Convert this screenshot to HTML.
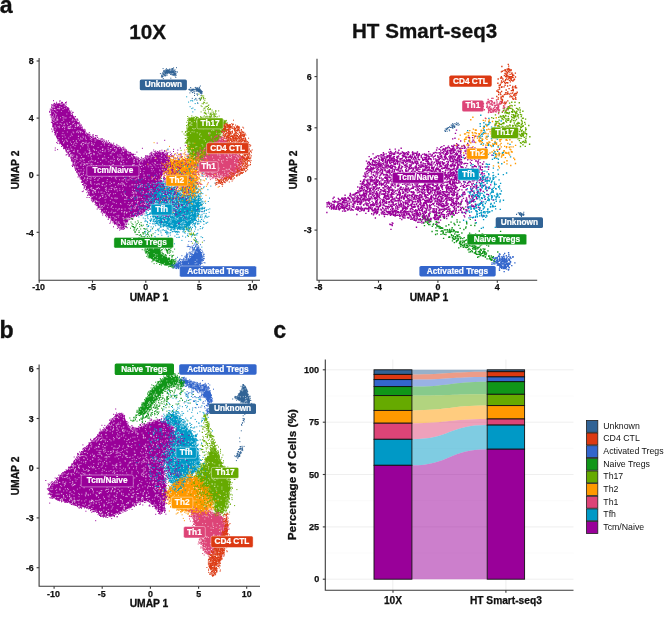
<!DOCTYPE html>
<html><head><meta charset="utf-8"><title>UMAP figure</title>
<style>html,body{margin:0;padding:0;background:#fff}svg{display:block;font-family:"Liberation Sans",sans-serif}</style>
</head><body>
<svg width="669" height="621" viewBox="0 0 669 621" shape-rendering="auto">
<rect width="669" height="621" fill="#fff"/>
<g id="panelA1"><polygon points="51.2,110.5 51.2,109.8 51.4,109.0 51.7,108.2 52.0,107.4 52.3,106.6 52.9,105.8 53.5,105.2 54.4,104.6 55.3,104.1 56.4,103.7 57.5,103.4 58.6,103.2 59.8,103.1 60.9,103.1 62.0,103.3 63.1,103.6 64.0,104.1 65.0,104.7 66.0,105.6 66.9,106.6 67.9,107.9 68.8,109.1 69.8,110.5 70.8,111.9 71.7,113.3 72.7,114.8 73.7,116.2 74.7,117.7 75.6,119.1 76.6,120.5 77.6,121.8 78.5,123.1 79.5,124.3 80.5,125.6 81.6,126.9 82.7,128.3 83.9,129.7 85.2,131.1 86.5,132.4 87.9,133.7 89.3,134.9 90.8,136.0 92.4,136.9 94.1,137.8 95.7,138.5 97.4,139.2 99.0,139.8 100.5,140.3 101.9,140.8 103.4,141.3 104.8,141.8 106.3,142.2 107.7,142.8 109.6,143.4 111.9,144.3 114.7,145.4 117.9,146.7 120.9,148.0 123.8,149.3 126.4,150.7 128.8,152.2 131.1,153.7 133.3,155.2 135.3,156.8 137.2,158.5 139.0,159.6 140.5,160.4 141.9,160.6 143.0,160.4 144.2,160.0 145.4,159.3 146.7,158.4 147.9,157.2 149.5,156.2 151.3,155.2 153.4,154.3 155.8,153.6 158.1,153.0 160.1,152.7 161.9,152.6 163.6,152.7 165.0,153.0 166.4,153.7 167.5,154.7 168.5,155.9 169.1,157.3 169.4,158.9 169.5,160.6 169.2,162.4 168.6,164.3 167.8,166.2 166.7,168.1 165.4,170.0 164.1,172.0 162.9,174.0 161.9,176.1 160.9,178.2 160.1,180.4 159.3,182.7 158.7,185.0 158.3,187.4 157.7,189.9 157.1,192.3 156.4,194.7 155.6,197.1 154.8,199.3 153.9,201.2 153.0,202.9 152.0,204.3 151.0,205.7 149.8,207.1 148.6,208.4 147.2,209.7 145.9,210.8 144.6,211.9 143.3,212.9 142.0,213.7 140.7,214.5 139.2,215.1 137.7,215.6 136.0,216.0 134.5,216.4 133.0,216.8 131.7,217.3 130.4,217.8 129.3,218.5 128.4,219.4 127.5,220.5 126.9,221.9 126.2,223.2 125.7,224.6 125.1,225.9 124.6,227.3 124.0,228.3 123.3,228.8 122.5,229.0 121.5,228.8 120.3,228.3 119.0,227.4 117.4,226.1 115.7,224.4 113.9,222.7 112.1,220.9 110.2,219.1 108.3,217.1 106.2,215.1 104.0,212.9 101.7,210.6 99.3,208.2 97.0,205.7 94.9,203.0 92.8,200.2 90.9,197.3 89.1,194.4 87.4,191.5 85.8,188.6 84.3,185.7 82.5,182.1 80.3,177.7 77.7,172.6 74.8,166.8 72.3,162.0 70.5,158.4 69.2,155.8 68.5,154.4 67.6,152.9 66.7,151.5 65.6,150.0 64.4,148.6 63.2,147.1 62.0,145.7 60.8,144.2 59.5,142.8 58.4,141.3 57.5,139.7 56.6,138.0 55.9,136.3 55.2,134.7 54.6,133.0 54.1,131.3 53.6,129.6 53.2,127.9 52.7,126.1 52.3,124.2 52.0,122.2 51.7,120.3 51.4,118.3 51.2,116.4 51.2,114.5 51.1,112.9 51.1,111.5" fill="#990099"/>
<polygon points="158.9,186.5 160.3,185.3 161.6,184.5 162.9,184.2 164.2,184.4 165.4,185.0 166.7,185.6 168.1,186.2 169.6,186.8 171.2,187.4 172.8,188.2 174.3,189.1 175.8,190.1 177.2,191.3 178.7,192.4 180.3,193.3 182.0,194.0 183.8,194.6 185.7,195.1 187.6,195.3 189.5,195.3 191.6,195.1 193.4,195.0 195.0,195.1 196.4,195.4 197.6,195.8 198.6,196.5 199.4,197.5 199.9,198.8 200.2,200.4 200.4,202.2 200.4,204.2 200.2,206.4 199.9,208.8 199.4,211.2 198.7,213.4 197.9,215.5 196.9,217.5 195.7,219.4 194.4,221.1 193.0,222.6 191.4,224.0 189.6,225.3 187.7,226.4 185.6,227.4 183.4,228.2 181.1,228.7 178.8,229.0 176.5,229.1 174.0,228.9 171.7,228.5 169.4,228.0 167.1,227.4 164.9,226.6 162.8,225.5 160.9,224.3 159.2,222.9 157.5,221.3 156.1,219.5 154.9,217.5 153.9,215.3 153.1,212.9 152.5,210.2 152.2,207.4 152.1,204.4 152.2,201.2 152.6,198.3 153.2,195.7 154.0,193.3 155.1,191.3 156.3,189.5 157.5,187.9" fill="#0099C6"/>
<polygon points="171.7,161.3 173.1,160.5 174.7,160.0 176.4,159.7 178.3,159.6 180.3,159.8 182.2,159.8 184.0,159.6 185.7,159.2 187.3,158.6 188.9,158.2 190.6,158.0 192.2,158.0 193.8,158.2 195.1,158.7 196.2,159.5 196.9,160.6 197.4,162.0 197.7,163.6 197.8,165.3 197.7,167.2 197.4,169.2 197.2,171.2 196.9,173.2 196.7,175.2 196.5,177.2 196.4,179.3 196.4,181.3 196.5,183.3 196.7,185.3 196.7,187.2 196.5,188.9 196.1,190.4 195.5,191.8 194.6,192.9 193.5,193.7 192.2,194.2 190.6,194.4 188.9,194.4 187.3,194.1 185.7,193.5 184.1,192.7 182.6,191.8 181.2,190.8 179.9,189.7 178.7,188.5 177.5,187.2 176.3,185.8 175.1,184.3 173.8,182.7 172.6,181.2 171.4,179.8 170.2,178.4 169.0,177.2 168.1,175.9 167.4,174.5 166.9,173.0 166.7,171.4 166.8,169.8 167.1,168.2 167.6,166.6 168.4,165.0 169.4,163.6 170.5,162.3" fill="#FF9900"/>
<polygon points="198.8,157.1 199.2,155.9 199.9,154.7 200.8,153.6 201.9,152.5 203.1,151.5 204.4,150.3 205.8,148.9 207.2,147.4 208.8,145.6 210.1,143.9 211.4,142.3 212.5,140.8 213.5,139.2 214.6,138.0 215.9,137.0 217.2,136.2 218.8,135.8 220.1,135.7 221.2,136.1 222.1,136.9 222.9,138.1 223.7,139.4 224.6,140.8 225.5,142.2 226.5,143.8 227.8,145.3 229.4,147.0 231.4,148.8 233.6,150.7 235.5,152.4 237.1,153.9 238.3,155.2 239.2,156.3 239.9,157.5 240.4,158.8 240.7,160.2 240.8,161.8 240.8,163.2 240.7,164.6 240.4,165.9 240.1,167.1 239.5,168.3 238.8,169.4 237.8,170.5 236.7,171.5 235.4,172.5 234.0,173.4 232.4,174.3 230.6,175.2 228.8,175.9 226.9,176.6 225.0,177.1 223.0,177.4 220.9,177.6 218.6,177.5 216.2,177.2 213.8,176.8 211.4,176.1 209.1,175.4 207.0,174.5 205.0,173.5 203.2,172.4 201.8,171.3 200.5,170.1 199.5,168.9 198.8,167.4 198.2,165.8 198.0,164.0 198.0,162.0 198.1,160.2 198.4,158.6" fill="#DD4477"/>
<polygon points="188.9,118.8 189.6,118.2 191.8,118.0 195.2,118.0 203.9,118.1 217.6,118.4 224.8,119.9 225.2,122.6 225.1,125.4 224.4,128.1 223.2,130.6 221.8,132.9 220.0,135.5 218.0,138.5 215.5,141.5 212.5,144.5 209.5,147.8 206.5,151.2 203.5,154.5 200.5,157.5 198.0,159.5 196.0,160.5 194.0,160.0 192.0,158.0 190.1,154.8 188.4,150.2 187.2,145.5 186.8,140.5 186.8,135.5 187.2,130.5 187.8,125.8 188.2,121.2" fill="#66AA00"/>
<polygon points="161.2,75.1 162.0,73.1 163.2,71.3 164.8,69.7 166.6,69.1 168.7,69.5 170.7,69.5 172.7,69.1 174.2,69.7 175.3,71.3 175.9,73.3 176.0,75.7 175.5,76.7 174.3,76.3 173.1,75.5 171.9,74.3 170.5,73.7 168.9,73.7 167.2,74.3 165.6,75.5 164.1,76.4 162.7,77.1 161.7,77.1 161.1,76.4" fill="#316395"/>
<polygon points="189.4,88.7 191.8,88.7 194.2,88.4 196.6,87.9 198.8,88.2 200.6,89.3 201.8,90.6 202.4,92.2 202.5,93.5 202.1,94.6 201.3,94.6 200.1,93.5 198.6,92.6 197.0,91.8 195.2,91.3 193.2,91.0 191.3,90.8 189.5,90.4 188.5,89.9 188.3,89.1" fill="#316395"/>
<polygon points="150.5,247.1 154.6,247.1 157.6,247.4 159.5,247.9 160.3,248.7 160.0,249.7 159.9,250.7 160.1,251.7 160.6,252.6 161.4,253.4 162.2,254.2 163.0,255.0 163.9,255.7 164.9,256.4 165.9,257.1 166.9,257.8 168.0,258.4 169.2,259.0 170.3,259.6 171.4,260.1 172.4,260.6 173.5,261.1 174.2,261.8 174.5,262.6 174.5,263.6 174.1,264.8 173.4,265.7 172.4,266.1 171.2,266.3 169.6,266.0 168.1,265.7 166.6,265.4 165.0,265.0 163.6,264.5 162.1,264.1 160.6,263.5 159.1,263.0 157.6,262.4 156.1,261.7 154.8,261.1 153.4,260.4 152.2,259.6 151.0,258.8 149.9,257.9 149.0,256.9 148.1,255.8 147.3,254.7 146.6,253.6 146.0,252.4 145.5,251.3 145.1,250.2 144.8,249.4 144.6,248.6 144.5,248.0 145.4,247.6 147.4,247.3" fill="#109618"/>
<polygon points="174.5,264.5 175.9,263.9 177.4,263.3 179.0,262.8 180.7,262.2 182.5,261.7 184.3,261.1 185.9,260.3 187.5,259.5 189.0,258.6 190.3,257.7 191.5,256.6 192.5,255.5 193.4,254.3 194.3,253.0 195.0,251.7 195.7,250.3 196.3,248.8 196.9,247.8 197.5,247.3 198.1,247.4 198.7,248.0 199.3,248.8 200.0,249.9 200.7,251.2 201.4,252.7 202.0,254.1 202.5,255.4 202.8,256.7 203.0,257.9 203.1,259.0 203.0,260.1 202.8,261.0 202.5,261.9 202.1,262.8 201.6,263.7 201.1,264.6 200.5,265.5 199.7,266.3 198.8,267.0 197.8,267.5 196.6,268.0 194.8,268.3 192.4,268.5 189.4,268.6 185.8,268.6 182.8,268.6 180.2,268.4 178.2,268.1 176.7,267.7 175.4,267.3 174.4,266.9 173.7,266.5 173.1,266.0 173.1,265.6 173.5,265.1" fill="#3366CC"/>
<path d="M160.8 155.6h1M110.4 148.5h1M109.4 176.4h1M77.4 150.4h1M62.5 109.4h1M150.3 155.7h1M60.0 117.7h1M127.1 156.9h1M69.2 126.4h1M121.4 211.7h1M148.7 166.1h1M94.3 200.2h1M56.0 119.1h1M141.9 186.3h1M70.1 142.1h1M68.2 138.1h1M88.6 150.4h1M112.8 164.6h1M142.6 203.8h1M120.0 224.9h1M117.2 158.9h1M71.4 149.3h1M144.2 187.3h1M108.3 151.2h1M125.3 179.0h1M89.7 176.2h1M102.3 148.8h1M63.0 147.3h1M99.6 207.8h1M88.8 193.1h1M133.7 184.9h1M60.7 103.7h1M104.0 142.6h1M55.2 115.8h1M128.7 152.9h1M104.1 171.3h1M142.7 192.0h1M93.6 195.4h1M59.3 106.5h1M55.3 110.0h1M101.5 175.1h1M156.8 160.3h1M85.6 163.8h1M102.4 196.1h1M137.1 186.6h1M114.9 178.1h1M83.6 170.0h1M155.9 188.9h1M148.7 157.1h1M149.2 191.1h1M94.3 139.1h1M90.6 197.5h1M62.1 137.4h1M100.7 145.6h1M85.3 143.5h1M86.5 179.0h1M100.0 197.3h1M68.2 148.9h1M69.4 128.1h1M120.3 184.0h1M87.3 149.1h1M102.1 185.6h1M121.0 163.4h1M124.4 150.2h1M54.1 131.8h1M62.0 140.3h1M109.6 150.2h1M79.2 131.1h1M140.1 172.2h1M91.7 163.9h1M131.1 203.0h1M74.5 146.6h1M92.3 160.7h1M134.7 179.8h1M127.5 204.6h1M132.7 177.1h1M89.9 188.3h1M92.1 192.6h1M92.2 196.6h1M63.6 134.9h1M132.0 202.4h1M133.3 174.2h1M91.2 196.3h1M70.1 128.2h1M63.2 142.4h1M86.9 190.6h1M139.3 187.0h1M81.0 175.4h1M94.3 180.5h1M53.4 120.4h1M77.2 125.3h1M93.5 154.6h1M155.1 163.2h1M154.4 183.6h1M125.2 172.3h1M89.6 168.9h1M76.5 156.6h1M77.3 125.0h1M152.7 154.7h1M113.9 212.8h1M123.4 171.3h1M151.8 163.1h1M164.2 164.0h1M83.6 161.6h1M105.6 160.0h1M158.5 183.0h1M102.7 158.2h1M82.1 142.4h1M146.7 158.3h1M121.9 159.0h1M123.2 219.7h1M107.2 170.3h1M153.1 155.5h1M151.5 179.4h1M110.3 162.9h1M140.0 172.5h1M57.0 120.0h1M115.4 208.7h1M148.3 198.5h1M143.5 170.5h1M145.0 203.5h1M95.9 196.8h1M77.4 130.9h1M133.2 192.4h1M133.8 164.7h1M113.8 152.5h1M124.8 195.6h1M160.7 161.1h1M91.1 189.1h1M83.6 163.5h1M134.9 168.6h1M118.3 215.4h1M66.2 148.9h1M96.6 176.1h1M161.7 169.3h1M57.6 139.6h1M73.8 151.7h1M87.8 135.8h1M104.5 151.7h1M120.5 156.0h1M120.8 158.9h1M93.4 189.9h1M132.9 208.0h1M71.0 143.6h1M69.0 153.4h1M74.9 126.4h1M97.8 152.2h1M58.8 127.6h1M125.6 223.3h1M109.1 145.1h1M117.0 146.9h1M112.4 167.3h1M114.5 218.3h1M106.8 193.8h1M120.6 204.2h1M132.8 165.0h1M122.0 186.1h1M102.5 182.7h1M152.9 183.5h1M100.1 161.5h1M128.1 218.1h1M72.1 156.1h1M129.3 186.1h1M104.4 185.8h1M149.8 184.3h1M88.5 153.2h1M147.7 193.7h1M162.3 166.8h1M110.3 218.8h1M71.5 158.2h1M79.2 173.1h1M77.5 162.7h1M134.6 208.1h1M51.5 121.5h1M145.3 210.7h1M123.0 179.8h1M59.3 108.0h1M58.6 141.2h1M66.9 132.0h1M141.9 184.6h1M61.6 121.5h1M87.7 147.0h1M73.7 122.3h1M65.6 139.7h1M70.7 149.0h1M124.4 202.2h1M131.3 196.9h1M83.6 158.6h1M53.3 107.2h1M131.9 189.1h1M123.6 218.8h1M51.5 108.1h1M116.3 176.7h1M60.9 111.4h1M70.9 134.1h1M78.0 172.8h1M91.0 138.5h1M124.5 222.9h1M109.8 154.8h1M138.9 163.1h1M111.1 206.3h1M87.2 177.8h1M59.7 123.4h1M62.5 132.4h1M152.4 156.4h1M131.0 198.5h1M119.0 179.7h1M111.3 152.9h1M74.4 128.4h1M108.3 161.8h1M91.5 144.9h1M93.3 176.9h1M108.0 170.0h1M105.9 184.7h1M117.9 217.0h1M119.6 154.7h1M87.1 163.9h1M134.4 206.3h1M84.9 137.1h1M52.1 106.9h1M123.8 215.0h1M69.7 157.8h1M104.5 198.4h1M128.5 179.9h1M159.1 170.1h1M95.9 150.4h1M86.0 185.3h1M133.4 193.9h1M140.2 165.5h1M144.5 208.8h1M100.4 153.9h1M82.1 132.4h1M80.0 148.0h1M70.5 113.0h1M162.1 172.8h1M121.6 226.6h1M70.7 114.0h1M151.4 188.8h1M55.8 135.0h1M80.9 143.4h1M116.8 191.0h1M89.5 152.1h1M94.0 150.4h1M102.4 149.2h1M130.6 207.5h1M131.6 184.4h1M144.9 165.7h1M167.1 164.0h1M140.3 185.9h1M134.0 159.6h1M107.7 149.4h1M164.1 163.1h1M158.5 182.8h1M131.8 204.1h1M88.3 169.7h1M141.9 162.1h1M93.6 201.6h1M147.7 163.6h1M56.8 132.3h1M91.5 143.9h1M122.5 217.7h1M125.2 181.0h1M161.5 155.0h1M62.6 118.9h1M148.6 174.8h1M139.9 186.0h1M114.8 170.7h1M135.7 193.6h1M94.7 191.1h1M69.0 128.6h1M108.1 212.3h1M118.2 175.0h1M125.9 218.1h1M152.2 178.2h1M90.4 182.3h1M162.0 173.4h1M141.8 199.5h1M141.5 164.9h1M97.3 175.3h1M114.3 189.1h1M103.7 192.8h1M131.6 185.1h1M155.1 158.4h1M61.7 134.7h1M162.3 174.1h1M156.1 177.4h1M126.1 213.1h1M88.5 176.5h1M139.8 209.9h1M115.0 167.6h1M137.9 177.0h1M131.5 177.4h1M75.7 163.9h1M102.0 142.7h1M156.2 154.5h1M124.6 209.0h1M129.7 178.4h1M62.2 116.6h1M130.1 214.7h1M74.4 165.2h1M114.2 198.2h1M83.5 153.9h1M84.2 177.7h1M77.1 124.4h1M158.5 180.4h1M57.7 126.6h1M101.2 208.2h1M80.5 139.0h1M91.0 165.8h1M121.5 157.0h1M96.3 201.4h1M160.8 153.1h1M77.3 152.0h1M121.6 170.5h1M82.5 136.2h1M129.0 176.7h1M133.9 212.5h1M101.9 149.5h1M62.9 126.3h1M165.2 154.3h1M91.3 144.7h1M92.2 137.9h1M73.2 132.8h1M80.0 131.4h1M113.5 183.0h1M79.5 176.9h1M90.9 187.9h1M85.2 138.3h1M97.6 179.3h1M101.8 151.5h1M120.9 152.1h1M113.1 145.9h1M58.5 137.5h1M129.1 205.5h1M109.5 184.6h1M116.5 215.7h1M145.4 204.2h1M67.7 128.5h1M76.5 131.7h1M142.5 193.6h1M90.6 154.8h1M113.7 202.6h1M110.7 189.4h1M117.9 222.2h1M73.9 162.4h1M111.7 198.2h1M120.0 163.0h1M131.7 193.3h1M121.9 150.0h1M139.4 197.0h1M88.8 148.9h1M71.6 154.3h1M113.6 182.6h1M84.4 143.2h1M84.9 187.7h1M150.5 165.4h1M143.6 200.1h1M123.2 221.9h1M110.3 160.3h1M96.5 188.3h1M159.5 179.7h1M136.9 203.0h1M104.4 158.3h1M110.8 189.3h1M54.1 107.1h1M119.0 159.7h1M86.1 154.4h1M147.6 166.0h1M167.4 156.8h1M117.6 223.3h1M116.3 188.9h1M105.8 197.8h1M57.2 108.5h1M68.2 111.1h1M155.5 167.1h1M80.1 138.0h1M135.9 178.9h1M114.9 177.2h1M93.0 145.4h1M76.3 132.2h1M148.1 202.3h1M90.6 154.6h1M66.3 114.0h1M135.5 205.9h1M97.4 180.5h1M145.7 193.3h1M94.6 141.1h1M134.9 201.6h1M127.4 180.1h1M160.4 166.9h1M111.3 211.2h1M111.1 177.2h1M153.2 186.0h1M135.7 192.5h1M63.5 124.4h1M111.7 187.4h1M140.4 161.1h1M109.0 196.0h1M104.7 150.2h1M84.7 164.9h1M70.3 125.5h1M138.5 197.2h1M137.6 205.2h1M61.2 107.6h1M150.1 190.2h1M91.0 175.5h1M116.2 221.2h1M113.6 220.0h1M66.4 140.6h1M117.5 158.3h1M73.3 155.2h1M156.6 164.5h1M132.0 165.6h1M97.9 158.3h1M96.6 201.6h1M111.0 183.5h1M99.5 208.5h1M102.9 182.7h1M72.1 119.2h1M138.1 178.3h1M150.7 159.7h1M128.3 153.9h1M70.6 156.5h1M80.5 144.5h1M145.9 205.1h1M149.1 200.5h1M89.2 150.3h1M142.6 172.8h1M122.8 217.8h1M112.6 221.8h1M154.3 172.0h1M116.1 150.1h1M136.6 160.2h1M72.6 145.5h1M115.9 203.4h1M118.7 226.5h1M120.4 227.2h1M93.1 153.3h1M123.6 184.6h1M67.8 126.7h1M104.8 201.1h1M150.8 167.3h1M139.0 211.1h1M131.2 155.5h1M86.8 180.6h1M123.9 169.7h1M64.7 105.9h1M115.2 151.0h1M79.2 140.2h1M122.5 150.1h1M114.6 148.8h1M95.4 139.9h1M105.9 210.8h1M67.0 150.5h1M107.1 207.6h1M91.1 160.0h1M137.4 166.3h1M118.9 148.3h1M115.4 197.9h1M110.7 187.4h1M85.1 133.3h1M130.0 171.2h1M135.7 214.4h1M102.3 159.2h1M102.0 208.0h1M112.3 147.0h1M130.4 208.9h1M108.9 194.7h1M73.0 123.5h1M165.1 158.5h1M70.2 126.0h1M165.2 161.4h1M55.2 113.8h1M152.2 192.7h1M136.9 160.8h1M90.3 152.4h1M122.3 183.1h1M114.4 217.3h1M71.0 155.1h1M74.2 158.4h1M157.3 186.9h1M154.4 162.5h1M154.2 176.7h1M67.1 145.8h1M122.8 154.2h1M95.5 200.7h1M101.5 177.3h1M57.4 119.9h1M164.0 153.1h1M104.9 213.2h1M76.6 142.6h1M118.5 156.2h1M136.2 166.2h1M127.4 219.7h1M64.1 127.6h1M103.3 206.5h1M156.2 182.8h1M137.0 201.4h1M139.7 212.4h1M79.8 159.1h1M154.3 156.5h1M118.1 160.6h1M63.2 120.3h1M154.3 165.9h1M51.9 119.0h1M134.3 208.8h1M143.0 166.6h1M88.1 191.2h1M82.2 146.0h1M128.1 158.5h1M84.2 178.4h1M126.2 161.8h1M93.9 166.8h1M140.0 170.2h1M160.8 160.8h1M137.4 178.1h1M125.9 212.6h1M89.7 160.8h1M132.3 165.2h1M111.9 168.0h1M81.0 156.4h1M144.1 204.5h1M134.9 207.7h1M119.9 226.4h1M53.2 122.5h1M163.9 157.2h1M125.2 199.3h1M84.2 184.3h1M104.1 155.8h1M133.3 213.5h1M69.2 152.6h1M108.7 189.3h1M133.4 195.7h1M122.7 189.0h1M56.9 117.2h1M151.8 197.4h1M88.0 189.4h1M87.4 145.7h1M133.1 193.0h1M149.6 204.4h1M99.1 188.7h1M98.4 201.9h1M149.6 199.7h1M84.6 186.2h1M167.7 158.7h1M148.9 192.2h1M78.2 136.0h1M85.0 188.1h1M124.0 185.5h1M157.6 167.4h1M118.0 183.5h1M54.7 121.4h1M126.0 196.9h1M85.3 132.5h1M166.0 164.7h1M114.1 148.4h1M77.3 167.6h1M128.5 208.3h1M126.6 212.3h1M75.5 158.6h1M158.2 179.1h1M115.8 218.5h1M121.7 184.2h1M87.3 167.9h1M134.0 189.4h1M127.4 153.5h1M122.5 151.2h1M98.9 153.8h1M154.2 158.5h1M103.7 210.8h1M52.8 117.1h1M98.2 183.8h1M148.9 186.4h1M136.8 198.9h1M101.4 192.0h1M168.1 158.0h1M118.5 209.3h1M123.1 151.1h1M80.3 172.2h1M132.3 157.8h1M76.5 159.4h1M153.3 156.4h1M91.2 140.1h1M167.1 162.0h1M166.0 161.6h1M91.1 142.7h1M82.9 137.2h1M142.9 178.1h1M75.0 166.8h1M106.1 191.3h1M96.8 155.0h1M102.4 194.7h1M124.6 223.9h1M116.5 224.8h1M127.3 218.6h1M97.3 162.6h1M121.5 209.2h1M90.4 164.2h1M96.8 184.0h1M74.6 124.7h1M113.2 175.5h1M95.1 192.4h1M56.6 132.4h1M133.2 214.1h1M63.9 141.2h1M108.1 145.4h1M141.7 207.9h1M83.0 144.6h1M88.2 143.8h1M163.5 153.1h1M93.8 201.7h1M167.6 156.0h1M126.3 182.4h1M93.1 169.5h1M153.5 164.7h1M108.5 167.2h1M151.3 190.8h1M95.7 188.9h1M54.7 129.8h1M79.4 126.8h1M61.1 124.1h1M113.9 172.0h1M131.3 179.3h1M123.8 225.9h1M111.5 165.3h1M56.6 111.6h1M72.6 132.0h1M136.9 184.8h1M125.6 219.2h1M150.9 198.3h1M72.6 159.8h1M81.9 158.6h1M114.0 146.2h1M142.4 212.0h1M140.4 214.3h1M129.4 157.4h1M113.4 161.8h1M120.8 194.1h1M126.3 199.1h1M155.8 180.2h1M82.6 182.6h1M98.0 192.1h1M52.4 106.7h1M99.6 208.9h1M94.9 160.8h1M104.0 145.0h1M152.0 167.3h1M142.2 161.7h1M81.2 144.8h1M69.8 136.3h1M132.5 164.9h1M129.8 204.6h1M78.6 174.0h1M69.8 155.2h1M107.9 157.5h1M53.7 118.5h1M85.9 134.1h1M87.5 172.7h1M129.7 216.3h1M121.1 160.2h1M72.9 151.5h1M55.8 120.9h1M74.2 142.8h1M65.6 117.9h1M150.9 169.3h1M98.9 178.4h1M113.9 160.7h1M73.2 144.0h1M77.1 151.0h1M113.9 175.2h1M112.5 171.4h1M140.3 191.9h1M123.8 212.9h1M92.8 189.5h1M136.9 202.2h1M129.5 167.2h1M94.2 183.9h1M80.7 159.9h1M93.9 178.4h1M151.5 171.1h1M100.6 206.4h1M89.0 152.1h1M122.2 228.3h1M80.3 165.0h1M103.2 141.8h1M90.9 157.8h1M147.1 203.3h1M103.7 143.6h1M162.8 166.9h1M74.9 126.1h1M94.6 161.5h1M110.9 197.8h1M109.8 193.6h1M64.5 118.0h1M99.5 197.2h1M92.5 189.6h1M130.8 167.9h1M105.8 187.7h1M54.6 125.8h1M131.2 173.7h1M63.1 143.0h1M89.9 137.6h1M64.7 136.9h1M115.3 221.7h1M142.9 191.7h1M122.1 195.9h1M80.6 169.7h1M121.1 211.9h1M134.7 192.0h1M114.2 189.8h1M54.6 126.9h1M136.4 196.1h1M102.1 164.3h1M112.8 151.8h1M124.3 211.5h1M81.8 139.0h1M75.5 167.3h1M100.4 168.8h1M78.7 153.4h1M104.7 142.0h1M120.5 164.1h1M123.4 163.9h1M123.1 151.4h1M82.9 172.1h1M71.7 120.7h1M106.0 189.0h1M150.3 198.8h1M64.0 124.0h1M161.0 156.2h1M105.2 195.9h1M104.2 165.7h1M153.4 177.5h1M96.0 165.5h1M114.9 186.4h1M123.6 166.1h1M146.9 174.9h1M163.8 157.6h1M150.9 156.6h1M131.9 156.6h1M90.4 179.2h1M149.6 164.6h1M161.3 158.6h1M155.1 157.9h1M165.7 166.5h1M117.5 184.8h1M86.4 163.7h1M109.7 182.1h1M159.1 173.8h1M148.2 161.2h1M55.7 105.1h1M108.1 191.3h1M70.2 146.9h1M138.0 215.1h1M55.6 114.5h1M80.1 132.7h1M148.1 167.2h1M129.5 209.0h1M86.3 153.4h1M141.1 167.5h1M103.9 205.1h1M143.5 174.8h1M146.5 200.8h1M150.4 188.8h1M123.4 158.8h1M119.2 188.8h1M118.7 208.5h1M73.8 165.0h1M137.9 208.1h1M69.8 152.7h1M52.5 111.6h1M164.1 171.1h1M121.3 182.7h1M138.7 165.0h1M72.5 119.9h1M89.8 139.3h1M111.7 160.3h1M145.1 160.0h1M167.8 157.6h1M123.2 183.8h1M148.5 179.9h1M76.8 166.7h1M84.7 186.6h1M118.4 222.0h1M76.2 156.0h1M66.4 123.1h1M143.6 175.7h1M134.3 177.0h1M126.6 196.7h1M154.3 163.0h1M144.6 177.4h1M100.4 192.1h1M101.4 185.1h1M121.7 179.9h1M86.8 166.6h1M146.1 193.2h1M139.5 161.8h1M99.2 205.0h1M124.0 199.3h1M87.2 178.5h1M71.7 128.3h1M98.9 184.1h1M79.8 154.2h1M101.1 140.7h1M110.7 154.8h1M85.6 142.2h1M66.9 145.9h1M118.5 226.7h1M133.3 160.1h1M144.4 202.0h1M149.8 204.3h1M67.0 150.9h1M97.9 187.6h1M101.6 205.5h1M79.9 176.4h1M117.2 155.1h1M125.6 185.9h1M84.7 152.1h1M78.1 125.1h1M78.3 169.6h1M163.8 156.4h1M63.7 106.1h1M99.0 204.1h1M114.8 193.5h1M123.6 193.1h1M69.8 156.3h1M75.4 144.6h1M133.3 162.3h1M127.4 218.9h1M89.3 135.9h1M54.8 117.1h1M54.0 112.9h1M82.2 175.8h1M105.6 204.0h1M64.2 108.6h1M123.8 212.4h1M141.7 210.7h1M107.6 147.8h1M104.9 188.5h1M108.2 195.2h1M162.4 169.3h1M127.4 218.1h1M130.8 170.7h1M53.0 115.1h1M138.3 175.5h1M81.4 128.4h1M78.7 174.2h1M90.7 177.8h1M85.7 139.5h1M82.8 159.8h1M138.9 164.7h1M69.1 122.4h1M119.4 190.5h1M140.9 184.8h1M117.1 159.4h1M137.7 201.5h1M147.5 157.6h1M113.0 156.9h1M80.4 126.2h1M122.8 176.6h1M94.0 171.4h1M55.9 133.9h1M112.5 201.9h1M74.3 120.3h1M132.0 172.2h1M83.0 165.3h1M78.0 125.7h1M70.4 155.2h1M140.4 204.7h1M90.1 155.9h1M120.0 203.6h1M77.8 138.8h1M117.4 225.9h1M139.3 183.7h1M116.0 149.1h1M76.4 157.6h1M137.3 162.0h1M68.3 150.6h1M124.4 171.2h1M132.2 197.4h1M139.9 165.2h1M61.4 104.4h1M129.8 153.4h1M88.2 161.6h1M92.4 191.7h1M95.2 172.7h1M109.8 216.6h1M79.4 161.4h1M113.7 158.4h1M52.8 127.9h1M104.4 168.7h1M88.5 163.2h1M77.9 136.5h1M150.9 157.9h1M88.6 191.4h1M74.6 161.9h1M151.3 191.1h1M68.7 153.3h1M124.0 222.1h1M133.0 196.1h1M135.6 212.5h1M82.8 167.7h1M71.5 161.3h1M116.9 198.3h1M164.2 169.4h1M132.6 173.2h1M68.3 128.6h1M96.2 204.8h1M140.9 197.5h1M106.7 173.6h1M110.0 171.7h1M87.8 156.0h1M118.9 223.4h1M106.9 179.5h1M91.8 171.7h1M52.3 109.7h1M112.5 164.4h1M155.7 183.9h1M59.0 108.8h1M133.9 161.9h1M70.0 155.0h1M95.3 166.0h1M66.5 151.4h1M115.7 170.4h1M90.8 163.3h1M68.5 150.2h1M80.5 164.9h1M124.2 178.5h1M155.7 182.9h1M163.4 172.3h1M136.7 158.6h1M110.1 218.0h1M114.9 166.5h1M97.6 147.5h1M72.1 123.9h1M97.1 188.5h1M113.5 188.2h1M94.7 190.7h1M108.6 176.2h1M93.7 149.6h1M58.2 108.7h1M70.3 117.0h1M99.3 205.9h1M153.0 193.0h1M53.4 119.6h1M133.4 161.2h1M92.9 149.1h1M125.3 224.1h1M80.6 131.7h1M132.1 191.5h1M56.7 123.4h1M63.3 117.0h1M83.9 164.5h1M156.2 182.7h1M87.3 189.2h1M162.6 163.8h1M121.1 209.2h1M105.1 190.2h1M124.1 194.8h1M72.3 156.7h1M110.7 207.3h1M156.0 173.8h1M59.1 126.2h1M134.6 184.6h1M148.7 186.5h1M85.5 181.9h1M148.4 198.1h1M98.7 198.3h1M115.2 212.3h1M83.1 142.6h1M69.5 117.3h1M91.3 187.8h1M93.8 190.7h1M52.0 116.9h1M76.9 126.3h1M137.0 197.3h1M115.6 198.8h1M116.3 223.0h1M149.1 189.0h1M135.3 157.7h1M151.6 183.0h1M111.9 205.6h1M128.2 202.5h1M99.8 150.8h1M76.7 126.0h1M71.0 114.5h1M145.7 184.8h1M92.7 193.0h1M109.9 200.4h1M93.8 153.7h1M85.3 175.1h1M110.2 148.5h1M160.0 164.8h1M146.1 208.2h1M122.8 161.6h1M117.2 210.1h1M81.4 163.1h1M83.2 158.6h1M73.8 150.1h1M73.3 163.6h1M83.0 174.4h1M73.7 163.4h1M150.1 158.2h1M158.7 164.3h1M67.7 127.3h1M102.2 183.0h1M86.8 143.9h1M131.3 156.4h1M95.0 177.7h1M59.6 103.7h1M128.8 211.7h1M67.1 124.3h1M75.8 140.6h1M106.6 143.2h1M68.0 151.1h1M102.0 196.6h1M119.4 184.1h1M134.4 171.9h1M126.9 152.7h1M71.6 135.6h1M153.6 154.3h1M107.8 204.9h1M88.7 142.7h1M112.6 216.6h1M84.6 184.6h1M145.2 202.8h1M141.1 204.1h1M112.6 208.5h1M66.1 108.0h1M125.0 219.3h1M110.6 212.5h1M113.0 212.9h1M91.1 184.0h1M93.1 165.9h1M78.2 125.1h1M90.2 181.6h1M62.0 127.5h1M51.4 117.0h1M119.1 227.4h1M101.4 194.6h1M89.4 178.8h1M115.8 179.1h1M102.3 151.4h1M55.6 127.9h1M82.7 172.7h1M60.3 104.3h1M101.9 158.5h1M64.1 129.3h1M54.4 109.5h1M78.0 132.7h1M113.0 193.9h1M166.4 159.2h1M119.3 173.2h1M156.9 174.9h1M158.4 154.2h1M112.0 151.8h1M66.8 141.4h1M57.0 119.0h1M54.0 109.4h1M74.6 160.3h1M93.9 143.8h1M124.8 173.4h1M90.0 183.2h1M145.4 202.0h1M154.5 185.9h1M135.8 205.7h1M166.1 165.0h1M72.8 140.5h1M96.2 184.6h1M106.3 215.3h1M115.7 188.6h1M101.5 205.6h1M94.7 190.7h1M159.7 170.9h1M159.5 157.8h1M144.9 179.3h1M83.3 179.7h1M106.5 181.3h1M122.1 190.5h1M144.3 204.5h1M88.7 153.5h1M151.7 178.1h1M95.9 201.1h1M64.4 126.3h1M113.7 173.8h1M147.7 182.6h1M131.0 175.5h1M51.1 118.1h1M109.0 165.7h1M163.1 172.7h1M130.1 197.8h1M124.8 195.4h1M75.8 141.7h1M152.8 169.7h1" stroke="#fff" stroke-width="1" stroke-opacity="0.62" fill="none"/>
<path d="M152.7 202.3h1M157.8 187.2h1M155.3 191.3h1M152.5 198.5h1M154.6 197.8h1M155.8 192.1h1M153.9 200.1h1M155.5 192.4h1M155.7 191.1h1M156.4 191.1h1M154.7 192.0h1" stroke="#0099C6" stroke-width="1" stroke-opacity="0.8" fill="none"/>
<path d="M175.9 208.4h1M174.2 196.9h1M157.7 198.8h1M176.5 224.5h1M166.9 195.8h1M155.0 201.7h1M196.0 198.7h1M182.3 203.3h1M171.0 215.7h1M163.7 223.9h1M178.4 217.6h1M171.4 203.8h1M190.4 204.9h1M164.1 208.1h1M176.0 207.7h1M178.2 225.6h1M161.0 200.5h1M190.1 198.6h1M168.1 196.9h1M163.3 204.7h1M193.5 198.4h1M171.9 225.9h1M162.0 219.9h1M173.9 212.2h1M175.4 190.6h1M159.6 193.4h1M168.8 203.3h1M176.9 219.1h1M157.8 207.9h1M154.1 204.1h1M178.6 222.7h1M175.2 227.9h1M158.4 212.7h1M161.0 204.4h1M192.5 218.0h1M179.6 216.6h1M155.9 199.8h1M157.1 198.4h1M194.0 195.5h1M183.9 198.6h1M156.8 219.7h1M168.9 194.6h1M171.2 194.2h1M192.4 200.4h1M156.9 191.7h1M156.8 209.1h1M166.5 212.5h1M163.2 191.8h1M168.5 214.9h1M185.3 215.9h1M188.2 215.1h1M168.7 200.6h1M166.7 200.4h1M153.4 209.0h1M173.4 195.6h1M153.8 213.4h1M199.1 204.3h1M174.5 190.1h1M194.2 203.2h1M154.5 204.4h1M177.8 208.9h1M176.3 196.9h1M195.9 212.6h1M197.7 212.4h1M169.9 218.7h1M191.9 203.0h1M166.2 215.5h1M160.0 195.0h1M181.5 223.9h1M175.0 201.9h1M188.4 220.2h1M188.6 204.8h1M199.1 199.5h1M156.2 208.0h1M183.0 227.1h1M197.6 197.5h1M157.0 220.5h1M172.9 200.7h1M198.9 201.4h1M186.3 220.1h1M170.9 225.1h1M176.8 208.8h1M165.4 201.4h1M192.1 203.6h1M191.3 196.8h1M171.5 201.7h1M165.6 209.8h1M197.7 196.3h1M164.5 185.4h1M177.1 226.2h1M156.9 207.0h1M153.8 202.7h1M160.8 205.2h1M157.4 201.1h1M154.4 215.2h1M175.1 191.3h1M185.1 204.0h1M158.1 198.7h1M193.6 204.0h1M199.3 207.4h1M158.5 219.5h1M156.3 215.2h1M159.4 185.7h1M165.4 219.1h1M179.7 200.0h1M180.0 207.3h1M172.8 211.9h1M168.5 201.7h1M174.6 190.0h1M157.6 201.3h1M174.6 217.3h1M193.4 212.0h1M197.6 210.8h1M165.2 226.6h1M188.2 206.9h1M159.6 208.3h1M191.8 222.7h1M162.3 216.7h1M154.2 214.8h1M161.7 192.4h1M168.6 213.7h1M153.6 213.1h1M160.8 191.4h1M189.9 219.5h1M177.3 199.0h1M192.8 197.7h1M168.3 216.3h1M196.5 199.2h1M163.6 213.6h1M172.5 210.5h1M173.5 207.5h1M180.8 207.8h1M157.3 215.5h1M156.8 198.4h1M161.5 207.6h1M162.6 194.4h1M158.2 188.9h1M157.0 220.7h1M175.0 205.9h1M168.9 201.8h1M159.7 216.0h1M189.8 197.7h1M165.2 189.2h1M193.0 213.2h1M163.4 210.1h1M154.7 203.5h1M158.9 212.4h1M196.2 212.4h1M158.3 187.9h1M162.5 212.7h1M184.3 215.5h1M167.1 227.0h1M175.1 194.9h1M178.8 192.9h1M192.0 195.6h1M155.3 200.8h1M155.2 215.2h1M172.3 219.1h1M188.4 196.8h1M161.8 223.4h1M184.7 212.9h1M168.4 222.2h1M182.0 221.9h1M184.4 210.4h1M175.0 197.0h1M171.5 209.7h1M163.4 206.9h1M165.6 216.0h1M175.3 217.9h1M197.7 214.5h1M174.7 215.7h1M188.4 199.1h1M174.5 219.2h1M173.8 209.8h1M191.4 207.6h1M177.8 218.9h1M166.4 192.2h1M163.6 214.0h1M171.2 196.3h1M173.5 211.9h1M196.8 198.2h1M191.2 209.3h1M199.2 201.6h1M184.0 197.5h1M162.2 200.9h1M163.0 194.5h1M181.5 195.1h1M188.7 202.0h1M186.8 215.6h1M178.4 195.5h1M186.2 205.8h1M169.6 189.2h1M187.3 216.8h1M163.4 203.7h1M160.6 185.6h1M161.5 217.4h1M172.8 192.1h1M180.1 210.2h1M190.2 199.9h1M188.0 205.1h1M190.1 217.3h1M163.8 212.4h1M184.6 225.7h1M178.7 208.1h1M163.1 221.0h1M196.1 216.0h1M183.6 205.6h1M175.8 193.4h1M199.3 207.4h1M156.8 204.1h1M176.7 210.7h1M173.7 189.7h1M168.3 208.5h1M163.4 213.3h1M180.2 205.8h1M196.7 201.1h1M164.0 216.3h1M161.7 206.2h1M155.8 196.5h1M168.5 227.3h1M180.9 222.6h1M157.7 217.0h1M182.9 217.2h1M183.7 205.6h1M170.5 218.9h1M186.5 197.7h1M167.8 187.5h1M169.0 217.5h1M156.4 203.3h1M184.1 218.9h1M152.9 211.8h1M185.4 223.5h1M181.1 228.4h1M163.9 212.7h1M172.5 228.5h1M155.8 212.8h1M170.4 225.3h1M167.9 227.4h1M176.6 205.8h1M164.2 185.8h1M172.5 223.9h1M174.5 201.1h1M189.6 211.8h1M165.3 187.3h1M177.0 224.2h1M187.4 204.6h1M159.6 203.0h1M187.1 200.2h1M180.2 197.0h1M166.4 217.5h1M151.9 207.8h1M180.7 206.1h1M162.5 198.9h1M180.7 203.1h1M155.4 203.8h1M165.5 225.1h1M165.3 220.2h1M166.5 204.2h1M192.4 198.8h1M156.4 216.2h1M162.2 203.6h1M155.2 218.8h1M179.4 203.8h1M166.1 220.3h1M185.5 197.0h1M175.4 191.1h1M165.2 201.3h1M170.7 195.8h1M165.7 191.3h1M173.5 203.7h1M165.3 188.2h1M163.4 203.8h1M170.0 212.1h1M187.2 199.6h1M158.1 219.5h1M183.0 225.2h1M179.3 196.6h1M174.2 199.0h1M163.9 218.8h1M153.3 214.7h1M190.6 205.6h1M182.7 214.0h1M170.3 222.7h1M165.7 193.5h1M158.3 221.4h1M164.2 197.5h1M165.4 220.2h1M171.7 225.6h1M162.3 220.6h1M174.3 199.9h1M174.0 212.3h1M191.4 221.3h1M173.5 207.3h1M186.9 221.1h1M163.8 210.6h1M170.7 202.9h1M175.3 208.7h1M196.7 214.3h1M194.7 204.5h1M179.9 223.3h1M176.1 191.9h1M175.9 193.3h1M162.9 220.2h1M177.2 205.9h1M167.2 198.6h1M197.0 197.3h1M166.2 189.0h1M183.9 221.8h1M169.2 221.2h1M186.0 197.3h1M162.2 223.8h1M173.2 216.1h1M166.9 224.5h1M163.7 216.0h1M161.3 224.2h1M190.2 199.7h1M171.7 192.8h1M184.3 223.2h1M198.2 212.4h1M191.0 213.7h1M172.4 205.7h1M177.7 200.6h1M182.1 218.9h1M175.5 228.0h1M179.0 202.5h1M185.3 220.0h1M181.2 216.5h1M165.8 205.1h1M171.6 194.2h1M195.7 201.7h1M192.7 197.3h1M166.9 196.4h1M163.7 194.5h1M181.5 214.8h1M196.3 198.7h1M158.6 216.9h1M175.7 220.3h1M195.6 217.8h1M195.9 214.0h1M180.5 226.2h1M155.0 197.7h1M164.7 185.7h1M165.5 185.7h1M172.3 215.5h1M182.5 225.5h1M190.6 223.9h1M168.7 191.1h1M195.0 196.9h1M195.9 208.5h1M159.8 213.8h1M170.3 220.2h1M170.6 221.1h1M174.2 195.6h1M152.1 209.5h1M164.7 223.6h1M176.7 218.5h1M179.8 194.6h1M172.9 214.5h1M183.5 223.6h1M191.2 216.6h1M193.1 220.7h1M168.3 202.3h1M196.0 207.9h1M181.6 196.4h1M180.2 225.4h1M186.1 218.5h1M181.7 227.0h1M175.9 191.7h1M170.1 209.2h1M174.5 207.2h1M176.4 228.0h1M186.9 206.2h1M157.4 213.9h1M190.2 214.2h1M182.6 221.9h1M176.5 203.7h1M164.2 211.8h1M173.6 199.4h1" stroke="#fff" stroke-width="1" stroke-opacity="0.62" fill="none"/>
<path d="M154.1 195.6h1M157.3 189.5h1M153.8 199.9h1M157.0 188.5h1M153.3 197.6h1M154.8 195.5h1M155.0 194.4h1M154.4 196.4h1" stroke="#990099" stroke-width="1" stroke-opacity="0.8" fill="none"/>
<path d="M185.3 177.4h1M188.4 175.7h1M187.7 175.2h1M179.2 186.1h1M192.4 175.9h1M176.9 186.8h1M192.2 168.2h1M188.5 188.9h1M196.6 171.9h1M176.0 185.3h1M186.8 193.8h1M184.8 192.7h1M181.6 186.6h1M176.4 186.2h1M196.4 167.3h1M189.0 193.1h1M190.2 191.9h1M196.2 168.5h1M166.5 172.0h1M170.0 177.6h1M190.8 179.5h1M194.7 183.9h1M168.9 165.4h1M188.5 177.0h1M169.3 168.2h1M176.6 185.5h1M190.3 194.1h1M193.3 176.0h1M179.7 187.1h1M172.0 161.3h1M176.6 186.6h1M175.6 168.9h1M173.9 182.7h1M193.4 186.9h1M181.9 178.1h1M188.9 191.2h1M192.8 170.2h1M184.4 190.1h1M188.6 162.2h1M179.3 184.2h1M189.7 194.1h1M187.6 194.0h1M181.8 179.8h1M175.0 170.6h1M176.3 177.5h1M170.7 175.9h1M194.1 192.7h1M166.4 169.4h1M195.9 180.0h1M194.6 179.2h1M185.1 161.4h1M194.0 161.4h1M196.2 160.9h1M196.3 164.2h1M193.9 160.1h1M195.7 177.2h1M195.8 184.8h1M190.9 174.4h1M179.4 179.0h1M172.9 171.8h1M188.9 191.8h1M168.5 176.3h1M179.6 180.9h1M194.6 177.2h1M183.2 175.3h1M187.4 161.8h1M193.6 182.1h1M179.3 175.4h1M179.6 171.0h1M186.7 159.5h1M184.0 166.8h1M178.5 187.3h1M174.4 183.3h1M191.8 189.1h1M176.1 178.3h1M176.0 169.6h1M183.7 161.3h1M179.8 160.0h1M166.6 171.8h1M195.3 168.6h1M175.5 184.2h1M174.5 167.0h1M174.4 183.2h1M166.4 172.0h1M184.7 193.2h1M195.4 190.7h1M171.3 171.0h1M182.7 159.7h1M178.7 187.2h1M193.1 167.5h1M167.1 172.9h1M172.3 170.7h1M186.4 163.5h1M172.8 180.9h1M170.3 169.3h1M178.3 173.0h1M184.4 186.1h1M195.4 177.4h1M166.8 168.7h1M186.8 163.6h1M194.9 189.0h1M189.5 193.9h1M195.7 188.5h1M181.5 188.3h1M194.1 173.0h1M189.3 193.6h1M191.1 170.3h1M189.9 184.9h1M180.8 185.0h1M183.4 172.6h1M169.8 163.6h1M194.9 168.5h1M188.8 181.6h1M188.3 187.5h1M185.1 181.2h1M187.1 190.1h1M194.8 166.4h1M190.6 159.3h1M188.5 158.2h1M193.7 170.2h1M171.4 179.9h1M194.5 176.9h1M191.2 166.0h1M177.7 183.3h1M168.8 169.3h1M195.8 173.2h1M194.8 184.0h1M174.4 163.0h1" stroke="#fff" stroke-width="1" stroke-opacity="0.62" fill="none"/>
<path d="M194.7 159.1h1M192.9 159.0h1M193.1 159.0h1M193.5 159.8h1" stroke="#66AA00" stroke-width="1" stroke-opacity="0.8" fill="none"/>
<path d="M237.0 164.9h1M216.8 170.2h1M222.8 160.0h1M229.1 150.9h1M225.0 146.4h1M219.5 157.7h1M221.2 160.5h1M233.6 151.9h1M234.2 152.3h1M233.9 152.7h1M226.1 157.6h1M221.7 177.0h1M237.8 163.4h1M213.5 172.0h1M216.8 139.5h1M235.0 158.8h1M214.2 162.4h1M220.4 144.6h1M222.4 150.1h1M230.2 165.8h1M234.1 172.7h1M221.7 174.3h1M231.0 156.5h1M235.5 171.0h1M227.5 173.2h1M217.2 148.8h1M235.5 169.9h1M224.2 172.4h1M217.1 175.5h1M219.9 176.3h1M198.9 167.7h1M240.2 163.3h1M227.9 155.3h1M218.5 160.4h1M230.7 171.4h1M199.6 165.6h1M217.5 177.1h1M213.9 152.2h1M230.2 167.0h1M226.9 145.4h1M232.2 150.7h1M205.0 167.5h1M207.7 172.6h1M236.5 163.3h1M226.3 157.5h1M221.9 139.9h1M238.2 158.0h1M215.5 147.9h1M211.3 176.2h1M212.4 170.8h1M207.5 149.8h1M206.2 152.9h1M214.8 175.4h1M234.0 160.6h1M238.7 158.5h1M221.0 162.0h1M211.8 175.5h1M235.7 156.0h1M219.7 152.3h1M217.3 155.0h1M216.9 144.8h1M218.0 148.7h1M197.9 163.6h1M210.4 175.9h1M203.8 172.8h1M200.0 160.5h1M217.8 159.6h1M202.6 161.6h1M220.3 137.7h1M214.2 144.0h1M218.6 168.2h1M229.8 157.5h1M225.7 169.3h1M207.7 168.0h1M228.4 156.9h1M224.0 176.9h1M211.9 175.7h1M221.9 138.3h1M219.7 139.6h1M198.0 163.0h1M224.4 155.0h1M200.2 170.2h1M208.3 152.9h1M227.6 175.7h1M213.3 159.6h1M224.3 143.4h1M215.7 147.8h1M218.8 142.2h1M223.3 167.5h1M219.5 155.6h1M226.5 160.5h1M202.7 164.5h1M210.7 167.8h1M224.8 150.5h1M218.2 170.1h1M214.2 174.6h1M231.1 158.0h1M238.7 158.9h1M233.6 155.4h1M219.3 154.0h1M212.3 173.3h1M227.6 154.6h1M232.1 171.8h1M233.7 153.2h1M236.4 156.3h1M222.1 138.8h1M234.6 166.6h1M213.1 163.1h1M220.9 177.0h1M213.3 152.3h1M205.8 157.8h1M199.1 164.5h1M203.3 162.2h1M217.5 144.0h1M202.8 157.0h1M227.5 151.8h1M227.9 147.8h1M237.2 157.8h1M222.2 163.2h1M204.9 165.4h1M210.1 163.7h1M214.9 162.2h1M226.7 158.6h1M221.9 176.2h1M238.0 166.7h1M222.4 170.5h1M216.9 173.5h1M226.6 169.9h1M219.4 139.1h1M212.2 146.1h1M230.6 154.9h1M198.5 163.4h1M224.6 153.2h1M227.5 148.4h1M219.3 147.9h1M238.9 166.9h1M237.6 163.4h1M230.7 151.5h1M201.5 161.9h1M221.2 144.6h1M218.2 176.0h1M205.1 157.3h1M230.6 173.4h1M219.0 146.6h1M220.8 175.9h1M198.0 159.3h1M210.4 170.2h1M212.0 156.9h1M227.7 173.0h1M229.0 169.2h1M198.9 159.5h1M234.3 162.9h1M239.1 161.1h1M224.7 174.7h1M211.6 145.1h1M205.0 166.4h1M216.8 174.4h1M232.6 172.9h1M228.3 169.3h1M227.9 148.7h1M224.2 170.9h1M201.5 161.4h1M228.8 174.6h1M205.9 166.0h1M218.8 138.3h1M219.1 149.3h1M229.1 173.2h1M230.3 170.5h1M219.8 175.8h1M234.3 162.5h1M217.0 153.6h1M219.0 174.0h1M211.3 172.8h1M230.4 153.7h1" stroke="#fff" stroke-width="1" stroke-opacity="0.62" fill="none"/>
<path d="M218.6 136.7h1M203.1 154.3h1M210.2 145.0h1M209.2 145.1h1M199.7 155.2h1M205.0 149.7h1M199.4 155.4h1M202.9 152.5h1M207.9 147.8h1M201.4 155.3h1M200.2 155.4h1M215.2 137.3h1M200.0 155.3h1M206.8 148.4h1M209.3 145.1h1M208.5 146.9h1M214.2 138.9h1M205.2 151.7h1M207.7 147.0h1" stroke="#66AA00" stroke-width="1" stroke-opacity="0.8" fill="none"/>
<path d="M217.2 120.7h1M218.4 118.8h1M221.3 122.2h1M222.0 119.5h1M191.0 148.7h1M192.9 148.5h1M191.3 125.5h1M222.6 121.2h1M187.0 138.3h1M203.1 119.1h1M222.9 127.5h1M203.7 150.2h1M188.8 121.6h1M193.2 157.6h1M203.8 118.5h1M196.2 121.1h1M208.4 132.7h1M187.5 144.1h1M199.7 153.2h1M189.9 151.7h1M187.6 126.8h1M195.2 147.0h1M191.1 148.6h1M197.4 121.2h1M199.1 134.8h1M197.3 118.3h1M193.6 131.9h1M211.3 130.6h1M190.3 151.1h1M210.2 118.3h1M194.0 156.8h1M206.5 119.7h1M194.3 118.3h1M189.4 143.2h1M189.3 152.4h1M188.2 148.2h1M193.9 121.6h1M209.4 144.1h1M197.1 119.4h1M206.3 120.1h1M199.1 119.6h1M196.3 155.4h1M189.5 125.4h1M203.7 139.7h1M210.8 137.0h1M192.3 128.5h1M210.9 119.7h1M195.9 158.3h1M191.6 131.7h1M190.7 122.9h1M192.5 143.1h1M206.2 119.6h1M194.3 119.1h1M199.4 123.4h1M193.7 152.2h1M196.1 122.0h1M199.2 138.7h1M202.3 145.9h1M187.0 132.2h1M223.4 120.7h1M190.7 152.3h1M196.7 132.8h1M199.8 152.2h1M188.3 131.5h1M189.9 121.4h1M209.3 133.9h1M190.4 124.2h1M216.9 122.0h1M194.7 128.5h1M198.9 155.4h1M189.5 150.5h1M188.6 145.5h1M205.0 141.2h1M196.3 146.6h1M221.9 126.6h1M209.5 133.1h1M211.8 121.8h1M212.5 129.1h1M213.9 119.7h1M218.9 120.0h1M204.1 121.4h1M214.3 126.3h1M221.7 126.0h1M216.1 133.2h1M218.4 122.0h1M193.4 129.2h1M190.1 133.3h1M206.8 118.2h1M209.1 122.5h1M207.2 118.6h1M201.6 144.4h1M219.2 119.9h1M188.4 142.1h1M203.9 148.4h1M207.4 128.6h1M222.8 126.6h1M200.7 136.2h1M206.0 145.7h1M198.3 126.0h1M194.1 156.4h1M191.5 123.0h1M187.4 136.5h1M196.8 151.0h1M220.8 130.2h1M218.6 133.8h1M213.2 119.1h1M202.5 119.1h1M202.9 128.7h1M223.4 124.8h1M199.6 133.4h1M200.5 123.6h1M198.6 155.7h1M189.4 124.7h1M197.5 125.2h1M220.1 133.1h1M210.3 124.4h1M214.8 128.1h1M187.9 143.2h1M219.9 129.7h1M207.0 120.3h1M190.6 155.0h1M208.0 133.7h1M213.3 130.4h1M220.4 119.2h1M214.6 125.4h1" stroke="#fff" stroke-width="1" stroke-opacity="0.62" fill="none"/>
<path d="M213.9 140.1h1M207.1 149.7h1M206.6 147.8h1M213.9 141.7h1M204.7 151.1h1M208.2 147.6h1M198.3 157.6h1M205.7 151.2h1M208.1 148.2h1M202.5 154.2h1M198.3 158.3h1M213.7 142.5h1M213.2 140.6h1M215.6 140.3h1M209.3 145.7h1M208.1 148.8h1M214.7 141.8h1M207.8 146.2h1M204.6 150.9h1M212.3 143.7h1M198.2 157.4h1M203.1 153.9h1" stroke="#DD4477" stroke-width="1" stroke-opacity="0.8" fill="none"/>
<path d="M163.3 72.3h1M161.8 73.1h1M169.2 69.8h1M163.4 76.0h1M172.4 73.7h1M171.7 74.0h1M165.0 75.0h1M174.1 76.3h1M170.6 73.7h1M174.4 76.1h1M164.5 70.8h1M166.2 69.1h1M163.7 73.8h1M161.3 74.5h1M166.0 74.2h1M175.4 75.7h1M170.3 70.6h1M161.9 74.9h1M162.8 75.8h1M167.8 73.6h1M174.4 71.9h1M172.6 70.1h1" stroke="#fff" stroke-width="1" stroke-opacity="0.62" fill="none"/>
<path d="M195.2 90.6h1M193.8 88.4h1M197.0 92.0h1M193.4 90.5h1M190.2 90.2h1M198.6 92.9h1M198.3 92.6h1M194.5 88.5h1M194.4 90.5h1M201.6 94.2h1M194.0 88.5h1M194.6 90.1h1M190.4 89.9h1" stroke="#fff" stroke-width="1" stroke-opacity="0.62" fill="none"/>
<path d="M156.9 257.4h1M147.0 250.5h1M158.9 261.2h1M155.0 254.9h1M172.8 263.7h1M161.8 257.0h1M153.6 253.6h1M170.0 259.9h1M163.9 263.4h1M153.1 247.9h1M172.6 261.8h1M152.8 249.0h1M168.8 265.9h1M169.6 265.4h1M145.5 248.3h1M173.5 263.6h1M154.8 259.4h1M145.1 250.0h1M147.4 254.1h1M172.7 261.3h1M156.5 254.8h1M147.8 255.1h1M146.0 248.9h1M173.0 262.0h1M145.6 250.4h1M147.0 252.9h1M154.6 256.4h1M158.0 247.7h1M148.1 249.0h1M147.6 254.4h1M148.5 251.6h1M167.8 265.6h1M153.0 257.7h1M168.3 260.7h1M160.7 253.9h1M156.6 259.3h1M154.5 260.7h1M169.2 262.5h1M151.5 247.6h1" stroke="#fff" stroke-width="1" stroke-opacity="0.62" fill="none"/>
<path d="M194.7 263.8h1M196.4 259.9h1M194.7 261.5h1M196.3 263.2h1M188.7 258.6h1M186.1 268.0h1M173.5 266.0h1M196.2 267.4h1M198.7 248.8h1M181.8 266.2h1M181.2 263.4h1M188.5 268.1h1M180.6 262.1h1M199.1 264.8h1M186.4 260.4h1M183.8 268.5h1M201.5 261.4h1M180.7 264.0h1M196.8 252.1h1M201.6 258.2h1M202.3 258.6h1M190.1 257.4h1M201.2 262.7h1M188.0 263.2h1M179.0 264.9h1M196.1 251.7h1M174.8 267.1h1M180.7 268.2h1M184.2 268.1h1" stroke="#fff" stroke-width="1" stroke-opacity="0.62" fill="none"/>
<path d="M194.4 109.7h1M192.4 108.0h1M191.3 108.6h1M194.1 99.8h1" stroke="#0099C6" stroke-width="1" fill="none"/>
<path d="M165.3 255.2h1M175.3 262.0h1M158.5 252.0h1M172.1 255.6h1M171.8 261.3h1M159.9 250.9h1M168.2 249.2h1M158.4 250.4h1M166.7 252.4h1M167.2 253.6h1M173.1 255.3h1M174.3 264.0h1M166.7 251.6h1M167.9 249.7h1M158.1 251.8h1M165.1 248.3h1M163.1 253.8h1M159.0 248.6h1M163.1 248.1h1M171.7 256.5h1M168.9 249.2h1M158.4 253.4h1M166.1 249.7h1M168.8 259.0h1M171.4 256.8h1M169.1 258.4h1M161.1 249.9h1" stroke="#109618" stroke-width="1" fill="none"/>
<path d="M199.9 86.0h1M196.5 87.6h1M199.2 88.7h1M200.5 95.6h1M198.8 87.2h1M191.9 92.6h1" stroke="#316395" stroke-width="1" fill="none"/>
<path d="M203.7 102.5h1M201.2 97.8h1M208.3 105.0h1M203.0 103.8h1M209.9 108.8h1M198.4 94.2h1M210.3 113.3h1M203.4 102.1h1M205.7 106.4h1M204.3 100.3h1M204.8 110.3h1M210.5 113.9h1M201.2 97.6h1M210.0 109.2h1M210.0 117.8h1M203.5 108.3h1M206.5 118.1h1M204.3 108.7h1M211.4 121.6h1M204.6 107.3h1M211.6 110.1h1M205.3 113.2h1M210.6 118.0h1M209.1 109.3h1M203.6 102.7h1M208.0 111.1h1M210.0 117.3h1M205.1 113.5h1M206.5 116.4h1M200.3 99.4h1M205.0 119.3h1M213.5 114.9h1M201.0 98.3h1" stroke="#66AA00" stroke-width="1" fill="none"/>
<path d="M185.2 226.8h1M196.2 241.9h1M184.8 231.4h1M190.6 234.8h1M189.1 229.8h1M190.5 234.1h1M194.7 235.1h1M185.6 227.8h1M193.8 235.0h1M186.0 229.3h1M192.8 234.7h1" stroke="#66AA00" stroke-width="1" fill="none"/>
<path d="M176.2 187.0h1M168.2 162.7h1M182.0 159.7h1M203.4 174.6h1M173.8 187.5h1M198.2 163.0h1M196.4 178.3h1M170.5 182.5h1M166.3 169.0h1M173.3 184.8h1M170.0 161.5h1M196.2 176.7h1M188.9 157.4h1M160.9 162.7h1M199.9 191.7h1M177.0 157.6h1M196.8 179.5h1M182.3 194.7h1M196.4 183.7h1M180.0 193.5h1M166.8 167.2h1M166.0 173.1h1M193.0 196.7h1M171.3 184.7h1M184.0 194.4h1M170.2 158.6h1M198.4 169.1h1M176.4 187.1h1M205.9 186.4h1M192.0 197.1h1M199.9 169.6h1M167.1 177.6h1M165.2 175.6h1M196.2 159.1h1M169.9 160.6h1M195.7 157.0h1M172.5 159.9h1M202.1 171.6h1M189.8 198.9h1M202.5 170.8h1M171.4 161.0h1M174.7 157.7h1M170.2 161.9h1M197.6 159.9h1M196.9 183.1h1M175.1 185.2h1M179.6 157.6h1M171.5 160.1h1M182.7 153.9h1M170.8 161.6h1M189.5 194.8h1M173.7 158.1h1M187.6 195.3h1M202.8 159.2h1M190.8 203.5h1M198.0 191.9h1M198.8 171.8h1M184.2 193.4h1M174.5 184.5h1M183.7 196.5h1M188.3 202.5h1M166.5 180.8h1M165.2 172.3h1M195.8 192.4h1M166.3 167.3h1M190.0 155.6h1M183.0 159.4h1M193.9 195.6h1M193.1 194.9h1M164.1 189.5h1M171.3 159.5h1M166.2 168.8h1M182.1 159.2h1M176.8 190.9h1M200.8 184.1h1M163.8 171.3h1M194.0 194.5h1" stroke="#FF9900" stroke-width="1" fill="none"/>
<path d="M213.7 144.2h1M209.8 147.0h1M221.9 132.3h1M196.0 117.5h1M186.0 140.7h1M224.4 127.7h1M191.1 158.1h1M226.1 124.0h1M205.0 155.1h1M209.5 147.8h1M213.3 146.1h1M197.4 164.4h1M186.3 133.3h1M190.5 157.9h1M188.4 117.9h1M188.9 118.3h1M192.4 159.0h1M190.6 157.8h1M202.6 117.1h1M191.7 117.9h1M224.7 129.5h1M190.8 117.9h1M186.0 143.0h1M181.7 131.8h1M199.0 159.7h1M193.2 163.1h1M186.0 142.1h1M186.4 131.6h1M200.1 116.6h1M186.0 125.6h1M186.3 143.1h1M193.9 117.4h1M187.6 151.9h1M220.0 118.5h1M183.5 134.0h1M224.7 129.1h1M225.4 120.8h1M189.4 154.5h1M186.1 142.5h1M200.9 117.9h1M191.4 158.2h1M202.3 156.2h1M226.7 125.7h1M184.6 143.1h1M211.3 117.0h1M196.3 160.5h1M187.2 116.5h1M218.5 138.5h1M184.9 132.4h1M187.4 148.8h1M197.4 117.5h1" stroke="#66AA00" stroke-width="1" fill="none"/>
<path d="M160.9 222.1h1M171.6 212.4h1M176.7 182.0h1M176.6 186.3h1M181.4 205.2h1M181.8 197.7h1M186.5 204.7h1M175.6 206.3h1M174.4 174.0h1M171.2 178.6h1M165.3 214.5h1M164.7 192.1h1M171.5 170.6h1M159.5 178.6h1M161.2 182.9h1M176.6 185.8h1M182.1 180.4h1M174.6 191.6h1M162.5 215.4h1M174.0 189.3h1M180.7 184.4h1M170.2 212.1h1M167.7 174.7h1M176.0 207.6h1M164.8 172.1h1M188.0 190.4h1M185.9 219.0h1M163.0 205.4h1M165.7 189.0h1M165.8 216.2h1M158.6 205.1h1M167.1 210.8h1M169.0 190.6h1M160.6 181.3h1M174.6 210.9h1M188.9 202.0h1M181.3 178.4h1M199.1 182.9h1M173.3 198.1h1M172.9 185.0h1M185.6 182.4h1M173.9 187.7h1M172.7 210.8h1M183.5 177.0h1M156.2 199.6h1M174.7 185.2h1M188.7 187.0h1M155.2 221.5h1M201.6 211.7h1M173.7 180.6h1M168.6 198.2h1M178.8 212.7h1M184.3 218.2h1M175.0 185.9h1M182.7 186.6h1M178.0 204.0h1M175.4 198.8h1M181.3 185.7h1M163.9 175.2h1M175.7 203.3h1M170.5 193.0h1M182.3 177.8h1M169.0 175.5h1M184.4 207.5h1M183.5 215.8h1M172.2 189.6h1M177.7 197.5h1M162.1 210.5h1M168.5 213.0h1M161.5 185.0h1M160.3 197.4h1M157.2 204.6h1M168.7 180.9h1M166.8 188.2h1M151.0 187.2h1M182.3 187.5h1M180.0 168.5h1M187.8 203.0h1M172.0 173.2h1M178.0 206.6h1M189.4 169.7h1M162.5 184.6h1M169.7 212.1h1M165.4 200.8h1M159.5 203.0h1M196.9 209.8h1M172.8 184.5h1M180.5 197.6h1M174.3 209.8h1M180.1 211.4h1M157.9 206.8h1M174.5 192.5h1M173.2 195.1h1M178.8 173.7h1M161.3 191.6h1M162.2 174.3h1M183.9 198.0h1M196.9 192.5h1M158.2 190.3h1M183.6 193.3h1M184.4 189.1h1M164.1 208.6h1M183.7 175.6h1" stroke="#990099" stroke-width="1" fill="none"/>
<path d="M202.6 258.3h1M175.4 263.2h1M178.0 268.2h1M200.5 266.4h1M173.9 267.2h1M192.6 254.7h1M202.1 251.9h1M203.3 254.6h1M177.6 268.4h1M199.1 267.1h1M190.7 256.8h1M201.5 263.5h1M194.6 250.3h1M203.2 259.1h1M198.6 267.8h1M180.3 271.1h1M196.6 247.0h1M176.1 263.1h1M193.4 268.6h1M196.0 268.1h1M204.5 262.9h1M202.5 266.1h1M182.9 268.7h1M188.8 257.3h1M190.7 256.8h1M177.5 261.1h1M186.2 269.2h1M198.0 246.0h1M183.0 269.0h1" stroke="#3366CC" stroke-width="1" fill="none"/>
<path d="M163.5 256.6h1M167.2 251.0h1M170.4 248.5h1M170.1 248.8h1M159.3 249.0h1M170.5 250.8h1M166.0 250.3h1M157.9 249.6h1M168.8 251.1h1M166.4 250.4h1M165.7 261.2h1M161.8 249.4h1M168.0 258.4h1M166.0 257.5h1M161.6 252.2h1M157.5 251.9h1M174.1 249.1h1M168.3 249.1h1M159.2 252.5h1M166.2 249.4h1M166.4 251.0h1M162.3 247.5h1M169.2 261.7h1M160.9 255.6h1M161.2 250.2h1M172.0 259.9h1M162.1 247.2h1" stroke="#109618" stroke-width="1" fill="none"/>
<path d="M77.5 177.0h1M131.5 218.0h1M166.3 168.4h1M160.6 181.1h1M145.7 158.7h1M82.9 191.0h1M57.2 143.3h1M152.5 153.9h1M119.6 147.5h1M70.9 160.7h1M165.5 173.1h1M110.7 144.0h1M118.2 227.6h1M169.6 162.4h1M151.4 152.2h1M155.5 199.0h1M50.5 109.8h1M126.0 224.3h1M81.8 191.6h1M73.3 165.4h1M83.8 187.5h1M158.1 152.5h1M132.6 154.7h1M160.1 185.5h1M141.5 159.4h1M141.5 158.4h1M71.4 161.1h1M78.0 122.8h1M67.2 107.6h1M88.7 197.5h1M146.2 156.0h1M107.7 219.5h1M83.6 188.7h1M127.4 220.1h1M66.0 102.1h1M90.8 198.3h1M101.8 138.7h1M132.8 154.1h1M67.4 153.9h1M161.5 195.1h1M155.2 196.9h1M167.0 154.2h1M79.8 179.0h1M72.0 166.5h1M148.8 207.8h1M159.9 180.8h1M108.9 142.7h1M112.7 144.3h1M105.8 141.0h1M74.5 116.6h1M102.2 140.0h1M116.5 145.5h1M82.0 127.1h1M147.8 210.4h1M118.3 145.9h1M90.9 200.2h1M52.1 126.0h1M72.4 164.2h1M160.9 184.5h1M61.1 146.5h1M158.7 185.6h1M74.3 167.3h1M128.9 152.4h1M166.5 153.5h1M75.3 169.7h1M90.9 199.0h1M101.1 210.8h1M124.0 228.6h1M79.2 176.7h1M51.4 104.5h1M117.4 226.7h1M56.2 142.6h1M169.1 158.5h1M50.6 117.1h1M82.8 185.1h1M68.0 108.1h1M55.9 103.7h1M95.5 138.2h1M125.0 226.6h1M119.4 146.9h1M94.7 204.6h1M93.1 136.7h1M76.4 119.3h1M66.3 154.6h1M151.2 153.0h1M107.8 217.9h1M114.1 224.1h1M127.6 151.3h1M140.1 159.4h1M141.9 214.8h1M105.5 215.8h1M125.7 227.4h1M72.6 112.4h1M86.4 192.6h1M97.1 137.5h1M70.6 111.0h1M154.8 153.2h1M79.6 177.8h1M130.5 153.5h1M56.1 102.3h1M113.9 223.3h1M78.4 175.2h1M126.9 221.6h1M63.6 148.4h1M162.4 152.2h1M52.2 126.8h1M168.3 163.9h1M123.2 147.1h1M49.8 115.0h1M110.1 222.0h1M136.4 157.1h1M123.6 149.5h1M50.4 114.5h1M72.6 164.0h1M169.7 159.9h1M77.5 173.6h1M120.9 229.0h1M95.8 205.6h1M98.4 138.8h1M126.7 227.7h1M149.8 208.8h1" stroke="#990099" stroke-width="1" fill="none"/>
<path d="M151.1 159.7h1M180.9 156.0h1M150.5 172.8h1M171.5 168.9h1M168.2 157.9h1M166.1 194.7h1M153.2 168.3h1M180.6 167.4h1M162.5 168.4h1M147.9 164.6h1M162.0 163.9h1M172.0 166.0h1M151.5 207.7h1M155.6 161.2h1M163.2 177.7h1M181.8 162.3h1M150.6 193.3h1M163.6 164.6h1M165.6 164.0h1M154.8 172.8h1M151.7 208.8h1M184.8 145.6h1M158.7 172.7h1M185.0 163.7h1M183.3 159.5h1M186.5 156.2h1M153.3 153.5h1M177.5 163.7h1M164.1 177.5h1M164.1 194.1h1M148.9 159.7h1M156.7 143.1h1M150.5 155.6h1M152.9 182.3h1M147.3 167.4h1M172.2 169.6h1M162.4 162.5h1M164.2 166.9h1M161.5 161.7h1M163.4 189.9h1M155.9 153.7h1M141.3 192.6h1M171.6 176.6h1M152.9 160.4h1M159.2 190.3h1M188.0 157.0h1M155.2 151.0h1M155.9 181.8h1M159.3 189.6h1M160.4 162.6h1M174.8 175.7h1M162.0 163.0h1M191.0 165.8h1M180.9 157.3h1M154.7 152.1h1M186.1 170.1h1M140.9 157.4h1M181.7 156.5h1M167.6 164.1h1M180.9 154.1h1M153.7 151.5h1M160.6 180.7h1M142.5 161.9h1M178.3 167.3h1M162.4 191.5h1M181.1 163.2h1M161.5 171.9h1M165.6 180.5h1M169.7 166.0h1M155.5 173.8h1M156.2 162.8h1M163.7 186.5h1M167.4 149.9h1M168.0 178.2h1M174.9 158.9h1M163.5 186.2h1M157.4 161.4h1M166.7 207.9h1M148.4 194.3h1M148.6 167.7h1M156.8 170.4h1M161.5 181.5h1M157.4 177.2h1M161.5 181.1h1M173.4 155.8h1M158.7 206.8h1M157.5 171.5h1M179.3 167.4h1M164.3 151.1h1M157.5 191.5h1M161.0 197.6h1M147.0 161.9h1M159.8 195.8h1M166.0 174.1h1M168.8 160.5h1M148.5 164.7h1M178.4 154.6h1M172.4 172.5h1M159.3 184.9h1M160.0 162.0h1M164.7 182.4h1M177.3 150.1h1M163.0 170.3h1M170.6 169.5h1" stroke="#990099" stroke-width="1" fill="none"/>
<path d="M196.0 158.2h1M194.4 168.2h1M197.0 184.6h1M198.3 165.9h1M190.9 179.7h1M194.8 174.4h1M207.1 177.0h1M201.6 176.3h1M188.6 155.9h1M189.7 164.1h1M193.1 151.8h1M193.8 165.4h1M191.8 161.5h1M194.6 158.4h1M193.9 169.1h1" stroke="#DD4477" stroke-width="1" fill="none"/>
<path d="M144.2 159.2h1M125.5 149.9h1M92.7 201.0h1M145.4 158.5h1M76.5 172.6h1M137.8 215.7h1M143.6 159.2h1M63.3 148.3h1M81.7 181.9h1M148.9 207.7h1M79.0 122.1h1M80.5 125.0h1M128.8 219.6h1M89.3 135.0h1M78.0 174.7h1M76.6 118.9h1M150.8 154.3h1M54.4 134.8h1M112.5 222.8h1M166.6 167.6h1M110.5 220.7h1M79.4 123.8h1M78.6 123.2h1M156.0 194.5h1M85.1 189.6h1M114.2 223.6h1M68.3 109.1h1M51.4 122.4h1M92.2 135.0h1M150.5 153.0h1M91.7 201.0h1M133.1 216.9h1M54.8 148.0h1M87.6 194.4h1M155.8 153.1h1M154.0 201.9h1M54.7 150.2h1M101.0 211.0h1M162.2 152.4h1M63.3 148.7h1M159.9 186.7h1M157.9 188.4h1M88.1 134.1h1M145.2 157.0h1M110.4 143.2h1M165.0 170.4h1M63.6 103.9h1M49.7 110.9h1M158.0 186.6h1M116.9 228.4h1M166.3 168.0h1M72.2 112.3h1M58.9 143.7h1M83.8 186.6h1M88.7 195.4h1M157.0 151.6h1M148.9 207.8h1M113.0 226.8h1M92.2 201.9h1M131.4 153.9h1M59.3 101.8h1M87.2 195.5h1M155.5 196.1h1M157.7 152.9h1M68.3 108.7h1M123.1 148.1h1M96.7 135.9h1M83.9 129.3h1M151.8 205.7h1M162.1 152.6h1M108.0 217.8h1M150.3 209.2h1M103.6 140.0h1M75.0 116.7h1M131.7 154.4h1M82.0 184.5h1M85.8 189.9h1M163.1 152.7h1M132.4 218.9h1M65.0 102.6h1M61.0 103.0h1M127.2 221.9h1M65.3 150.8h1M123.1 229.3h1M77.2 119.4h1M54.5 104.1h1M166.9 153.3h1M152.7 203.3h1M153.3 203.8h1M61.3 102.3h1M160.5 152.2h1M145.1 155.8h1M101.5 211.9h1M82.1 182.3h1M97.9 207.5h1M159.5 152.4h1M139.9 215.1h1M143.5 213.9h1M151.1 154.5h1M164.1 171.4h1M65.6 155.0h1M88.1 193.9h1M105.7 141.2h1M124.4 148.3h1M141.3 214.1h1M59.5 100.7h1M49.0 111.7h1M130.0 152.4h1M159.2 183.9h1M95.7 135.8h1M100.6 139.6h1M130.2 152.7h1M102.8 140.1h1M122.8 149.1h1M92.9 134.9h1M113.2 143.2h1M80.5 126.1h1M157.2 153.0h1M108.9 142.6h1M78.1 175.9h1" stroke="#990099" stroke-width="1" fill="none"/>
<path d="M209.7 162.2h1M190.3 161.6h1M201.1 148.4h1M189.6 161.1h1M192.8 150.6h1M187.7 163.0h1M198.6 149.7h1M195.4 164.4h1M189.6 157.2h1M203.7 156.1h1" stroke="#66AA00" stroke-width="1" fill="none"/>
<path d="M194.5 237.5h1M193.1 233.0h1M197.7 243.2h1M188.0 236.3h1M189.3 233.4h1M192.6 234.7h1M195.5 240.3h1M189.8 227.8h1M188.3 229.0h1M192.8 233.5h1M190.9 230.0h1M190.9 233.1h1" stroke="#66AA00" stroke-width="1" fill="none"/>
<path d="M163.6 219.5h1M166.3 205.9h1M161.4 184.2h1M167.2 180.1h1M163.6 203.7h1M166.1 200.2h1M186.8 211.0h1M170.8 189.8h1M171.1 178.7h1M161.6 213.7h1M146.8 202.6h1M168.7 187.2h1M169.4 202.0h1M178.5 184.3h1M169.1 215.4h1M186.4 198.9h1M167.5 177.2h1M175.5 189.7h1M157.1 216.4h1M174.3 194.0h1M173.3 199.0h1M158.4 213.7h1M185.6 195.4h1M174.0 178.1h1M165.3 211.6h1M186.3 200.6h1M165.1 210.6h1M158.9 186.3h1M167.8 162.9h1M177.1 187.8h1M155.3 184.4h1M165.3 179.3h1M169.1 174.5h1M157.4 188.8h1M172.6 177.0h1M172.5 204.5h1M160.6 206.5h1M188.4 191.4h1M165.4 169.5h1M190.3 184.1h1M180.0 172.9h1M181.6 205.0h1M166.8 208.1h1M166.5 196.7h1M149.7 181.0h1M158.2 183.8h1M174.7 193.3h1M193.3 186.4h1M171.6 187.4h1M175.7 191.8h1M168.5 198.9h1M166.0 180.4h1M169.0 192.7h1M175.0 215.3h1M189.3 176.1h1M182.7 182.1h1M176.1 190.2h1M170.9 194.0h1M163.8 178.7h1M169.8 211.0h1M182.6 182.5h1M184.0 212.6h1M170.4 189.5h1M176.1 179.1h1M186.5 205.9h1M186.4 193.5h1M171.5 176.1h1M196.9 182.6h1M181.7 190.9h1M182.4 192.7h1M178.7 222.8h1M175.1 167.0h1M167.1 175.9h1M164.6 206.8h1M200.0 184.1h1M169.5 198.3h1M162.6 204.7h1M174.4 206.0h1M177.5 201.8h1M164.6 215.6h1M185.9 201.0h1M166.6 191.8h1M176.2 194.0h1M173.5 202.3h1M183.2 185.7h1M181.1 205.0h1M182.7 197.4h1M172.3 202.2h1M166.4 202.3h1M161.9 199.6h1M184.2 180.1h1M176.3 192.7h1M177.3 208.5h1M170.8 177.3h1M171.0 173.4h1M158.9 203.9h1M187.9 189.5h1M172.3 179.0h1M170.4 176.7h1M179.5 195.1h1M172.0 201.9h1M164.6 193.5h1M174.7 197.9h1" stroke="#990099" stroke-width="1" fill="none"/>
<path d="M197.0 95.2h1M191.8 98.4h1M193.5 91.6h1M198.9 98.8h1" stroke="#316395" stroke-width="1" fill="none"/>
<path d="M130.6 218.6h1M139.3 237.9h1M146.3 234.7h1M142.6 236.5h1M132.1 226.5h1M138.2 238.0h1M143.3 232.6h1M134.8 227.1h1M148.9 236.3h1M144.3 236.5h1M132.7 226.7h1M151.1 236.1h1M146.4 228.9h1M152.1 228.3h1M125.1 219.4h1M139.9 234.7h1M134.6 232.6h1M139.0 224.3h1M141.5 226.1h1M137.2 234.5h1M132.1 219.4h1M136.8 223.6h1M135.8 230.2h1M130.5 222.0h1M144.6 233.2h1M146.7 224.7h1M143.5 228.6h1M131.5 223.6h1M135.7 234.6h1M151.2 235.5h1M143.1 233.9h1" stroke="#109618" stroke-width="1" fill="none"/>
<path d="M231.9 141.2h1M232.2 176.0h1M235.0 137.4h1M244.5 159.8h1M240.8 168.8h1M232.7 141.2h1M227.3 140.8h1M228.9 134.4h1M248.4 150.6h1M243.3 158.1h1M236.2 141.9h1M245.9 158.6h1M224.5 179.0h1M236.3 152.8h1M240.0 153.5h1M250.3 151.0h1M235.7 147.1h1M231.3 147.9h1M236.7 147.6h1M229.2 131.6h1M243.6 136.0h1M243.4 158.6h1M246.3 153.2h1M241.7 151.4h1M244.5 165.3h1M222.8 126.8h1M225.5 179.0h1M242.5 134.4h1M236.6 138.9h1M234.5 150.3h1M229.8 133.4h1M226.2 133.8h1M232.2 147.9h1M234.0 129.4h1M245.8 166.7h1M227.0 126.1h1M219.7 181.1h1M243.6 145.4h1M227.4 136.8h1M237.4 126.4h1M247.3 154.9h1M243.7 146.6h1M243.3 132.2h1M227.5 144.5h1M246.3 144.4h1M227.4 145.2h1M225.9 176.9h1M234.3 133.3h1M236.1 166.3h1M241.9 131.4h1M237.7 127.7h1M224.3 136.6h1M226.1 133.8h1M241.9 140.1h1M235.7 132.4h1M241.6 141.7h1M236.3 176.5h1M240.7 151.4h1M228.1 176.7h1M218.7 186.4h1M229.2 143.5h1M231.0 176.3h1M232.8 140.2h1M235.6 143.5h1M245.4 150.0h1M247.0 148.6h1M236.9 172.3h1M227.5 179.3h1M244.8 138.4h1M227.0 125.3h1M227.5 136.7h1M243.8 134.6h1M225.5 179.0h1M236.6 133.4h1M240.4 156.1h1M244.6 166.1h1M232.5 137.5h1M240.9 148.1h1M240.3 173.4h1M248.1 142.6h1M238.5 166.0h1M232.0 143.7h1M244.5 165.0h1M236.1 137.3h1M230.5 138.9h1M243.0 172.3h1M241.0 130.2h1M228.0 133.0h1M223.6 135.7h1M246.3 159.1h1M241.1 157.1h1M237.0 135.4h1M245.0 171.6h1M237.7 150.3h1M245.0 168.2h1M234.2 173.9h1M237.5 153.2h1M237.5 172.9h1M240.7 142.2h1M244.2 151.5h1M238.8 132.4h1M241.9 165.7h1M223.2 133.0h1M240.1 134.4h1M230.4 178.7h1M237.6 170.9h1M240.6 148.0h1M234.8 152.3h1M230.5 178.5h1M225.9 137.3h1M235.0 130.2h1M235.6 132.8h1M226.0 136.2h1M223.8 182.4h1M218.7 182.0h1M237.4 170.4h1M233.1 137.8h1M226.3 137.3h1M228.2 135.6h1M238.5 146.8h1M237.6 146.7h1M241.5 138.8h1M244.5 148.2h1M225.4 128.9h1M236.4 127.2h1M228.5 132.1h1M232.8 143.2h1M237.2 136.5h1M224.4 134.6h1M237.4 130.3h1M243.6 152.7h1M220.4 182.6h1M228.0 133.3h1M249.0 154.1h1M244.2 151.4h1M241.0 169.4h1M239.4 152.1h1M244.2 155.3h1M231.5 141.3h1M240.4 166.5h1M243.2 151.2h1M247.0 161.6h1M238.5 174.9h1M224.4 131.3h1M234.4 140.8h1M232.4 136.1h1M223.8 129.7h1M229.1 176.9h1M241.8 173.1h1M220.5 127.9h1M219.3 180.3h1M240.4 139.5h1M220.3 183.3h1M233.9 175.1h1M235.8 171.7h1M241.4 159.8h1M232.6 124.2h1M243.3 140.9h1M235.3 131.7h1M249.4 158.3h1M232.4 142.2h1M244.6 150.8h1M242.0 149.4h1M227.7 130.8h1M227.4 140.6h1M239.8 151.5h1M244.4 152.1h1M239.2 139.0h1M235.8 138.6h1M221.0 181.5h1M240.0 142.4h1M233.9 135.7h1M248.0 156.3h1M240.1 169.5h1M241.7 145.1h1M236.7 145.5h1M221.0 184.2h1M241.0 163.6h1M231.8 175.1h1M227.9 176.3h1M235.7 142.8h1M247.5 154.7h1M218.7 180.0h1M243.6 139.9h1M242.2 132.9h1M241.4 134.1h1M231.2 147.6h1M237.4 138.8h1M224.8 178.0h1M248.4 152.9h1M231.5 144.6h1M246.1 158.3h1M234.3 144.5h1M237.7 152.6h1M245.8 143.7h1M243.9 169.8h1M239.2 158.8h1M227.1 142.0h1M237.1 145.5h1M233.1 149.0h1M240.7 131.3h1M224.5 178.3h1M248.5 153.5h1M221.0 182.3h1M241.9 145.3h1M230.9 147.4h1M228.7 126.6h1M239.6 155.8h1M244.4 146.1h1M234.8 133.0h1M243.0 148.3h1M224.4 138.6h1M237.8 127.8h1M244.0 143.9h1M231.4 139.0h1M224.9 127.1h1M227.5 177.2h1M235.4 138.4h1M247.6 150.6h1M231.9 128.1h1M245.2 162.8h1M236.6 138.4h1M230.5 177.7h1M227.4 140.5h1M224.4 128.8h1M243.1 160.8h1M248.7 160.9h1M228.9 127.8h1M220.9 179.2h1M244.6 133.3h1M230.0 136.1h1M242.0 153.4h1M247.5 147.7h1M228.8 182.0h1M241.3 168.7h1M248.1 160.5h1M239.5 174.4h1M227.1 124.6h1M248.5 148.2h1M248.1 138.2h1M241.8 160.3h1M242.1 144.9h1M216.6 182.6h1M243.1 128.0h1M224.3 130.3h1M223.6 181.7h1M234.2 127.4h1M232.4 128.6h1M223.8 131.9h1M241.6 135.6h1M225.7 141.5h1M235.6 172.4h1M235.1 138.4h1M223.7 126.4h1M226.1 140.8h1M223.1 179.5h1M234.2 147.5h1M246.4 152.7h1M241.4 147.7h1M225.7 131.0h1M248.7 153.1h1M235.6 145.5h1M242.5 132.2h1M231.5 135.7h1M241.7 149.2h1M225.3 136.1h1M234.3 134.8h1M243.7 135.6h1M227.4 127.2h1M220.3 179.7h1M239.1 145.1h1M225.4 130.5h1M241.4 157.2h1M234.8 138.9h1M230.9 178.4h1M227.5 135.9h1M247.9 153.6h1M240.9 129.5h1M230.0 132.9h1M239.5 140.7h1M227.8 137.9h1M224.9 133.5h1M242.7 168.0h1M236.1 135.5h1M250.2 145.4h1M232.7 176.4h1M248.2 146.5h1M244.1 146.9h1M240.0 166.6h1M240.1 137.4h1M228.5 176.7h1M236.1 127.7h1M245.4 135.1h1M222.3 132.5h1M222.6 135.6h1M236.1 139.6h1M222.7 133.9h1M235.1 125.1h1M234.5 133.9h1M235.9 126.3h1M241.9 153.7h1M230.2 179.1h1M242.7 144.2h1M242.3 153.3h1M239.6 156.0h1M235.6 152.3h1M245.1 152.7h1M240.8 140.0h1M234.4 173.0h1M226.8 177.4h1M230.1 178.2h1M239.5 164.0h1M238.4 168.1h1M239.1 131.9h1M227.8 131.0h1M245.0 144.6h1M249.1 152.1h1M230.1 142.7h1M240.7 142.8h1M245.0 145.4h1M240.5 173.4h1M241.4 139.6h1M240.7 141.6h1M228.9 138.8h1M241.6 151.8h1M227.6 139.4h1M222.0 182.4h1M243.0 168.6h1M226.2 125.9h1M230.7 146.4h1M224.1 132.0h1M228.5 125.6h1M244.8 145.6h1M230.9 145.4h1M241.2 151.1h1M227.3 137.2h1M229.1 140.2h1M233.7 135.6h1M222.3 131.0h1M244.5 170.3h1M246.7 142.4h1M240.2 159.6h1M230.0 138.1h1M238.5 170.8h1M225.8 132.2h1M243.5 168.9h1M222.1 182.9h1M235.9 152.7h1M238.6 139.9h1M226.4 138.9h1M244.4 141.4h1M222.3 180.1h1M238.5 149.7h1M239.4 143.5h1M240.9 167.7h1M228.1 131.8h1M224.8 126.4h1M230.5 143.0h1M228.9 135.4h1M242.7 170.2h1M238.4 174.0h1M240.3 143.2h1M239.4 150.1h1M244.9 163.7h1M230.2 125.1h1M243.3 164.0h1M240.0 134.3h1M229.8 145.4h1M224.2 128.5h1M241.6 172.5h1M247.1 155.7h1M224.8 180.9h1M241.0 133.9h1M238.6 144.5h1M229.4 127.0h1M236.8 141.7h1M228.1 143.9h1M246.6 141.5h1M228.1 139.9h1M233.5 136.7h1M225.9 127.0h1M232.0 125.1h1M238.6 140.6h1M241.9 144.6h1M242.4 155.7h1M215.0 178.8h1M241.5 161.4h1M222.3 139.5h1M228.1 126.8h1M231.5 144.3h1M216.9 179.6h1M248.5 158.4h1M250.9 155.8h1M245.9 143.7h1M233.1 173.5h1M218.4 181.9h1M240.9 148.9h1M242.2 152.6h1M233.5 140.8h1M246.5 154.2h1M229.8 139.1h1M231.0 140.0h1" stroke="#DC3912" stroke-width="1" fill="none"/>
<path d="M186.2 96.8h1M191.5 100.4h1M192.2 101.0h1M197.0 102.9h1" stroke="#0099C6" stroke-width="1" fill="none"/>
<path d="M167.8 183.7h1M153.5 192.0h1M165.5 169.7h1M165.2 164.6h1M154.4 196.7h1M191.2 165.6h1M149.0 179.2h1M158.0 198.2h1M180.1 163.2h1M159.5 172.2h1M195.7 153.1h1M155.6 191.4h1M157.7 199.7h1M161.6 173.1h1M187.6 154.3h1M157.9 170.0h1M164.1 179.6h1M167.5 175.0h1M165.7 165.1h1M150.2 197.1h1M163.3 176.3h1M174.3 154.4h1M159.7 168.1h1M155.3 152.1h1M153.9 154.8h1M170.0 163.1h1M171.9 156.6h1M162.9 178.5h1M169.7 152.1h1M164.3 198.0h1M172.1 171.3h1M158.9 210.6h1M187.1 165.2h1M148.7 156.6h1M173.2 157.3h1M159.9 156.1h1M149.2 161.7h1M152.4 184.3h1M138.6 158.7h1M148.9 156.2h1M158.2 205.4h1M164.6 165.0h1M158.1 157.6h1M162.0 200.5h1M160.6 174.1h1M185.4 154.7h1M155.7 166.8h1M172.3 170.1h1M161.6 161.5h1M177.8 159.1h1M167.5 152.6h1M153.4 191.4h1M164.2 140.3h1M176.8 153.0h1M149.4 201.5h1M161.1 157.2h1M141.7 172.8h1M153.2 188.7h1M154.0 195.1h1M179.2 164.7h1M180.1 153.9h1M161.7 186.6h1M147.2 156.1h1M168.9 156.0h1M161.3 206.4h1M147.7 164.3h1M149.6 197.3h1M167.0 157.0h1M158.7 151.4h1M178.9 159.7h1M176.6 161.5h1M177.4 156.1h1M171.3 174.9h1M165.7 172.6h1M153.5 172.5h1M153.4 158.7h1M150.3 158.2h1M186.2 163.6h1M156.8 175.0h1M165.0 167.1h1M156.5 198.9h1M166.2 179.4h1M152.7 157.7h1M154.9 181.8h1M165.7 183.5h1M186.8 158.4h1M150.7 164.2h1M159.1 153.0h1M168.4 169.8h1M155.5 168.0h1M164.1 188.4h1M152.2 159.9h1M162.6 184.1h1M174.5 162.2h1M153.1 156.8h1M157.1 167.6h1M153.8 209.4h1M153.7 192.3h1M179.7 156.1h1M152.8 158.8h1M160.4 197.6h1M171.1 153.8h1M166.9 176.1h1M163.7 181.0h1" stroke="#990099" stroke-width="1" fill="none"/>
<path d="M198.3 181.8h1M194.6 196.9h1M181.3 187.9h1M203.4 152.1h1M180.2 193.6h1M186.8 155.9h1M175.5 182.1h1M173.7 158.9h1M165.6 165.6h1M175.7 188.3h1M181.4 171.9h1M193.0 153.7h1M199.6 197.5h1M190.8 172.8h1M185.4 193.7h1M184.5 154.4h1M177.9 199.0h1M196.4 193.8h1M186.5 183.5h1M169.0 170.6h1M206.3 162.2h1M174.1 197.8h1M186.4 149.6h1M185.5 185.4h1M206.4 160.2h1M163.9 173.3h1M174.4 178.4h1M187.5 146.2h1M173.7 185.3h1M202.7 180.2h1M190.9 189.8h1M167.0 182.8h1M166.4 177.6h1M186.0 192.3h1M166.4 172.2h1M187.3 161.3h1M196.6 163.3h1M201.8 188.8h1M194.5 159.7h1M184.3 188.1h1M155.5 158.2h1M197.6 177.3h1M171.0 198.0h1M174.5 167.2h1M189.9 158.5h1M197.5 181.1h1M165.5 180.8h1M191.6 161.5h1M207.2 165.9h1M182.0 159.7h1M180.8 184.1h1M190.0 186.9h1M164.8 183.4h1M185.9 170.4h1M181.8 162.4h1M180.0 154.7h1M178.3 171.3h1M207.1 154.5h1M180.6 188.7h1M169.9 188.6h1M187.0 167.6h1M162.5 167.3h1M184.3 180.3h1M166.9 177.2h1M211.1 165.9h1M190.8 148.3h1M179.6 167.8h1M191.8 155.7h1M163.7 197.9h1M151.3 177.1h1M171.8 173.6h1M176.3 162.1h1M192.7 184.4h1M186.2 200.5h1M195.8 163.0h1M182.7 192.1h1M186.9 145.9h1M172.5 156.7h1M202.4 154.8h1M181.9 196.4h1M166.9 198.1h1M195.5 183.4h1M169.0 183.9h1M188.3 175.2h1M179.7 164.0h1M179.3 190.5h1M176.3 177.4h1M165.7 163.5h1M200.3 179.6h1" stroke="#FF9900" stroke-width="1" fill="none"/>
<path d="M190.1 194.6h1M173.1 185.8h1M164.7 184.0h1M152.6 223.9h1M147.0 202.5h1M193.8 225.8h1M199.9 216.7h1M171.5 181.2h1M162.9 181.0h1M196.5 193.4h1M169.8 232.6h1M145.8 221.1h1M204.2 217.9h1M150.5 218.9h1M197.4 215.8h1M188.9 227.2h1M152.7 182.4h1M151.4 189.5h1M201.5 204.7h1M194.7 193.2h1M156.8 223.1h1M178.8 229.1h1M204.0 208.7h1M140.1 202.2h1M152.6 217.3h1M175.8 188.4h1M156.3 222.3h1M174.5 187.6h1M172.6 231.6h1M201.9 202.0h1M203.7 201.9h1M157.2 183.3h1M148.6 195.8h1M148.0 193.3h1M187.9 230.0h1M178.8 232.1h1M192.0 227.4h1M155.4 221.8h1M200.3 205.2h1M193.2 223.4h1M148.6 175.8h1M159.7 225.6h1M154.2 222.0h1M199.1 212.0h1M182.0 189.4h1M182.7 194.0h1M153.1 215.1h1M182.5 229.7h1M150.9 204.2h1M168.3 185.4h1M160.8 227.0h1M169.8 230.1h1M151.7 207.9h1M156.5 223.2h1M169.0 184.5h1M153.8 192.5h1M152.4 195.5h1M150.6 200.6h1M178.3 190.8h1M154.5 221.6h1M143.7 196.5h1M181.1 190.9h1M195.0 224.1h1M155.6 223.5h1M179.5 192.6h1M163.2 179.7h1M205.3 215.4h1M171.8 185.9h1M200.9 219.5h1M188.1 228.1h1M194.5 220.6h1M205.1 216.3h1M174.8 183.2h1M187.7 227.6h1M199.7 196.1h1M150.2 198.8h1M147.1 217.1h1M153.1 194.5h1M174.1 230.0h1M193.8 192.7h1M169.8 230.1h1M207.8 201.5h1M149.2 214.0h1M166.4 239.2h1M180.8 229.2h1M141.7 201.3h1M154.7 223.6h1M180.7 190.5h1M157.7 224.7h1M161.1 178.5h1M182.3 231.8h1M166.9 185.7h1M145.5 205.3h1M173.7 188.7h1M149.3 213.1h1M183.1 228.5h1M203.6 208.2h1M160.0 224.4h1M149.3 206.8h1M149.7 209.0h1M148.2 225.7h1M155.6 188.4h1M174.5 187.5h1M153.8 219.6h1M200.4 211.2h1M198.9 196.3h1M163.0 226.1h1M159.1 185.5h1M155.2 221.5h1M158.8 185.7h1M153.5 216.6h1M158.6 223.0h1M189.9 227.4h1M149.1 186.5h1M139.6 209.5h1M198.5 196.5h1M197.6 221.5h1M174.7 184.0h1M200.6 199.4h1M171.6 231.9h1M200.5 200.4h1M150.2 203.1h1M148.0 204.0h1M157.7 187.0h1M197.5 215.2h1M151.8 195.6h1M149.2 190.3h1M195.8 220.6h1M161.0 183.2h1M196.4 235.0h1M151.7 199.0h1M197.4 216.0h1M148.5 199.0h1M152.1 214.6h1M151.6 209.8h1M200.5 193.0h1M155.9 188.1h1M148.0 226.4h1M181.9 229.2h1M172.2 231.4h1M197.3 224.4h1" stroke="#0099C6" stroke-width="1" fill="none"/>
<path d="M168.1 160.9h1M153.8 166.3h1M171.9 165.6h1M168.8 157.5h1M159.4 150.7h1M156.2 174.9h1M152.7 201.0h1M163.6 156.8h1M145.8 157.8h1M158.0 205.6h1M180.9 157.3h1M166.7 183.1h1M175.7 176.5h1M177.5 167.3h1M163.7 157.6h1M173.0 151.5h1M156.2 172.8h1M165.0 157.2h1M164.8 181.8h1M184.9 164.7h1M167.9 165.8h1M143.0 158.8h1M181.2 165.5h1M165.0 178.6h1M165.1 161.5h1M144.7 161.8h1M160.5 180.4h1M148.1 163.3h1M167.1 166.6h1M155.2 182.9h1M185.1 161.0h1M145.5 156.2h1M162.8 184.6h1M151.9 162.8h1M172.2 169.5h1M159.9 200.2h1M177.4 158.1h1M185.1 164.5h1M155.3 164.7h1M167.2 176.0h1M168.7 161.1h1M156.2 198.3h1M174.7 170.9h1M155.1 187.2h1M164.0 200.3h1M169.2 175.7h1M153.2 150.0h1M163.9 173.1h1M156.3 179.5h1M165.1 184.8h1M150.9 168.2h1M153.5 164.0h1M171.2 155.9h1M166.2 165.9h1M149.0 158.4h1M141.9 148.3h1M164.2 200.8h1M149.0 166.6h1M165.9 158.2h1M161.4 150.2h1M171.5 155.5h1M155.1 177.0h1M151.0 202.3h1M159.1 153.7h1M187.1 160.3h1M159.1 178.4h1M184.1 159.8h1M159.0 164.0h1M173.1 159.2h1M146.6 164.6h1M147.0 160.1h1M167.8 177.5h1M154.7 188.6h1M167.4 172.2h1M169.4 164.8h1M152.5 182.8h1M154.8 171.8h1M160.3 205.8h1M146.5 164.9h1M155.1 197.9h1M170.0 154.6h1M179.9 148.0h1M144.6 157.5h1M187.9 157.1h1M187.9 164.5h1M150.7 160.1h1M165.0 191.8h1M178.9 168.5h1M156.1 169.6h1M170.8 156.1h1M157.0 155.3h1M162.5 192.8h1M153.7 190.9h1M170.4 156.7h1M154.5 172.6h1M176.8 166.6h1M165.0 194.5h1M167.5 192.8h1M173.1 149.3h1M160.5 181.1h1M161.3 173.0h1M166.0 169.6h1M158.4 158.9h1M154.8 199.4h1M174.1 161.3h1" stroke="#990099" stroke-width="1" fill="none"/>
<path d="M175.8 158.6h1M175.4 157.9h1M182.2 158.4h1M196.9 184.2h1M197.6 179.4h1M183.3 195.2h1M171.1 187.3h1M197.3 187.2h1M169.9 178.8h1M200.0 164.7h1M173.0 159.3h1M198.1 185.2h1M195.5 196.1h1M199.5 186.8h1M164.9 164.5h1M196.2 189.5h1M184.2 157.6h1M172.4 155.6h1M199.6 194.1h1M168.1 178.1h1M174.8 190.4h1M175.7 189.7h1M190.6 195.3h1M196.6 161.0h1M185.1 158.6h1M164.9 167.4h1M198.3 178.7h1M201.0 165.6h1M194.2 192.9h1M197.7 195.5h1M188.5 194.7h1M173.9 186.1h1M188.9 194.6h1M189.0 199.0h1M197.9 192.7h1M170.0 181.5h1M196.2 188.5h1M199.1 171.6h1M191.5 194.6h1M198.2 171.6h1M196.9 183.1h1M168.7 163.1h1M163.4 174.3h1M174.7 186.6h1M171.8 160.1h1M164.7 171.9h1M199.4 183.6h1M163.6 176.6h1M171.9 181.9h1M168.7 178.3h1M190.9 156.8h1M169.2 178.7h1M176.0 193.1h1M171.8 181.3h1M198.3 170.2h1M196.6 160.2h1M197.7 162.5h1M179.2 158.3h1M197.0 183.7h1M197.7 161.9h1M197.3 177.8h1M179.6 154.9h1M167.5 180.2h1M174.9 185.6h1M197.1 176.8h1M179.8 190.7h1M165.2 166.7h1M196.6 179.1h1M195.3 199.3h1M199.0 159.0h1M196.0 180.7h1M194.9 195.0h1M186.9 156.0h1M175.9 195.9h1M181.2 157.0h1M196.7 177.3h1M194.8 192.2h1M182.3 192.7h1" stroke="#FF9900" stroke-width="1" fill="none"/>
<path d="M125.9 150.4h1M52.5 130.0h1M88.8 132.6h1M53.0 100.7h1M77.4 120.5h1M95.0 138.1h1M80.9 182.0h1M65.1 102.9h1M119.3 228.3h1M158.6 185.2h1M81.3 182.3h1M95.1 135.6h1M134.5 154.4h1M91.8 136.2h1M120.3 229.2h1M95.1 138.3h1M147.1 157.2h1M86.5 197.4h1M61.6 102.4h1M100.7 212.0h1M73.6 165.6h1M71.7 165.5h1M114.2 145.4h1M126.4 223.9h1M156.2 152.9h1M106.1 216.8h1M125.4 226.5h1M141.5 160.2h1M137.5 158.8h1M108.0 140.9h1M72.0 114.0h1M99.5 209.4h1M146.9 156.1h1M158.4 152.2h1M49.8 109.1h1M97.6 208.1h1M135.5 157.0h1M77.7 174.3h1M73.8 166.0h1M136.2 216.4h1M158.2 186.3h1M53.4 104.1h1M103.1 212.7h1M150.9 154.4h1M94.6 138.0h1M100.4 140.1h1M89.3 134.3h1M136.0 216.4h1M57.3 141.0h1M54.1 103.3h1M122.1 147.6h1M100.6 138.6h1M159.5 181.7h1M76.6 172.5h1M94.5 138.2h1M137.5 158.1h1M80.6 125.1h1M63.1 147.8h1M127.1 220.7h1M148.4 156.2h1M151.0 205.2h1M51.0 106.1h1M97.7 207.2h1M169.2 156.1h1M155.9 194.5h1M125.3 149.6h1M51.0 107.7h1M152.9 203.7h1M51.8 105.6h1M50.9 122.3h1M170.0 162.9h1M102.2 215.0h1M74.9 168.9h1M131.9 154.5h1M52.8 104.8h1M106.6 142.2h1M96.7 209.1h1M49.4 112.4h1M137.7 157.8h1M74.6 168.7h1M61.9 102.5h1M154.3 199.7h1M68.7 156.2h1M130.6 219.2h1M53.8 103.5h1M101.9 213.3h1M164.2 151.7h1M65.8 151.3h1M142.8 160.2h1M84.9 130.1h1M68.1 156.0h1M72.9 164.4h1M75.1 170.4h1M149.3 153.9h1M104.0 141.3h1M105.1 215.4h1M169.9 165.0h1M133.1 154.5h1M149.6 155.3h1M165.8 152.0h1M116.3 144.4h1M57.1 149.6h1M136.4 152.1h1M66.2 152.2h1M83.0 184.8h1M120.3 147.9h1M76.2 171.5h1M51.8 131.7h1M122.1 229.2h1M65.7 104.1h1M155.5 196.1h1M54.0 132.6h1M154.5 153.3h1M51.1 129.0h1M150.4 153.2h1M164.2 150.5h1M92.7 201.1h1M156.6 192.3h1M119.2 230.1h1M156.1 153.3h1M109.4 223.3h1" stroke="#990099" stroke-width="1" fill="none"/>
<path d="M146.7 246.6h1M174.4 263.0h1M141.7 249.7h1M164.5 254.9h1M164.3 265.1h1M172.5 259.5h1M153.5 245.1h1M168.0 266.8h1M172.2 267.1h1M143.8 250.0h1M159.7 248.2h1M152.6 260.7h1M160.6 264.0h1M152.9 245.8h1M174.6 261.5h1M142.5 247.5h1M175.4 260.8h1M148.7 257.2h1M166.3 257.6h1M169.1 266.4h1M147.8 256.8h1M159.5 246.2h1M170.1 266.5h1M159.1 264.5h1" stroke="#109618" stroke-width="1" fill="none"/>
<path d="M138.4 179.8h1M135.7 182.1h1M144.1 185.2h1M152.9 199.7h1M140.7 207.2h1M146.9 194.0h1M156.8 220.3h1M135.9 204.4h1M138.4 217.0h1M159.9 191.8h1M146.3 215.6h1M160.8 197.8h1M155.9 211.7h1M150.1 221.5h1M154.5 214.8h1M144.7 215.7h1M141.3 184.3h1M137.7 187.4h1M144.6 194.5h1M154.6 195.0h1M155.9 197.0h1M147.3 215.8h1M136.3 190.9h1M143.3 196.9h1M141.9 208.3h1M145.4 212.0h1M137.7 211.8h1M154.1 201.4h1M134.0 199.4h1M125.3 178.0h1M145.0 207.8h1M149.5 194.3h1" stroke="#0099C6" stroke-width="1" fill="none"/>
<path d="M189.6 270.8h1M178.4 262.4h1M187.6 258.7h1M183.6 260.4h1M178.7 262.1h1M187.2 268.8h1M171.8 264.6h1M203.6 258.6h1M175.6 268.1h1M201.4 250.3h1M199.4 248.9h1M196.5 247.6h1M203.6 256.7h1M172.4 268.2h1M174.4 264.0h1M191.3 255.8h1M194.3 269.9h1M199.6 266.3h1M180.0 262.1h1M194.4 249.5h1M190.7 256.7h1M202.7 256.6h1M195.0 246.6h1M185.2 259.8h1M202.5 253.0h1M188.3 258.5h1M173.5 267.0h1M187.2 269.2h1M170.7 265.7h1" stroke="#3366CC" stroke-width="1" fill="none"/>
<path d="M197.5 166.8h1M197.3 171.6h1M167.1 180.3h1M186.6 195.9h1M170.9 156.7h1M189.5 155.0h1M183.8 194.0h1M191.9 157.6h1M162.5 170.3h1M169.9 160.3h1M189.3 152.9h1M167.6 163.6h1M197.7 173.3h1M198.1 173.8h1M197.3 172.3h1M188.4 158.0h1M197.7 191.4h1M196.5 188.2h1M189.2 158.0h1M196.5 159.1h1M196.2 192.6h1M196.1 182.2h1M171.3 180.3h1M197.4 157.9h1M196.9 158.5h1M174.1 186.1h1M187.5 150.8h1M200.2 172.8h1M196.1 180.0h1M189.0 195.3h1M198.2 160.6h1M177.8 189.4h1M196.2 188.8h1M163.7 172.8h1M189.6 198.1h1M198.5 166.3h1M169.1 156.4h1M196.9 177.1h1M184.2 193.3h1M198.1 163.1h1M191.2 195.2h1M182.1 156.9h1M169.3 200.9h1M179.4 158.6h1M201.5 161.7h1M199.1 189.4h1M198.5 174.5h1M187.6 194.3h1M198.3 168.3h1M197.8 169.5h1M197.1 169.6h1M166.9 164.4h1M191.9 157.2h1M160.2 201.7h1M172.8 160.0h1M196.2 183.1h1M185.7 158.4h1M190.6 200.7h1M198.5 175.4h1M169.7 183.5h1M170.0 178.7h1M181.1 159.1h1M188.2 155.9h1M198.1 167.7h1M170.0 159.9h1M199.5 176.2h1M196.8 183.9h1M167.1 161.9h1M166.0 175.1h1M192.0 158.0h1M165.8 171.6h1M182.0 195.8h1M196.6 177.9h1M181.8 192.4h1M169.5 162.8h1M198.8 165.0h1M185.1 158.3h1M200.4 189.1h1" stroke="#FF9900" stroke-width="1" fill="none"/>
<path d="M168.2 259.2h1M161.0 256.2h1M173.3 260.6h1M165.1 254.7h1M158.9 252.3h1M168.8 249.4h1M167.2 251.0h1M167.1 250.5h1M169.1 255.6h1M170.2 261.3h1M170.6 255.2h1M175.4 258.4h1M169.9 250.9h1M171.5 257.9h1M164.6 249.8h1M166.2 261.0h1M165.5 247.3h1M167.4 252.5h1M169.6 252.5h1M168.7 253.4h1M168.6 257.9h1M165.5 257.9h1M164.5 256.2h1M173.0 260.2h1M173.6 261.7h1M172.3 251.9h1M157.6 251.5h1" stroke="#109618" stroke-width="1" fill="none"/>
<path d="M199.8 99.9h1M214.9 112.1h1M207.8 113.0h1M207.0 106.3h1M209.9 119.8h1M205.4 117.2h1M208.9 116.2h1M199.5 98.0h1M203.1 97.5h1M199.8 100.4h1M214.0 115.0h1M213.8 113.7h1M207.2 108.8h1M205.8 114.2h1M210.5 114.7h1M205.8 106.7h1M215.3 110.5h1M206.7 103.0h1M209.5 117.7h1M204.6 98.6h1M201.4 95.6h1M203.2 96.0h1M215.0 116.7h1M203.1 99.0h1M208.6 109.5h1M212.8 113.4h1M212.3 114.6h1M203.8 115.8h1M200.6 111.9h1M215.2 114.1h1M205.6 103.2h1M210.9 116.1h1M214.4 116.3h1" stroke="#66AA00" stroke-width="1" fill="none"/>
<path d="M201.4 117.7h1M201.9 157.5h1M186.1 147.4h1M186.5 125.9h1M197.4 117.8h1M210.2 153.0h1M207.5 149.6h1M196.4 160.2h1M215.1 144.7h1M186.6 130.0h1M225.3 123.4h1M209.7 116.3h1M188.0 151.0h1M224.7 126.9h1M218.7 116.1h1M226.9 123.0h1M225.2 131.2h1M225.9 129.7h1M185.7 134.4h1M217.1 139.4h1M184.7 135.5h1M201.0 117.3h1M223.4 130.5h1M194.5 166.2h1M186.3 127.9h1M193.4 117.4h1M213.3 116.9h1M217.3 139.5h1M190.3 156.3h1M208.6 155.1h1M196.4 117.0h1M185.0 142.2h1M198.4 158.8h1M221.9 119.0h1M213.9 117.9h1M227.4 126.0h1M189.0 154.3h1M211.8 118.2h1M209.2 118.2h1M225.2 123.0h1M202.7 156.9h1M186.3 122.3h1M187.6 151.8h1M205.4 152.6h1M225.2 121.8h1M200.0 117.9h1M187.0 148.1h1M191.4 117.6h1M192.8 117.3h1M216.4 140.1h1M213.6 116.0h1M186.2 135.3h1" stroke="#66AA00" stroke-width="1" fill="none"/>
<path d="M197.7 165.7h1M181.4 185.1h1M202.3 175.8h1M201.4 159.6h1M194.6 182.1h1M176.1 168.3h1M181.8 162.9h1M189.8 173.1h1M192.7 193.7h1M183.2 196.8h1M193.5 174.2h1M206.0 179.0h1M179.3 171.9h1M183.5 178.1h1M186.0 185.5h1M181.7 173.2h1M195.8 169.4h1M188.7 169.0h1M195.9 182.3h1M191.5 178.9h1M200.3 180.0h1M202.1 173.6h1M188.5 182.5h1M197.2 164.1h1M197.6 184.4h1M193.0 190.0h1M184.5 202.4h1M195.2 188.0h1M181.2 187.1h1M189.3 195.7h1M195.8 188.8h1" stroke="#0099C6" stroke-width="1" fill="none"/>
<path d="M187.4 233.8h1M201.8 204.7h1M186.0 225.7h1M198.0 209.6h1M194.3 226.1h1M145.4 229.3h1M196.2 244.7h1M199.7 228.7h1M195.3 222.8h1M203.4 221.5h1M166.4 233.3h1M185.0 224.5h1M172.2 222.4h1M185.9 223.7h1M173.9 243.8h1M201.3 211.6h1M194.4 240.2h1M191.1 236.8h1M157.5 229.2h1M202.6 220.1h1M174.6 221.5h1M151.6 229.2h1M193.4 215.6h1M192.2 215.1h1M160.9 224.9h1M150.6 226.9h1M155.4 230.6h1M160.3 231.0h1M154.9 237.2h1M205.8 210.0h1M188.8 231.3h1M202.4 227.4h1M185.7 218.3h1M195.3 227.3h1M157.7 230.6h1M183.2 227.8h1M165.4 231.3h1M192.1 222.3h1M181.3 228.2h1M167.5 232.5h1M169.2 241.9h1M178.5 237.5h1M201.2 209.2h1M195.5 234.7h1M202.0 208.7h1M174.6 227.8h1M184.1 212.0h1M190.8 229.0h1M174.4 236.1h1" stroke="#0099C6" stroke-width="1" fill="none"/>
<path d="M194.9 156.6h1M199.7 186.8h1M198.3 173.0h1M201.1 167.7h1M199.3 160.1h1M197.1 172.4h1M194.0 171.8h1M201.4 184.5h1M196.8 169.2h1M197.4 174.4h1M192.8 180.1h1M195.8 172.7h1M195.9 182.6h1M195.8 177.2h1" stroke="#DD4477" stroke-width="1" fill="none"/>
<path d="M192.6 165.3h1M184.7 152.2h1M194.4 164.4h1M187.7 156.7h1M184.6 162.5h1M198.1 184.0h1M190.5 166.8h1M193.0 172.8h1M195.9 178.3h1M193.7 174.4h1M198.4 163.4h1M197.5 183.0h1M198.7 177.8h1M192.0 173.5h1" stroke="#DD4477" stroke-width="1" fill="none"/>
<path d="M184.8 256.0h1M193.2 257.0h1M188.5 252.8h1M179.6 258.9h1M189.4 254.2h1M189.3 256.4h1M187.5 254.1h1M183.2 261.8h1M186.0 254.8h1M188.7 246.6h1M196.6 248.7h1M181.4 255.7h1M187.0 254.2h1M197.0 244.6h1M179.8 267.4h1M186.4 256.6h1M193.8 248.4h1M192.0 254.2h1M182.6 261.0h1M193.2 255.3h1M185.8 259.6h1M184.9 263.5h1M180.7 259.6h1M191.5 246.2h1M184.8 257.6h1M181.1 266.6h1M186.3 255.9h1M193.8 244.0h1M189.5 252.0h1M196.5 251.5h1M191.1 253.3h1M195.6 244.7h1M197.5 252.0h1M179.1 259.6h1M178.6 260.4h1M190.8 241.5h1M190.3 247.7h1M196.1 239.8h1" stroke="#3366CC" stroke-width="1" fill="none"/>
<path d="M188.7 156.1h1M198.2 186.5h1M199.9 170.5h1M169.0 146.4h1M190.4 191.0h1M168.3 169.5h1M199.6 147.8h1M200.8 160.2h1M172.5 212.5h1M196.0 158.5h1M196.5 153.8h1M181.8 200.7h1M186.7 160.3h1M200.2 181.1h1M191.5 165.7h1M175.6 170.8h1M183.2 193.4h1M191.9 204.2h1M168.5 173.2h1M183.4 172.2h1M199.4 169.4h1M197.9 215.4h1M189.4 201.3h1M189.6 197.3h1M183.1 185.8h1M206.3 160.1h1M194.3 143.3h1M179.2 161.2h1M190.2 183.7h1M189.0 166.9h1M207.2 183.9h1M182.0 160.0h1M182.4 171.6h1M153.6 142.7h1M171.1 162.7h1M214.5 174.6h1M184.4 156.1h1M191.7 162.9h1M191.3 157.4h1M202.1 172.7h1M192.5 168.3h1M187.0 174.0h1M201.4 204.4h1M192.1 197.9h1M184.8 187.0h1M170.7 181.7h1M181.4 187.4h1M170.1 180.3h1M177.6 172.9h1M197.8 162.4h1M176.2 164.0h1M206.8 163.1h1M183.4 178.0h1M200.7 193.5h1M177.3 191.4h1M206.4 165.2h1M192.9 156.3h1M178.1 204.8h1M183.6 196.9h1M163.2 173.3h1M199.5 155.5h1M173.0 156.5h1M178.5 154.5h1M166.4 155.8h1M165.8 179.0h1M182.9 192.6h1M210.2 163.1h1M178.1 197.3h1M187.4 163.8h1M169.8 189.2h1M194.2 186.8h1M189.4 184.6h1M190.8 162.4h1M169.2 174.7h1M183.7 159.2h1M168.5 156.6h1M200.6 154.3h1M184.2 150.1h1M155.0 179.7h1M186.7 172.9h1M185.7 195.1h1M183.9 186.2h1M202.7 153.3h1M184.8 170.3h1M196.3 192.2h1M186.2 195.0h1M190.9 181.8h1M176.7 185.1h1" stroke="#FF9900" stroke-width="1" fill="none"/>
<path d="M237.3 169.1h1M245.5 149.9h1M229.9 124.7h1M216.0 182.6h1M240.8 149.4h1M235.9 132.8h1M235.3 136.9h1M238.0 129.7h1M242.0 156.2h1M246.6 154.2h1M245.9 154.0h1M237.1 174.9h1M227.2 139.8h1M225.3 180.0h1M245.5 142.4h1M233.8 177.9h1M241.4 136.7h1M237.8 143.1h1M240.0 132.7h1M224.8 178.1h1M242.3 127.2h1M233.2 148.3h1M239.4 137.2h1M245.0 139.0h1M233.2 173.9h1M231.3 136.6h1M238.4 137.6h1M233.8 139.9h1M244.0 144.4h1M227.4 132.8h1M224.3 137.2h1M232.7 124.3h1M233.4 134.9h1M230.6 139.1h1M243.4 163.3h1M230.6 143.5h1M223.6 178.9h1M223.1 181.4h1M247.0 143.7h1M246.2 168.1h1M233.0 143.1h1M225.4 123.5h1M220.3 179.9h1M242.4 161.0h1M239.0 135.6h1M242.3 164.6h1M246.6 159.6h1M234.9 149.6h1M235.6 135.0h1M243.2 149.6h1M250.3 157.1h1M224.0 125.6h1M229.6 138.0h1M238.2 148.2h1M233.0 120.2h1M224.1 182.2h1M227.4 126.0h1M244.2 142.2h1M218.6 180.6h1M236.8 127.2h1M242.4 147.6h1M241.4 141.3h1M241.4 161.3h1M228.0 137.9h1M217.5 182.2h1M241.5 151.7h1M227.8 138.8h1M244.9 147.6h1M238.7 144.9h1M228.7 178.5h1M231.3 123.6h1M227.6 135.5h1M222.9 129.6h1M228.9 145.6h1M216.3 184.5h1M225.3 180.3h1M229.5 129.7h1M240.3 143.4h1M237.3 144.3h1M244.1 147.4h1M221.9 186.2h1M230.0 140.1h1M238.3 148.6h1M215.8 184.0h1M233.8 140.7h1M223.0 144.8h1M229.1 144.3h1M235.5 153.3h1M239.7 159.2h1M228.0 137.7h1M226.2 138.6h1M230.1 138.6h1M243.3 136.1h1M221.8 177.6h1M229.2 124.9h1M247.6 157.2h1M249.6 154.9h1M248.6 148.9h1M243.0 157.6h1M224.6 125.2h1M231.3 175.1h1M233.3 139.3h1M238.7 171.7h1M245.7 151.8h1M247.5 157.3h1M231.1 141.2h1M236.4 147.6h1M235.4 131.2h1M231.8 143.5h1M238.8 147.8h1M219.0 181.7h1M240.6 146.3h1M250.4 151.0h1M234.7 133.2h1M224.1 131.7h1M230.9 178.7h1M242.3 163.3h1M241.7 173.5h1M237.0 130.8h1M233.0 143.7h1M234.3 143.1h1M220.0 183.5h1M241.4 147.3h1M227.6 137.3h1M228.1 143.2h1M240.1 136.6h1M247.5 150.1h1M226.3 124.0h1M234.2 129.5h1M230.0 132.8h1M246.5 145.3h1M238.9 154.0h1M236.7 153.2h1M228.8 147.5h1M226.6 125.1h1M241.2 146.8h1M244.0 161.2h1M225.8 141.9h1M227.1 129.4h1M237.6 130.6h1M229.1 135.2h1M235.0 149.2h1M220.6 137.2h1M245.7 158.2h1M235.2 128.4h1M238.6 154.2h1M220.5 182.4h1M232.8 140.3h1M244.0 151.5h1M233.1 139.0h1M230.8 127.0h1M228.5 133.1h1M226.6 133.0h1M245.5 150.7h1M239.5 145.5h1M231.1 136.0h1M231.6 176.5h1M243.5 168.1h1M242.4 147.3h1M245.8 159.9h1M230.5 179.1h1M245.8 170.8h1M235.2 149.0h1M231.9 137.8h1M239.2 170.2h1M227.5 145.3h1M237.7 137.3h1M224.6 126.5h1M241.4 162.8h1M223.1 128.5h1M227.4 144.4h1M221.5 125.7h1M241.4 172.6h1M236.4 172.4h1M221.3 131.2h1M240.3 133.4h1M231.2 131.7h1M231.2 133.1h1M244.1 153.1h1M241.6 135.9h1M241.2 162.8h1M238.7 155.1h1M223.4 137.3h1M249.4 161.4h1M241.9 140.5h1M247.1 159.9h1M238.8 154.3h1M245.3 162.9h1M246.0 168.5h1M241.1 132.3h1M235.7 147.4h1M246.8 143.0h1M243.8 146.4h1M232.4 149.7h1M229.7 132.0h1M239.4 136.3h1M247.3 152.9h1M250.2 158.1h1M229.6 129.4h1M231.6 181.1h1M239.0 154.3h1M230.5 178.3h1M242.1 144.3h1M227.3 136.3h1M245.1 140.9h1M229.3 127.2h1M229.6 142.8h1M228.8 177.4h1M224.7 127.6h1M239.8 133.1h1M244.2 158.7h1M229.5 131.4h1M227.6 125.9h1M241.6 135.3h1M242.3 157.8h1M241.5 163.7h1M222.2 182.5h1M247.1 169.7h1M237.2 128.9h1M237.9 137.8h1M236.0 175.4h1M231.9 174.0h1M236.2 144.9h1M238.0 129.4h1M237.7 138.7h1M240.4 161.0h1M225.4 178.2h1M250.6 160.6h1M240.3 146.5h1M240.4 135.0h1M225.6 127.3h1M228.9 137.4h1M224.4 128.6h1M245.4 145.1h1M229.4 133.2h1M233.3 137.5h1M227.9 134.8h1M230.8 177.7h1M250.2 151.4h1M218.2 180.4h1M244.5 134.4h1M239.7 167.9h1M243.5 137.2h1M242.3 170.7h1M245.4 146.5h1M245.8 152.4h1M243.4 140.5h1M232.4 179.7h1M247.6 152.4h1M238.7 141.4h1M227.2 135.2h1M223.4 131.1h1M236.4 146.1h1M231.9 131.2h1M233.0 176.1h1M229.1 142.6h1M218.4 182.3h1M239.3 138.9h1M233.9 128.3h1M227.9 179.1h1M233.4 174.6h1M228.5 178.1h1M215.1 185.0h1M225.1 129.4h1M248.7 149.7h1M240.1 135.5h1M233.3 173.0h1M250.9 152.7h1M245.7 141.1h1M246.0 148.7h1M229.8 144.9h1M223.5 138.4h1M229.4 136.6h1M235.3 150.6h1M228.8 126.3h1M239.0 141.8h1M233.5 178.3h1M225.5 143.4h1M221.7 180.1h1M226.4 141.9h1M237.4 140.0h1M237.9 162.6h1M245.1 146.0h1M234.6 145.3h1M245.7 142.5h1M247.2 167.0h1M226.4 180.0h1M247.2 154.3h1M230.6 178.9h1M245.9 149.4h1M245.2 148.0h1M224.5 126.7h1M236.4 146.4h1M248.4 158.1h1M233.4 175.4h1M234.1 149.1h1M231.4 175.3h1M220.6 181.7h1M222.0 184.1h1M236.2 140.4h1M239.1 128.0h1M225.8 177.2h1M225.4 124.4h1M229.0 143.6h1M229.2 177.9h1M239.2 155.2h1M222.3 184.4h1M235.2 135.2h1M236.7 175.1h1M232.2 138.1h1M236.9 171.6h1M237.3 149.4h1M223.0 129.8h1M227.8 138.6h1M235.6 175.5h1M231.5 145.7h1M233.9 174.0h1M227.9 138.9h1M236.5 144.6h1M238.1 134.4h1M227.2 127.4h1M243.8 143.2h1M224.6 127.3h1M247.7 152.8h1M243.6 157.5h1M239.2 173.7h1M246.2 152.6h1M224.0 178.6h1M249.8 164.7h1M243.6 138.8h1M217.4 180.1h1M236.6 130.5h1M243.2 138.6h1M217.7 183.5h1M235.9 148.4h1M234.4 136.8h1M229.6 128.1h1M238.5 148.1h1M221.0 181.0h1M247.4 158.5h1M222.9 140.3h1M240.2 143.5h1M244.5 162.5h1M244.6 148.9h1M235.1 139.1h1M227.4 125.5h1M246.1 164.3h1M247.1 166.0h1M224.6 134.9h1M215.5 180.4h1M243.2 163.6h1M225.8 178.8h1M250.0 162.7h1M226.4 177.2h1M244.8 155.1h1M248.5 165.3h1M227.0 125.0h1M245.2 152.1h1M241.0 157.7h1M229.3 147.0h1M224.1 128.6h1M233.4 139.9h1M235.3 153.2h1M228.5 124.5h1M233.8 135.1h1M237.4 147.2h1M243.5 159.9h1M244.3 159.4h1M233.1 145.4h1M228.2 135.3h1M242.8 156.4h1M244.1 158.9h1M242.5 139.7h1M234.1 138.5h1M237.3 133.4h1M240.7 139.9h1M239.3 171.6h1M228.3 126.0h1M245.8 157.1h1M243.7 161.4h1M247.1 147.5h1M240.0 144.6h1M234.1 130.7h1M224.9 128.0h1M229.2 133.4h1M227.5 137.7h1M243.7 146.0h1M234.7 144.9h1M243.8 135.9h1M244.0 157.2h1M249.0 144.9h1M242.0 165.7h1M234.4 137.2h1M247.1 148.9h1M224.7 135.8h1M236.7 138.4h1M227.1 180.3h1M238.5 160.4h1M246.6 164.2h1M246.0 146.1h1M244.0 153.8h1M240.6 157.8h1M226.4 130.3h1" stroke="#DC3912" stroke-width="1" fill="none"/>
<path d="M192.3 111.9h1M188.1 102.1h1M190.2 100.8h1M189.6 106.7h1M194.7 103.6h1" stroke="#0099C6" stroke-width="1" fill="none"/>
<path d="M165.9 215.7h1M165.8 197.0h1M182.5 186.7h1M173.6 173.9h1M156.9 178.1h1M166.5 170.7h1M161.3 189.8h1M187.5 195.5h1M171.7 209.9h1M167.7 185.9h1M182.6 174.6h1M178.1 170.4h1M146.8 207.2h1M168.2 212.9h1M157.2 205.5h1M175.1 183.3h1M158.8 209.2h1M178.5 199.7h1M173.2 163.2h1M168.0 216.7h1M186.5 185.1h1M169.1 185.7h1M186.9 186.3h1M184.7 192.4h1M162.8 184.7h1M187.5 197.4h1M159.2 201.8h1M162.3 210.5h1M184.2 192.4h1M159.7 212.4h1M171.3 188.6h1M165.8 164.5h1M161.0 174.9h1M173.6 187.6h1M165.7 208.3h1M159.3 184.1h1M185.0 176.4h1M158.0 200.2h1M176.0 188.4h1M192.1 195.7h1M154.4 195.2h1M161.1 175.2h1M176.1 170.9h1M173.0 172.2h1M189.0 178.2h1M178.4 191.1h1M188.3 192.7h1M152.6 193.8h1M162.8 198.5h1M178.3 223.4h1M157.9 198.7h1M160.3 181.2h1M179.3 217.7h1M185.1 187.1h1M159.9 182.3h1M181.0 174.4h1M172.7 171.8h1M174.2 194.5h1M170.2 166.4h1M190.5 178.0h1M177.1 172.0h1M167.0 193.2h1M189.5 178.9h1M178.4 205.5h1M176.6 172.3h1M146.2 188.7h1M183.6 171.6h1M185.7 199.4h1M179.5 198.7h1M165.2 213.3h1M174.1 189.5h1M161.3 187.5h1M177.9 204.8h1M169.9 166.5h1M164.8 199.6h1M171.4 170.7h1M162.8 163.4h1M157.2 189.5h1M154.0 201.4h1M177.1 186.9h1M166.4 206.7h1M175.9 196.9h1M167.9 170.9h1M180.9 184.5h1M150.0 208.9h1M158.8 190.4h1M184.8 172.4h1M152.3 188.6h1M175.3 213.7h1M182.6 215.3h1M155.0 171.9h1M174.9 173.0h1M160.0 183.8h1M166.2 201.0h1M172.2 199.0h1M172.6 167.6h1M178.2 179.2h1M145.6 203.4h1M157.7 178.7h1M150.2 168.8h1M176.3 214.5h1M175.5 211.4h1" stroke="#990099" stroke-width="1" fill="none"/>
<path d="M194.7 163.9h1M180.6 150.4h1M199.0 145.3h1M204.1 168.8h1M198.1 150.5h1M197.6 156.9h1M187.6 149.3h1M192.0 156.7h1M197.8 163.2h1M192.4 153.9h1M198.2 152.3h1" stroke="#66AA00" stroke-width="1" fill="none"/>
<path d="M197.2 88.0h1M190.0 90.9h1M193.6 92.1h1M201.7 91.6h1M198.9 87.7h1M194.7 87.7h1" stroke="#316395" stroke-width="1" fill="none"/>
<path d="M200.1 99.1h1M194.1 93.6h1M196.4 100.2h1M196.6 94.2h1M192.1 92.5h1" stroke="#316395" stroke-width="1" fill="none"/>
<path d="M191.3 91.1h1M189.4 92.9h1M196.6 93.8h1M195.2 87.4h1M190.9 90.9h1M190.2 87.5h1" stroke="#316395" stroke-width="1" fill="none"/>
<path d="M182.9 177.4h1M197.4 188.7h1M188.2 190.9h1M185.4 191.9h1M194.3 185.3h1M186.0 182.0h1M193.2 185.4h1M200.1 190.2h1M178.8 175.8h1M201.4 175.0h1M197.7 190.9h1M193.4 169.1h1M177.9 177.8h1M188.6 168.4h1M185.3 174.8h1M196.8 165.8h1M189.0 171.1h1M194.9 193.8h1M174.4 165.0h1M190.1 161.8h1M179.0 170.1h1M203.6 186.8h1M184.6 188.8h1M187.0 166.5h1M167.4 149.0h1M192.7 184.0h1M183.2 165.7h1M188.3 197.6h1M188.5 152.9h1M188.9 187.4h1M207.4 176.7h1M178.1 159.8h1" stroke="#0099C6" stroke-width="1" fill="none"/>
<path d="M202.3 173.7h1M213.0 177.0h1M226.1 143.6h1M211.9 177.4h1M225.6 179.7h1M233.5 149.8h1M229.2 146.4h1M196.4 155.1h1M209.5 177.9h1M207.2 176.4h1M205.0 176.1h1M206.3 175.9h1M240.0 151.7h1M240.5 161.7h1M237.7 172.1h1M216.3 136.3h1M203.9 174.0h1M241.5 157.2h1M205.2 148.0h1M207.8 182.7h1M242.6 162.5h1M195.8 161.8h1M197.7 154.2h1M206.1 145.7h1M197.6 158.6h1M209.9 176.1h1M227.6 176.9h1M199.2 152.9h1M238.0 170.2h1M233.8 174.3h1M231.3 142.4h1M210.7 141.9h1M197.1 166.5h1M200.4 150.6h1M207.2 176.0h1M233.2 174.3h1M222.6 179.1h1M209.3 133.1h1M224.3 182.3h1M224.7 140.7h1M197.4 171.4h1M236.3 153.5h1M228.3 143.4h1M198.5 155.0h1M195.2 165.6h1M227.8 138.8h1M226.7 142.5h1M216.1 131.6h1M238.0 152.2h1M212.8 139.1h1M196.1 168.0h1M228.3 145.8h1M201.4 172.9h1M196.4 168.6h1M196.4 157.2h1M198.3 174.5h1M200.7 171.1h1M223.9 140.4h1M205.9 145.1h1M233.2 150.5h1M241.4 157.8h1M200.4 153.3h1M207.9 144.0h1M214.3 137.1h1" stroke="#DD4477" stroke-width="1" fill="none"/>
<path d="M186.6 128.8h1M187.2 120.4h1M204.9 154.0h1M206.9 151.7h1M197.3 117.5h1M200.3 157.5h1M200.4 117.8h1M209.6 147.7h1M217.2 140.0h1M195.2 116.7h1M221.6 135.0h1M208.1 150.1h1M197.4 160.1h1M203.6 117.1h1M216.6 116.6h1M220.2 136.3h1M200.1 158.1h1M186.4 131.0h1M208.7 154.2h1M207.2 151.0h1M187.8 119.7h1M208.5 117.4h1M191.3 115.9h1M215.6 141.2h1M186.3 142.1h1M186.9 157.0h1M219.7 137.2h1M187.4 124.4h1M206.5 116.2h1M217.8 138.2h1M209.8 147.4h1M225.8 120.4h1M223.6 130.5h1M203.7 154.5h1M200.4 159.7h1M225.3 122.0h1M199.0 164.1h1M207.9 153.0h1M185.4 138.7h1M184.8 138.4h1M212.7 144.2h1M200.7 157.2h1M216.4 117.8h1M203.7 153.8h1M207.9 150.6h1M216.7 140.2h1M189.7 118.1h1M204.9 152.8h1M209.4 118.1h1M224.9 121.1h1M187.5 118.5h1M185.0 131.6h1" stroke="#66AA00" stroke-width="1" fill="none"/>
<path d="M163.3 70.6h1M171.6 68.6h1M165.3 75.5h1M161.8 77.2h1M175.6 75.4h1M168.9 69.4h1M172.2 68.9h1M174.5 69.9h1M160.9 77.0h1M175.3 77.4h1" stroke="#316395" stroke-width="1" fill="none"/>
<path d="M186.6 229.3h1M163.0 229.8h1M144.7 218.7h1M187.3 235.9h1M150.7 197.5h1M147.8 214.5h1M187.8 227.1h1M177.5 190.9h1M151.3 208.0h1M151.7 196.1h1M154.3 219.9h1M159.9 185.1h1M200.1 202.5h1M160.8 183.2h1M192.6 194.4h1M138.6 207.0h1M151.9 216.0h1M171.9 181.2h1M151.1 184.9h1M200.4 208.2h1M201.4 208.3h1M173.9 185.9h1M158.7 228.8h1M146.3 201.7h1M152.8 219.3h1M173.5 229.5h1M194.0 235.2h1M179.7 185.7h1M152.7 221.7h1M189.1 225.5h1M204.6 216.3h1M155.8 220.3h1M208.7 212.3h1M148.1 194.0h1M208.4 216.4h1M145.2 231.3h1M165.3 184.1h1M184.2 229.3h1M183.6 228.6h1M200.6 196.1h1M202.5 211.3h1M166.9 184.7h1M193.9 225.0h1M200.5 208.4h1M201.0 201.9h1M170.6 186.8h1M173.6 178.1h1M188.9 228.6h1M154.1 186.2h1M188.7 193.3h1M148.4 199.8h1M201.6 214.3h1M183.4 231.7h1M145.4 199.8h1M178.1 231.9h1M145.9 213.0h1M183.3 190.8h1M150.9 220.0h1M183.4 230.5h1M151.2 203.9h1M195.1 219.7h1M150.0 216.8h1M149.9 220.5h1M145.8 201.6h1M151.2 191.6h1M202.4 207.2h1M203.4 208.5h1M151.2 207.4h1M151.7 208.3h1M206.0 217.0h1M164.2 183.7h1M174.8 186.6h1M159.8 227.3h1M197.9 196.3h1M199.3 210.3h1M200.9 188.4h1M150.6 220.0h1M149.5 223.4h1M194.6 193.1h1M148.8 184.8h1M170.8 186.2h1M198.9 211.5h1M174.2 182.1h1M155.8 183.8h1M198.5 223.7h1M150.9 194.7h1M197.9 214.5h1M203.9 211.6h1M199.7 217.5h1M203.2 221.5h1M189.7 190.9h1M153.9 188.7h1M153.7 193.0h1M163.1 183.6h1M153.2 186.2h1M180.6 190.2h1M150.7 208.9h1M171.7 229.1h1M153.2 216.8h1M195.8 220.5h1M209.0 198.1h1M162.9 226.8h1M192.4 193.5h1M188.8 228.4h1M162.8 181.8h1M149.6 201.1h1M151.9 211.8h1M183.6 229.6h1M153.0 216.3h1M203.5 213.3h1M200.6 236.8h1M167.4 185.6h1M159.3 225.1h1M166.5 185.3h1M173.0 229.7h1M150.1 212.4h1M149.4 220.2h1M168.7 181.9h1M158.5 223.2h1M170.8 229.0h1M159.2 185.6h1M176.0 185.8h1M156.7 221.5h1M173.1 187.6h1M177.5 231.4h1M161.8 230.0h1M197.6 216.9h1M146.9 205.7h1M151.3 218.9h1M171.0 230.0h1M198.8 196.9h1M151.7 189.8h1M146.8 210.0h1M191.2 192.2h1M201.7 207.6h1M174.6 229.8h1M165.9 232.3h1M167.0 181.8h1M177.7 185.5h1M156.0 222.9h1M154.4 224.1h1" stroke="#0099C6" stroke-width="1" fill="none"/>
<path d="M192.1 254.3h1M188.9 255.8h1M186.0 253.1h1M193.4 256.8h1M192.1 247.2h1M195.3 245.4h1M192.4 247.7h1M187.2 259.0h1M189.7 253.5h1M177.0 257.3h1M192.4 249.1h1M179.1 260.3h1M183.2 259.3h1M192.5 251.0h1M186.9 256.0h1M193.9 249.9h1M192.4 252.1h1M181.7 259.6h1M189.7 256.5h1M196.3 243.8h1M189.3 249.1h1M192.9 259.8h1M199.3 263.3h1M186.1 257.5h1M192.5 250.5h1M188.3 241.4h1M185.8 258.9h1M186.0 255.9h1M178.4 262.5h1M183.0 260.0h1M195.0 246.9h1M191.9 248.9h1M186.3 255.0h1M198.4 247.1h1M190.3 254.2h1M188.1 246.5h1M195.1 253.5h1M189.6 246.7h1" stroke="#3366CC" stroke-width="1" fill="none"/>
<path d="M148.6 244.6h1M153.7 243.7h1M146.5 247.2h1M172.0 266.8h1M168.4 258.1h1M160.4 252.3h1M149.0 257.9h1M160.9 265.0h1M162.7 254.2h1M171.2 260.2h1M145.5 252.6h1M162.0 253.3h1M158.1 247.5h1M173.5 261.1h1M164.4 255.9h1M146.3 256.5h1M150.5 246.9h1M144.1 245.6h1M144.6 250.9h1M150.1 247.1h1M145.2 253.1h1M154.4 246.4h1M171.1 259.8h1" stroke="#109618" stroke-width="1" fill="none"/>
<path d="M196.6 192.0h1M202.5 172.6h1M214.6 183.1h1M180.6 179.6h1M187.4 165.4h1M168.6 167.6h1M176.2 178.2h1M184.3 180.2h1M200.8 192.3h1M177.3 171.7h1M210.3 186.1h1M192.1 187.5h1M195.8 186.0h1M187.2 177.0h1M189.8 177.6h1M203.1 187.8h1M198.3 167.2h1M174.0 182.6h1M191.6 167.1h1M196.3 188.0h1M188.0 157.2h1M190.5 168.7h1M188.8 188.1h1M182.1 166.1h1M195.3 186.9h1M179.9 172.4h1M182.7 175.4h1M190.9 180.6h1M204.1 164.3h1M186.5 171.4h1M192.7 178.5h1" stroke="#0099C6" stroke-width="1" fill="none"/>
<path d="M142.5 238.7h1M135.7 225.8h1M147.3 237.9h1M132.8 226.5h1M137.1 228.4h1M143.7 228.7h1M142.5 234.0h1M137.4 220.8h1M147.2 230.4h1M148.7 231.6h1M137.9 222.2h1M142.6 241.1h1M134.8 222.0h1M138.8 235.4h1M135.1 231.8h1M136.2 229.3h1M132.5 224.5h1M140.9 236.0h1M133.6 229.2h1M141.5 237.0h1M144.0 231.6h1M143.8 237.4h1M138.7 232.2h1M138.5 230.7h1M140.7 236.2h1M138.5 232.5h1M147.2 234.2h1M135.7 224.2h1M140.5 225.1h1M128.2 224.2h1M133.7 227.5h1" stroke="#109618" stroke-width="1" fill="none"/>
<path d="M205.5 223.1h1M144.6 232.1h1M167.8 240.7h1M195.5 220.2h1M199.9 226.5h1M169.5 233.1h1M183.1 216.7h1M198.1 211.1h1M166.5 231.7h1M178.6 221.2h1M175.4 232.5h1M150.2 231.1h1M202.1 209.0h1M197.2 223.4h1M192.5 222.4h1M146.8 226.7h1M168.3 239.1h1M204.3 207.4h1M174.8 231.5h1M157.7 234.6h1M177.3 229.2h1M193.5 199.6h1M188.4 218.1h1M195.4 240.3h1M188.6 204.4h1M198.2 209.4h1M146.0 224.7h1M154.6 232.7h1M167.8 236.2h1M201.1 205.7h1M190.9 228.8h1M178.7 218.4h1M207.2 217.2h1M186.9 235.4h1M192.1 234.4h1M194.0 213.7h1M200.5 221.9h1M169.8 235.1h1M205.9 223.1h1M200.4 215.1h1M193.0 219.1h1M202.1 237.6h1M194.0 247.6h1M209.3 208.9h1M196.5 233.5h1M182.6 229.1h1M201.0 204.5h1M179.0 226.8h1M177.5 234.6h1" stroke="#0099C6" stroke-width="1" fill="none"/>
<path d="M173.6 267.9h1M203.3 258.5h1M200.6 266.5h1M199.8 249.6h1M201.6 267.7h1M199.2 266.3h1M203.0 260.4h1M193.1 268.5h1M190.6 269.5h1M199.9 249.5h1M172.6 265.9h1M180.2 268.6h1M194.0 252.0h1M176.1 268.6h1M203.6 254.2h1M201.1 252.5h1M182.1 261.4h1M175.2 268.0h1M175.8 268.2h1M183.0 269.2h1M196.1 268.6h1M178.3 268.6h1M173.8 266.9h1M181.6 261.0h1M203.1 255.1h1M188.3 268.9h1M190.6 269.1h1M179.9 261.5h1M203.6 262.6h1" stroke="#3366CC" stroke-width="1" fill="none"/>
<path d="M187.6 245.0h1M196.5 246.2h1M180.4 261.8h1M173.5 266.0h1M185.9 258.4h1M176.2 265.4h1M200.0 244.7h1M193.2 245.4h1M191.4 251.7h1M186.2 255.2h1M186.9 257.1h1M192.7 249.8h1M183.8 259.1h1M190.8 254.3h1M175.2 259.7h1M189.4 256.8h1M193.7 248.3h1M184.4 256.7h1M181.7 271.0h1M191.8 247.6h1M198.1 247.5h1M187.6 262.0h1M195.6 250.3h1M185.6 257.1h1M181.8 261.8h1M183.2 258.3h1M186.8 246.6h1M191.4 255.2h1M177.6 261.5h1M203.7 240.7h1M193.1 249.4h1M191.3 258.4h1M190.9 263.6h1M195.0 242.8h1M189.8 259.2h1M177.3 262.8h1M195.8 250.5h1M189.6 252.5h1" stroke="#3366CC" stroke-width="1" fill="none"/>
<path d="M237.5 129.2h1M243.9 135.2h1M241.7 158.5h1M228.7 125.7h1M229.6 177.3h1M228.5 127.8h1M244.3 167.1h1M245.2 153.0h1M235.5 169.1h1M247.5 143.7h1M240.1 137.8h1M231.6 144.3h1M230.1 140.3h1M222.9 133.9h1M229.1 173.4h1M241.8 149.9h1M246.8 156.4h1M232.2 136.5h1M232.0 124.8h1M228.8 141.6h1M228.0 129.2h1M240.5 172.8h1M233.4 129.0h1M246.3 145.2h1M234.7 135.8h1M246.3 150.7h1M246.1 146.5h1M248.5 157.8h1M233.0 138.4h1M233.0 143.9h1M236.2 175.0h1M242.7 132.5h1M226.4 124.6h1M225.1 127.4h1M246.4 149.6h1M244.8 165.8h1M239.0 159.2h1M242.2 149.5h1M238.6 163.1h1M229.7 147.9h1M244.8 137.9h1M240.9 137.8h1M225.3 126.0h1M233.0 143.0h1M233.3 126.9h1M221.1 131.3h1M226.6 130.2h1M244.0 155.7h1M227.7 134.9h1M240.6 135.4h1M234.4 129.6h1M246.6 145.9h1M248.1 160.9h1M248.2 149.9h1M235.7 150.6h1M229.4 139.1h1M234.3 141.8h1M242.9 138.6h1M235.9 145.9h1M224.8 135.3h1M236.0 140.6h1M223.9 177.7h1M243.3 133.1h1M246.5 160.5h1M228.5 142.5h1M237.6 150.3h1M243.0 147.4h1M246.4 152.6h1M225.5 140.0h1M236.0 145.8h1M242.4 169.5h1M237.6 148.7h1M231.8 139.4h1M245.1 155.9h1M227.9 130.0h1M243.8 135.9h1M246.0 152.5h1M242.1 149.1h1M229.8 133.0h1M245.2 164.0h1M235.2 139.8h1M247.5 146.9h1M239.2 130.7h1M229.5 127.5h1M238.0 137.5h1M236.3 135.8h1M228.5 140.4h1M242.0 151.7h1M244.0 150.1h1M227.0 129.6h1M247.2 141.4h1M240.5 149.3h1M240.5 146.7h1M219.2 180.8h1M244.0 152.9h1M245.8 147.4h1M247.1 158.9h1M245.1 154.9h1M237.6 151.0h1M247.5 165.1h1M237.9 142.1h1M227.3 177.6h1M236.5 136.6h1M235.0 145.5h1M238.0 149.0h1M243.7 135.5h1M239.0 170.2h1M231.6 170.2h1M242.6 164.8h1M227.3 142.0h1M235.7 135.6h1M229.0 177.0h1M228.1 126.3h1M249.3 144.5h1M232.0 132.4h1M247.6 157.7h1M247.3 146.2h1M237.6 152.5h1M243.3 154.7h1M235.1 147.7h1M217.5 179.4h1M244.9 160.7h1M232.1 145.5h1M238.2 127.6h1M231.2 136.5h1M247.2 144.6h1M228.6 141.9h1M231.4 126.5h1M239.1 143.6h1M243.2 166.6h1M228.6 131.5h1M245.9 167.0h1M227.6 140.5h1M240.8 170.4h1M240.6 141.5h1M235.0 146.3h1M240.0 158.1h1M214.8 183.2h1M237.5 153.1h1M247.7 144.6h1M231.0 136.3h1M229.6 125.9h1M241.5 168.8h1M218.5 181.7h1M242.2 149.5h1M241.4 169.5h1M243.9 141.5h1M242.3 159.2h1M241.4 156.9h1M244.5 166.1h1M219.0 181.3h1M225.6 138.5h1M250.0 164.6h1M230.0 126.5h1M235.7 134.3h1M236.2 143.6h1M224.7 182.7h1M224.9 141.4h1M247.2 159.2h1M227.4 178.1h1M236.5 129.0h1M234.8 144.8h1M238.5 140.8h1M239.4 167.9h1M246.4 166.8h1M237.4 142.5h1M245.8 164.9h1M236.1 143.0h1M245.1 154.7h1M240.2 150.1h1M242.2 159.5h1M240.9 147.3h1M246.5 163.8h1M245.1 140.0h1M247.8 157.5h1M240.2 159.8h1M247.5 148.9h1M236.8 129.9h1M241.5 156.4h1M241.3 135.8h1M230.5 174.9h1M226.9 132.8h1M236.1 147.4h1M243.7 140.6h1M227.6 128.0h1M233.9 127.2h1M242.2 152.6h1M241.7 139.8h1M235.2 173.2h1M239.1 138.4h1M249.4 159.9h1M238.5 126.6h1M240.4 170.2h1M235.5 145.1h1M228.6 137.3h1M234.7 128.8h1M227.1 177.3h1M230.2 179.1h1M242.8 134.5h1M236.3 148.1h1M242.9 136.6h1M243.3 161.8h1M241.9 170.4h1M232.0 131.2h1M247.8 149.5h1M229.1 143.0h1M222.8 131.5h1M237.7 147.2h1M232.6 138.2h1M231.5 128.2h1M241.4 170.5h1M231.6 127.0h1M238.8 175.2h1M235.3 138.6h1M239.0 136.8h1M227.3 142.1h1M236.0 150.6h1M245.3 139.5h1M237.6 171.8h1M232.5 135.6h1M246.9 162.7h1M248.5 156.5h1M239.6 172.1h1M230.3 173.1h1M238.1 143.1h1M242.5 152.1h1M239.9 152.6h1M249.3 158.4h1M238.4 129.2h1M228.7 133.2h1M237.2 126.2h1M228.7 128.6h1M235.0 128.6h1M219.1 183.2h1M235.3 144.2h1M232.5 137.5h1M240.5 137.1h1M247.2 146.5h1M241.7 138.6h1M235.2 140.9h1M234.5 131.3h1M223.3 134.0h1M247.3 165.6h1M229.1 134.3h1M224.0 129.3h1M228.4 125.5h1M238.2 126.9h1M226.0 178.6h1M245.5 161.8h1M227.4 136.4h1M230.0 146.4h1M230.9 146.5h1M238.2 148.0h1M231.6 177.8h1M241.1 145.0h1M244.0 168.9h1M242.1 134.9h1M247.6 145.9h1M228.1 129.3h1M238.2 143.8h1M241.4 163.1h1M231.2 141.8h1M245.7 140.9h1M233.1 173.7h1M244.0 169.7h1M230.7 178.0h1M243.3 158.2h1M230.2 127.5h1M227.6 176.4h1M226.4 181.2h1M230.0 126.4h1M240.4 166.5h1M246.7 153.5h1M230.6 142.8h1M228.4 131.7h1M229.0 125.0h1M241.4 162.7h1M232.6 144.2h1M239.5 142.1h1M232.7 136.5h1M236.3 175.5h1M233.2 134.2h1M245.9 159.7h1M224.2 129.4h1M218.5 180.6h1M236.1 146.2h1M243.9 154.6h1M243.3 158.6h1M237.0 126.1h1M240.8 138.4h1M244.2 141.2h1M225.6 178.4h1M226.6 136.4h1M228.9 175.8h1M237.6 170.9h1M225.3 128.0h1M245.6 152.3h1M216.8 178.9h1M234.5 150.8h1M244.6 141.5h1M239.8 164.0h1M246.7 163.7h1M249.5 146.4h1M228.2 130.1h1M240.6 159.1h1M237.4 131.0h1M237.9 141.9h1M233.5 140.6h1M236.9 135.5h1M223.0 135.8h1M246.7 158.9h1M233.7 142.8h1M238.3 147.3h1M239.2 138.6h1M242.1 156.8h1M226.9 125.2h1M241.3 145.6h1M240.3 173.1h1M242.9 148.1h1M244.8 145.0h1M229.1 130.2h1M236.3 144.8h1M244.9 143.2h1M251.7 149.9h1M239.7 132.8h1M239.2 130.1h1M240.4 161.5h1M223.4 125.9h1M245.1 138.8h1M225.0 130.2h1M225.1 134.4h1M244.4 140.7h1M245.2 159.9h1M237.1 170.8h1M238.9 149.2h1M244.2 161.3h1M226.0 131.6h1M244.7 158.5h1M240.8 147.9h1M238.2 136.4h1M230.3 127.8h1M240.2 158.7h1M243.0 145.0h1M233.6 173.6h1M245.0 159.9h1M223.4 124.4h1M243.9 145.2h1M234.3 149.8h1M236.1 130.5h1M248.8 155.2h1M234.0 135.3h1M233.6 128.8h1M246.4 154.6h1M234.0 130.2h1M238.6 144.7h1M247.7 143.5h1M232.1 137.2h1M231.5 133.4h1M231.9 173.2h1M235.2 147.3h1M224.0 136.4h1M222.9 180.2h1M244.4 142.7h1M241.3 169.2h1M234.3 147.1h1M244.6 155.3h1M231.2 140.6h1M240.9 144.5h1M242.0 156.6h1M230.8 143.1h1M223.1 180.0h1M238.7 128.0h1M230.4 134.5h1M230.8 172.8h1M239.2 154.2h1M236.9 169.8h1M225.4 129.6h1M238.6 143.3h1M243.2 150.7h1M240.0 140.4h1M246.6 157.4h1M243.2 142.8h1M235.3 132.8h1M229.9 176.1h1M243.4 136.1h1M235.2 138.0h1M230.0 136.4h1M243.3 150.5h1M236.4 127.2h1M226.2 137.3h1M235.5 146.0h1M230.6 177.5h1M245.2 145.2h1M231.6 146.8h1M231.7 148.1h1M237.8 170.9h1M242.5 157.6h1M245.7 148.8h1M243.7 150.5h1M246.5 157.9h1M237.8 146.5h1M240.8 172.2h1" stroke="#DC3912" stroke-width="1" fill="none"/>
<path d="M188.4 231.7h1M195.4 241.4h1M190.7 234.4h1M193.9 240.4h1M189.5 234.6h1M193.4 239.4h1M186.2 228.9h1M196.6 241.8h1M201.9 242.2h1M186.5 228.4h1M195.1 241.2h1M191.9 243.2h1" stroke="#66AA00" stroke-width="1" fill="none"/>
<path d="M208.6 116.5h1M215.4 111.4h1M202.8 110.1h1M209.3 119.7h1M205.2 113.7h1M210.4 116.6h1M201.7 103.7h1M206.7 117.8h1M210.3 119.1h1M211.5 112.1h1M203.9 112.7h1M215.6 113.9h1M209.6 114.5h1M209.6 113.2h1M212.9 112.1h1M208.0 107.6h1M203.8 113.1h1M201.2 117.9h1M210.8 115.5h1M213.5 114.8h1M208.4 120.7h1M210.3 119.1h1M200.6 105.8h1M204.6 112.1h1M214.8 116.2h1M207.5 109.4h1M210.5 114.3h1M207.8 105.6h1M218.2 110.9h1M205.1 117.0h1M213.0 118.3h1M201.5 106.6h1M203.1 98.2h1M201.8 96.1h1" stroke="#66AA00" stroke-width="1" fill="none"/>
<path d="M239.0 168.5h1M216.2 136.0h1M200.4 171.1h1M226.8 177.1h1M241.5 162.2h1M197.1 163.7h1M235.0 172.5h1M222.3 137.6h1M197.4 151.9h1M222.7 138.7h1M239.6 158.0h1M201.4 172.2h1M205.2 173.9h1M197.9 155.5h1M236.2 171.7h1M212.7 178.0h1M240.8 160.8h1M196.0 160.8h1M229.9 176.6h1M199.6 149.3h1M197.4 167.5h1M222.7 178.3h1M241.0 165.2h1M234.7 150.9h1M203.9 150.2h1M228.3 176.6h1M197.4 153.5h1M198.3 154.1h1M210.5 141.9h1M199.6 170.2h1M206.9 176.1h1M206.4 174.7h1M234.5 150.6h1M215.6 136.1h1M222.7 178.2h1M228.1 146.2h1M209.9 175.8h1M203.2 150.3h1M197.5 152.7h1M229.7 144.1h1M215.9 178.2h1M240.3 158.2h1M225.9 141.0h1M238.7 169.5h1M220.9 178.4h1M197.9 155.0h1M228.3 176.0h1M234.4 173.7h1M229.6 178.7h1M199.4 151.0h1M236.0 152.1h1M209.4 176.3h1M198.3 167.9h1M204.7 147.9h1M242.6 166.8h1M197.9 158.1h1M215.2 177.9h1M203.3 176.6h1M226.2 143.6h1M225.5 142.5h1M222.2 132.0h1M196.6 156.3h1M234.3 172.9h1" stroke="#DD4477" stroke-width="1" fill="none"/>
<path d="M141.0 225.3h1M147.8 232.0h1M144.5 243.3h1M125.9 226.3h1M148.0 234.9h1M147.1 233.2h1M150.5 237.9h1M138.5 237.6h1M142.8 225.2h1M145.8 239.1h1M132.9 226.9h1M150.7 243.5h1M133.7 227.5h1M140.2 229.0h1M130.0 228.2h1M139.2 226.7h1M152.6 233.8h1M150.8 234.8h1M134.2 231.8h1M140.2 234.8h1M133.5 230.4h1M131.5 218.5h1M131.4 226.0h1M134.3 228.9h1M144.5 229.0h1M146.9 236.6h1M145.8 239.7h1M155.4 241.3h1M142.2 232.7h1M149.9 243.0h1M140.6 222.6h1" stroke="#109618" stroke-width="1" fill="none"/>
<path d="M197.4 103.3h1M198.7 98.6h1M195.3 99.1h1M195.3 98.4h1M194.0 95.5h1" stroke="#316395" stroke-width="1" fill="none"/>
<path d="M211.5 178.7h1M239.4 171.5h1M197.2 163.4h1M240.5 164.2h1M239.8 156.7h1M233.2 147.3h1M210.8 138.6h1M213.9 137.6h1M217.0 135.9h1M209.2 141.7h1M219.4 177.8h1M231.9 174.7h1M215.4 178.4h1M205.4 148.0h1M232.7 145.4h1M239.9 167.6h1M203.8 150.3h1M213.6 177.7h1M225.7 140.4h1M198.4 171.9h1M220.8 178.3h1M237.4 173.2h1M239.1 155.6h1M244.2 157.5h1M241.6 158.4h1M225.3 141.8h1M206.1 175.4h1M201.3 173.8h1M202.0 173.8h1M227.1 176.4h1M230.0 147.4h1M218.7 177.6h1M199.8 150.4h1M224.6 138.4h1M202.1 151.8h1M209.2 144.4h1M203.2 149.8h1M199.9 153.6h1M211.1 176.5h1M238.8 154.9h1M208.7 135.4h1M219.1 135.4h1M239.5 157.0h1M222.1 137.1h1M240.5 163.3h1M209.9 179.6h1M206.4 147.6h1M238.6 153.2h1M230.6 178.0h1M238.9 168.8h1M196.4 158.9h1M239.4 169.1h1M237.2 153.3h1M199.5 170.4h1M214.9 136.8h1M230.1 147.2h1M198.7 170.7h1M205.7 175.0h1M196.0 167.9h1M198.2 156.5h1M230.3 148.1h1M199.9 154.0h1M238.5 150.2h1M193.9 164.4h1" stroke="#DD4477" stroke-width="1" fill="none"/>
<path d="M203.4 224.3h1M183.8 232.7h1M181.5 227.6h1M198.1 213.3h1M145.1 235.1h1M201.8 228.6h1M192.9 220.8h1M184.8 218.9h1M181.4 240.4h1M178.3 222.0h1M197.4 241.8h1M147.3 232.9h1M177.1 229.4h1M188.0 230.8h1M191.7 235.5h1M197.5 229.9h1M178.8 216.8h1M167.7 237.0h1M205.7 213.6h1M198.1 221.1h1M185.1 237.1h1M167.2 232.1h1M185.5 226.6h1M197.2 233.3h1M182.2 236.2h1M201.3 247.1h1M167.9 229.1h1M150.0 230.0h1M158.4 231.0h1M199.7 221.0h1M197.5 223.1h1M184.7 233.1h1M197.5 207.9h1M171.4 240.5h1M184.8 220.9h1M195.2 241.7h1M160.5 232.8h1M178.7 237.0h1M195.0 238.4h1M165.6 230.3h1M165.1 232.5h1M202.7 203.4h1M194.1 231.3h1M154.4 236.6h1M177.0 232.7h1M198.6 214.4h1M186.5 230.0h1M197.2 215.2h1M165.9 245.1h1" stroke="#0099C6" stroke-width="1" fill="none"/>
<path d="M142.8 218.0h1M147.1 222.7h1M128.3 199.7h1M144.5 221.6h1M135.0 215.4h1M141.6 187.3h1M147.5 202.1h1M138.7 185.8h1M155.2 225.7h1M152.9 220.7h1M144.4 208.2h1M151.1 207.3h1M154.6 175.3h1M131.1 207.0h1M141.6 191.0h1M156.8 213.7h1M141.3 179.2h1M150.8 205.6h1M151.5 204.7h1M157.7 201.2h1M132.5 179.8h1M139.5 180.9h1M145.6 187.7h1M151.1 193.8h1M141.8 190.2h1M150.2 193.1h1M146.6 202.6h1M150.6 198.5h1M133.7 197.7h1M130.7 210.4h1M148.2 209.1h1M141.2 215.6h1" stroke="#0099C6" stroke-width="1" fill="none"/>
<path d="M145.0 246.3h1M153.6 263.7h1M172.9 267.8h1M165.5 256.8h1M174.1 263.1h1M173.5 261.5h1M156.2 263.3h1M171.0 266.9h1M152.4 260.8h1M144.8 251.9h1M165.5 265.3h1M173.8 259.7h1M151.4 261.8h1M165.9 255.8h1M170.2 266.2h1M147.7 257.8h1M159.7 251.0h1M159.6 251.1h1M174.1 263.5h1M171.0 259.5h1M173.5 266.2h1M146.8 255.0h1M144.5 246.9h1" stroke="#109618" stroke-width="1" fill="none"/>
<path d="M161.3 235.3h1M201.7 198.4h1M149.5 214.5h1M152.3 212.5h1M189.7 191.0h1M157.2 223.8h1M166.3 234.1h1M147.6 190.5h1M150.0 213.5h1M149.1 213.9h1M153.2 216.4h1M156.5 221.8h1M190.0 192.6h1M199.5 209.2h1M157.0 187.6h1M153.2 190.6h1M192.1 224.8h1M183.5 229.5h1M152.8 221.2h1M190.3 226.8h1M165.4 183.2h1M180.4 193.2h1M187.7 226.5h1M193.1 189.8h1M194.0 223.9h1M186.1 227.5h1M176.2 234.2h1M151.1 209.0h1M157.3 229.4h1M157.0 187.8h1M187.4 229.8h1M197.9 219.7h1M153.6 219.0h1M184.2 184.2h1M156.2 188.3h1M198.3 189.6h1M198.1 195.7h1M146.9 214.5h1M207.7 209.6h1M199.1 193.8h1M195.0 226.8h1M158.6 182.8h1M153.0 226.9h1M197.8 194.3h1M196.7 191.7h1M187.5 231.0h1M166.1 183.1h1M174.2 231.6h1M167.2 183.4h1M205.1 203.3h1M197.8 195.6h1M150.3 204.8h1M175.4 190.1h1M186.8 195.2h1M155.5 220.8h1M168.1 186.0h1M205.8 210.3h1M151.6 212.8h1M163.1 226.3h1M200.1 205.0h1M167.5 227.9h1M173.3 188.6h1M159.2 183.0h1M179.8 229.6h1M149.2 209.4h1M176.0 231.5h1M185.5 229.1h1M199.8 198.6h1M195.2 223.2h1M199.7 221.7h1M147.5 198.3h1M153.6 183.9h1M146.5 212.7h1M183.6 181.0h1M176.4 237.5h1M153.3 215.2h1M176.8 231.2h1M201.4 217.8h1M154.8 218.6h1M157.3 222.0h1M200.4 203.5h1M202.3 193.6h1M156.3 223.6h1M186.5 228.0h1M148.8 201.3h1M181.8 191.7h1M144.6 208.6h1M185.7 194.9h1M166.8 228.7h1M164.2 230.6h1M189.4 192.8h1M158.2 186.5h1M194.9 229.0h1M170.2 183.0h1M185.1 190.1h1M145.2 187.9h1M182.0 188.2h1M153.5 216.8h1M156.1 188.3h1M170.5 230.0h1M179.4 191.2h1M161.8 226.1h1M190.3 231.2h1M202.3 201.2h1M151.3 200.7h1M152.8 213.8h1M179.4 229.1h1M204.1 210.5h1M207.2 222.3h1M181.8 189.0h1M200.4 205.2h1M200.2 204.3h1M157.6 182.3h1M157.9 225.0h1M151.8 216.3h1M196.7 221.6h1M192.8 223.8h1M173.3 185.4h1M201.6 216.2h1M154.5 185.5h1M180.2 183.7h1M152.6 195.9h1M150.5 208.2h1M186.6 186.9h1M159.5 182.9h1M147.9 206.0h1M162.1 183.6h1M162.3 182.6h1M168.3 180.1h1M167.5 233.9h1M194.5 223.3h1M166.2 183.5h1M200.3 199.7h1M200.1 193.9h1M151.7 212.9h1M171.1 185.7h1M182.8 229.0h1M151.4 205.8h1M207.4 189.7h1M160.2 226.5h1" stroke="#0099C6" stroke-width="1" fill="none"/>
<path d="M158.6 182.3h1M135.4 198.1h1M135.4 189.8h1M145.6 211.2h1M134.4 186.2h1M137.7 190.9h1M150.6 189.7h1M137.4 213.7h1M141.0 193.9h1M144.8 220.3h1M139.7 192.4h1M140.4 207.5h1M147.0 185.2h1M138.5 186.2h1M132.8 214.0h1M147.0 221.8h1M148.4 187.0h1M145.4 194.2h1M159.7 224.8h1M136.3 197.0h1M144.2 201.9h1M124.7 191.9h1M144.8 197.8h1M149.7 197.0h1M147.5 218.6h1M143.4 207.0h1M147.5 183.6h1M148.5 186.9h1M137.5 187.7h1M145.6 213.8h1M152.3 223.7h1M140.0 202.2h1" stroke="#0099C6" stroke-width="1" fill="none"/>
<path d="M164.8 171.7h1M184.6 163.8h1M187.3 159.6h1M204.9 201.2h1M165.9 150.2h1M178.7 154.1h1M192.8 195.0h1M191.4 211.2h1M182.5 185.4h1M176.2 155.2h1M217.7 187.2h1M181.7 165.9h1M187.8 200.2h1M170.4 159.8h1M171.2 181.2h1M174.0 170.7h1M187.9 184.0h1M179.7 163.7h1M184.0 153.1h1M191.2 193.2h1M191.1 182.8h1M190.2 169.8h1M201.2 166.8h1M213.0 166.5h1M177.7 191.5h1M188.1 181.5h1M200.4 162.0h1M161.5 187.2h1M187.7 165.7h1M203.4 168.6h1M192.8 169.5h1M188.1 186.2h1M185.6 195.3h1M196.8 157.6h1M200.8 154.7h1M188.0 185.6h1M184.2 177.2h1M183.3 177.6h1M164.0 165.4h1M147.3 164.2h1M204.1 180.8h1M194.7 185.5h1M192.9 161.8h1M161.7 163.9h1M168.4 158.9h1M191.1 188.4h1M184.8 163.7h1M163.1 164.1h1M181.0 197.0h1M183.0 193.2h1M191.8 161.7h1M186.6 173.1h1M189.3 166.7h1M174.7 153.5h1M197.7 157.4h1M204.8 161.5h1M198.5 159.1h1M191.9 196.9h1M200.2 183.2h1M159.9 178.3h1M193.3 163.6h1M166.4 161.4h1M201.6 169.7h1M199.0 178.8h1M166.8 187.8h1M196.1 175.5h1M159.9 176.0h1M192.2 148.4h1M172.7 172.1h1M202.7 151.0h1M198.9 190.7h1M205.5 195.3h1M170.6 184.0h1M197.9 218.1h1M171.1 185.5h1M190.1 188.3h1M196.5 179.8h1M172.1 163.0h1M205.0 178.8h1M191.8 159.1h1M206.7 184.8h1M196.5 180.5h1M198.6 156.3h1M178.3 201.7h1M193.3 153.1h1M183.1 170.3h1M175.3 179.6h1M167.8 156.0h1" stroke="#FF9900" stroke-width="1" fill="none"/>
<path d="M170.6 74.0h1M165.1 75.9h1M166.6 75.2h1M175.0 71.4h1M169.4 69.0h1M159.9 73.6h1M176.4 71.8h1M171.5 74.6h1M171.6 68.7h1M162.8 78.6h1" stroke="#316395" stroke-width="1" fill="none"/>
<path d="M191.2 156.5h1M188.6 158.1h1M198.8 161.7h1M195.5 156.3h1M192.3 139.5h1M188.1 152.0h1M207.9 169.7h1M200.2 153.8h1M202.6 159.4h1M190.2 153.1h1M195.0 140.9h1" stroke="#66AA00" stroke-width="1" fill="none"/>
<path d="M175.7 73.9h1M170.3 78.2h1M176.0 67.7h1M176.8 72.1h1M165.9 68.7h1M171.8 75.0h1M162.6 68.6h1M173.1 67.9h1M170.2 74.5h1M172.3 68.5h1" stroke="#316395" stroke-width="1" fill="none"/>
<rect x="139.8" y="79.4" width="47.1" height="10.9" rx="1.6" fill="#316395"/><text x="163.4" y="87.2" text-anchor="middle" font-size="8.25" font-weight="bold" fill="#fff" stroke="#fff" stroke-width="0.2">Unknown</text>
<rect x="197.0" y="118.0" width="26.2" height="10.9" rx="1.6" fill="#66AA00" stroke="#fff" stroke-opacity="0.6" stroke-width="0.7"/><text x="210.1" y="125.8" text-anchor="middle" font-size="8.25" font-weight="bold" fill="#fff" stroke="#fff" stroke-width="0.2">Th17</text>
<rect x="206.6" y="142.7" width="42.1" height="11.0" rx="1.6" fill="#DC3912" stroke="#fff" stroke-opacity="0.6" stroke-width="0.7"/><text x="227.6" y="150.5" text-anchor="middle" font-size="8.25" font-weight="bold" fill="#fff" stroke="#fff" stroke-width="0.2">CD4 CTL</text>
<rect x="198.9" y="161.7" width="19.3" height="10.3" rx="1.6" fill="#DD4477" stroke="#fff" stroke-opacity="0.6" stroke-width="0.7"/><text x="208.6" y="169.2" text-anchor="middle" font-size="8.25" font-weight="bold" fill="#fff" stroke="#fff" stroke-width="0.2">Th1</text>
<rect x="166.0" y="175.2" width="21.7" height="10.9" rx="1.6" fill="#FF9900" stroke="#fff" stroke-opacity="0.6" stroke-width="0.7"/><text x="176.8" y="183.0" text-anchor="middle" font-size="8.25" font-weight="bold" fill="#fff" stroke="#fff" stroke-width="0.2">Th2</text>
<rect x="86.8" y="165.8" width="52.2" height="10.5" rx="1.6" fill="#990099" stroke="#fff" stroke-opacity="0.6" stroke-width="0.7"/><text x="112.9" y="173.4" text-anchor="middle" font-size="8.25" font-weight="bold" fill="#fff" stroke="#fff" stroke-width="0.2">Tcm/Naive</text>
<rect x="151.0" y="204.2" width="21.2" height="10.9" rx="1.6" fill="#0099C6" stroke="#fff" stroke-opacity="0.6" stroke-width="0.7"/><text x="161.6" y="212.0" text-anchor="middle" font-size="8.25" font-weight="bold" fill="#fff" stroke="#fff" stroke-width="0.2">Tfh</text>
<rect x="113.9" y="237.4" width="59.5" height="10.6" rx="1.6" fill="#109618" stroke="#fff" stroke-opacity="0.6" stroke-width="0.7"/><text x="143.7" y="245.0" text-anchor="middle" font-size="8.25" font-weight="bold" fill="#fff" stroke="#fff" stroke-width="0.2">Naive Tregs</text>
<rect x="179.6" y="266.0" width="76.9" height="11.0" rx="1.6" fill="#3366CC" stroke="#fff" stroke-opacity="0.6" stroke-width="0.7"/><text x="218.1" y="273.9" text-anchor="middle" font-size="8.25" font-weight="bold" fill="#fff" stroke="#fff" stroke-width="0.2">Activated Tregs</text></g>
<g id="panelA2"><path d="M485.4 166.7h1.35M486.2 137.1h1.35M494.8 125.6h1.35M479.6 126.4h1.35M492.5 130.2h1.35M495.6 132.3h1.35M468.2 141.0h1.35M494.5 157.5h1.35M492.5 146.0h1.35M487.4 136.2h1.35M484.0 175.6h1.35M483.3 130.3h1.35M496.2 158.3h1.35M491.8 159.4h1.35M480.1 115.2h1.35M483.2 129.8h1.35M486.8 166.9h1.35M483.5 154.5h1.35M486.9 164.3h1.35M499.0 135.1h1.35M488.5 122.9h1.35M494.3 142.5h1.35M507.0 129.7h1.35M487.7 154.3h1.35M484.7 158.0h1.35M480.1 138.1h1.35M495.2 143.2h1.35M490.9 129.5h1.35M488.1 124.4h1.35M493.4 177.9h1.35M480.9 134.3h1.35" stroke="#0099C6" stroke-width="1.35" fill="none"/>
<path d="M389.6 224.6h1.35M390.0 224.6h1.35" stroke="#990099" stroke-width="1.35" fill="none"/>
<path d="M505.0 76.5h1.35M509.1 70.2h1.35M507.3 79.5h1.35M511.0 76.6h1.35M505.5 74.5h1.35M508.3 78.4h1.35M514.8 77.0h1.35M508.5 76.6h1.35M505.8 78.8h1.35M507.9 68.3h1.35M507.2 82.9h1.35" stroke="#DC3912" stroke-width="1.35" fill="none"/>
<path d="M450.9 231.6h1.35M489.5 258.2h1.35M460.9 244.5h1.35M450.6 231.1h1.35M446.5 229.7h1.35M482.9 251.4h1.35M440.3 234.3h1.35M484.4 254.3h1.35M450.8 234.7h1.35M453.0 230.3h1.35M468.7 244.1h1.35M475.9 254.4h1.35M488.4 256.0h1.35M473.6 252.9h1.35M454.8 236.7h1.35M478.7 247.1h1.35M465.3 247.3h1.35M450.1 231.0h1.35M477.0 257.2h1.35M476.6 254.4h1.35M463.9 241.3h1.35M477.7 247.6h1.35M448.4 232.4h1.35M483.6 249.3h1.35M484.8 257.0h1.35M459.4 241.5h1.35M485.5 253.9h1.35M473.1 247.4h1.35M455.7 241.7h1.35M489.0 257.9h1.35M448.7 237.0h1.35M443.7 229.9h1.35M468.0 243.9h1.35M474.9 249.2h1.35M459.9 242.0h1.35M488.6 258.8h1.35M460.4 238.0h1.35M473.5 249.0h1.35M468.3 248.5h1.35M471.8 245.8h1.35M490.8 260.2h1.35M469.8 251.7h1.35M448.5 231.9h1.35M484.2 251.6h1.35M484.2 254.2h1.35M467.5 244.3h1.35M452.5 235.6h1.35M455.8 241.2h1.35M490.0 259.3h1.35M463.5 246.9h1.35M482.1 255.6h1.35M459.2 236.7h1.35M483.6 253.1h1.35M471.7 251.7h1.35M445.4 232.3h1.35M483.8 252.6h1.35M463.9 244.6h1.35M477.1 247.5h1.35M475.1 248.3h1.35M469.3 245.7h1.35M483.2 255.5h1.35M462.2 240.9h1.35M478.9 251.1h1.35" stroke="#109618" stroke-width="1.35" fill="none"/>
<path d="M427.0 223.3h1.35M431.4 231.5h1.35M436.4 222.4h1.35M441.3 230.6h1.35M420.1 220.0h1.35M436.7 230.8h1.35M423.1 223.0h1.35M427.1 220.5h1.35M429.3 213.6h1.35M434.8 224.3h1.35M429.6 221.2h1.35M428.8 219.8h1.35M440.4 231.3h1.35M441.1 227.6h1.35" stroke="#109618" stroke-width="1.35" fill="none"/>
<path d="M499.0 259.1h1.35M499.2 264.4h1.35M508.7 260.2h1.35M503.1 268.0h1.35M504.1 267.7h1.35M505.1 259.4h1.35M508.1 256.3h1.35M507.8 270.0h1.35M495.4 261.4h1.35M504.3 264.3h1.35M507.1 264.3h1.35M493.2 262.9h1.35M494.4 261.4h1.35M500.3 267.1h1.35M498.8 264.2h1.35M501.4 259.6h1.35M509.7 261.5h1.35M493.1 260.6h1.35M496.7 257.5h1.35M505.5 264.2h1.35M497.9 256.3h1.35M492.3 257.5h1.35M503.9 266.6h1.35M494.7 261.8h1.35M503.1 254.8h1.35M501.2 261.2h1.35M497.2 263.7h1.35M501.0 256.9h1.35M507.6 266.0h1.35M496.0 260.1h1.35M504.0 253.3h1.35M506.0 261.6h1.35M505.6 267.3h1.35M505.9 260.8h1.35M495.5 263.0h1.35M509.6 261.9h1.35M507.8 258.9h1.35M496.3 262.7h1.35M503.5 271.6h1.35M498.3 263.8h1.35M499.2 267.1h1.35M512.1 257.0h1.35M501.8 257.5h1.35" stroke="#3366CC" stroke-width="1.35" fill="none"/>
<path d="M483.5 211.6h1.35M474.8 206.3h1.35M495.4 196.8h1.35M491.7 196.1h1.35M480.8 210.7h1.35M472.5 187.9h1.35M496.3 194.7h1.35M485.9 188.8h1.35M486.3 194.3h1.35M479.4 204.2h1.35M474.5 201.6h1.35M487.2 208.9h1.35M482.1 178.3h1.35M481.7 198.5h1.35M488.0 187.4h1.35M487.2 197.3h1.35M492.1 205.5h1.35M492.4 190.7h1.35M482.6 212.6h1.35M488.2 196.0h1.35M475.4 210.7h1.35M497.9 186.7h1.35M496.5 196.6h1.35M491.5 196.1h1.35M486.9 200.2h1.35M486.5 177.6h1.35M479.8 193.1h1.35M469.0 202.1h1.35M473.1 191.8h1.35M476.4 204.3h1.35M487.1 213.0h1.35M498.3 187.2h1.35M472.1 198.9h1.35M482.9 219.6h1.35M483.3 216.2h1.35M493.7 187.1h1.35M473.2 191.0h1.35M468.9 212.4h1.35M480.7 228.3h1.35M469.5 193.1h1.35M486.2 190.9h1.35M473.9 208.5h1.35M483.2 176.5h1.35M476.9 192.7h1.35M483.8 207.0h1.35M485.6 215.5h1.35M466.6 188.6h1.35M481.4 193.3h1.35M484.1 171.1h1.35M470.8 211.9h1.35M472.7 217.2h1.35M470.1 194.9h1.35M473.0 208.5h1.35M481.2 179.4h1.35M483.1 208.4h1.35M483.0 211.9h1.35M470.8 208.1h1.35M478.6 197.9h1.35M486.6 177.6h1.35M494.6 227.4h1.35M478.2 209.4h1.35M471.3 206.4h1.35M476.1 188.9h1.35M497.2 195.7h1.35M476.7 176.7h1.35M499.9 183.4h1.35M491.4 210.7h1.35M492.5 177.7h1.35M483.8 192.5h1.35M495.0 188.6h1.35M469.4 201.2h1.35M485.1 217.4h1.35M488.0 173.7h1.35M482.9 201.9h1.35M491.6 189.3h1.35M476.3 213.3h1.35M462.0 212.9h1.35M477.6 191.3h1.35M492.5 192.1h1.35M488.2 200.0h1.35M481.1 187.4h1.35M480.2 183.6h1.35M469.0 193.1h1.35M492.5 188.3h1.35M487.2 211.4h1.35M472.1 194.4h1.35M476.0 207.7h1.35M486.2 216.0h1.35M486.4 180.5h1.35M491.4 180.8h1.35M462.9 220.2h1.35M470.6 199.8h1.35M495.0 208.8h1.35" stroke="#0099C6" stroke-width="1.35" fill="none"/>
<path d="M500.2 261.1h1.35M503.6 268.6h1.35M499.0 265.0h1.35M507.6 265.4h1.35M501.0 266.4h1.35M501.9 261.0h1.35M503.7 260.7h1.35M506.8 265.9h1.35M502.5 268.5h1.35M504.8 261.6h1.35M502.4 266.8h1.35M504.2 262.5h1.35M505.9 261.9h1.35M506.6 264.0h1.35M504.1 259.8h1.35M502.0 258.4h1.35M505.0 261.4h1.35M501.5 259.8h1.35M503.9 258.9h1.35M506.1 259.7h1.35M500.2 265.4h1.35" stroke="#3366CC" stroke-width="1.35" fill="none"/>
<path d="M506.8 107.1h1.35M504.9 103.0h1.35M502.6 108.2h1.35" stroke="#DD4477" stroke-width="1.35" fill="none"/>
<path d="M505.1 111.6h1.35M502.5 119.6h1.35M518.4 138.5h1.35M505.6 110.3h1.35M509.5 125.9h1.35M524.5 133.1h1.35M511.3 114.6h1.35M520.7 127.4h1.35M514.7 131.2h1.35M495.6 123.5h1.35M514.2 116.3h1.35M508.8 112.5h1.35M501.6 112.2h1.35M507.1 108.3h1.35M517.3 133.6h1.35M509.0 108.1h1.35M513.6 116.6h1.35M521.4 126.5h1.35M519.6 110.0h1.35M505.7 112.5h1.35M503.4 127.3h1.35M522.6 135.2h1.35M495.3 124.0h1.35M504.2 112.8h1.35M514.4 120.7h1.35M513.1 117.3h1.35M511.1 102.2h1.35M511.1 119.3h1.35M515.2 115.4h1.35M515.1 113.9h1.35M521.8 142.0h1.35M515.6 128.9h1.35M501.4 126.9h1.35M506.0 119.1h1.35M513.4 130.9h1.35M520.1 127.6h1.35M501.1 127.4h1.35M519.7 129.2h1.35M516.2 136.8h1.35M512.0 111.6h1.35M515.1 125.7h1.35M511.0 111.7h1.35M508.0 120.2h1.35M516.5 132.9h1.35M522.7 136.0h1.35M517.5 114.6h1.35M520.6 130.7h1.35M510.0 121.6h1.35M517.2 116.1h1.35M514.6 115.3h1.35M498.5 120.1h1.35M511.6 117.6h1.35M505.4 121.1h1.35M505.2 116.0h1.35M499.0 126.6h1.35M509.5 125.9h1.35M514.2 105.4h1.35M506.2 108.8h1.35M507.6 116.5h1.35M524.7 140.2h1.35M500.3 116.3h1.35M501.8 118.4h1.35M523.2 132.0h1.35M510.3 120.6h1.35M525.0 129.2h1.35M522.5 118.2h1.35M516.8 123.5h1.35M517.0 109.0h1.35M502.1 126.5h1.35M517.5 125.8h1.35M521.8 118.3h1.35M507.4 109.9h1.35M503.0 127.2h1.35M512.5 125.7h1.35M522.2 126.4h1.35M519.8 142.6h1.35M511.1 129.2h1.35M507.6 108.6h1.35M520.3 138.4h1.35M516.3 133.3h1.35M516.3 133.2h1.35M512.2 110.0h1.35M529.2 136.7h1.35" stroke="#66AA00" stroke-width="1.35" fill="none"/>
<path d="M491.1 117.6h1.35M525.3 142.5h1.35M524.9 127.8h1.35M516.9 129.3h1.35M513.8 116.9h1.35M509.2 125.0h1.35M513.7 111.2h1.35M520.9 136.4h1.35M500.7 124.5h1.35M521.7 130.1h1.35M528.1 125.5h1.35M519.7 135.7h1.35M508.8 129.9h1.35M513.6 123.0h1.35M511.9 125.5h1.35M525.4 136.8h1.35M509.7 122.1h1.35M523.6 137.3h1.35M515.8 108.4h1.35M515.2 116.7h1.35M517.4 122.5h1.35M495.5 122.0h1.35M518.7 140.6h1.35M515.6 131.5h1.35M501.4 101.8h1.35M521.4 121.5h1.35M521.8 134.8h1.35M521.7 123.1h1.35M509.6 108.4h1.35M519.4 126.4h1.35M522.9 133.9h1.35M516.8 123.6h1.35M516.3 113.3h1.35M517.3 131.2h1.35M520.9 114.8h1.35M513.4 115.9h1.35M518.3 134.0h1.35M499.3 124.4h1.35M518.8 123.2h1.35M505.9 113.1h1.35M516.4 126.5h1.35M506.6 112.7h1.35M504.4 110.9h1.35M516.1 136.2h1.35M515.9 135.8h1.35M522.5 125.7h1.35M502.8 117.0h1.35M505.1 121.0h1.35M524.6 124.1h1.35M512.9 115.2h1.35M497.5 121.8h1.35M503.3 122.8h1.35M514.4 116.6h1.35M514.4 132.2h1.35M503.6 116.9h1.35M507.8 126.1h1.35M507.4 118.7h1.35M498.1 125.3h1.35M520.3 134.6h1.35M514.9 125.8h1.35M524.9 119.1h1.35M524.8 133.3h1.35M525.3 141.1h1.35M497.3 126.5h1.35M511.6 105.8h1.35M522.3 144.7h1.35M501.7 123.6h1.35M508.9 128.0h1.35M498.1 112.4h1.35M506.2 125.8h1.35M525.5 129.3h1.35M523.5 142.5h1.35M504.8 115.3h1.35M508.4 107.4h1.35M519.9 135.5h1.35M514.3 124.9h1.35M508.9 103.1h1.35M501.4 118.7h1.35M508.1 118.7h1.35M521.6 133.5h1.35M514.4 135.6h1.35M507.4 113.3h1.35M494.8 114.8h1.35" stroke="#66AA00" stroke-width="1.35" fill="none"/>
<path d="M486.5 105.0h1.35M495.3 105.4h1.35M487.5 107.9h1.35M490.8 101.0h1.35M487.5 99.5h1.35M495.5 110.2h1.35M497.2 107.7h1.35M499.1 103.0h1.35M497.3 106.2h1.35M491.7 104.8h1.35M490.3 112.1h1.35M482.6 106.4h1.35M492.5 111.2h1.35M488.2 111.0h1.35M494.2 105.4h1.35M487.8 112.5h1.35M496.5 104.9h1.35M485.9 103.2h1.35M490.6 104.0h1.35M490.9 112.3h1.35M488.0 110.0h1.35M497.9 113.5h1.35M489.3 110.2h1.35M500.1 103.7h1.35M490.3 108.1h1.35M486.6 106.6h1.35M483.7 109.7h1.35M492.1 105.0h1.35M496.5 107.9h1.35M498.8 110.0h1.35M497.0 108.6h1.35M498.4 103.8h1.35" stroke="#DD4477" stroke-width="1.35" fill="none"/>
<path d="M501.8 102.6h1.35M502.3 111.3h1.35" stroke="#DD4477" stroke-width="1.35" fill="none"/>
<path d="M505.7 110.0h1.35M504.1 104.9h1.35" stroke="#DD4477" stroke-width="1.35" fill="none"/>
<path d="M472.3 164.6h1.35M475.0 175.4h1.35M472.6 174.3h1.35M467.4 169.5h1.35M459.7 171.9h1.35M470.0 170.6h1.35M471.7 196.1h1.35M466.8 175.7h1.35M469.5 192.4h1.35M474.7 195.7h1.35M475.2 175.2h1.35M486.4 181.6h1.35M470.1 165.3h1.35M468.7 181.1h1.35M467.0 178.4h1.35" stroke="#0099C6" stroke-width="1.35" fill="none"/>
<path d="M496.0 153.9h1.35M492.0 143.9h1.35M514.0 159.5h1.35M486.4 136.8h1.35M506.4 140.3h1.35M482.7 134.0h1.35M509.3 149.1h1.35M469.0 140.1h1.35M504.5 130.0h1.35M498.4 152.8h1.35M471.9 135.4h1.35M496.2 137.8h1.35M499.4 136.4h1.35M490.3 133.9h1.35M490.8 136.6h1.35M480.8 143.6h1.35M458.1 139.1h1.35M496.2 155.1h1.35M473.1 140.2h1.35M500.4 143.4h1.35M492.8 144.4h1.35M476.5 136.3h1.35M502.8 154.5h1.35M499.5 137.3h1.35M486.2 142.9h1.35M503.5 150.7h1.35M470.1 142.7h1.35M494.5 130.2h1.35M502.2 136.9h1.35M464.9 158.0h1.35M464.1 139.1h1.35M478.2 136.0h1.35M493.2 150.4h1.35M472.7 129.1h1.35M507.2 143.5h1.35M490.9 128.7h1.35M488.3 141.9h1.35M456.5 144.8h1.35M490.0 145.5h1.35M508.6 147.2h1.35M465.8 151.1h1.35M488.6 120.0h1.35M480.1 140.9h1.35M475.7 130.1h1.35M492.7 127.8h1.35M494.2 143.9h1.35M494.4 141.5h1.35M486.8 143.0h1.35M482.1 139.3h1.35M468.3 132.8h1.35M485.1 145.1h1.35M484.0 133.4h1.35M513.0 158.1h1.35M463.8 140.0h1.35M506.2 153.2h1.35M497.6 145.7h1.35M494.7 153.3h1.35M499.2 135.3h1.35M501.2 155.9h1.35M473.6 149.5h1.35M461.2 146.4h1.35M499.5 134.5h1.35M500.8 139.1h1.35M480.6 141.1h1.35M499.1 148.4h1.35M459.6 135.1h1.35M493.5 137.0h1.35M506.0 146.6h1.35M504.7 157.6h1.35M465.3 139.2h1.35M512.5 146.9h1.35M493.1 129.6h1.35M487.9 129.1h1.35M510.2 149.8h1.35M471.1 150.5h1.35M504.0 146.4h1.35" stroke="#FF9900" stroke-width="1.35" fill="none"/>
<path d="M485.7 136.4h1.35M486.3 139.3h1.35M493.9 151.9h1.35M497.8 163.1h1.35M495.6 117.7h1.35M475.0 142.5h1.35M463.0 152.9h1.35M496.0 149.8h1.35M509.1 155.1h1.35M485.0 138.1h1.35M489.5 131.7h1.35M473.9 136.5h1.35M493.8 144.0h1.35M504.7 153.0h1.35M495.3 138.5h1.35M494.5 131.7h1.35M487.5 133.8h1.35M494.1 125.4h1.35M499.9 139.7h1.35M483.3 127.6h1.35M504.9 152.5h1.35M450.9 149.5h1.35M474.9 130.2h1.35M473.1 135.4h1.35M502.9 131.0h1.35M491.3 140.2h1.35M478.8 138.1h1.35M466.3 132.4h1.35M501.7 153.6h1.35M489.1 142.3h1.35M491.8 121.5h1.35M498.7 167.8h1.35M510.1 165.5h1.35M468.6 140.6h1.35M505.2 135.2h1.35M463.3 145.7h1.35M487.8 143.4h1.35M475.6 133.5h1.35M486.2 129.7h1.35M474.7 130.0h1.35M479.1 141.8h1.35M502.8 155.3h1.35M499.5 144.9h1.35M485.2 118.6h1.35M460.1 149.6h1.35M508.1 153.7h1.35M477.9 133.8h1.35M498.5 154.5h1.35M480.2 141.5h1.35M494.8 156.8h1.35M494.1 135.6h1.35M499.1 153.6h1.35M495.9 144.2h1.35M486.2 126.0h1.35M483.7 127.0h1.35M497.5 123.3h1.35M466.2 137.2h1.35M497.9 166.2h1.35M492.8 165.9h1.35M499.8 129.3h1.35M467.8 135.3h1.35M469.0 141.9h1.35M495.6 136.6h1.35M511.2 142.0h1.35M478.2 140.4h1.35M503.6 162.2h1.35M469.0 138.0h1.35M505.8 139.4h1.35M495.9 142.8h1.35M492.4 133.9h1.35M510.7 151.7h1.35M480.2 132.1h1.35M489.3 153.0h1.35M474.3 132.7h1.35M480.4 130.3h1.35" stroke="#FF9900" stroke-width="1.35" fill="none"/>
<path d="M508.7 77.2h1.35M514.6 87.9h1.35M506.3 94.3h1.35M498.9 89.0h1.35M509.7 95.9h1.35M505.0 79.6h1.35M505.5 90.0h1.35M509.7 81.9h1.35M513.1 75.3h1.35M513.1 95.5h1.35M512.2 87.5h1.35M509.4 85.3h1.35M514.4 96.1h1.35M501.3 86.8h1.35M501.3 78.0h1.35M501.6 71.2h1.35M508.2 76.3h1.35M503.4 86.8h1.35M498.0 94.5h1.35M496.1 96.5h1.35M514.3 98.8h1.35M503.7 94.6h1.35M500.9 91.5h1.35M505.7 102.1h1.35M497.7 97.8h1.35M507.5 69.2h1.35M500.9 102.0h1.35M501.2 66.5h1.35M514.0 93.8h1.35M515.0 97.6h1.35M498.5 85.5h1.35M500.5 97.0h1.35M512.0 93.0h1.35M504.6 70.5h1.35M507.1 72.7h1.35M500.9 103.1h1.35M507.1 92.0h1.35M515.9 87.9h1.35M511.1 96.3h1.35M501.3 99.7h1.35M498.0 92.3h1.35M508.7 94.1h1.35M500.7 87.2h1.35M512.6 90.4h1.35M499.7 93.0h1.35" stroke="#DC3912" stroke-width="1.35" fill="none"/>
<path d="M426.7 218.2h1.35M436.2 225.6h1.35M432.5 224.7h1.35M438.4 227.8h1.35M435.2 227.8h1.35M424.0 218.9h1.35M439.4 226.6h1.35M446.9 229.7h1.35M439.6 228.2h1.35M442.2 230.8h1.35M442.4 231.9h1.35M426.1 219.5h1.35M440.2 228.3h1.35M438.3 226.1h1.35" stroke="#109618" stroke-width="1.35" fill="none"/>
<path d="M511.1 96.7h1.35M504.0 102.1h1.35M508.4 88.6h1.35M496.2 91.0h1.35M510.6 80.2h1.35M504.9 92.8h1.35M510.7 90.6h1.35M503.1 81.2h1.35M506.8 76.9h1.35M510.4 78.7h1.35M512.6 89.4h1.35M500.9 81.0h1.35M508.4 69.5h1.35M511.8 77.4h1.35M505.0 103.6h1.35M509.3 96.9h1.35M499.9 78.1h1.35M508.5 77.8h1.35M509.8 76.6h1.35M501.8 96.2h1.35M512.6 99.2h1.35M497.4 99.4h1.35M502.2 79.0h1.35M497.5 89.8h1.35M500.7 71.8h1.35M500.4 98.8h1.35M509.2 106.0h1.35M501.8 99.5h1.35M501.5 82.3h1.35M498.6 87.4h1.35M515.9 93.6h1.35M505.6 71.7h1.35M497.5 91.6h1.35M502.5 96.7h1.35M501.8 100.7h1.35M506.6 82.7h1.35M512.6 90.7h1.35M502.3 96.0h1.35M505.0 70.5h1.35M512.1 86.3h1.35M509.1 72.1h1.35M504.4 85.2h1.35M502.9 105.8h1.35M513.8 79.2h1.35M497.2 83.2h1.35" stroke="#DC3912" stroke-width="1.35" fill="none"/>
<path d="M498.6 154.8h1.35M483.5 130.5h1.35M488.3 121.7h1.35M497.6 162.5h1.35M487.1 125.0h1.35M482.8 143.9h1.35M486.9 164.6h1.35M494.1 127.2h1.35M489.4 122.6h1.35M484.2 155.4h1.35M494.3 151.6h1.35M479.7 135.9h1.35M492.3 175.9h1.35M494.8 154.7h1.35M467.0 130.6h1.35M479.5 123.7h1.35M481.6 140.2h1.35M490.8 138.5h1.35M500.5 121.0h1.35M501.8 153.0h1.35M497.2 169.8h1.35M483.3 126.3h1.35M495.4 137.7h1.35M493.8 158.2h1.35M501.1 163.7h1.35M480.4 144.3h1.35M481.5 136.2h1.35M488.7 164.4h1.35M478.4 136.7h1.35M481.7 133.9h1.35M486.4 151.4h1.35M492.4 137.9h1.35" stroke="#0099C6" stroke-width="1.35" fill="none"/>
<path d="M499.3 193.7h1.35M465.8 221.5h1.35M472.7 197.8h1.35M490.4 203.5h1.35M487.0 177.3h1.35M485.4 187.5h1.35M484.8 189.0h1.35M483.7 197.2h1.35M499.3 201.7h1.35M485.2 186.3h1.35M483.3 215.8h1.35M474.7 217.2h1.35M471.9 198.7h1.35M479.3 194.1h1.35M486.4 171.8h1.35M492.2 206.4h1.35M481.7 187.9h1.35M491.3 191.3h1.35M473.7 208.3h1.35M474.8 196.1h1.35M469.7 207.8h1.35M474.9 216.5h1.35M479.4 199.8h1.35M473.0 201.7h1.35M468.3 217.9h1.35M495.4 184.4h1.35M476.1 211.8h1.35M488.0 188.5h1.35M491.1 197.3h1.35M468.8 206.9h1.35M479.0 210.3h1.35M484.3 213.1h1.35M500.7 191.0h1.35M490.8 195.7h1.35M473.8 209.0h1.35M480.9 198.0h1.35M478.7 196.5h1.35M498.8 185.9h1.35M481.9 216.8h1.35M479.0 215.9h1.35M478.7 182.8h1.35M472.0 217.7h1.35M493.7 203.0h1.35M499.7 194.0h1.35M484.2 196.5h1.35M478.5 171.0h1.35M489.7 193.9h1.35M484.4 211.9h1.35M473.5 196.5h1.35M492.9 175.4h1.35M472.4 206.3h1.35M482.6 227.5h1.35M476.9 198.7h1.35M480.9 214.4h1.35M470.3 217.4h1.35M472.3 200.7h1.35M484.5 199.4h1.35M470.3 191.7h1.35M487.3 176.8h1.35M488.3 212.2h1.35M480.9 215.7h1.35M490.0 206.9h1.35M495.6 197.7h1.35M505.9 173.0h1.35M481.8 176.7h1.35M492.3 179.0h1.35M476.8 187.5h1.35M481.7 202.8h1.35M488.4 200.5h1.35M486.3 211.6h1.35M473.5 192.9h1.35M476.3 190.1h1.35M480.6 212.9h1.35M495.1 176.9h1.35M471.2 189.6h1.35M499.9 194.0h1.35M499.6 200.1h1.35M482.5 209.1h1.35M485.6 201.8h1.35M467.5 191.9h1.35M481.9 205.4h1.35M490.9 192.4h1.35M483.1 179.6h1.35M478.3 205.2h1.35M469.7 206.1h1.35M482.6 186.3h1.35M467.1 202.1h1.35M476.6 214.6h1.35M493.2 206.6h1.35M478.7 213.4h1.35M488.9 180.8h1.35M481.6 182.6h1.35M480.0 185.8h1.35" stroke="#0099C6" stroke-width="1.35" fill="none"/>
<path d="M484.5 184.9h1.35M476.2 185.5h1.35M454.3 138.2h1.35M458.8 189.3h1.35M454.8 133.3h1.35M470.0 153.4h1.35M460.4 148.2h1.35M467.4 178.6h1.35M457.6 151.6h1.35M486.4 194.3h1.35M471.5 147.7h1.35M460.7 175.4h1.35M465.9 209.8h1.35M460.1 207.4h1.35M469.9 188.1h1.35M465.2 189.9h1.35M471.6 141.9h1.35M460.5 202.0h1.35M459.8 209.5h1.35M466.3 177.4h1.35M466.7 169.5h1.35M480.3 189.1h1.35M466.8 183.2h1.35M480.9 169.9h1.35M476.0 197.4h1.35M475.7 186.7h1.35M475.2 177.1h1.35M470.9 196.6h1.35M471.6 198.0h1.35M474.1 166.2h1.35M457.6 207.1h1.35M471.5 201.3h1.35M491.4 155.2h1.35M470.3 189.9h1.35M471.1 184.0h1.35M457.1 176.0h1.35M467.3 177.8h1.35M465.6 179.7h1.35M473.3 149.1h1.35M471.0 158.0h1.35M465.6 150.2h1.35M478.9 159.0h1.35M471.8 179.0h1.35M461.4 185.6h1.35M475.6 166.7h1.35M478.7 151.2h1.35M474.8 204.2h1.35M466.4 211.1h1.35M460.2 210.4h1.35M469.9 182.0h1.35M467.0 185.4h1.35M468.1 182.5h1.35M459.6 204.7h1.35M486.3 190.4h1.35M470.2 156.2h1.35M466.8 204.8h1.35M468.6 195.3h1.35M469.5 198.8h1.35M466.1 199.4h1.35M475.3 185.0h1.35M473.3 156.3h1.35M471.5 185.0h1.35M475.7 179.9h1.35M479.1 208.8h1.35M476.9 191.7h1.35M472.8 172.7h1.35M476.0 182.6h1.35M471.9 180.8h1.35M459.8 153.4h1.35M471.7 191.2h1.35M465.4 153.6h1.35M477.7 195.5h1.35M461.2 212.5h1.35M483.0 185.7h1.35M488.1 167.0h1.35M460.7 208.5h1.35M467.1 207.5h1.35M471.3 195.6h1.35M456.0 178.5h1.35M470.1 186.6h1.35M479.6 168.2h1.35M473.7 199.6h1.35M460.8 157.4h1.35M477.9 159.7h1.35M480.6 157.6h1.35M472.6 200.9h1.35M464.0 216.8h1.35M460.9 167.1h1.35M479.5 162.6h1.35M483.4 173.7h1.35M490.0 184.8h1.35M466.3 202.9h1.35M478.7 177.3h1.35M468.2 137.4h1.35M471.2 205.9h1.35M475.3 161.4h1.35M482.1 164.2h1.35M484.5 199.1h1.35M467.5 168.7h1.35M480.7 173.1h1.35M481.8 163.8h1.35M479.8 167.3h1.35M479.6 185.7h1.35M483.1 182.6h1.35M479.4 189.2h1.35M473.0 206.6h1.35M463.7 146.8h1.35M474.0 165.6h1.35M474.7 166.4h1.35M449.6 183.2h1.35M466.8 174.2h1.35M467.0 159.7h1.35M484.3 166.8h1.35M475.8 198.7h1.35M465.1 209.8h1.35M465.6 150.3h1.35M464.2 187.2h1.35M467.9 208.5h1.35M476.5 192.5h1.35M460.8 164.1h1.35M462.5 167.8h1.35M463.4 163.7h1.35M479.5 191.1h1.35M475.3 160.4h1.35M462.2 194.3h1.35" stroke="#990099" stroke-width="1.35" fill="none"/>
<path d="M457.2 236.6h1.35M465.4 243.7h1.35M442.3 233.8h1.35M453.1 236.7h1.35M474.7 252.7h1.35M474.9 249.3h1.35M464.7 240.4h1.35M479.8 249.4h1.35M456.4 240.7h1.35M491.6 257.4h1.35M491.5 259.8h1.35M442.4 233.7h1.35M453.7 242.6h1.35M474.8 252.9h1.35M467.4 242.8h1.35M484.2 252.5h1.35M460.1 246.5h1.35M454.1 234.0h1.35M485.4 254.8h1.35M479.0 254.5h1.35M457.4 238.9h1.35M466.9 247.2h1.35M451.5 227.7h1.35M490.9 259.4h1.35M479.3 252.2h1.35M471.9 248.5h1.35M482.5 256.1h1.35M460.2 241.1h1.35M482.5 248.9h1.35M449.0 229.4h1.35M492.7 256.7h1.35M465.4 247.3h1.35M482.1 252.0h1.35M458.1 247.9h1.35M479.5 254.7h1.35M480.1 255.5h1.35M484.7 256.9h1.35M461.8 242.7h1.35M457.5 240.0h1.35M490.7 260.2h1.35M449.6 232.5h1.35M482.0 253.3h1.35M477.7 251.7h1.35M478.2 256.6h1.35M458.4 234.6h1.35M445.2 234.5h1.35M462.6 247.4h1.35M468.4 252.1h1.35M451.8 240.8h1.35M465.8 245.3h1.35M442.9 238.3h1.35M469.6 237.9h1.35M461.9 245.3h1.35M451.1 235.6h1.35M475.4 248.0h1.35M472.1 246.5h1.35M471.1 250.6h1.35M456.4 236.8h1.35M493.5 261.5h1.35M463.3 241.4h1.35M488.1 256.2h1.35M467.5 249.7h1.35M452.8 239.0h1.35" stroke="#109618" stroke-width="1.35" fill="none"/>
<path d="M452.4 231.5h1.35M479.6 245.8h1.35M447.0 231.9h1.35M448.2 237.2h1.35M467.4 246.3h1.35M463.9 245.8h1.35M457.6 238.9h1.35M474.1 245.3h1.35M456.3 240.3h1.35M454.1 239.4h1.35M475.5 253.8h1.35M475.9 239.7h1.35M463.7 242.9h1.35M475.3 246.5h1.35M455.3 238.3h1.35M474.7 252.9h1.35M479.2 251.5h1.35M485.8 253.1h1.35M457.1 236.0h1.35M449.6 231.4h1.35M480.7 253.7h1.35M449.0 231.8h1.35M483.0 251.8h1.35M468.8 245.4h1.35M465.6 247.5h1.35M449.1 237.1h1.35M459.2 242.9h1.35M466.1 240.0h1.35M463.4 244.9h1.35M479.5 252.7h1.35M491.4 257.8h1.35M452.4 238.7h1.35M470.7 246.1h1.35M475.2 251.0h1.35M466.9 245.2h1.35M460.4 244.5h1.35M463.5 237.6h1.35M459.2 242.7h1.35M480.6 250.2h1.35M453.5 239.1h1.35M483.3 251.0h1.35M477.6 247.9h1.35M476.8 248.8h1.35M480.6 253.6h1.35M490.6 256.0h1.35M478.1 254.3h1.35M474.6 253.4h1.35M456.2 235.2h1.35M486.4 258.9h1.35M472.7 245.1h1.35M459.7 244.7h1.35M475.0 251.7h1.35M469.4 249.5h1.35M484.1 252.3h1.35M458.8 243.4h1.35M465.6 247.3h1.35M459.5 243.2h1.35M462.0 242.3h1.35M478.5 254.1h1.35M474.2 246.7h1.35M457.4 238.4h1.35M443.8 234.4h1.35M472.3 248.8h1.35" stroke="#109618" stroke-width="1.35" fill="none"/>
<path d="M465.0 200.4h1.35M461.0 174.0h1.35M459.6 165.1h1.35M467.2 204.1h1.35M473.7 193.0h1.35M477.7 161.1h1.35M481.7 152.6h1.35M466.9 163.6h1.35M476.9 193.0h1.35M472.3 140.1h1.35M469.8 157.9h1.35M487.7 194.6h1.35M481.1 201.4h1.35M472.9 206.0h1.35M463.4 181.1h1.35M464.2 163.3h1.35M469.2 215.7h1.35M461.3 211.8h1.35M459.2 171.7h1.35M465.8 186.4h1.35M462.6 185.6h1.35M464.5 194.1h1.35M457.0 193.1h1.35M468.1 179.0h1.35M459.0 176.3h1.35M471.0 168.8h1.35M471.0 190.2h1.35M470.2 171.2h1.35M476.5 176.8h1.35M461.3 194.9h1.35M489.2 188.4h1.35M457.3 176.8h1.35M469.4 191.7h1.35M468.4 196.1h1.35M471.6 206.3h1.35M470.4 148.1h1.35M471.5 179.9h1.35M463.6 184.2h1.35M483.1 161.8h1.35M467.0 143.5h1.35M460.6 167.5h1.35M464.4 151.0h1.35M463.6 212.6h1.35M474.9 136.1h1.35M465.4 179.4h1.35M465.1 168.0h1.35M466.0 165.9h1.35M467.1 179.6h1.35M457.8 202.6h1.35M464.3 212.5h1.35M470.6 201.8h1.35M462.0 167.1h1.35M454.9 177.6h1.35M477.1 172.0h1.35M480.6 203.3h1.35M461.2 166.8h1.35M458.2 210.3h1.35M455.8 182.4h1.35M463.6 148.4h1.35M477.0 172.0h1.35M467.8 182.4h1.35M465.8 198.0h1.35M481.9 175.8h1.35M463.4 215.6h1.35M462.0 196.1h1.35M480.1 178.2h1.35M474.1 187.0h1.35M473.0 166.9h1.35M482.9 177.6h1.35M478.5 180.0h1.35M460.4 204.0h1.35M472.8 195.5h1.35M479.4 169.6h1.35M478.9 182.3h1.35M468.6 197.0h1.35M477.3 157.3h1.35M476.7 149.6h1.35M473.5 142.0h1.35M463.2 145.3h1.35M477.5 150.9h1.35M478.1 172.4h1.35M482.6 191.3h1.35M478.5 153.4h1.35M460.7 183.9h1.35M468.6 181.4h1.35M498.8 149.4h1.35M461.2 201.2h1.35M462.7 187.1h1.35M468.6 203.1h1.35M459.9 186.4h1.35M481.5 169.8h1.35M458.7 174.0h1.35M468.2 173.7h1.35M463.3 194.6h1.35M452.0 138.9h1.35M467.3 159.4h1.35M465.0 157.8h1.35M470.7 163.7h1.35M468.6 196.1h1.35M449.8 183.1h1.35M475.4 196.9h1.35M477.5 169.2h1.35M458.0 212.3h1.35M460.0 141.0h1.35M456.6 171.6h1.35M461.9 207.5h1.35M472.0 176.3h1.35M455.8 130.1h1.35M481.2 181.3h1.35M476.5 194.9h1.35M465.3 163.4h1.35M472.8 186.6h1.35M475.7 205.5h1.35M473.1 180.8h1.35M465.5 178.9h1.35M479.8 189.6h1.35M460.3 178.4h1.35M455.7 210.2h1.35M458.6 174.0h1.35M471.2 200.9h1.35M470.1 202.1h1.35M462.5 192.4h1.35M476.2 187.3h1.35M466.7 201.9h1.35M469.6 159.5h1.35" stroke="#990099" stroke-width="1.35" fill="none"/>
<path d="M509.9 262.0h1.35M502.9 268.1h1.35M501.0 265.8h1.35M502.7 267.2h1.35M502.6 256.5h1.35M499.0 260.2h1.35M504.8 265.3h1.35M503.6 256.8h1.35M503.5 261.5h1.35M498.5 261.0h1.35M503.9 260.8h1.35M501.5 261.4h1.35M498.6 264.4h1.35M506.0 263.2h1.35M503.9 258.5h1.35M506.5 266.2h1.35M500.9 263.1h1.35M503.8 267.0h1.35M509.1 264.4h1.35M503.3 265.0h1.35M503.3 262.6h1.35" stroke="#3366CC" stroke-width="1.35" fill="none"/>
<path d="M503.4 103.2h1.35M512.1 98.2h1.35M499.7 84.3h1.35M500.5 97.8h1.35M504.7 80.6h1.35M505.2 73.9h1.35M509.9 78.8h1.35M514.9 87.3h1.35M504.6 83.3h1.35M512.1 74.4h1.35M510.3 93.5h1.35M501.0 87.1h1.35M507.4 93.6h1.35M500.7 76.7h1.35M511.7 87.9h1.35M497.5 79.0h1.35M516.5 92.2h1.35M504.4 69.6h1.35M506.8 93.3h1.35M507.1 100.8h1.35M512.2 81.0h1.35M506.9 86.0h1.35M508.8 76.6h1.35M512.3 89.7h1.35M511.3 72.8h1.35M513.4 94.7h1.35M505.8 82.6h1.35M514.8 93.5h1.35M507.6 64.3h1.35M505.9 75.5h1.35M511.9 75.2h1.35M515.3 95.1h1.35M500.6 82.8h1.35M512.0 90.4h1.35M500.7 101.8h1.35M504.4 94.3h1.35M514.4 86.6h1.35M515.2 99.2h1.35M500.1 94.6h1.35M499.4 85.3h1.35M505.3 92.6h1.35M514.9 85.8h1.35M503.9 82.3h1.35M500.5 77.8h1.35" stroke="#DC3912" stroke-width="1.35" fill="none"/>
<path d="M516.0 214.4h1.1" stroke="#316395" stroke-width="1.1" fill="none"/>
<path d="M505.8 76.7h1.35M506.5 73.0h1.35M510.2 70.5h1.35M510.6 77.9h1.35M507.0 75.1h1.35M506.2 75.2h1.35M507.1 70.9h1.35M509.9 77.0h1.35M509.4 74.4h1.35M503.7 75.5h1.35M504.3 73.3h1.35M512.4 80.4h1.35" stroke="#DC3912" stroke-width="1.35" fill="none"/>
<path d="M498.8 270.4h1.35M503.3 260.1h1.35M496.7 262.2h1.35M498.9 257.1h1.35M500.0 265.0h1.35M503.8 266.2h1.35M493.3 260.5h1.35M507.5 263.2h1.35M499.0 259.4h1.35M497.4 263.7h1.35M509.5 257.4h1.35M493.1 263.9h1.35M500.7 267.2h1.35M508.0 269.3h1.35M498.1 264.7h1.35M501.0 268.3h1.35M499.5 266.1h1.35M502.3 264.0h1.35M503.6 261.5h1.35M508.8 259.2h1.35M505.1 266.6h1.35M506.1 269.1h1.35M491.4 262.9h1.35M506.4 257.2h1.35M506.6 261.0h1.35M503.1 261.0h1.35M501.8 261.8h1.35M497.7 261.7h1.35M495.2 258.2h1.35M500.9 264.9h1.35M498.0 256.2h1.35M497.0 260.1h1.35M500.6 265.6h1.35M496.7 261.0h1.35M497.2 259.5h1.35M507.6 263.9h1.35M496.6 265.1h1.35M505.2 264.4h1.35M508.6 267.6h1.35M502.3 258.3h1.35M498.8 268.9h1.35M499.3 254.3h1.35M504.5 267.0h1.35" stroke="#3366CC" stroke-width="1.35" fill="none"/>
<path d="M496.5 108.9h1.35M495.9 100.0h1.35M488.7 107.1h1.35M491.2 98.3h1.35M486.9 106.3h1.35M486.1 107.4h1.35M504.0 107.5h1.35M489.3 103.8h1.35M489.7 112.1h1.35M486.8 102.0h1.35M489.4 109.9h1.35M497.6 108.9h1.35M501.5 101.9h1.35M493.0 110.0h1.35M497.1 108.2h1.35M493.9 110.4h1.35M495.7 107.6h1.35M497.2 108.4h1.35M489.5 104.0h1.35M496.3 102.0h1.35M492.4 112.1h1.35M497.6 110.1h1.35M490.9 109.3h1.35M494.0 109.7h1.35M492.4 111.1h1.35M491.2 103.1h1.35M498.0 105.0h1.35M491.4 102.3h1.35M496.4 104.0h1.35M488.8 108.1h1.35M492.2 110.2h1.35M496.6 109.2h1.35M488.8 102.2h1.35" stroke="#DD4477" stroke-width="1.35" fill="none"/>
<path d="M517.8 212.9h1.1" stroke="#316395" stroke-width="1.1" fill="none"/>
<path d="M507.1 264.5h1.35M501.5 267.1h1.35M499.4 260.3h1.35M503.8 264.1h1.35M502.2 260.8h1.35M505.7 267.1h1.35M501.5 263.6h1.35M500.9 261.9h1.35M511.1 265.6h1.35M508.2 260.1h1.35M504.9 268.6h1.35M500.8 258.9h1.35M500.9 267.3h1.35M505.1 266.9h1.35M508.6 263.7h1.35M505.8 263.3h1.35M504.0 266.0h1.35M505.8 261.4h1.35M500.5 259.2h1.35M505.9 258.6h1.35" stroke="#3366CC" stroke-width="1.35" fill="none"/>

<path d="M503.3 70.6h1.35M508.0 66.1h1.35M512.0 77.0h1.35M513.4 79.7h1.35M509.0 69.5h1.35M511.0 73.9h1.35M507.9 71.2h1.35M512.4 77.6h1.35M510.6 69.8h1.35M508.9 80.4h1.35M506.5 69.2h1.35M514.7 73.1h1.35" stroke="#DC3912" stroke-width="1.35" fill="none"/>
<path d="M436.6 233.9h1.35M481.5 233.9h1.35M448.6 230.6h1.35M449.2 210.6h1.35M474.6 223.1h1.35M487.3 250.8h1.35M457.4 232.0h1.35M473.0 247.3h1.35M436.5 225.1h1.35M456.4 219.9h1.35M435.8 214.3h1.35M444.9 229.9h1.35M463.1 208.3h1.35M480.9 244.9h1.35M465.4 226.8h1.35M457.0 235.3h1.35M474.3 247.7h1.35M426.4 220.8h1.35M468.5 239.5h1.35M497.1 252.0h1.35M455.9 231.9h1.35M453.7 230.7h1.35M451.2 229.5h1.35M467.4 237.7h1.35M471.4 243.8h1.35M461.2 233.0h1.35M425.8 215.8h1.35M456.5 222.0h1.35M423.0 222.6h1.35M463.2 229.5h1.35M427.9 224.5h1.35" stroke="#109618" stroke-width="1.35" fill="none"/>
<path d="M458.1 225.4h1.35M484.3 249.1h1.35M499.9 231.4h1.35M482.4 234.4h1.35M438.5 215.5h1.35M478.6 231.0h1.35M485.1 243.6h1.35M452.9 229.8h1.35M459.2 222.1h1.35M437.8 226.4h1.35M423.2 218.9h1.35M448.1 224.7h1.35M451.4 217.0h1.35M454.7 232.0h1.35M478.4 244.0h1.35M457.2 232.3h1.35M470.0 242.8h1.35M453.4 223.5h1.35M466.1 223.7h1.35M459.7 238.6h1.35M469.6 219.4h1.35M459.6 203.6h1.35M450.4 222.1h1.35M439.9 217.1h1.35M451.7 237.5h1.35M437.4 222.5h1.35M445.4 226.0h1.35M466.0 239.9h1.35M427.5 219.2h1.35M440.4 227.9h1.35" stroke="#109618" stroke-width="1.35" fill="none"/>
<path d="M521.2 213.8h1.1M522.5 214.0h1.1M520.4 213.1h1.1M518.9 213.5h1.1M519.7 214.4h1.1M519.5 212.5h1.1M522.5 214.8h1.1M522.7 215.0h1.1" stroke="#316395" stroke-width="1.1" fill="none"/>
<path d="M484.7 152.2h1.35M485.2 124.4h1.35M479.8 158.9h1.35M490.9 127.1h1.35M492.7 168.1h1.35M487.9 145.4h1.35M496.7 139.0h1.35M509.3 144.3h1.35M483.9 158.0h1.35M497.0 151.3h1.35M493.1 153.2h1.35M502.6 152.4h1.35M497.5 147.0h1.35M509.9 156.9h1.35M483.2 122.7h1.35M485.5 148.9h1.35M490.9 128.6h1.35M491.3 130.1h1.35M497.7 159.2h1.35M492.8 134.7h1.35M482.7 132.6h1.35M488.2 118.4h1.35M492.6 145.5h1.35M492.7 155.3h1.35M485.8 147.6h1.35M484.9 154.2h1.35M483.6 126.5h1.35M486.5 153.1h1.35M485.6 164.0h1.35M484.3 132.1h1.35M488.0 144.5h1.35" stroke="#0099C6" stroke-width="1.35" fill="none"/>
<path d="M391.5 222.9h1.35M390.3 229.4h1.35M391.6 225.5h1.35" stroke="#990099" stroke-width="1.35" fill="none"/>
<path d="M372.4 192.9h1.35M415.1 158.1h1.35M393.9 205.1h1.35M390.6 162.5h1.35M366.0 180.8h1.35M420.9 210.0h1.35M448.3 200.1h1.35M393.6 169.5h1.35M383.6 196.8h1.35M438.1 162.5h1.35M430.3 219.8h1.35M428.3 156.6h1.35M446.1 218.5h1.35M396.5 153.0h1.35M445.1 187.8h1.35M367.4 199.0h1.35M443.7 178.7h1.35M405.4 177.8h1.35M408.5 194.9h1.35M379.2 166.3h1.35M411.8 201.5h1.35M410.6 165.0h1.35M442.9 201.2h1.35M361.3 183.5h1.35M449.2 182.1h1.35M349.4 202.0h1.35M405.2 158.2h1.35M393.3 175.5h1.35M446.7 150.7h1.35M401.4 173.6h1.35M453.5 186.6h1.35M424.4 155.2h1.35M423.0 217.1h1.35M418.5 154.9h1.35M353.3 195.2h1.35M397.6 170.1h1.35M426.1 187.9h1.35M437.3 163.6h1.35M429.3 199.9h1.35M427.5 188.7h1.35M401.5 160.2h1.35M386.8 196.5h1.35M443.3 216.7h1.35M358.3 202.2h1.35M356.1 197.7h1.35M449.9 153.7h1.35M434.9 169.3h1.35M404.4 212.8h1.35M367.3 186.5h1.35M450.3 186.7h1.35M392.5 172.2h1.35M451.7 176.9h1.35M373.5 198.6h1.35M440.9 155.6h1.35M371.7 192.4h1.35M375.1 193.4h1.35M389.8 215.2h1.35M401.1 219.5h1.35M332.3 204.3h1.35M400.0 212.7h1.35M435.2 183.1h1.35M387.3 165.2h1.35M352.9 204.5h1.35M405.1 209.6h1.35M345.8 200.5h1.35M436.0 163.2h1.35M385.0 208.1h1.35M413.9 215.1h1.35M452.4 202.5h1.35M455.3 160.2h1.35M434.8 216.3h1.35M455.9 180.3h1.35M424.4 183.6h1.35M365.4 176.1h1.35M376.4 166.5h1.35M402.4 161.8h1.35M384.5 214.2h1.35M422.3 206.0h1.35M375.4 194.1h1.35M374.3 183.7h1.35M431.3 191.9h1.35M378.0 196.2h1.35M412.6 207.0h1.35M366.2 203.2h1.35M415.1 173.3h1.35M377.0 211.6h1.35M402.9 199.0h1.35M445.3 174.5h1.35M417.8 214.7h1.35M433.4 208.6h1.35M452.9 152.2h1.35M425.0 173.5h1.35M456.1 171.6h1.35M451.7 163.6h1.35M422.8 191.9h1.35M375.5 211.9h1.35M361.8 184.1h1.35M416.6 175.7h1.35M407.5 198.6h1.35M400.3 187.0h1.35M379.0 195.0h1.35M388.0 190.9h1.35M382.6 204.4h1.35M341.6 206.8h1.35M363.5 187.4h1.35M414.0 220.3h1.35M423.1 189.4h1.35M397.2 200.5h1.35M456.6 190.8h1.35M395.9 210.3h1.35M446.5 205.3h1.35M398.1 204.8h1.35M447.7 209.1h1.35M445.3 176.6h1.35M435.4 160.7h1.35M429.0 204.8h1.35M443.3 145.6h1.35M355.7 192.7h1.35M376.2 184.6h1.35M404.5 167.4h1.35M396.8 215.1h1.35M403.1 172.7h1.35M411.6 155.8h1.35M453.6 193.6h1.35M363.3 187.6h1.35M378.9 184.2h1.35M373.6 191.8h1.35M428.2 192.7h1.35M408.9 168.7h1.35M435.8 175.4h1.35M392.3 175.2h1.35M394.9 169.1h1.35M343.5 209.8h1.35M400.6 168.8h1.35M422.4 218.8h1.35M448.3 197.4h1.35M440.0 154.8h1.35M454.9 212.6h1.35M435.7 152.8h1.35M455.1 189.0h1.35M382.7 201.2h1.35M363.3 187.7h1.35M405.2 164.5h1.35M386.6 155.6h1.35M448.0 206.5h1.35M392.7 185.8h1.35M454.2 182.9h1.35M340.9 204.7h1.35M427.3 185.4h1.35M454.9 154.0h1.35M344.9 211.0h1.35M455.1 211.5h1.35M369.3 183.3h1.35M421.7 165.6h1.35M451.4 190.1h1.35M384.1 185.3h1.35M420.3 163.1h1.35M429.0 212.9h1.35M412.0 151.8h1.35M407.4 200.2h1.35M454.1 183.8h1.35M337.6 206.8h1.35M393.2 189.8h1.35M386.2 167.8h1.35M440.7 203.8h1.35M445.3 209.0h1.35M453.0 202.9h1.35M453.1 193.8h1.35M358.8 191.9h1.35M368.7 162.2h1.35M366.9 163.2h1.35M389.2 153.6h1.35M426.2 188.0h1.35M445.5 164.7h1.35M440.3 174.1h1.35M390.4 160.3h1.35M381.3 199.3h1.35M446.7 188.9h1.35M378.7 184.8h1.35M399.3 158.6h1.35M341.1 198.7h1.35M446.0 212.1h1.35M438.0 182.6h1.35M361.1 197.5h1.35M445.3 192.0h1.35M407.9 188.2h1.35M445.6 205.5h1.35M441.2 182.6h1.35M378.4 160.1h1.35M402.6 176.2h1.35M412.1 219.1h1.35M397.5 200.8h1.35M373.9 171.3h1.35M445.1 166.8h1.35M456.0 196.1h1.35M421.7 209.3h1.35M395.7 179.8h1.35M433.1 195.3h1.35M448.3 156.7h1.35M446.1 161.6h1.35M397.9 156.9h1.35M354.3 194.2h1.35M384.5 180.6h1.35M456.8 153.6h1.35M405.2 194.0h1.35M429.7 209.0h1.35M416.4 161.7h1.35M423.2 166.5h1.35M376.0 162.3h1.35M361.6 188.7h1.35M411.7 202.6h1.35M352.6 210.1h1.35M428.2 186.9h1.35M438.1 176.9h1.35M451.0 146.0h1.35M391.4 181.3h1.35M336.8 205.9h1.35M425.0 159.8h1.35M386.9 172.3h1.35M407.6 206.6h1.35M436.7 199.2h1.35M425.8 157.6h1.35M383.2 157.8h1.35M455.1 153.3h1.35M374.5 184.4h1.35M442.5 185.1h1.35M371.1 168.8h1.35M452.9 182.1h1.35M451.9 212.7h1.35M425.6 167.7h1.35M401.9 184.4h1.35M449.5 159.2h1.35M387.1 211.9h1.35M380.4 182.9h1.35M452.0 195.1h1.35M456.5 172.5h1.35M450.2 166.0h1.35M385.5 186.7h1.35M425.9 154.5h1.35M344.8 207.9h1.35M406.3 197.2h1.35M394.9 177.9h1.35M383.0 208.8h1.35M366.3 171.5h1.35M370.6 158.8h1.35M367.3 176.0h1.35M449.8 165.3h1.35M388.6 207.4h1.35M417.6 215.2h1.35M430.8 175.2h1.35M415.7 196.9h1.35M458.2 156.5h1.35M439.8 185.6h1.35M400.2 161.8h1.35M401.2 180.7h1.35M428.8 177.6h1.35M388.1 171.4h1.35M423.8 194.0h1.35M423.8 189.4h1.35M361.9 182.7h1.35M433.7 190.6h1.35M341.1 205.1h1.35M401.1 214.3h1.35M412.7 153.9h1.35M425.9 181.2h1.35M372.0 160.3h1.35M413.9 211.0h1.35M374.8 198.8h1.35M427.6 198.8h1.35M452.0 148.4h1.35M437.3 178.1h1.35M448.4 189.0h1.35M385.8 183.0h1.35M435.9 209.3h1.35M373.2 172.5h1.35M409.2 205.5h1.35M459.4 182.2h1.35M386.1 206.5h1.35M335.6 208.5h1.35M423.6 170.0h1.35M430.3 211.8h1.35M428.6 220.7h1.35M414.9 213.9h1.35M428.5 182.1h1.35M339.7 208.6h1.35M409.6 166.2h1.35M337.9 206.4h1.35M375.9 192.0h1.35M375.3 201.8h1.35M450.5 149.6h1.35M455.2 192.3h1.35M399.3 192.6h1.35M441.3 157.2h1.35M401.7 216.4h1.35M455.7 160.6h1.35M356.9 204.2h1.35M391.4 208.2h1.35M415.2 201.8h1.35M364.8 186.0h1.35M419.7 200.3h1.35M417.2 202.0h1.35M367.9 203.9h1.35M438.1 216.9h1.35M424.0 203.1h1.35M404.3 218.0h1.35M424.5 194.7h1.35M429.7 198.3h1.35M379.2 165.7h1.35M431.8 187.7h1.35M375.5 156.5h1.35M416.0 154.7h1.35M416.2 170.3h1.35M424.0 183.0h1.35M371.6 210.6h1.35M419.2 169.2h1.35M452.5 151.2h1.35M437.2 180.4h1.35M390.4 187.6h1.35M426.6 207.1h1.35M420.7 207.4h1.35M397.1 207.6h1.35M400.2 174.5h1.35M412.3 215.2h1.35M362.8 176.1h1.35M397.1 156.7h1.35M442.7 163.4h1.35M450.2 151.5h1.35M366.5 173.7h1.35M399.9 180.1h1.35M379.2 171.3h1.35M388.5 166.7h1.35M438.4 180.1h1.35M420.6 157.6h1.35M367.3 192.0h1.35M439.5 166.3h1.35M382.9 160.1h1.35M393.3 153.7h1.35M429.4 165.3h1.35M457.4 150.4h1.35M403.4 189.6h1.35M458.7 159.2h1.35M373.8 205.3h1.35M429.5 202.0h1.35M435.1 185.6h1.35M366.3 173.8h1.35M389.2 212.9h1.35M365.3 191.8h1.35M410.6 208.4h1.35M333.1 201.8h1.35M450.2 170.5h1.35M421.1 195.1h1.35M448.5 175.0h1.35M440.6 214.0h1.35M390.3 153.2h1.35M405.0 177.7h1.35M353.2 203.1h1.35M369.0 200.1h1.35M377.6 207.6h1.35M369.5 179.0h1.35M359.1 208.3h1.35M425.7 209.2h1.35M428.3 187.6h1.35M422.2 170.9h1.35M412.3 169.8h1.35M375.4 203.3h1.35M393.0 158.9h1.35M372.3 194.4h1.35M383.9 197.4h1.35M385.3 206.4h1.35M349.7 193.3h1.35M412.4 159.5h1.35M371.4 209.6h1.35M451.8 158.4h1.35M394.8 208.8h1.35M390.6 185.8h1.35M454.1 184.5h1.35M409.2 197.8h1.35M418.9 181.3h1.35M450.7 188.2h1.35M427.3 220.4h1.35M391.2 179.5h1.35M408.6 156.5h1.35M344.5 206.7h1.35M375.3 197.4h1.35M358.8 189.8h1.35M386.5 162.3h1.35M386.9 172.5h1.35M414.1 198.7h1.35M428.5 215.5h1.35M454.7 185.6h1.35M382.4 163.4h1.35M450.3 180.4h1.35M404.9 177.1h1.35M414.8 153.4h1.35M379.5 183.9h1.35M418.6 185.6h1.35M371.2 172.3h1.35M326.5 204.9h1.35M335.5 208.9h1.35M369.7 189.2h1.35M436.3 204.4h1.35M449.4 208.9h1.35M460.8 159.6h1.35M413.3 220.1h1.35M367.7 211.3h1.35M439.0 209.2h1.35M382.2 159.7h1.35M367.6 166.3h1.35M403.5 159.9h1.35M453.6 190.7h1.35M453.0 188.3h1.35M456.5 154.6h1.35M406.1 157.1h1.35M413.6 199.1h1.35M389.6 166.4h1.35M412.0 162.6h1.35M363.2 192.1h1.35M383.8 197.4h1.35M388.3 206.2h1.35M392.1 169.1h1.35M409.5 161.7h1.35M394.9 213.4h1.35M421.2 192.3h1.35M388.5 198.2h1.35M390.6 194.4h1.35M387.7 166.1h1.35M454.9 213.2h1.35M411.2 157.3h1.35M400.6 189.3h1.35M376.7 213.0h1.35M420.6 156.4h1.35M420.8 172.6h1.35M410.6 168.1h1.35M449.5 170.2h1.35M444.0 150.1h1.35M439.8 190.7h1.35M327.6 203.8h1.35M398.3 192.0h1.35M451.6 184.2h1.35M453.9 189.0h1.35M448.9 150.3h1.35M458.0 151.8h1.35M427.5 218.1h1.35M386.8 157.6h1.35M433.6 211.1h1.35M408.2 217.7h1.35M435.2 195.4h1.35M451.0 175.5h1.35M416.5 172.7h1.35M422.8 172.4h1.35M422.9 159.7h1.35M410.4 164.9h1.35M432.1 210.8h1.35M365.3 168.6h1.35M425.6 166.8h1.35M354.1 202.6h1.35M454.0 194.7h1.35M404.8 188.1h1.35M421.7 216.4h1.35M402.5 204.4h1.35M456.0 194.6h1.35M369.1 202.9h1.35M424.5 216.6h1.35M363.1 190.5h1.35M342.7 207.6h1.35M453.0 188.2h1.35M420.4 167.3h1.35M393.1 174.3h1.35M408.9 191.1h1.35M365.6 184.3h1.35M446.5 152.2h1.35M448.5 209.2h1.35M439.9 173.2h1.35M423.6 174.6h1.35M431.5 167.5h1.35M447.8 146.1h1.35M415.7 213.3h1.35M402.6 162.9h1.35M452.0 182.9h1.35M453.8 209.5h1.35M380.2 154.8h1.35M421.4 172.2h1.35M372.4 153.8h1.35M387.0 191.7h1.35M375.1 178.2h1.35M383.6 180.8h1.35M412.2 218.3h1.35M419.4 167.1h1.35M433.6 212.7h1.35M450.5 198.4h1.35M428.0 220.3h1.35M380.8 154.7h1.35M435.2 196.5h1.35M422.6 163.8h1.35M454.5 177.9h1.35M391.2 185.1h1.35M417.0 177.1h1.35M453.4 145.2h1.35M415.5 153.2h1.35M390.9 201.0h1.35M422.1 154.4h1.35M437.6 193.3h1.35M419.1 191.2h1.35M343.6 203.8h1.35M391.6 184.6h1.35M377.9 207.6h1.35M369.3 179.7h1.35M382.5 179.0h1.35M360.0 204.6h1.35M455.7 198.6h1.35M411.0 171.2h1.35M401.1 206.7h1.35M383.6 158.2h1.35M366.4 199.4h1.35M407.9 160.2h1.35M390.4 204.5h1.35M394.5 187.5h1.35M404.8 174.3h1.35M383.5 205.6h1.35M372.4 204.1h1.35M370.1 204.9h1.35M449.5 171.7h1.35M452.1 188.3h1.35M330.8 209.0h1.35M396.7 186.1h1.35M434.7 214.6h1.35M402.2 152.5h1.35M437.1 201.7h1.35M401.6 210.2h1.35M446.3 200.1h1.35M385.1 161.3h1.35M411.8 174.1h1.35M418.1 208.9h1.35M427.7 162.9h1.35M448.4 186.6h1.35M431.7 187.9h1.35M369.4 193.0h1.35M447.5 198.5h1.35M452.9 156.7h1.35M376.9 174.9h1.35M414.9 157.9h1.35M440.2 204.7h1.35M363.0 201.0h1.35M403.8 195.3h1.35M407.5 214.6h1.35M421.7 193.4h1.35M395.2 167.6h1.35M446.8 211.3h1.35M438.9 212.6h1.35M442.1 206.1h1.35M449.6 173.7h1.35M387.1 156.6h1.35M387.2 212.0h1.35M421.4 210.5h1.35M453.9 181.8h1.35M416.2 153.5h1.35M379.8 205.8h1.35M395.0 151.5h1.35M375.5 172.3h1.35M418.6 153.7h1.35M456.8 178.3h1.35M458.8 148.9h1.35M442.8 153.8h1.35M432.4 184.4h1.35M436.2 189.3h1.35M374.1 179.4h1.35M402.7 180.3h1.35M420.0 204.7h1.35M430.6 171.5h1.35M424.8 201.3h1.35M420.6 175.6h1.35M368.5 156.6h1.35M390.1 177.4h1.35M450.7 156.1h1.35M436.1 178.7h1.35M424.4 185.4h1.35M395.8 161.3h1.35M452.9 161.8h1.35M431.5 200.8h1.35M392.3 193.7h1.35M386.9 156.8h1.35M410.5 217.7h1.35M416.7 206.1h1.35M418.7 216.4h1.35M396.6 195.4h1.35M446.6 191.8h1.35M437.9 163.0h1.35M446.9 166.1h1.35M441.9 152.7h1.35M436.9 194.2h1.35M349.1 207.0h1.35M455.4 187.3h1.35M394.5 178.2h1.35M433.7 176.8h1.35M377.2 204.0h1.35M416.8 192.9h1.35M442.0 211.6h1.35M369.3 189.1h1.35M392.7 161.8h1.35M443.8 208.5h1.35M387.7 211.4h1.35M458.0 145.2h1.35M369.1 202.7h1.35M452.8 200.9h1.35M397.0 206.8h1.35M398.8 190.7h1.35M421.9 209.0h1.35M400.1 177.4h1.35M445.3 170.0h1.35M453.4 148.8h1.35M424.8 213.0h1.35M384.0 165.8h1.35M453.6 152.3h1.35M416.0 163.3h1.35M349.0 205.3h1.35M400.3 153.4h1.35M403.1 192.4h1.35M367.1 185.4h1.35M435.9 224.0h1.35M442.4 216.2h1.35M439.7 163.2h1.35M442.4 149.5h1.35M408.3 189.6h1.35M369.6 169.3h1.35M377.0 197.8h1.35M423.8 187.4h1.35M441.5 180.8h1.35M366.7 166.7h1.35M394.1 201.1h1.35M435.2 201.4h1.35M410.0 211.5h1.35M410.1 168.6h1.35M411.4 188.1h1.35M458.5 203.8h1.35M335.7 208.4h1.35M415.5 178.7h1.35M428.6 209.1h1.35M453.6 167.0h1.35M386.1 157.3h1.35M439.6 209.1h1.35M411.3 192.5h1.35M378.1 188.8h1.35M390.9 168.3h1.35M457.4 156.8h1.35M425.2 202.7h1.35M392.4 190.4h1.35M417.7 169.0h1.35M429.6 218.4h1.35M387.0 180.4h1.35M424.3 170.4h1.35M349.8 199.9h1.35M452.3 182.7h1.35M406.8 173.8h1.35M372.9 164.7h1.35M444.8 199.1h1.35M454.9 179.1h1.35M435.9 150.0h1.35M344.4 195.2h1.35M379.0 206.4h1.35M400.8 197.7h1.35M360.8 187.7h1.35M435.0 216.6h1.35M440.9 168.3h1.35M428.6 157.1h1.35M381.2 179.1h1.35M384.3 191.1h1.35M363.6 210.2h1.35M432.4 212.2h1.35M417.8 187.0h1.35M409.2 159.7h1.35M446.3 188.2h1.35M455.6 202.8h1.35M389.5 156.2h1.35M453.8 164.9h1.35M456.4 159.0h1.35M408.1 218.1h1.35M335.4 202.1h1.35M451.5 188.8h1.35M412.6 188.3h1.35M439.6 172.2h1.35M405.0 202.6h1.35M398.3 153.5h1.35M398.7 191.9h1.35M407.4 174.8h1.35M424.3 163.6h1.35M385.0 202.3h1.35M356.2 214.5h1.35M438.4 170.0h1.35M456.3 179.0h1.35M435.6 212.7h1.35M459.2 148.9h1.35M402.8 197.4h1.35M427.8 179.6h1.35M437.6 157.2h1.35M411.1 198.1h1.35M456.5 174.7h1.35M337.2 204.7h1.35M424.4 181.0h1.35M422.1 211.6h1.35M416.0 155.6h1.35M415.6 212.3h1.35M329.0 207.7h1.35M436.3 179.9h1.35M414.3 181.4h1.35M428.7 182.8h1.35M407.0 153.4h1.35M389.3 155.4h1.35M421.3 209.9h1.35M422.9 185.7h1.35M426.7 189.7h1.35M344.7 198.2h1.35M353.3 207.4h1.35M403.2 164.1h1.35M445.1 205.3h1.35M453.9 204.1h1.35M454.5 157.0h1.35M342.0 202.7h1.35M378.7 214.8h1.35M424.4 154.4h1.35M399.8 168.8h1.35M414.2 216.9h1.35M377.5 188.2h1.35M412.2 211.6h1.35M391.5 194.5h1.35M360.2 208.4h1.35M439.2 149.4h1.35M430.7 197.3h1.35M441.4 158.9h1.35M404.1 196.2h1.35M457.4 203.9h1.35M387.5 196.3h1.35M376.3 180.7h1.35M442.8 217.0h1.35M396.3 159.3h1.35M416.9 181.7h1.35M426.9 200.3h1.35M409.8 160.4h1.35M443.6 191.6h1.35M390.1 158.8h1.35M449.9 174.6h1.35M453.1 185.9h1.35M440.2 186.1h1.35M384.9 160.0h1.35M430.1 191.5h1.35M420.2 202.6h1.35M434.3 171.2h1.35M398.6 178.7h1.35M363.3 210.8h1.35M351.8 204.1h1.35M452.8 157.1h1.35M410.5 167.3h1.35M357.1 201.5h1.35M450.2 204.7h1.35M368.8 165.0h1.35M384.9 167.9h1.35M406.7 166.3h1.35M399.7 202.0h1.35M433.6 190.9h1.35M360.5 201.4h1.35M375.3 174.0h1.35M396.0 176.7h1.35M412.5 168.0h1.35M346.0 206.3h1.35M400.0 189.1h1.35M450.2 157.5h1.35M392.4 208.4h1.35M426.6 208.1h1.35M362.8 193.3h1.35M427.7 158.3h1.35M440.7 157.0h1.35M404.6 153.2h1.35M409.3 199.9h1.35M402.7 163.9h1.35M371.3 187.8h1.35M387.0 182.8h1.35M439.0 164.0h1.35M455.4 210.1h1.35M408.5 190.1h1.35M381.0 213.9h1.35M417.2 183.3h1.35M372.9 175.4h1.35M391.1 175.3h1.35M398.1 212.7h1.35M398.2 150.2h1.35M365.7 180.4h1.35M446.4 204.2h1.35M436.7 165.9h1.35M383.3 191.2h1.35M371.7 163.9h1.35M435.2 191.8h1.35M399.0 197.5h1.35M427.1 183.9h1.35M412.3 194.4h1.35M433.8 162.4h1.35M363.9 176.5h1.35M344.3 206.5h1.35M390.1 206.3h1.35M456.9 166.9h1.35M395.2 190.6h1.35M362.6 190.1h1.35M421.4 192.6h1.35M360.3 202.2h1.35M366.3 205.0h1.35M444.9 153.7h1.35M389.0 188.0h1.35M394.5 200.1h1.35M416.3 183.1h1.35M381.4 157.9h1.35M390.3 159.7h1.35M417.8 208.6h1.35M384.0 210.1h1.35M438.7 203.5h1.35M438.5 149.2h1.35M430.0 164.3h1.35M387.3 211.8h1.35M420.7 205.9h1.35M436.0 160.1h1.35M391.0 172.1h1.35M338.2 199.5h1.35M442.3 205.9h1.35M380.0 189.6h1.35M375.3 167.5h1.35M370.2 205.6h1.35M448.2 190.1h1.35M350.0 210.1h1.35M412.9 158.2h1.35M333.7 202.6h1.35M413.5 206.1h1.35M389.3 157.1h1.35M416.5 210.9h1.35M414.4 184.1h1.35M456.4 201.1h1.35M386.9 168.1h1.35M385.5 153.8h1.35M389.8 186.9h1.35M436.2 168.3h1.35M406.2 208.9h1.35M452.6 173.4h1.35M390.6 195.1h1.35M424.3 159.3h1.35M391.3 185.2h1.35M418.9 212.2h1.35M437.4 188.3h1.35M426.1 159.2h1.35M370.5 169.7h1.35M451.5 161.6h1.35M457.2 164.2h1.35M433.7 180.2h1.35M424.7 195.1h1.35M442.9 151.5h1.35M437.0 191.1h1.35M404.5 208.2h1.35M436.7 172.3h1.35M453.0 203.0h1.35M403.6 160.7h1.35M434.7 155.5h1.35M379.4 191.6h1.35M403.0 176.7h1.35M368.3 201.2h1.35M397.2 175.4h1.35M416.1 161.3h1.35M385.4 184.5h1.35M418.7 204.2h1.35M397.1 186.1h1.35M448.4 181.4h1.35M377.3 172.4h1.35M378.8 197.4h1.35M371.0 176.3h1.35M422.0 213.4h1.35M438.4 199.9h1.35M414.4 171.1h1.35M400.1 203.9h1.35M414.0 183.1h1.35M453.1 204.8h1.35M342.3 198.1h1.35M422.7 188.8h1.35M428.0 159.2h1.35M430.6 196.6h1.35M398.7 177.9h1.35M392.5 204.1h1.35M380.1 204.9h1.35M405.2 187.8h1.35M417.7 171.3h1.35M452.5 174.6h1.35M420.0 162.4h1.35M413.3 215.8h1.35M337.4 203.2h1.35M348.7 203.6h1.35M378.1 167.2h1.35M385.7 211.7h1.35M436.2 178.2h1.35M386.5 162.1h1.35M419.3 182.3h1.35M456.4 196.8h1.35M456.1 194.8h1.35M382.3 159.7h1.35M363.8 185.4h1.35M430.5 201.8h1.35M439.4 156.6h1.35M432.8 211.7h1.35M385.2 193.3h1.35M386.9 179.0h1.35M449.5 211.1h1.35M393.7 156.6h1.35M436.4 167.9h1.35M387.9 159.7h1.35M341.7 204.4h1.35M433.5 186.3h1.35M432.6 183.0h1.35M421.6 189.7h1.35M444.0 177.8h1.35M426.4 170.4h1.35M418.2 179.7h1.35M380.5 210.1h1.35M382.6 214.0h1.35M403.2 207.5h1.35M459.0 161.6h1.35M413.9 206.9h1.35M369.6 169.1h1.35M413.5 175.9h1.35M442.3 197.3h1.35M390.8 193.4h1.35M447.6 168.4h1.35M415.0 211.9h1.35M453.9 208.0h1.35M367.4 186.4h1.35M443.0 204.1h1.35M375.2 203.5h1.35M451.0 179.0h1.35M431.2 183.2h1.35M377.2 203.6h1.35M451.1 172.7h1.35M372.1 205.3h1.35M410.8 188.4h1.35M417.8 159.5h1.35M416.7 218.0h1.35M432.0 196.9h1.35M440.5 184.8h1.35M412.1 186.1h1.35M391.1 165.2h1.35M398.6 190.8h1.35M416.3 210.4h1.35M420.4 167.2h1.35M460.6 159.6h1.35M366.8 187.8h1.35M382.6 183.9h1.35M337.8 204.1h1.35M394.2 211.0h1.35M450.2 184.4h1.35M408.8 160.8h1.35M426.6 206.4h1.35M442.9 168.4h1.35M387.7 208.9h1.35M380.9 166.0h1.35M438.2 189.6h1.35M425.4 165.9h1.35M432.5 163.9h1.35M390.8 172.3h1.35M443.0 193.2h1.35M416.5 178.2h1.35M439.6 165.5h1.35M436.6 185.8h1.35M410.2 209.8h1.35M375.0 183.0h1.35M383.4 174.7h1.35M427.8 182.7h1.35M413.9 207.1h1.35M430.7 170.6h1.35M405.1 196.8h1.35M376.4 181.2h1.35M406.4 184.5h1.35M357.1 202.3h1.35M367.6 208.2h1.35M425.4 168.3h1.35M414.3 218.6h1.35M349.6 196.0h1.35M437.4 194.4h1.35M435.6 214.2h1.35M424.8 165.6h1.35M360.6 188.0h1.35M446.3 175.9h1.35M406.1 160.0h1.35M423.4 214.5h1.35M428.9 206.2h1.35M386.9 175.8h1.35M446.8 151.7h1.35M354.7 193.7h1.35M439.1 216.0h1.35M452.1 205.7h1.35M446.4 191.6h1.35M393.7 158.4h1.35M369.3 194.0h1.35M373.9 209.4h1.35M402.6 188.0h1.35M434.6 190.7h1.35M406.2 167.0h1.35M416.5 161.2h1.35M384.2 177.6h1.35M376.5 160.4h1.35M406.9 192.6h1.35M394.4 166.4h1.35M367.8 162.0h1.35M456.8 148.1h1.35M436.7 198.7h1.35M430.9 167.3h1.35M429.1 194.1h1.35M386.2 165.7h1.35M408.7 214.2h1.35M416.2 178.3h1.35M432.1 208.9h1.35M425.3 211.5h1.35M375.2 209.2h1.35M360.8 190.5h1.35M416.2 185.2h1.35M345.3 203.0h1.35M374.7 218.0h1.35M417.9 206.6h1.35M429.9 205.6h1.35M430.7 162.2h1.35M455.7 204.6h1.35M364.0 209.3h1.35M443.5 217.7h1.35M409.3 215.2h1.35M455.1 212.9h1.35M383.6 214.6h1.35M344.3 197.7h1.35M453.2 215.0h1.35M450.4 179.5h1.35M389.7 163.6h1.35M418.8 177.6h1.35M392.5 157.2h1.35M453.0 152.1h1.35M456.8 196.8h1.35M452.6 160.2h1.35M391.1 190.2h1.35M396.9 206.3h1.35M377.9 158.2h1.35M428.4 162.9h1.35M387.0 206.7h1.35M397.5 174.5h1.35M388.4 212.9h1.35M399.4 170.9h1.35M422.5 180.7h1.35M410.0 173.7h1.35M451.1 211.9h1.35M422.0 196.8h1.35M450.2 161.6h1.35M419.6 199.9h1.35M450.8 150.1h1.35M427.3 161.3h1.35M452.2 149.9h1.35M367.1 173.8h1.35M388.2 189.4h1.35M343.1 205.3h1.35M449.7 170.7h1.35M390.9 159.0h1.35M340.1 200.5h1.35M408.8 160.9h1.35M404.0 214.6h1.35M425.4 203.3h1.35M405.2 211.4h1.35M434.0 173.0h1.35M406.1 161.2h1.35M411.0 206.5h1.35M387.7 186.7h1.35M441.3 198.7h1.35M407.2 203.4h1.35M391.2 154.4h1.35M389.5 167.2h1.35M416.9 201.4h1.35M442.8 182.9h1.35M378.7 161.7h1.35M425.0 167.9h1.35M430.5 179.0h1.35M359.6 191.5h1.35M447.7 162.5h1.35M386.8 195.0h1.35M404.3 175.3h1.35M433.1 159.0h1.35M407.8 198.8h1.35M431.8 167.6h1.35M386.3 198.6h1.35M398.0 185.5h1.35M367.7 208.6h1.35M457.5 165.1h1.35M377.6 172.9h1.35M446.3 158.7h1.35M374.4 212.6h1.35M403.3 153.1h1.35M381.4 190.5h1.35M402.9 205.9h1.35M363.7 195.6h1.35M377.2 155.6h1.35M404.2 183.3h1.35M457.1 161.7h1.35M415.6 167.0h1.35M413.5 172.1h1.35M364.1 176.4h1.35M424.1 184.7h1.35M425.6 200.3h1.35M446.6 185.4h1.35M373.4 182.3h1.35M385.8 164.0h1.35M440.0 147.4h1.35M457.9 157.1h1.35M415.7 174.4h1.35M368.1 206.9h1.35M387.3 179.8h1.35M452.9 172.6h1.35M332.2 201.5h1.35M348.3 205.5h1.35M411.3 178.5h1.35M450.6 153.4h1.35M388.2 155.3h1.35M389.5 174.9h1.35M426.9 167.2h1.35M383.4 203.9h1.35M442.2 191.4h1.35M453.7 150.1h1.35M417.4 163.3h1.35M374.5 162.0h1.35M375.7 183.7h1.35M399.0 180.0h1.35M427.0 170.6h1.35M382.2 163.9h1.35M361.5 195.6h1.35M446.1 195.2h1.35M424.6 173.8h1.35M425.7 210.0h1.35M404.9 204.0h1.35M404.9 207.7h1.35M439.6 204.4h1.35M384.3 195.4h1.35M450.5 169.4h1.35M397.0 178.6h1.35M414.0 219.5h1.35M412.7 163.6h1.35M425.0 198.1h1.35M369.1 207.2h1.35M445.0 178.1h1.35M373.9 182.9h1.35M434.8 216.7h1.35M443.9 214.7h1.35M429.8 182.8h1.35M410.0 189.1h1.35M411.6 203.4h1.35M405.2 170.9h1.35M452.7 146.5h1.35M410.0 204.9h1.35M413.2 154.8h1.35M432.4 170.4h1.35M386.5 174.6h1.35M435.6 168.8h1.35M343.6 208.5h1.35M452.2 165.5h1.35M388.8 160.9h1.35M427.2 177.1h1.35M430.4 219.1h1.35M385.6 199.8h1.35M378.0 165.2h1.35M381.3 172.7h1.35M399.4 193.0h1.35M401.2 205.7h1.35M445.3 201.9h1.35M445.9 152.0h1.35M454.6 160.8h1.35M452.3 146.4h1.35M414.5 201.9h1.35M376.1 182.3h1.35M399.5 172.6h1.35M395.2 211.7h1.35M398.5 192.5h1.35M422.7 222.4h1.35M355.4 200.5h1.35M421.2 191.9h1.35M435.7 211.6h1.35M389.1 149.3h1.35M375.8 200.9h1.35M428.1 184.5h1.35M383.0 194.2h1.35M397.9 168.0h1.35M458.7 156.2h1.35M399.8 193.5h1.35M427.9 214.1h1.35M444.8 170.8h1.35M380.3 168.5h1.35M436.4 204.0h1.35M393.5 172.5h1.35M416.8 179.6h1.35M386.2 166.1h1.35M383.9 195.7h1.35M409.0 200.8h1.35M381.8 212.0h1.35M444.4 191.9h1.35M346.5 208.8h1.35M426.3 186.2h1.35M385.7 174.2h1.35M359.2 211.4h1.35M443.6 174.9h1.35M362.9 204.9h1.35M397.3 209.3h1.35M446.4 177.3h1.35M444.3 155.1h1.35M429.0 184.7h1.35M406.4 163.7h1.35M415.8 220.0h1.35M424.0 200.6h1.35M385.2 191.3h1.35M425.6 186.3h1.35M360.0 195.3h1.35M417.9 165.2h1.35M449.7 176.3h1.35M354.6 201.6h1.35M388.6 159.8h1.35M427.9 164.5h1.35M353.2 205.8h1.35M417.5 222.1h1.35M386.9 181.4h1.35M381.7 155.9h1.35M440.6 201.6h1.35M383.2 199.2h1.35M425.0 195.3h1.35M456.3 160.5h1.35M339.7 206.9h1.35M452.6 195.8h1.35M388.9 188.3h1.35M439.5 216.4h1.35M413.6 180.9h1.35M412.9 197.8h1.35M442.2 172.1h1.35M451.1 194.4h1.35M355.6 201.9h1.35M455.6 171.2h1.35M404.1 217.8h1.35M414.7 157.1h1.35M459.3 151.2h1.35M417.0 161.9h1.35M390.5 155.7h1.35M437.8 219.4h1.35M424.2 215.8h1.35" stroke="#990099" stroke-width="1.35" fill="none"/>
<path d="M461.1 195.1h1.35M482.3 171.4h1.35M461.4 172.5h1.35M472.6 175.7h1.35M479.4 179.4h1.35M462.4 157.5h1.35M476.8 173.9h1.35M460.3 173.1h1.35M462.0 176.9h1.35M479.4 195.1h1.35M475.4 174.1h1.35M478.2 166.8h1.35M471.7 166.9h1.35M464.3 182.2h1.35" stroke="#0099C6" stroke-width="1.35" fill="none"/>
<path d="M446.0 129.3h1.1M452.2 127.3h1.1M454.2 126.3h1.1M446.4 128.2h1.1M453.5 126.6h1.1M448.7 129.9h1.1M454.4 123.6h1.1M453.6 125.8h1.1M455.8 124.5h1.1M444.8 129.0h1.1M452.3 128.1h1.1M456.7 123.9h1.1M447.1 128.6h1.1M452.1 125.9h1.1" stroke="#316395" stroke-width="1.1" fill="none"/>
<path d="M509.5 128.2h1.35M498.1 117.3h1.35M522.8 141.4h1.35M520.9 133.4h1.35M520.9 131.1h1.35M498.7 123.3h1.35M505.9 122.1h1.35M514.3 102.2h1.35M504.8 126.8h1.35M503.0 123.5h1.35M511.9 112.3h1.35M502.7 115.7h1.35M525.3 138.6h1.35M517.8 123.5h1.35M510.9 116.6h1.35M518.3 125.6h1.35M518.3 134.6h1.35M528.9 144.2h1.35M524.0 122.4h1.35M513.4 118.5h1.35M503.8 117.5h1.35M507.2 112.9h1.35M496.6 121.6h1.35M506.7 126.8h1.35M517.9 109.8h1.35M502.7 122.6h1.35M494.5 124.2h1.35M512.8 114.6h1.35M518.8 131.5h1.35M503.2 127.6h1.35M524.9 130.9h1.35M518.6 102.7h1.35M502.8 110.3h1.35M503.8 108.9h1.35M525.9 134.9h1.35M508.4 113.9h1.35M522.5 135.4h1.35M514.2 112.1h1.35M500.4 117.0h1.35M524.6 146.3h1.35M517.1 115.8h1.35M520.6 124.7h1.35M519.8 146.5h1.35M522.8 132.0h1.35M515.0 113.1h1.35M507.0 120.3h1.35M520.8 120.2h1.35M525.6 133.6h1.35M495.0 121.4h1.35M515.8 119.5h1.35M492.8 118.4h1.35M515.6 112.2h1.35M508.0 128.1h1.35M512.3 131.2h1.35M502.1 116.1h1.35M504.3 128.1h1.35M521.0 136.2h1.35M525.9 133.7h1.35M512.7 120.6h1.35M499.7 116.2h1.35M511.2 108.5h1.35M510.4 105.4h1.35M520.5 143.3h1.35M520.6 116.5h1.35M522.2 111.2h1.35M504.8 118.8h1.35M497.8 126.1h1.35M507.9 106.7h1.35M519.4 112.2h1.35M524.1 142.4h1.35M505.9 131.8h1.35M519.7 114.4h1.35M516.2 124.0h1.35M523.1 133.9h1.35M512.0 109.7h1.35M516.0 128.2h1.35M509.9 121.7h1.35M517.2 138.9h1.35M521.5 123.7h1.35M517.8 117.9h1.35M516.2 111.2h1.35M512.1 126.6h1.35M518.9 107.9h1.35" stroke="#66AA00" stroke-width="1.35" fill="none"/>
<path d="M494.1 259.6h1.35M470.3 225.3h1.35M482.5 239.4h1.35M474.1 225.5h1.35M454.8 238.0h1.35M423.8 225.6h1.35M454.2 224.7h1.35M468.9 233.2h1.35M462.3 245.7h1.35M444.0 209.8h1.35M480.3 243.5h1.35M431.6 226.3h1.35M466.0 222.4h1.35M470.2 236.1h1.35M438.3 213.0h1.35M480.0 249.5h1.35M435.4 230.6h1.35M487.9 246.0h1.35M459.5 228.4h1.35M486.0 245.1h1.35M452.6 213.4h1.35M465.0 228.0h1.35M470.4 234.5h1.35M462.1 238.6h1.35M480.9 242.6h1.35M440.8 228.1h1.35M474.9 233.8h1.35M443.8 218.4h1.35M434.9 234.5h1.35M451.6 216.1h1.35" stroke="#109618" stroke-width="1.35" fill="none"/>
<path d="M494.7 109.3h1.35M491.4 104.8h1.35M503.2 106.9h1.35M489.3 106.5h1.35M490.2 111.8h1.35M499.2 104.1h1.35M495.7 111.9h1.35M482.8 103.7h1.35M497.9 107.7h1.35M487.6 108.7h1.35M493.8 107.5h1.35M496.2 107.8h1.35M492.7 108.4h1.35M499.7 101.3h1.35M491.6 101.3h1.35M498.7 110.9h1.35M487.8 101.3h1.35M490.9 109.8h1.35M488.3 102.6h1.35M490.0 109.0h1.35M494.4 111.6h1.35M492.3 98.4h1.35M497.6 105.6h1.35M493.9 102.4h1.35M487.1 103.1h1.35M494.5 106.0h1.35M484.8 118.2h1.35M493.9 103.5h1.35M493.2 103.0h1.35M490.6 100.6h1.35M489.3 100.9h1.35M498.0 106.4h1.35M497.5 110.8h1.35" stroke="#DD4477" stroke-width="1.35" fill="none"/>
<path d="M523.2 214.2h1.1M523.1 214.9h1.1M520.9 214.6h1.1M521.4 214.5h1.1M521.1 215.5h1.1M523.2 212.2h1.1M520.9 216.4h1.1M522.8 214.0h1.1M520.8 214.8h1.1" stroke="#316395" stroke-width="1.1" fill="none"/>
<path d="M475.7 183.9h1.35M479.8 183.7h1.35M481.7 176.7h1.35M469.2 192.3h1.35M480.1 174.6h1.35M481.2 179.9h1.35M477.9 187.3h1.35M482.2 177.9h1.35M467.4 177.9h1.35M477.5 192.7h1.35M478.5 193.0h1.35M458.7 160.8h1.35M473.8 184.7h1.35M467.4 207.0h1.35" stroke="#0099C6" stroke-width="1.35" fill="none"/>
<path d="M435.6 221.4h1.35M428.4 220.5h1.35M421.8 217.2h1.35M430.1 221.5h1.35M442.6 232.5h1.35M426.4 222.1h1.35M422.3 215.5h1.35M432.8 223.9h1.35M429.2 224.5h1.35M442.0 228.2h1.35M427.8 222.1h1.35M424.9 221.7h1.35M435.5 222.1h1.35M436.5 226.6h1.35" stroke="#109618" stroke-width="1.35" fill="none"/>
<path d="M505.9 261.1h1.35M502.7 260.5h1.35M508.0 266.9h1.35M499.2 265.9h1.35M495.1 257.8h1.35M493.0 258.0h1.35M514.2 262.8h1.35M494.2 263.9h1.35M496.7 258.8h1.35M503.3 258.7h1.35M512.5 256.9h1.35M499.2 258.3h1.35M503.1 263.3h1.35M509.1 263.4h1.35M500.1 262.3h1.35M510.3 258.3h1.35M500.7 267.6h1.35M498.3 263.6h1.35M509.7 257.2h1.35M505.0 261.0h1.35M491.3 264.3h1.35M500.0 264.0h1.35M502.3 260.2h1.35M494.8 257.8h1.35M496.0 257.8h1.35M497.5 265.3h1.35M498.7 254.0h1.35M494.5 258.6h1.35M503.0 260.6h1.35M500.6 262.8h1.35M505.6 255.7h1.35M507.3 264.0h1.35M501.5 259.4h1.35M498.8 256.3h1.35M503.5 260.0h1.35M499.5 267.1h1.35M508.6 263.2h1.35M504.9 262.1h1.35M507.9 252.7h1.35M503.6 268.4h1.35M508.2 254.6h1.35M496.2 262.4h1.35" stroke="#3366CC" stroke-width="1.35" fill="none"/>
<path d="M437.3 207.6h1.35M420.8 207.0h1.35M391.6 183.1h1.35M403.8 211.5h1.35M428.2 216.1h1.35M376.8 168.5h1.35M392.1 208.6h1.35M440.2 204.6h1.35M403.2 213.5h1.35M412.5 191.7h1.35M429.0 182.4h1.35M375.8 177.3h1.35M437.3 157.0h1.35M433.2 194.6h1.35M412.4 209.8h1.35M414.1 196.9h1.35M411.6 196.8h1.35M401.3 213.0h1.35M390.4 165.3h1.35M440.8 200.1h1.35M421.0 221.2h1.35M416.6 213.2h1.35M399.6 182.9h1.35M413.2 207.1h1.35M448.5 181.6h1.35M397.5 198.7h1.35M333.0 207.3h1.35M376.0 169.9h1.35M450.4 157.0h1.35M453.3 165.2h1.35M365.5 197.4h1.35M403.0 155.3h1.35M442.2 209.2h1.35M368.4 198.1h1.35M435.1 189.8h1.35M392.6 162.4h1.35M413.4 192.3h1.35M422.8 166.6h1.35M443.8 200.1h1.35M419.9 214.7h1.35M407.3 161.7h1.35M422.9 170.2h1.35M405.1 169.7h1.35M415.2 158.3h1.35M392.8 215.2h1.35M371.6 165.1h1.35M428.3 169.9h1.35M453.8 180.4h1.35M433.7 162.5h1.35M374.9 212.0h1.35M386.1 180.5h1.35M444.5 178.8h1.35M377.7 180.8h1.35M452.3 202.5h1.35M408.7 195.5h1.35M434.1 205.9h1.35M382.3 190.9h1.35M376.5 173.3h1.35M386.2 177.8h1.35M423.0 204.1h1.35M404.9 176.6h1.35M407.4 184.7h1.35M362.9 179.9h1.35M445.6 176.5h1.35M429.8 154.1h1.35M409.6 172.5h1.35M449.2 200.3h1.35M396.5 169.6h1.35M432.5 177.9h1.35M361.3 190.9h1.35M434.5 218.8h1.35M453.4 172.4h1.35M377.7 208.2h1.35M371.5 207.8h1.35M421.7 209.8h1.35M434.5 212.3h1.35M445.4 176.7h1.35M417.2 214.3h1.35M431.8 190.4h1.35M411.7 184.7h1.35M437.4 207.4h1.35M403.3 202.5h1.35M418.1 173.7h1.35M452.6 186.5h1.35M365.5 197.2h1.35M454.4 189.1h1.35M413.4 162.5h1.35M450.8 191.5h1.35M386.4 156.9h1.35M450.7 179.3h1.35M394.6 149.1h1.35M362.7 199.5h1.35M426.7 191.6h1.35M452.6 161.9h1.35M363.3 181.7h1.35M459.1 160.1h1.35M392.7 199.9h1.35M370.2 180.7h1.35M373.1 210.3h1.35M428.0 169.3h1.35M393.2 164.1h1.35M390.6 167.4h1.35M399.3 215.9h1.35M374.3 210.1h1.35M445.0 155.3h1.35M368.8 184.1h1.35M398.1 161.5h1.35M360.7 210.5h1.35M393.5 192.2h1.35M373.4 188.0h1.35M377.2 195.8h1.35M407.2 202.2h1.35M379.5 203.7h1.35M371.8 177.4h1.35M439.8 176.0h1.35M391.3 199.5h1.35M446.2 192.6h1.35M436.6 192.7h1.35M391.7 167.2h1.35M401.9 166.7h1.35M395.2 163.1h1.35M425.0 208.3h1.35M437.6 218.2h1.35M421.0 197.2h1.35M376.5 197.1h1.35M447.1 159.5h1.35M383.2 174.4h1.35M381.8 184.5h1.35M417.3 154.3h1.35M441.6 206.8h1.35M369.6 198.5h1.35M384.7 169.8h1.35M452.5 190.8h1.35M388.2 213.5h1.35M396.1 198.0h1.35M427.3 197.6h1.35M368.6 184.6h1.35M326.3 206.8h1.35M392.3 204.7h1.35M387.8 197.0h1.35M419.2 194.4h1.35M425.8 161.3h1.35M374.2 182.5h1.35M390.5 197.0h1.35M425.2 176.8h1.35M452.5 192.5h1.35M435.7 160.9h1.35M418.1 196.1h1.35M409.3 182.1h1.35M391.1 214.2h1.35M398.8 199.7h1.35M406.0 159.3h1.35M374.6 189.7h1.35M439.7 204.1h1.35M429.4 205.9h1.35M391.6 175.2h1.35M392.8 177.2h1.35M350.9 202.1h1.35M441.2 146.6h1.35M417.5 155.8h1.35M407.7 154.4h1.35M432.7 153.2h1.35M401.6 190.9h1.35M396.4 179.5h1.35M429.3 170.5h1.35M380.9 183.7h1.35M447.3 207.5h1.35M444.1 205.2h1.35M436.7 194.4h1.35M373.3 195.9h1.35M417.3 177.2h1.35M363.4 196.6h1.35M387.6 199.0h1.35M451.5 165.5h1.35M459.6 151.5h1.35M330.9 205.0h1.35M404.9 195.0h1.35M385.7 201.6h1.35M458.3 164.7h1.35M420.5 210.3h1.35M440.8 187.0h1.35M428.8 173.6h1.35M441.8 185.8h1.35M382.2 201.8h1.35M364.3 203.9h1.35M441.9 189.4h1.35M454.4 159.3h1.35M367.0 189.4h1.35M384.3 210.1h1.35M437.9 173.1h1.35M424.1 202.5h1.35M400.3 211.6h1.35M415.1 220.7h1.35M446.8 196.5h1.35M373.5 180.1h1.35M443.3 149.3h1.35M446.1 214.9h1.35M418.9 178.7h1.35M382.6 188.0h1.35M338.2 201.6h1.35M447.8 203.9h1.35M380.5 164.9h1.35M400.1 204.9h1.35M430.1 183.2h1.35M411.0 206.2h1.35M435.7 188.6h1.35M434.7 165.0h1.35M436.7 212.9h1.35M456.6 174.8h1.35M383.8 194.0h1.35M447.3 194.5h1.35M373.3 161.0h1.35M394.6 191.1h1.35M452.1 194.5h1.35M443.0 206.5h1.35M399.3 195.5h1.35M377.3 180.0h1.35M421.6 219.6h1.35M369.3 199.3h1.35M326.8 202.9h1.35M434.4 214.3h1.35M415.7 181.1h1.35M456.1 194.2h1.35M412.3 172.5h1.35M376.2 213.0h1.35M450.3 165.0h1.35M372.9 187.1h1.35M341.6 208.1h1.35M444.0 167.6h1.35M444.2 173.1h1.35M378.8 187.7h1.35M376.0 165.0h1.35M393.9 154.2h1.35M416.8 175.6h1.35M442.6 159.3h1.35M456.6 162.8h1.35M408.7 178.4h1.35M334.0 206.6h1.35M457.6 155.4h1.35M447.2 150.1h1.35M404.9 189.1h1.35M389.3 213.7h1.35M430.0 197.1h1.35M440.4 192.1h1.35M411.7 162.1h1.35M452.8 172.0h1.35M372.6 167.2h1.35M370.8 204.7h1.35M418.8 197.4h1.35M405.8 168.6h1.35M402.1 155.1h1.35M399.5 194.4h1.35M414.0 204.5h1.35M375.1 186.4h1.35M452.0 163.9h1.35M407.0 211.7h1.35M395.4 193.5h1.35M439.7 196.6h1.35M405.4 191.9h1.35M345.6 202.1h1.35M443.2 152.0h1.35M389.9 151.5h1.35M405.1 171.0h1.35M446.0 201.2h1.35M377.6 208.7h1.35M407.3 176.6h1.35M414.7 166.8h1.35M392.9 183.1h1.35M428.8 199.5h1.35M382.5 160.0h1.35M453.5 166.3h1.35M403.5 213.5h1.35M414.4 161.3h1.35M451.3 197.3h1.35M395.2 207.5h1.35M383.1 200.9h1.35M395.0 200.7h1.35M365.0 193.2h1.35M442.0 173.9h1.35M447.8 168.8h1.35M368.8 188.9h1.35M368.1 172.3h1.35M396.5 208.6h1.35M384.7 206.4h1.35M409.8 180.9h1.35M408.3 214.1h1.35M417.5 190.5h1.35M426.3 172.1h1.35M393.3 192.5h1.35M416.0 216.9h1.35M357.5 191.9h1.35M437.6 159.4h1.35M365.3 169.0h1.35M437.9 207.8h1.35M402.9 179.8h1.35M402.4 214.9h1.35M376.4 182.4h1.35M376.8 209.5h1.35M424.2 169.3h1.35M447.6 175.1h1.35M385.3 158.5h1.35M357.7 208.1h1.35M440.6 209.7h1.35M376.8 193.7h1.35M449.8 197.8h1.35M374.1 187.9h1.35M370.5 191.0h1.35M455.8 152.1h1.35M406.2 203.5h1.35M367.1 181.0h1.35M378.5 161.6h1.35M454.5 159.3h1.35M417.8 198.7h1.35M416.8 212.6h1.35M371.0 164.9h1.35M425.9 197.5h1.35M402.5 217.9h1.35M442.3 173.3h1.35M419.1 166.1h1.35M418.3 171.4h1.35M377.4 194.5h1.35M420.0 181.9h1.35M402.9 211.8h1.35M380.9 158.0h1.35M433.5 199.8h1.35M406.7 177.3h1.35M416.7 174.8h1.35M379.6 165.7h1.35M443.6 217.8h1.35M388.3 152.2h1.35M405.8 213.5h1.35M405.7 171.2h1.35M384.0 182.3h1.35M401.7 155.5h1.35M388.7 172.6h1.35M332.5 204.8h1.35M416.0 211.8h1.35M413.5 216.2h1.35M450.1 188.1h1.35M450.0 214.5h1.35M449.3 157.4h1.35M368.7 162.7h1.35M436.0 203.4h1.35M418.7 188.6h1.35M460.3 162.7h1.35M434.0 215.7h1.35M368.9 191.0h1.35M353.4 199.2h1.35M453.9 177.4h1.35M336.1 206.0h1.35M447.5 172.3h1.35M440.8 186.6h1.35M407.8 204.7h1.35M439.2 193.4h1.35M357.3 198.4h1.35M394.5 184.0h1.35M392.0 191.5h1.35M451.8 211.2h1.35M390.2 157.8h1.35M344.1 202.2h1.35M441.6 161.6h1.35M443.4 210.3h1.35M389.5 197.0h1.35M384.6 177.2h1.35M339.4 200.6h1.35M417.4 183.3h1.35M385.5 214.4h1.35M423.9 207.8h1.35M447.8 215.7h1.35M446.0 175.2h1.35M458.0 156.9h1.35M428.6 172.3h1.35M354.8 193.4h1.35M449.9 174.9h1.35M360.6 207.1h1.35M400.6 198.1h1.35M405.3 211.4h1.35M366.1 188.1h1.35M410.2 178.8h1.35M394.8 214.5h1.35M422.9 203.0h1.35M442.3 167.9h1.35M407.2 204.4h1.35M395.6 160.2h1.35M445.3 195.8h1.35M419.3 222.2h1.35M373.4 204.5h1.35M439.4 164.9h1.35M431.7 175.1h1.35M438.5 188.1h1.35M378.9 202.5h1.35M376.7 181.1h1.35M453.9 206.4h1.35M397.0 162.9h1.35M426.9 189.7h1.35M417.1 189.3h1.35M430.0 189.1h1.35M455.1 201.3h1.35M444.0 206.0h1.35M451.5 172.4h1.35M412.5 187.4h1.35M385.3 197.2h1.35M422.9 160.2h1.35M369.8 177.2h1.35M410.3 165.1h1.35M440.0 176.1h1.35M438.5 167.0h1.35M438.5 188.4h1.35M396.7 160.4h1.35M459.0 157.7h1.35M400.3 159.1h1.35M379.3 202.2h1.35M408.8 165.0h1.35M387.3 187.6h1.35M415.2 199.5h1.35M364.9 190.3h1.35M404.2 194.2h1.35M381.0 209.9h1.35M400.2 211.4h1.35M419.7 202.0h1.35M372.7 165.0h1.35M440.0 166.6h1.35M395.1 163.2h1.35M417.8 177.8h1.35M373.3 213.6h1.35M386.6 162.7h1.35M381.3 159.7h1.35M413.7 213.6h1.35M360.4 203.2h1.35M377.3 163.5h1.35M380.7 185.0h1.35M431.2 167.0h1.35M457.9 158.9h1.35M400.5 204.6h1.35M387.6 189.4h1.35M418.0 167.3h1.35M394.1 176.6h1.35M387.4 170.3h1.35M370.6 158.7h1.35M366.8 184.1h1.35M376.9 199.9h1.35M375.2 211.1h1.35M358.0 201.6h1.35M369.4 194.3h1.35M364.8 191.1h1.35M437.1 155.6h1.35M365.2 200.6h1.35M399.5 206.5h1.35M381.9 180.1h1.35M409.8 179.4h1.35M386.0 203.3h1.35M430.6 159.9h1.35M429.3 170.0h1.35M378.1 169.4h1.35M413.8 195.8h1.35M446.3 197.5h1.35M328.3 203.1h1.35M388.7 155.8h1.35M419.6 200.7h1.35M393.5 166.3h1.35M393.2 178.5h1.35M443.2 149.0h1.35M414.5 177.9h1.35M442.1 198.7h1.35M373.9 195.5h1.35M424.2 195.2h1.35M338.9 208.5h1.35M341.8 206.0h1.35M441.2 196.6h1.35M426.2 200.6h1.35M363.6 198.2h1.35M440.2 156.4h1.35M401.8 201.8h1.35M394.2 164.4h1.35M414.0 159.9h1.35M385.0 192.3h1.35M438.4 222.5h1.35M431.3 165.3h1.35M369.8 166.6h1.35M454.7 163.0h1.35M448.4 211.7h1.35M372.6 205.7h1.35M427.2 155.5h1.35M367.9 183.7h1.35M401.5 170.7h1.35M369.5 190.6h1.35M371.8 204.2h1.35M433.7 218.4h1.35M438.2 191.9h1.35M390.2 151.6h1.35M445.3 167.7h1.35M419.5 165.0h1.35M388.1 166.0h1.35M438.3 192.1h1.35M374.6 197.7h1.35M405.4 177.9h1.35M341.9 201.8h1.35M382.4 201.1h1.35M389.0 201.7h1.35M450.8 150.7h1.35M447.5 214.0h1.35M349.1 195.6h1.35M352.7 194.4h1.35M388.9 162.3h1.35M395.2 206.6h1.35M449.5 150.7h1.35M399.2 154.3h1.35M342.2 201.5h1.35M352.3 207.0h1.35M385.0 159.6h1.35M399.0 165.2h1.35M398.0 166.9h1.35M377.9 209.7h1.35M347.6 209.3h1.35M449.8 156.5h1.35M369.2 193.1h1.35M417.3 157.2h1.35M394.2 210.5h1.35M415.3 187.1h1.35M406.9 153.8h1.35M390.9 195.8h1.35M371.3 181.0h1.35M385.4 156.9h1.35M419.9 167.0h1.35M387.0 175.4h1.35M422.6 204.1h1.35M432.1 168.7h1.35M378.2 164.9h1.35M393.7 171.5h1.35M436.6 169.6h1.35M339.3 199.7h1.35M394.3 214.4h1.35M369.3 170.7h1.35M372.3 161.7h1.35M370.1 184.9h1.35M406.2 189.0h1.35M426.9 186.6h1.35M440.4 194.4h1.35M403.3 214.8h1.35M445.8 154.3h1.35M365.7 187.6h1.35M428.0 151.6h1.35M384.9 176.8h1.35M432.8 185.2h1.35M375.7 179.6h1.35M335.7 208.7h1.35M405.4 212.4h1.35M383.8 212.8h1.35M380.3 180.9h1.35M451.0 194.6h1.35M392.4 209.0h1.35M419.6 204.5h1.35M457.0 158.2h1.35M337.5 209.1h1.35M454.4 179.3h1.35M429.8 181.2h1.35M419.7 202.5h1.35M439.6 153.2h1.35M431.0 164.8h1.35M406.1 197.3h1.35M405.8 189.2h1.35M427.9 201.0h1.35M425.9 200.3h1.35M367.0 168.5h1.35M453.5 165.7h1.35M452.3 192.7h1.35M418.8 199.4h1.35M455.7 182.7h1.35M434.4 217.4h1.35M362.9 198.5h1.35M398.0 174.9h1.35M395.6 215.4h1.35M411.6 214.5h1.35M436.4 201.7h1.35M428.0 156.5h1.35M399.2 188.6h1.35M409.6 209.0h1.35M435.6 210.2h1.35M387.6 202.0h1.35M439.3 175.2h1.35M361.4 195.0h1.35M373.6 212.3h1.35M441.6 162.2h1.35M402.2 216.5h1.35M406.0 181.2h1.35M444.4 194.7h1.35M395.1 175.3h1.35M412.4 204.4h1.35M363.8 184.9h1.35M445.2 209.2h1.35M414.6 178.8h1.35M420.2 197.8h1.35M360.4 197.4h1.35M449.9 174.0h1.35M374.3 198.4h1.35M414.8 158.4h1.35M456.6 154.3h1.35M379.2 175.9h1.35M417.6 205.7h1.35M367.9 195.1h1.35M422.6 215.2h1.35M364.6 185.0h1.35M459.2 163.0h1.35M416.8 210.6h1.35M449.0 182.7h1.35M447.0 165.5h1.35M457.6 197.8h1.35M366.5 208.9h1.35M411.1 195.7h1.35M439.8 182.6h1.35M335.7 207.4h1.35M456.4 213.4h1.35M406.8 206.2h1.35M379.4 164.3h1.35M339.0 203.5h1.35M404.6 215.9h1.35M393.1 179.4h1.35M446.4 207.7h1.35M371.1 209.2h1.35M383.7 154.1h1.35M455.0 189.0h1.35M445.9 190.7h1.35M375.8 198.2h1.35M422.0 192.9h1.35M383.6 190.0h1.35M374.1 168.2h1.35M411.0 205.9h1.35M447.7 177.4h1.35M377.4 164.3h1.35M407.2 217.5h1.35M415.9 183.5h1.35M411.3 175.8h1.35M357.0 199.6h1.35M389.2 170.9h1.35M407.6 201.1h1.35M404.5 189.8h1.35M394.8 164.3h1.35M369.8 163.6h1.35M393.5 163.4h1.35M338.0 207.9h1.35M389.1 172.1h1.35M353.3 201.9h1.35M456.4 167.9h1.35M409.0 174.3h1.35M447.2 187.9h1.35M443.8 157.2h1.35M387.7 160.4h1.35M408.8 195.9h1.35M351.6 209.6h1.35M452.5 147.1h1.35M407.2 183.4h1.35M419.9 207.3h1.35M414.3 167.2h1.35M388.0 192.7h1.35M427.7 161.5h1.35M451.4 175.3h1.35M408.2 213.4h1.35M424.2 174.7h1.35M356.8 209.0h1.35M376.1 201.0h1.35M379.4 198.7h1.35M423.5 157.3h1.35M428.6 158.4h1.35M404.4 160.3h1.35M448.9 199.1h1.35M399.8 171.2h1.35M374.1 176.6h1.35M383.2 183.2h1.35M436.0 177.8h1.35M392.7 154.4h1.35M448.8 194.9h1.35M399.8 159.8h1.35M414.4 206.9h1.35M409.1 215.9h1.35M332.2 208.0h1.35M436.5 217.5h1.35M412.5 199.4h1.35M356.3 206.7h1.35M392.1 165.8h1.35M363.0 183.4h1.35M423.2 166.1h1.35M362.2 210.0h1.35M383.2 191.6h1.35M393.6 161.2h1.35M357.2 190.6h1.35M397.7 200.7h1.35M341.9 211.1h1.35M453.7 183.2h1.35M444.9 151.0h1.35M426.4 168.1h1.35M428.0 181.7h1.35M343.3 207.8h1.35M445.8 209.0h1.35M452.3 179.9h1.35M388.9 161.5h1.35M445.9 202.7h1.35M440.3 214.8h1.35M455.4 188.1h1.35M373.6 180.6h1.35M411.6 174.8h1.35M431.7 176.9h1.35M405.4 176.1h1.35M397.7 203.0h1.35M377.0 212.0h1.35M451.4 170.1h1.35M444.9 194.4h1.35M361.1 209.5h1.35M396.4 179.2h1.35M396.2 157.6h1.35M397.0 164.0h1.35M404.8 201.0h1.35M370.7 180.6h1.35M403.1 202.5h1.35M453.3 179.6h1.35M379.5 167.0h1.35M386.9 214.5h1.35M371.6 180.2h1.35M413.5 213.5h1.35M333.6 207.7h1.35M378.4 165.3h1.35M389.9 160.7h1.35M370.1 181.9h1.35M397.6 173.1h1.35M426.3 179.5h1.35M369.3 188.1h1.35M411.8 182.5h1.35M386.4 179.6h1.35M398.6 198.2h1.35M343.7 207.6h1.35M441.1 209.1h1.35M386.9 165.6h1.35M376.0 188.3h1.35M410.4 199.8h1.35M447.3 173.7h1.35M434.2 181.6h1.35M379.0 159.5h1.35M327.8 202.4h1.35M458.1 206.5h1.35M416.3 173.0h1.35M406.1 214.8h1.35M399.5 189.2h1.35M412.7 169.3h1.35M445.7 157.5h1.35M451.1 205.6h1.35M456.7 166.3h1.35M428.8 167.2h1.35M452.7 160.6h1.35M401.0 162.9h1.35M346.0 208.2h1.35M401.7 170.4h1.35M400.7 177.5h1.35M372.8 214.8h1.35M359.6 209.1h1.35M434.9 170.1h1.35M389.3 190.3h1.35M403.2 153.0h1.35M381.6 170.9h1.35M422.1 170.9h1.35M375.3 183.2h1.35M422.1 199.5h1.35M421.6 208.6h1.35M387.0 193.8h1.35M390.6 210.9h1.35M435.7 161.1h1.35M389.5 173.7h1.35M402.5 162.3h1.35M446.6 152.1h1.35M368.5 168.8h1.35M420.8 210.6h1.35M425.3 157.8h1.35M400.9 167.8h1.35M343.7 199.3h1.35M446.6 168.0h1.35M401.9 193.4h1.35M418.9 216.2h1.35M417.8 159.4h1.35M402.3 172.2h1.35M432.8 204.6h1.35M361.3 200.9h1.35M434.5 185.9h1.35M454.3 145.6h1.35M445.7 175.2h1.35M426.1 187.2h1.35M377.7 165.8h1.35M388.4 192.1h1.35M408.5 211.1h1.35M416.4 198.5h1.35M445.9 185.4h1.35M426.1 182.2h1.35M391.6 178.9h1.35M409.6 174.0h1.35M453.4 175.6h1.35M424.1 179.3h1.35M376.1 196.0h1.35M397.5 215.4h1.35M385.6 172.0h1.35M385.3 196.0h1.35M423.9 184.4h1.35M441.0 166.6h1.35M423.6 216.5h1.35M391.7 211.6h1.35M437.7 197.2h1.35M411.1 167.8h1.35M409.6 181.4h1.35M428.1 167.0h1.35M438.1 196.6h1.35M457.3 168.2h1.35M402.0 177.5h1.35M397.4 175.5h1.35M366.1 192.9h1.35M361.0 187.3h1.35M371.0 213.7h1.35M419.2 219.4h1.35M375.9 194.0h1.35M422.0 165.3h1.35M357.1 210.0h1.35M405.5 165.9h1.35M455.7 155.0h1.35M395.7 197.0h1.35M439.2 204.8h1.35M335.0 201.6h1.35M406.7 179.5h1.35M447.2 210.0h1.35M447.6 161.4h1.35M445.5 177.4h1.35M446.2 187.8h1.35M394.9 215.5h1.35M431.5 161.9h1.35M354.4 196.2h1.35M427.1 173.6h1.35M391.6 189.2h1.35M374.1 203.9h1.35M371.8 207.9h1.35M414.5 201.3h1.35M360.5 206.9h1.35M450.0 191.3h1.35M393.3 160.9h1.35M419.2 181.3h1.35M426.4 165.5h1.35M428.8 164.0h1.35M457.1 183.4h1.35M399.2 200.8h1.35M375.3 180.6h1.35M454.9 187.2h1.35M452.4 182.1h1.35M416.4 168.4h1.35M410.8 176.4h1.35M379.2 155.9h1.35M333.1 207.0h1.35M378.8 205.6h1.35M441.0 187.1h1.35M433.5 217.5h1.35M443.6 168.4h1.35M391.7 170.9h1.35M392.6 202.9h1.35M368.3 170.2h1.35M388.7 176.1h1.35M441.3 201.4h1.35M437.8 189.5h1.35M368.0 205.9h1.35M383.8 169.8h1.35M382.4 159.1h1.35M421.6 190.1h1.35M372.4 189.3h1.35M396.4 215.3h1.35M409.9 155.1h1.35M429.1 187.2h1.35M382.3 213.0h1.35M419.7 208.3h1.35M380.7 185.6h1.35M357.9 207.0h1.35M438.8 192.4h1.35M438.3 213.3h1.35M358.5 195.6h1.35M382.4 167.9h1.35M329.9 206.2h1.35M421.8 172.0h1.35M416.7 169.8h1.35M359.3 201.0h1.35M453.2 198.4h1.35M436.5 169.5h1.35M359.6 183.9h1.35M457.7 198.8h1.35M390.4 184.1h1.35M430.2 182.9h1.35M362.6 194.7h1.35M387.4 187.8h1.35M398.0 183.8h1.35M411.3 200.8h1.35M370.1 168.2h1.35M413.1 177.6h1.35M440.4 178.1h1.35M453.3 210.9h1.35M355.9 207.7h1.35M426.6 176.6h1.35M359.5 188.6h1.35M421.1 189.9h1.35M360.6 197.2h1.35M347.5 197.5h1.35M396.4 211.3h1.35M419.7 214.2h1.35M402.0 195.8h1.35M397.1 172.3h1.35M454.4 178.7h1.35M386.1 172.1h1.35M407.5 151.6h1.35M371.9 163.8h1.35M390.2 160.5h1.35M435.0 159.0h1.35M445.3 196.7h1.35M453.4 215.0h1.35M438.8 182.2h1.35M411.9 194.3h1.35M328.4 203.1h1.35M383.3 162.1h1.35M390.9 192.4h1.35M381.8 202.7h1.35M365.4 199.9h1.35M453.3 195.4h1.35M433.9 192.5h1.35M402.8 174.2h1.35M397.8 211.6h1.35M410.7 176.4h1.35M445.0 165.6h1.35M364.3 172.8h1.35M425.9 157.1h1.35M403.9 165.3h1.35M450.2 184.7h1.35M413.8 153.1h1.35M420.4 195.6h1.35M356.4 195.4h1.35M354.2 203.5h1.35M410.3 165.8h1.35M428.4 213.7h1.35M402.3 215.6h1.35M399.2 176.2h1.35M404.1 181.0h1.35M454.9 150.0h1.35M460.4 154.9h1.35M378.5 183.5h1.35M386.8 208.1h1.35M383.1 197.9h1.35M382.4 205.2h1.35M400.8 166.1h1.35M451.7 169.6h1.35M365.2 213.3h1.35M413.9 157.2h1.35M411.3 219.0h1.35M455.7 153.8h1.35M446.2 182.2h1.35M420.4 189.5h1.35M357.1 187.0h1.35M429.8 180.6h1.35M376.8 184.8h1.35M430.0 158.6h1.35M413.9 197.4h1.35M429.6 219.5h1.35M436.4 198.2h1.35M363.4 181.2h1.35M396.8 161.5h1.35M437.6 189.0h1.35M393.2 194.3h1.35M418.8 186.0h1.35M385.0 189.8h1.35M375.1 202.0h1.35M426.6 200.4h1.35M427.6 210.1h1.35M340.1 204.0h1.35M436.3 160.2h1.35M417.7 214.3h1.35M444.5 174.0h1.35M364.5 208.4h1.35M359.1 198.8h1.35M382.3 163.6h1.35M397.2 161.7h1.35M457.4 203.2h1.35M392.0 196.8h1.35M407.8 204.7h1.35M359.0 194.2h1.35M395.9 212.8h1.35M418.7 195.4h1.35M369.0 163.3h1.35M384.6 195.8h1.35M422.1 160.3h1.35M431.8 154.8h1.35M359.0 204.0h1.35M361.8 186.6h1.35M450.5 166.7h1.35M414.4 168.4h1.35M447.8 181.8h1.35M371.5 177.8h1.35M392.9 162.5h1.35M443.0 209.1h1.35M446.7 154.2h1.35M376.4 187.8h1.35M429.5 187.0h1.35M409.6 156.0h1.35M451.2 153.9h1.35M396.5 190.5h1.35M417.3 207.0h1.35M364.5 184.9h1.35M410.6 192.1h1.35M432.7 168.0h1.35M461.2 163.1h1.35M437.5 168.7h1.35M343.3 199.0h1.35M396.6 180.2h1.35M439.2 212.6h1.35M397.8 168.2h1.35M438.0 193.6h1.35M405.4 182.8h1.35M400.4 198.0h1.35M443.7 173.0h1.35M410.9 212.1h1.35M365.1 208.2h1.35M404.5 165.6h1.35M366.7 182.5h1.35M390.1 205.6h1.35M373.4 212.6h1.35M425.4 196.3h1.35M444.3 174.2h1.35M432.7 204.1h1.35M424.1 172.5h1.35M404.9 207.5h1.35M404.8 190.8h1.35M448.0 188.3h1.35M454.7 165.2h1.35M415.6 159.9h1.35M427.5 156.2h1.35M444.7 195.0h1.35M451.0 201.9h1.35M458.8 197.1h1.35M415.9 214.2h1.35M416.9 184.0h1.35M432.2 211.6h1.35M353.1 200.0h1.35M439.8 170.0h1.35M418.9 198.4h1.35M407.9 213.3h1.35M439.2 180.1h1.35M382.8 174.7h1.35M451.9 175.0h1.35M383.2 164.2h1.35M405.1 183.3h1.35M453.6 175.1h1.35M374.7 199.8h1.35M410.2 157.4h1.35M377.1 194.5h1.35M421.2 182.2h1.35M418.6 219.7h1.35M418.9 159.7h1.35M411.7 152.5h1.35M365.8 171.7h1.35M418.9 180.9h1.35M392.2 211.5h1.35M439.5 170.6h1.35M400.7 203.7h1.35M455.2 178.5h1.35M410.7 175.3h1.35M423.7 176.3h1.35M366.5 205.6h1.35M388.5 202.5h1.35M359.2 187.3h1.35M427.4 202.1h1.35M437.3 169.0h1.35M433.8 171.9h1.35M413.2 193.5h1.35M438.1 192.1h1.35M427.3 192.1h1.35M400.2 153.3h1.35M455.5 198.0h1.35M383.9 156.9h1.35M367.3 179.5h1.35M455.5 208.2h1.35M427.3 163.5h1.35M414.1 156.1h1.35M430.3 187.6h1.35M452.1 149.1h1.35M374.3 208.7h1.35M447.8 153.1h1.35M384.6 182.0h1.35M449.2 158.0h1.35M369.4 170.9h1.35M419.7 219.3h1.35M351.4 198.0h1.35M442.1 183.3h1.35M439.5 192.5h1.35M389.0 153.8h1.35M370.8 171.2h1.35M391.5 212.7h1.35M340.5 203.2h1.35M397.2 212.6h1.35M438.3 169.9h1.35M406.2 166.0h1.35M423.9 190.7h1.35M448.7 147.7h1.35M399.0 216.2h1.35M333.4 209.0h1.35M390.7 202.0h1.35M365.9 184.1h1.35M421.0 164.8h1.35M376.5 168.5h1.35M415.0 210.3h1.35M456.6 146.5h1.35M428.9 200.6h1.35M416.6 215.7h1.35M436.4 173.8h1.35M444.5 174.0h1.35M440.4 197.7h1.35M398.0 194.6h1.35M458.0 179.3h1.35M358.9 201.3h1.35M376.9 181.3h1.35M388.9 157.4h1.35M435.6 186.3h1.35M414.1 207.1h1.35M375.6 206.7h1.35M415.9 175.4h1.35M373.9 164.6h1.35M388.0 171.7h1.35M391.9 209.5h1.35M411.3 195.9h1.35M444.9 175.3h1.35M439.2 201.7h1.35M440.4 165.6h1.35M430.2 184.3h1.35M437.3 152.8h1.35M439.5 173.7h1.35M437.3 218.3h1.35M402.9 205.1h1.35M390.9 167.1h1.35M449.6 152.5h1.35M458.1 161.1h1.35M432.9 176.2h1.35M369.8 164.6h1.35M446.6 181.8h1.35M446.4 152.1h1.35M421.7 208.3h1.35M422.9 218.3h1.35M435.6 168.9h1.35M421.3 223.0h1.35M446.3 148.0h1.35M410.3 200.2h1.35M404.4 179.1h1.35M431.0 175.0h1.35M383.0 211.1h1.35M365.4 200.4h1.35M361.6 195.3h1.35M439.7 171.7h1.35M432.0 188.6h1.35M405.5 196.3h1.35M450.5 204.2h1.35M431.0 201.7h1.35M389.4 194.8h1.35M375.7 213.8h1.35M381.3 169.8h1.35M442.1 205.7h1.35M415.5 183.4h1.35M394.9 164.2h1.35M404.7 190.1h1.35M421.9 177.1h1.35M415.8 227.2h1.35M417.0 214.5h1.35M434.8 198.4h1.35M448.8 176.5h1.35M367.8 208.6h1.35M437.6 176.2h1.35M387.3 164.9h1.35M392.2 201.6h1.35M444.1 194.7h1.35M330.5 203.4h1.35M372.6 174.7h1.35M456.2 173.0h1.35M394.4 167.6h1.35M382.0 165.9h1.35M407.1 176.2h1.35M411.3 182.9h1.35M363.0 179.9h1.35M421.3 166.5h1.35M392.3 211.6h1.35M412.1 209.5h1.35M377.4 163.3h1.35M434.2 193.7h1.35M453.5 158.1h1.35M374.0 165.4h1.35M363.6 189.3h1.35M425.7 155.6h1.35M406.3 176.5h1.35M428.4 199.8h1.35M406.4 174.4h1.35M390.0 209.3h1.35M442.9 205.6h1.35M384.2 187.1h1.35M419.1 191.9h1.35M418.9 210.2h1.35M401.1 196.5h1.35M447.9 187.2h1.35M391.7 197.5h1.35M456.4 176.4h1.35M379.7 170.6h1.35M450.6 188.1h1.35M377.0 199.4h1.35M451.6 156.8h1.35M397.8 198.9h1.35M406.4 213.4h1.35M445.0 198.6h1.35M415.5 195.7h1.35M444.8 156.7h1.35M416.6 186.7h1.35M370.0 205.0h1.35M447.8 172.5h1.35M385.3 158.5h1.35M407.3 171.1h1.35M436.7 191.6h1.35M448.8 192.1h1.35M439.1 216.7h1.35M411.5 162.0h1.35M445.7 153.4h1.35M444.2 196.5h1.35M432.7 169.5h1.35M392.6 212.9h1.35M388.8 213.6h1.35M434.6 211.6h1.35M416.4 185.1h1.35M443.2 175.1h1.35M426.8 205.1h1.35M436.1 189.6h1.35M407.5 188.1h1.35M376.3 210.5h1.35M442.8 149.1h1.35M380.8 194.1h1.35M391.3 168.5h1.35M447.1 176.5h1.35M408.4 175.1h1.35M422.2 179.5h1.35M430.8 163.8h1.35M410.4 195.2h1.35M388.1 171.8h1.35M396.0 205.4h1.35M448.1 192.4h1.35" stroke="#990099" stroke-width="1.35" fill="none"/>
<path d="M405.9 161.5h1.35M379.4 172.9h1.35M348.9 198.5h1.35M434.5 152.3h1.35M415.2 186.0h1.35M396.1 157.4h1.35M326.2 202.9h1.35M368.4 183.0h1.35M418.2 155.5h1.35M416.7 195.7h1.35M457.7 177.4h1.35M414.7 195.6h1.35M433.5 153.1h1.35M440.0 161.8h1.35M419.7 175.4h1.35M427.7 186.3h1.35M436.8 185.2h1.35M378.6 177.3h1.35M401.7 189.4h1.35M381.5 167.2h1.35M449.2 160.6h1.35M433.5 210.3h1.35M407.1 195.1h1.35M348.6 208.4h1.35M385.1 166.7h1.35M386.9 160.1h1.35M404.4 212.1h1.35M393.2 211.5h1.35M447.0 184.6h1.35M411.4 161.4h1.35M394.4 216.1h1.35M423.7 154.0h1.35M332.8 208.7h1.35M355.7 193.3h1.35M452.2 155.6h1.35M343.0 200.2h1.35M398.5 205.5h1.35M388.1 183.0h1.35M382.0 161.4h1.35M410.7 195.9h1.35M445.2 148.7h1.35M406.7 153.9h1.35M363.7 193.5h1.35M435.7 187.5h1.35M425.6 157.4h1.35M335.2 209.3h1.35M452.3 163.9h1.35M422.7 213.1h1.35M337.6 207.4h1.35M438.3 199.1h1.35M450.6 199.8h1.35M382.2 158.7h1.35M421.6 165.2h1.35M444.1 156.8h1.35M437.8 204.5h1.35M396.9 185.2h1.35M428.6 183.0h1.35M398.5 167.7h1.35M424.5 166.9h1.35M439.9 172.2h1.35M424.8 184.5h1.35M431.8 185.0h1.35M425.4 196.8h1.35M423.1 199.3h1.35M366.4 191.5h1.35M388.9 158.4h1.35M394.7 210.9h1.35M448.4 168.5h1.35M393.9 199.0h1.35M370.7 173.8h1.35M347.4 198.3h1.35M417.0 200.5h1.35M359.3 188.6h1.35M452.9 183.7h1.35M408.2 211.8h1.35M381.7 211.6h1.35M374.6 162.9h1.35M420.8 192.2h1.35M376.3 176.4h1.35M459.9 171.0h1.35M367.5 169.9h1.35M425.8 203.9h1.35M368.1 196.2h1.35M411.9 176.4h1.35M451.8 214.0h1.35M388.8 169.7h1.35M370.3 188.4h1.35M373.4 191.0h1.35M406.4 208.5h1.35M415.9 167.3h1.35M442.0 182.0h1.35M420.1 214.0h1.35M389.5 211.5h1.35M382.9 155.8h1.35M377.9 207.2h1.35M450.9 211.9h1.35M398.8 199.1h1.35M448.5 150.9h1.35M429.9 178.3h1.35M405.2 211.8h1.35M415.1 179.7h1.35M370.4 179.2h1.35M425.5 161.2h1.35M456.2 168.7h1.35M352.0 200.1h1.35M328.9 204.3h1.35M423.8 205.9h1.35M374.8 160.9h1.35M397.5 182.5h1.35M401.5 158.3h1.35M402.3 157.1h1.35M363.1 205.1h1.35M370.9 167.6h1.35M425.6 200.7h1.35M393.7 164.1h1.35M372.2 210.7h1.35M452.7 203.2h1.35M362.8 181.6h1.35M406.0 200.8h1.35M384.1 194.0h1.35M411.7 196.3h1.35M428.8 216.1h1.35M428.1 164.2h1.35M433.8 173.0h1.35M411.9 188.2h1.35M402.3 212.2h1.35M457.1 160.3h1.35M437.4 187.3h1.35M417.9 202.1h1.35M414.3 210.8h1.35M356.2 200.0h1.35M432.5 157.1h1.35M412.4 168.6h1.35M375.6 204.7h1.35M430.2 191.1h1.35M364.1 179.2h1.35M394.5 160.0h1.35M374.5 165.6h1.35M410.4 216.5h1.35M430.6 207.8h1.35M393.3 156.4h1.35M362.3 181.6h1.35M419.1 172.6h1.35M436.2 206.4h1.35M402.8 208.3h1.35M359.8 202.8h1.35M437.7 202.9h1.35M398.7 177.7h1.35M327.5 206.3h1.35M446.9 147.5h1.35M391.7 211.0h1.35M405.7 203.0h1.35M449.2 155.4h1.35M420.8 172.4h1.35M380.3 189.7h1.35M447.6 164.4h1.35M394.8 176.1h1.35M416.0 218.8h1.35M384.5 203.1h1.35M423.4 185.8h1.35M437.7 169.0h1.35M390.6 152.8h1.35M377.7 156.1h1.35M442.0 203.6h1.35M459.4 155.7h1.35M399.4 218.4h1.35M417.0 173.7h1.35M391.3 181.8h1.35M456.9 158.0h1.35M432.7 217.8h1.35M372.2 181.8h1.35M418.9 197.4h1.35M426.5 160.0h1.35M387.5 194.8h1.35M347.1 203.4h1.35M431.3 188.5h1.35M459.2 170.4h1.35M383.3 190.6h1.35M427.0 191.9h1.35M397.9 155.9h1.35M439.9 202.0h1.35M434.7 176.2h1.35M373.9 162.1h1.35M434.7 198.1h1.35M423.7 193.5h1.35M451.3 158.4h1.35M452.1 181.3h1.35M338.9 205.4h1.35M357.3 202.2h1.35M426.3 201.7h1.35M448.2 206.9h1.35M450.6 212.0h1.35M377.6 206.8h1.35M389.9 168.0h1.35M458.2 165.1h1.35M446.0 189.8h1.35M341.8 208.1h1.35M408.8 183.6h1.35M433.9 198.9h1.35M365.1 177.2h1.35M365.9 194.7h1.35M441.8 192.0h1.35M380.1 162.9h1.35M401.6 151.8h1.35M402.7 152.9h1.35M411.1 175.8h1.35M422.4 207.5h1.35M435.2 189.8h1.35M449.1 213.2h1.35M409.4 185.1h1.35M453.1 169.6h1.35M372.6 210.4h1.35M438.3 157.9h1.35M436.9 194.5h1.35M406.0 152.6h1.35M404.6 178.3h1.35M403.7 198.7h1.35M362.4 195.8h1.35M426.2 185.4h1.35M381.2 169.6h1.35M391.2 207.1h1.35M394.1 159.6h1.35M418.5 176.3h1.35M410.8 204.3h1.35M422.3 216.7h1.35M390.8 214.2h1.35M416.8 162.1h1.35M403.5 184.0h1.35M430.8 175.0h1.35M365.5 208.4h1.35M424.1 211.1h1.35M413.3 197.6h1.35M361.7 199.2h1.35M333.5 205.0h1.35M415.3 166.8h1.35M364.2 199.9h1.35M427.8 170.1h1.35M406.9 195.4h1.35M418.8 178.5h1.35M446.0 198.5h1.35M383.7 212.4h1.35M374.3 158.1h1.35M437.3 161.0h1.35M453.8 154.9h1.35M378.7 182.3h1.35M442.4 211.2h1.35M455.4 182.1h1.35M388.8 177.6h1.35M365.2 203.0h1.35M389.9 179.1h1.35M388.5 172.7h1.35M387.2 171.5h1.35M455.5 178.2h1.35M369.8 159.6h1.35M416.3 190.8h1.35M377.5 190.4h1.35M444.2 165.5h1.35M406.2 186.5h1.35M415.2 167.3h1.35M389.9 180.7h1.35M410.5 156.8h1.35M442.7 206.8h1.35M451.7 161.5h1.35M333.0 206.2h1.35M441.2 213.1h1.35M372.1 169.7h1.35M358.0 192.8h1.35M460.0 159.1h1.35M372.5 168.3h1.35M424.0 176.1h1.35M348.2 209.6h1.35M406.6 190.0h1.35M397.1 177.6h1.35M408.1 160.3h1.35M403.4 154.8h1.35M404.3 189.5h1.35M354.3 198.0h1.35M389.6 214.1h1.35M428.0 190.2h1.35M374.5 208.3h1.35M449.4 181.3h1.35M401.9 162.7h1.35M435.5 215.1h1.35M415.1 209.6h1.35M391.0 158.2h1.35M363.1 181.0h1.35M388.2 181.8h1.35M444.2 185.3h1.35M456.0 162.6h1.35M417.0 179.1h1.35M384.7 177.9h1.35M379.0 178.4h1.35M369.1 177.1h1.35M363.2 210.1h1.35M451.8 159.1h1.35M412.2 170.8h1.35M425.8 212.2h1.35M403.5 196.6h1.35M372.5 202.7h1.35M432.5 173.5h1.35M347.5 197.9h1.35M442.4 203.8h1.35M443.9 163.0h1.35M399.0 205.4h1.35M384.8 162.0h1.35M449.8 160.8h1.35M428.9 210.8h1.35M420.1 200.2h1.35M438.0 186.8h1.35M341.0 207.6h1.35M431.8 183.7h1.35M404.2 174.2h1.35M419.6 186.3h1.35M387.1 160.9h1.35M333.4 206.4h1.35M367.2 200.4h1.35M365.9 193.7h1.35M404.1 210.7h1.35M419.9 194.6h1.35M331.1 208.1h1.35M432.3 171.5h1.35M456.0 145.9h1.35M401.3 178.2h1.35M404.1 195.9h1.35M389.1 211.3h1.35M432.1 203.7h1.35M425.5 203.0h1.35M343.6 200.7h1.35M455.5 205.5h1.35M357.7 197.5h1.35M379.8 201.0h1.35M416.5 188.5h1.35M370.1 180.8h1.35M443.6 215.8h1.35M329.6 206.2h1.35M411.5 212.9h1.35M385.2 170.8h1.35M393.5 210.3h1.35M371.4 194.7h1.35M400.7 179.1h1.35M428.3 158.8h1.35M439.0 170.4h1.35M460.5 156.4h1.35M449.2 180.1h1.35M430.6 198.7h1.35M371.4 201.3h1.35M448.5 197.3h1.35M335.7 207.4h1.35M400.2 211.8h1.35M374.2 183.4h1.35M427.0 207.8h1.35M415.1 195.2h1.35M438.6 159.4h1.35M384.1 200.6h1.35M356.7 196.7h1.35M393.5 215.3h1.35M424.5 220.9h1.35M396.5 169.7h1.35M397.5 168.9h1.35M438.8 213.1h1.35M448.7 211.6h1.35M412.3 181.1h1.35M348.7 199.9h1.35M367.0 199.2h1.35M432.3 168.1h1.35M358.2 207.7h1.35M408.5 168.9h1.35M439.3 177.0h1.35M375.3 166.1h1.35M386.4 178.1h1.35M444.8 182.1h1.35M420.8 192.2h1.35M364.1 200.1h1.35M440.8 184.2h1.35M408.1 159.5h1.35M400.5 148.2h1.35M453.4 203.6h1.35M414.7 195.5h1.35M367.2 170.5h1.35M410.2 179.8h1.35M387.0 207.1h1.35M385.2 174.7h1.35M444.6 205.6h1.35M426.6 219.9h1.35M442.8 195.4h1.35M423.8 204.8h1.35M450.4 192.5h1.35M388.3 204.4h1.35M374.5 186.9h1.35M342.9 202.4h1.35M390.2 189.5h1.35M368.2 209.6h1.35M368.9 208.0h1.35M456.8 165.1h1.35M448.7 213.8h1.35M456.6 167.2h1.35M408.9 183.5h1.35M456.5 194.8h1.35M357.6 209.1h1.35M383.4 197.4h1.35M368.1 196.8h1.35M439.7 158.3h1.35M359.9 181.2h1.35M436.8 192.8h1.35M405.8 157.1h1.35M401.9 209.2h1.35M388.5 198.9h1.35M450.4 204.7h1.35M350.7 197.0h1.35M399.1 216.1h1.35M405.7 190.9h1.35M392.2 158.4h1.35M415.1 183.5h1.35M410.6 204.2h1.35M352.2 206.6h1.35M398.0 192.6h1.35M440.3 178.5h1.35M451.5 201.0h1.35M390.1 165.7h1.35M372.5 160.9h1.35M446.7 165.8h1.35M453.1 172.6h1.35M422.1 193.7h1.35M379.7 175.1h1.35M400.4 187.3h1.35M404.3 161.4h1.35M418.7 210.1h1.35M450.9 213.2h1.35M433.3 203.4h1.35M452.4 199.3h1.35M378.9 181.7h1.35M337.5 204.4h1.35M382.1 208.4h1.35M374.5 211.5h1.35M375.9 189.1h1.35M382.0 200.5h1.35M444.6 166.8h1.35M408.2 152.5h1.35M389.7 194.8h1.35M414.7 162.0h1.35M329.1 203.2h1.35M459.0 155.5h1.35M453.8 191.6h1.35M378.9 192.9h1.35M430.5 196.1h1.35M337.6 198.4h1.35M442.1 182.8h1.35M364.8 196.2h1.35M398.0 185.6h1.35M383.8 216.5h1.35M426.4 194.7h1.35M452.6 168.4h1.35M448.8 188.3h1.35M416.7 179.6h1.35M367.0 203.8h1.35M406.7 198.7h1.35M428.6 222.1h1.35M438.8 200.6h1.35M425.0 174.8h1.35M383.9 194.7h1.35M382.6 154.5h1.35M455.6 172.5h1.35M415.6 169.8h1.35M404.4 206.4h1.35M445.0 203.1h1.35M387.5 177.0h1.35M399.0 163.9h1.35M404.8 156.1h1.35M394.3 198.1h1.35M446.5 200.1h1.35M443.8 156.4h1.35M391.6 160.6h1.35M371.1 179.7h1.35M444.4 149.2h1.35M409.1 199.9h1.35M394.7 178.9h1.35M432.7 157.0h1.35M451.5 149.9h1.35M390.6 206.2h1.35M385.2 186.3h1.35M424.5 159.1h1.35M382.5 194.0h1.35M382.5 184.9h1.35M392.4 158.1h1.35M382.7 152.7h1.35M382.2 169.8h1.35M450.6 173.7h1.35M456.8 174.9h1.35M440.6 206.4h1.35M412.9 192.7h1.35M444.1 208.5h1.35M407.5 180.1h1.35M447.2 170.0h1.35M370.9 204.9h1.35M410.3 219.3h1.35M372.7 160.3h1.35M425.9 215.3h1.35M402.4 192.4h1.35M384.9 162.8h1.35M386.4 181.8h1.35M360.8 186.2h1.35M428.5 193.8h1.35M372.6 180.5h1.35M366.2 184.9h1.35M412.3 153.1h1.35M435.2 195.0h1.35M393.9 177.7h1.35M387.2 211.7h1.35M357.4 201.1h1.35M392.3 203.0h1.35M449.9 200.1h1.35M360.0 199.7h1.35M385.5 175.3h1.35M422.7 188.5h1.35M361.1 202.5h1.35M411.7 179.8h1.35M387.2 212.5h1.35M424.9 203.4h1.35M456.7 187.5h1.35M428.3 215.0h1.35M366.8 199.3h1.35M428.4 154.1h1.35M394.5 152.9h1.35M436.7 164.5h1.35M429.3 207.2h1.35M342.9 202.0h1.35M440.4 201.0h1.35M403.4 198.0h1.35M406.7 180.0h1.35M421.4 186.3h1.35M422.9 187.0h1.35M381.7 194.0h1.35M375.2 193.7h1.35M437.1 200.8h1.35M418.4 171.8h1.35M393.1 215.2h1.35M429.7 192.5h1.35M417.4 157.8h1.35M417.8 209.5h1.35M453.1 161.6h1.35M446.9 163.3h1.35M384.9 198.4h1.35M402.8 175.0h1.35M334.2 201.2h1.35M420.3 203.6h1.35M398.6 171.6h1.35M414.3 171.6h1.35M398.6 166.6h1.35M450.1 188.2h1.35M438.0 160.8h1.35M438.8 162.5h1.35M408.5 179.8h1.35M398.6 165.1h1.35M370.8 171.7h1.35M406.9 217.6h1.35M391.7 206.5h1.35M423.4 181.2h1.35M392.0 184.8h1.35M448.7 183.6h1.35M346.5 205.0h1.35M449.5 190.2h1.35M453.6 177.9h1.35M417.7 155.8h1.35M435.5 219.4h1.35M398.5 204.4h1.35M380.2 191.8h1.35M371.5 185.8h1.35M407.0 160.6h1.35M400.5 203.8h1.35M450.6 149.6h1.35M412.1 201.4h1.35M425.0 154.8h1.35M429.7 173.7h1.35M446.2 198.4h1.35M404.2 184.0h1.35M366.1 190.4h1.35M441.6 163.8h1.35M427.0 219.4h1.35M435.2 200.2h1.35M345.1 205.1h1.35M402.8 180.4h1.35M446.8 184.8h1.35M448.5 193.4h1.35M385.5 196.0h1.35M421.2 187.8h1.35M386.7 161.7h1.35M423.8 217.7h1.35M414.4 180.1h1.35M428.1 164.0h1.35M449.8 181.6h1.35M410.3 174.9h1.35M401.9 207.9h1.35M348.4 207.9h1.35M380.6 177.9h1.35M397.0 161.2h1.35M363.2 185.0h1.35M444.3 159.0h1.35M376.4 171.6h1.35M451.1 199.2h1.35M436.5 147.9h1.35M438.3 205.6h1.35M448.7 178.6h1.35M424.5 157.9h1.35M408.5 157.0h1.35M338.5 209.2h1.35M444.7 159.0h1.35M419.5 218.7h1.35M397.1 158.3h1.35M398.3 207.5h1.35M420.6 155.4h1.35M445.8 168.2h1.35M426.1 205.0h1.35M430.8 204.6h1.35M370.1 208.5h1.35M419.2 212.6h1.35M394.2 172.7h1.35M386.8 185.6h1.35M417.5 189.7h1.35M382.0 173.3h1.35M453.1 148.0h1.35M414.9 189.7h1.35M439.2 154.5h1.35M449.7 183.7h1.35M425.0 219.7h1.35M397.4 189.2h1.35M448.5 177.0h1.35M372.4 204.4h1.35M373.5 188.3h1.35M387.3 199.1h1.35M418.5 199.4h1.35M421.6 173.7h1.35M361.8 208.3h1.35M433.6 198.6h1.35M381.8 173.0h1.35M455.7 154.8h1.35M429.9 159.1h1.35M371.8 192.6h1.35M447.0 178.7h1.35M399.3 212.3h1.35M455.0 177.0h1.35M378.2 196.6h1.35M394.4 173.5h1.35M403.1 211.3h1.35M446.2 179.8h1.35M376.9 193.1h1.35M441.5 187.7h1.35M453.6 175.8h1.35M422.0 205.5h1.35M385.1 178.3h1.35M388.4 191.3h1.35M432.7 189.9h1.35M416.4 170.0h1.35M386.9 195.7h1.35M441.6 214.6h1.35M403.5 156.4h1.35M365.2 199.0h1.35M361.4 184.5h1.35M369.1 188.8h1.35M455.8 148.1h1.35M436.0 161.9h1.35M368.4 185.9h1.35M433.2 209.4h1.35M385.3 208.6h1.35M367.4 164.8h1.35M380.4 157.0h1.35M356.5 199.0h1.35M433.7 166.9h1.35M412.8 201.8h1.35M335.7 207.7h1.35M375.9 185.9h1.35M388.4 181.0h1.35M368.0 211.0h1.35M424.2 196.6h1.35M375.6 172.0h1.35M437.8 180.0h1.35M422.6 163.1h1.35M394.7 204.3h1.35M453.2 202.9h1.35M344.7 200.4h1.35M430.9 156.0h1.35M436.0 168.1h1.35M373.4 193.1h1.35M389.8 211.7h1.35M398.7 205.3h1.35M414.8 180.8h1.35M437.6 162.3h1.35M422.2 169.2h1.35M428.6 189.2h1.35M427.4 192.2h1.35M435.5 208.7h1.35M391.6 193.4h1.35M456.8 194.2h1.35M457.3 164.9h1.35M372.0 184.3h1.35M429.4 193.1h1.35M407.9 157.6h1.35M438.7 192.1h1.35M454.1 165.4h1.35M404.5 190.9h1.35M434.0 189.9h1.35M446.5 152.7h1.35M382.4 187.6h1.35M382.5 167.9h1.35M384.2 170.6h1.35M457.0 166.6h1.35M442.4 162.6h1.35M411.3 208.2h1.35M446.7 184.3h1.35M451.7 188.6h1.35M442.7 149.1h1.35M440.0 151.0h1.35M455.7 169.4h1.35M439.1 200.2h1.35M411.4 163.7h1.35M377.2 170.2h1.35M382.4 183.8h1.35M394.0 161.2h1.35M394.2 173.8h1.35M401.4 175.8h1.35M342.9 207.8h1.35M428.5 205.8h1.35M421.9 171.7h1.35M383.6 201.7h1.35M380.2 174.6h1.35M438.6 171.7h1.35M432.6 197.8h1.35M366.8 187.7h1.35M427.4 176.6h1.35M341.0 198.4h1.35M422.4 198.8h1.35M421.9 158.1h1.35M365.8 161.1h1.35M417.2 222.4h1.35M426.6 216.9h1.35M389.2 180.9h1.35M434.2 201.8h1.35M428.5 168.3h1.35M429.1 207.3h1.35M430.2 170.8h1.35M412.3 214.5h1.35M370.0 169.7h1.35M364.9 200.7h1.35M380.6 212.9h1.35M369.3 170.7h1.35M363.2 194.6h1.35M453.2 175.3h1.35M424.5 164.0h1.35M401.3 196.8h1.35M380.0 203.0h1.35M441.2 188.0h1.35M437.3 199.8h1.35M438.5 217.4h1.35M369.0 198.7h1.35M421.1 177.6h1.35M417.0 215.5h1.35M402.0 208.4h1.35M425.0 157.7h1.35M394.5 212.1h1.35M367.2 182.4h1.35M422.7 187.8h1.35M372.2 189.7h1.35M431.6 154.7h1.35M416.6 163.6h1.35M445.0 147.8h1.35M443.9 193.9h1.35M440.7 205.3h1.35M423.8 178.6h1.35M408.6 190.2h1.35M427.2 163.9h1.35M450.7 156.9h1.35M375.0 202.4h1.35M424.3 174.9h1.35M406.6 154.9h1.35M419.5 178.5h1.35M367.7 200.4h1.35M449.4 165.8h1.35M372.6 210.9h1.35M423.1 214.8h1.35M413.9 179.3h1.35M346.8 204.6h1.35M402.7 153.1h1.35M332.7 207.0h1.35M409.2 156.7h1.35M364.4 194.8h1.35M361.0 201.2h1.35M441.7 168.8h1.35M442.6 164.7h1.35M372.2 168.6h1.35M366.3 208.7h1.35M446.4 203.1h1.35M452.8 211.2h1.35M332.4 198.5h1.35M446.1 189.1h1.35M394.4 185.8h1.35M439.4 210.8h1.35M436.7 188.0h1.35M361.0 188.3h1.35M425.9 177.4h1.35M400.2 158.6h1.35M437.3 219.9h1.35M395.5 203.7h1.35M372.7 196.5h1.35M439.6 193.2h1.35M371.5 162.4h1.35M440.1 172.1h1.35M366.2 167.9h1.35M393.8 153.0h1.35M413.7 217.0h1.35M431.8 180.6h1.35M400.7 167.8h1.35M410.1 219.4h1.35M393.2 180.3h1.35M404.1 173.6h1.35M433.0 167.9h1.35M359.8 190.7h1.35M454.4 203.2h1.35M383.7 168.0h1.35M349.6 194.4h1.35M393.9 182.0h1.35M368.4 191.6h1.35M366.0 186.4h1.35M457.0 163.1h1.35M409.3 160.1h1.35M417.8 167.6h1.35M424.2 169.1h1.35M410.5 205.4h1.35M445.5 174.9h1.35M375.8 191.7h1.35M425.4 189.7h1.35M403.4 153.9h1.35M406.0 157.2h1.35M452.5 200.9h1.35M383.2 155.8h1.35M436.6 215.5h1.35M415.3 166.0h1.35M417.5 213.6h1.35M351.2 209.8h1.35M420.4 175.6h1.35M342.0 207.6h1.35M342.4 206.2h1.35M375.1 209.6h1.35M449.8 169.7h1.35M435.4 195.5h1.35M456.2 177.2h1.35M438.2 218.0h1.35M377.5 167.6h1.35M415.4 168.9h1.35M405.9 189.4h1.35M429.3 199.0h1.35M447.5 213.9h1.35M376.2 195.7h1.35M365.8 180.3h1.35M373.9 197.5h1.35M435.5 171.2h1.35M388.3 211.6h1.35M397.3 194.1h1.35M424.9 167.2h1.35M380.0 209.1h1.35M454.7 170.7h1.35M426.9 161.5h1.35M438.6 152.6h1.35M412.8 217.7h1.35M414.3 206.4h1.35M364.3 174.0h1.35M348.6 208.5h1.35M446.3 204.8h1.35M408.2 167.6h1.35M445.3 186.8h1.35M386.1 199.3h1.35M455.2 186.1h1.35M442.2 181.0h1.35M356.2 209.2h1.35M408.7 166.8h1.35M374.0 164.3h1.35M428.1 193.4h1.35M451.5 189.6h1.35M433.9 156.3h1.35M364.8 175.0h1.35M431.0 168.2h1.35M430.8 204.6h1.35M457.2 206.6h1.35M389.8 168.1h1.35M372.8 168.7h1.35M365.4 190.7h1.35M436.4 183.7h1.35M396.9 194.7h1.35M448.8 199.4h1.35M427.0 217.2h1.35M450.2 148.6h1.35M381.2 159.6h1.35M378.8 163.4h1.35M415.3 215.3h1.35M390.1 200.4h1.35M409.4 215.8h1.35M384.7 178.0h1.35M399.0 194.5h1.35M418.0 175.5h1.35M407.2 192.0h1.35M450.6 165.2h1.35M402.1 173.4h1.35M350.5 208.5h1.35M404.9 165.8h1.35M450.9 203.8h1.35M431.1 171.2h1.35M398.9 214.4h1.35M440.6 152.9h1.35M430.9 197.9h1.35M456.9 160.2h1.35M425.0 183.9h1.35M412.5 207.2h1.35M459.3 155.8h1.35M421.3 186.0h1.35M413.4 186.3h1.35M397.5 152.2h1.35M405.6 207.6h1.35M454.6 156.6h1.35M442.5 192.2h1.35M403.2 160.3h1.35M367.8 188.0h1.35M415.9 197.3h1.35M439.0 158.2h1.35M402.5 155.9h1.35M432.2 190.1h1.35M450.0 152.9h1.35M391.5 174.7h1.35M411.3 192.3h1.35M413.2 187.1h1.35M360.6 207.9h1.35M381.2 160.4h1.35M398.1 169.8h1.35M416.8 177.8h1.35M343.8 211.1h1.35M403.8 215.9h1.35M354.0 201.3h1.35M365.0 196.5h1.35M412.3 152.8h1.35M407.2 196.6h1.35M399.6 187.6h1.35M439.9 220.1h1.35M404.3 154.4h1.35M424.5 217.4h1.35M454.7 175.9h1.35M424.9 218.7h1.35M370.4 196.7h1.35M391.7 193.3h1.35M409.7 174.8h1.35M401.9 209.8h1.35M384.0 189.1h1.35M358.4 198.8h1.35M408.8 167.3h1.35M453.5 150.6h1.35M380.6 160.1h1.35M391.6 170.8h1.35M438.5 195.9h1.35M375.6 157.4h1.35M436.2 218.7h1.35M438.4 177.1h1.35M392.1 202.5h1.35M424.5 169.8h1.35M426.9 190.7h1.35M376.4 184.7h1.35M451.8 172.6h1.35M352.0 198.5h1.35M385.9 177.1h1.35M331.0 207.5h1.35M363.5 208.3h1.35M398.8 192.1h1.35M370.3 193.4h1.35M392.9 205.0h1.35M381.9 207.4h1.35M443.5 194.4h1.35M390.8 200.0h1.35M403.3 206.1h1.35M338.7 209.7h1.35M326.2 212.5h1.35M376.0 204.9h1.35M403.4 215.2h1.35M431.0 183.3h1.35M441.3 194.0h1.35M420.8 162.0h1.35M411.8 154.4h1.35M402.4 191.6h1.35M435.0 152.4h1.35M391.9 198.8h1.35M391.9 153.1h1.35M443.3 182.5h1.35M411.7 156.9h1.35M438.7 209.5h1.35M424.3 200.3h1.35M418.4 197.2h1.35M448.8 168.9h1.35M447.2 164.4h1.35M445.9 216.4h1.35M393.1 160.9h1.35M346.5 206.1h1.35M413.2 194.6h1.35M427.4 188.7h1.35M347.4 201.1h1.35M396.1 170.0h1.35M406.3 175.0h1.35M384.9 195.5h1.35M399.1 161.9h1.35M371.3 198.1h1.35M441.8 195.2h1.35M447.0 195.0h1.35M393.8 183.5h1.35M424.6 213.4h1.35M432.2 187.8h1.35M400.4 210.7h1.35M452.2 181.0h1.35M456.4 199.6h1.35M402.8 217.5h1.35M371.4 168.4h1.35M457.4 147.5h1.35M343.9 208.8h1.35M434.2 219.5h1.35M426.8 187.9h1.35M437.1 184.1h1.35M370.3 206.8h1.35M434.3 214.8h1.35M428.5 173.4h1.35M385.6 202.7h1.35M440.6 199.0h1.35M418.1 192.4h1.35M357.0 192.7h1.35M429.9 164.3h1.35M392.2 166.2h1.35M449.4 172.2h1.35M388.9 212.2h1.35M441.6 150.1h1.35M368.9 199.1h1.35M408.8 202.0h1.35M333.4 197.2h1.35M415.7 204.5h1.35M381.9 171.4h1.35M405.2 185.7h1.35M446.5 166.4h1.35M452.8 207.3h1.35M430.4 170.1h1.35M328.0 202.1h1.35M347.2 201.9h1.35M435.5 215.4h1.35M440.9 212.6h1.35M455.6 203.2h1.35M400.3 215.6h1.35M424.3 192.3h1.35M373.0 186.7h1.35M393.8 170.6h1.35M444.8 158.4h1.35M406.1 171.1h1.35M434.8 190.3h1.35M393.4 179.0h1.35M351.5 195.0h1.35M404.2 208.5h1.35M447.5 194.6h1.35M388.5 187.6h1.35M432.3 190.1h1.35M377.8 162.8h1.35M379.9 204.7h1.35M420.4 196.7h1.35M402.8 198.2h1.35M379.2 193.2h1.35M449.1 158.9h1.35M450.8 213.8h1.35M427.6 202.1h1.35M397.0 173.5h1.35M370.7 197.3h1.35M440.4 205.1h1.35M422.3 166.1h1.35M442.0 171.6h1.35M374.9 181.8h1.35M426.4 170.0h1.35M397.7 182.7h1.35M377.5 164.1h1.35M444.0 217.2h1.35M450.7 179.4h1.35M392.0 175.6h1.35M410.6 191.7h1.35M431.0 199.7h1.35M391.0 214.6h1.35M448.9 175.5h1.35M455.6 187.5h1.35M384.3 177.8h1.35M384.8 160.5h1.35M392.5 160.0h1.35M448.6 147.6h1.35M391.1 159.4h1.35M430.2 190.4h1.35M388.9 170.3h1.35M455.7 177.9h1.35M413.8 175.6h1.35M341.4 198.1h1.35M375.1 185.9h1.35M387.3 195.5h1.35M374.3 175.6h1.35M444.6 154.4h1.35M452.2 153.0h1.35M373.5 183.5h1.35M441.4 201.8h1.35M331.0 205.8h1.35M391.6 176.1h1.35M441.6 186.1h1.35M386.7 163.1h1.35M365.7 204.6h1.35M340.6 206.7h1.35M431.5 193.1h1.35M384.1 186.3h1.35M434.7 170.4h1.35M371.8 195.0h1.35M410.7 158.6h1.35M455.6 182.8h1.35M392.2 212.0h1.35M425.9 209.7h1.35M398.2 167.6h1.35M416.8 152.0h1.35M455.1 174.7h1.35M388.2 187.8h1.35M359.6 198.2h1.35M430.2 156.1h1.35M438.2 210.7h1.35M407.7 170.0h1.35M427.3 195.2h1.35M444.8 172.4h1.35M402.6 209.1h1.35M417.7 219.5h1.35M376.1 200.5h1.35M446.4 166.9h1.35M380.6 164.2h1.35M457.5 167.1h1.35M455.9 201.1h1.35M365.0 195.8h1.35M364.0 197.0h1.35M397.4 152.7h1.35M446.8 163.6h1.35M396.5 156.3h1.35M352.5 201.1h1.35M374.3 165.6h1.35M410.3 162.6h1.35M357.7 209.7h1.35M347.0 210.0h1.35M399.0 214.5h1.35M389.4 212.7h1.35M396.8 211.9h1.35M414.7 163.1h1.35M351.4 206.1h1.35M371.4 198.8h1.35M373.6 158.0h1.35M385.1 165.0h1.35M404.9 162.4h1.35M360.4 196.3h1.35M426.5 163.1h1.35M441.0 198.3h1.35M391.1 214.0h1.35M455.8 160.8h1.35M382.7 199.6h1.35M391.3 162.2h1.35M385.6 210.1h1.35M456.8 198.6h1.35M369.8 181.6h1.35M406.4 154.3h1.35M466.5 154.3h1.35M415.9 164.5h1.35M423.0 204.9h1.35M418.4 200.9h1.35M399.1 196.0h1.35M399.3 159.9h1.35M456.0 143.6h1.35M381.7 158.9h1.35M402.3 193.2h1.35M417.2 180.0h1.35M334.0 200.8h1.35M404.7 157.4h1.35M439.5 216.0h1.35M418.7 154.5h1.35M402.9 203.0h1.35M422.9 176.9h1.35M447.5 186.8h1.35M388.2 156.5h1.35M419.2 200.8h1.35M396.0 200.8h1.35M386.4 188.4h1.35M426.7 160.9h1.35M416.2 203.7h1.35M369.1 191.0h1.35M386.3 179.5h1.35M395.0 163.1h1.35M397.4 186.4h1.35M337.0 202.0h1.35M439.2 194.7h1.35M408.7 161.9h1.35M453.0 174.5h1.35M423.6 189.8h1.35M419.5 172.0h1.35M343.4 199.2h1.35M453.6 159.5h1.35M431.0 195.4h1.35M451.6 159.0h1.35M406.8 207.9h1.35M361.4 188.5h1.35M363.3 199.3h1.35M354.8 209.0h1.35M395.8 182.4h1.35M390.1 167.3h1.35M411.3 174.1h1.35M423.8 212.0h1.35M423.1 176.0h1.35M380.9 173.6h1.35M454.1 168.7h1.35M353.1 198.1h1.35M345.4 199.0h1.35M369.3 207.7h1.35M376.4 202.2h1.35M416.6 181.3h1.35M429.5 202.5h1.35M394.0 184.0h1.35M387.8 166.8h1.35M443.4 160.1h1.35M388.1 189.7h1.35M372.7 188.6h1.35M418.2 214.4h1.35M392.8 214.2h1.35M341.9 199.3h1.35M392.9 198.9h1.35M451.5 185.2h1.35M422.0 159.3h1.35M422.5 205.8h1.35M463.1 155.4h1.35M429.4 201.7h1.35M438.3 180.8h1.35M442.8 214.3h1.35M423.6 174.3h1.35M424.0 184.7h1.35M430.4 218.3h1.35M389.3 163.1h1.35M380.3 169.1h1.35M385.7 166.2h1.35M376.7 206.4h1.35M400.5 200.3h1.35M375.6 164.2h1.35M438.6 188.3h1.35" stroke="#990099" stroke-width="1.35" fill="none"/>
<path d="M463.4 155.3h1.35M486.5 178.9h1.35M458.4 170.5h1.35M484.6 179.6h1.35M487.8 169.4h1.35M459.1 148.2h1.35M471.0 169.1h1.35M471.1 160.2h1.35M453.7 208.3h1.35M458.7 196.0h1.35M462.9 181.7h1.35M446.2 186.4h1.35M458.4 182.9h1.35M468.5 137.7h1.35M464.0 192.8h1.35M471.1 204.8h1.35M463.7 192.0h1.35M471.9 137.6h1.35M472.4 168.5h1.35M474.3 147.8h1.35M466.4 156.4h1.35M461.2 177.2h1.35M472.7 199.8h1.35M477.9 196.6h1.35M466.6 170.8h1.35M481.3 174.1h1.35M468.3 185.3h1.35M478.4 156.3h1.35M471.0 176.9h1.35M464.7 182.1h1.35M486.3 187.4h1.35M457.6 180.4h1.35M458.0 182.0h1.35M461.2 167.3h1.35M463.0 209.4h1.35M472.0 179.8h1.35M458.0 156.1h1.35M459.1 171.0h1.35M468.1 145.2h1.35M477.0 176.8h1.35M473.9 159.2h1.35M457.9 173.8h1.35M469.1 151.3h1.35M472.2 169.1h1.35M461.3 146.1h1.35M467.5 202.8h1.35M473.6 206.9h1.35M482.4 215.6h1.35M472.6 183.4h1.35M463.2 176.5h1.35M461.5 162.4h1.35M456.9 144.9h1.35M477.6 164.8h1.35M454.0 173.3h1.35M464.5 147.7h1.35M480.0 166.1h1.35M458.7 180.9h1.35M482.3 149.1h1.35M462.4 174.5h1.35M481.6 172.7h1.35M452.6 179.4h1.35M475.8 153.6h1.35M466.1 210.2h1.35M467.2 175.4h1.35M453.8 192.9h1.35M471.1 178.5h1.35M460.2 166.6h1.35M492.5 200.0h1.35M452.8 152.0h1.35M478.5 172.3h1.35M460.3 179.3h1.35M473.9 180.4h1.35M465.1 206.9h1.35M476.1 153.3h1.35M459.8 196.6h1.35M467.5 172.5h1.35M479.6 180.0h1.35M462.3 193.5h1.35M462.8 198.3h1.35M476.9 161.8h1.35M479.0 166.1h1.35M469.5 178.2h1.35M480.1 190.4h1.35M460.4 150.8h1.35M465.2 201.2h1.35M472.9 176.1h1.35M473.1 200.8h1.35M472.3 153.5h1.35M464.0 146.5h1.35M466.0 174.1h1.35M461.3 199.9h1.35M463.8 158.5h1.35M474.7 220.2h1.35M482.0 180.4h1.35M474.6 150.9h1.35M467.5 147.2h1.35M456.5 169.1h1.35M462.9 173.9h1.35M471.8 188.3h1.35M461.3 189.9h1.35M475.5 188.6h1.35M481.8 167.2h1.35M477.8 207.2h1.35M466.3 148.8h1.35M460.6 202.5h1.35M467.5 206.8h1.35M465.3 151.7h1.35M465.5 185.4h1.35M457.9 190.6h1.35M472.2 180.0h1.35M466.4 200.9h1.35M477.4 163.2h1.35M469.7 162.4h1.35M477.1 180.9h1.35M463.1 187.2h1.35M460.2 152.4h1.35M471.5 166.8h1.35M460.4 161.5h1.35M479.7 177.8h1.35M466.1 189.6h1.35M460.0 196.5h1.35M461.9 148.3h1.35M465.0 213.6h1.35M484.9 147.5h1.35M469.3 171.2h1.35" stroke="#990099" stroke-width="1.35" fill="none"/>
<path d="M392.2 223.4h1.35M389.2 224.1h1.35M391.3 224.7h1.35" stroke="#990099" stroke-width="1.35" fill="none"/>
<path d="M457.5 125.2h1.1M452.5 126.2h1.1M454.0 126.7h1.1M454.1 127.4h1.1M450.8 127.2h1.1M444.2 130.7h1.1M458.7 124.8h1.1M450.7 125.3h1.1M446.6 131.3h1.1M450.8 125.1h1.1M452.8 124.3h1.1M457.8 123.3h1.1M456.1 122.8h1.1" stroke="#316395" stroke-width="1.1" fill="none"/>
<path d="M478.8 177.2h1.35M468.8 203.0h1.35M480.9 198.0h1.35M485.4 180.7h1.35M485.4 177.5h1.35M485.1 187.9h1.35M475.3 210.7h1.35M468.3 211.0h1.35M490.6 192.6h1.35M475.6 222.7h1.35M479.0 207.6h1.35M476.7 216.7h1.35M495.6 201.2h1.35M492.4 172.6h1.35M482.2 204.3h1.35M489.1 211.7h1.35M493.9 183.7h1.35M481.9 185.2h1.35M499.1 188.9h1.35M493.1 199.9h1.35M480.5 202.5h1.35M478.5 196.7h1.35M475.2 207.9h1.35M484.5 181.2h1.35M479.9 184.2h1.35M491.2 189.7h1.35M479.9 203.0h1.35M483.5 195.9h1.35M477.0 196.2h1.35M491.0 181.6h1.35M498.5 197.2h1.35M497.7 174.2h1.35M475.0 205.7h1.35M484.7 203.5h1.35M491.1 189.4h1.35M489.5 179.0h1.35M486.4 183.2h1.35M494.7 206.4h1.35M467.6 207.6h1.35M494.0 184.7h1.35M492.8 179.4h1.35M477.7 196.2h1.35M481.0 183.1h1.35M497.1 194.3h1.35M482.9 195.2h1.35M490.1 204.5h1.35M481.3 186.0h1.35M476.2 214.9h1.35M502.7 174.6h1.35M493.8 182.1h1.35M492.4 192.4h1.35M499.6 209.3h1.35M495.5 188.8h1.35M469.3 203.1h1.35M491.4 197.2h1.35M483.0 215.4h1.35M484.8 178.9h1.35M492.1 206.7h1.35M470.4 209.4h1.35M488.5 180.8h1.35M487.2 180.5h1.35M483.6 185.3h1.35M476.5 180.9h1.35M475.5 205.6h1.35M489.8 206.7h1.35M465.4 211.8h1.35M478.6 204.0h1.35M476.6 211.4h1.35M479.8 203.9h1.35M488.2 174.7h1.35M482.1 204.3h1.35M498.4 179.8h1.35M482.6 206.1h1.35M502.8 200.2h1.35M487.0 209.6h1.35M493.8 195.8h1.35M477.5 190.1h1.35M490.6 182.6h1.35M487.8 198.6h1.35M477.7 205.3h1.35M480.3 212.7h1.35M474.5 195.0h1.35M496.4 193.5h1.35M475.6 194.6h1.35M495.2 199.4h1.35M479.5 207.8h1.35M489.4 177.9h1.35M490.9 199.0h1.35M488.7 187.0h1.35M470.1 188.7h1.35M488.7 199.4h1.35M476.8 195.0h1.35M471.8 194.8h1.35" stroke="#0099C6" stroke-width="1.35" fill="none"/>
<path d="M449.0 130.8h1.1M451.9 127.7h1.1M449.0 126.7h1.1M446.1 129.6h1.1M452.4 125.5h1.1M449.9 127.5h1.1M452.0 123.9h1.1M451.7 126.9h1.1M444.9 131.5h1.1M447.4 127.8h1.1M444.9 131.1h1.1M448.2 127.5h1.1M455.8 124.6h1.1" stroke="#316395" stroke-width="1.1" fill="none"/>
<path d="M496.6 125.6h1.35M508.1 152.3h1.35M467.4 132.6h1.35M478.9 134.2h1.35M470.1 119.7h1.35M493.5 138.3h1.35M500.8 157.0h1.35M479.5 140.7h1.35M485.3 133.5h1.35M482.4 145.3h1.35M497.0 149.8h1.35M473.5 151.7h1.35M482.0 152.8h1.35M481.7 142.3h1.35M482.7 128.2h1.35M481.2 130.7h1.35M495.1 129.2h1.35M506.3 163.8h1.35M505.4 140.0h1.35M486.8 143.7h1.35M498.3 155.9h1.35M491.2 133.5h1.35M495.8 156.8h1.35M472.2 117.2h1.35M506.1 153.0h1.35M500.2 132.6h1.35M479.1 133.6h1.35M503.2 151.1h1.35M455.5 145.4h1.35M469.3 147.6h1.35M502.2 135.7h1.35M466.2 144.9h1.35M478.6 139.9h1.35M478.6 141.2h1.35M488.0 121.5h1.35M479.1 141.4h1.35M472.3 146.7h1.35M491.5 134.6h1.35M514.9 145.3h1.35M505.8 147.6h1.35M476.8 138.1h1.35M486.6 145.4h1.35M472.1 133.1h1.35M480.7 150.8h1.35M485.7 125.2h1.35M463.9 134.0h1.35M491.4 152.0h1.35M498.9 139.8h1.35M482.6 120.3h1.35M500.6 146.9h1.35M467.5 145.0h1.35M479.4 137.3h1.35M465.0 133.8h1.35M473.7 137.9h1.35M498.0 136.0h1.35M498.3 153.5h1.35M481.5 139.0h1.35M490.9 146.5h1.35M481.0 130.3h1.35M465.2 137.5h1.35M511.5 152.0h1.35M509.2 139.7h1.35M467.9 135.9h1.35M510.3 146.9h1.35M469.1 130.6h1.35M506.3 160.7h1.35M484.6 120.8h1.35M464.0 141.6h1.35M493.3 132.0h1.35M514.8 163.5h1.35M489.4 129.6h1.35M471.6 132.5h1.35M501.6 154.8h1.35M499.4 141.3h1.35M498.5 132.6h1.35" stroke="#FF9900" stroke-width="1.35" fill="none"/>
<path d="M520.4 213.6h1.1M520.6 213.5h1.1M522.8 215.0h1.1M519.7 215.3h1.1M522.3 215.0h1.1M523.1 214.6h1.1M518.9 214.5h1.1M520.4 215.1h1.1" stroke="#316395" stroke-width="1.1" fill="none"/>
<rect x="449.3" y="75.6" width="42.4" height="11.1" rx="1.6" fill="#DC3912"/><text x="470.5" y="83.5" text-anchor="middle" font-size="8.25" font-weight="bold" fill="#fff" stroke="#fff" stroke-width="0.2">CD4 CTL</text>
<rect x="462.2" y="100.4" width="21.4" height="11.1" rx="1.6" fill="#DD4477"/><text x="472.9" y="108.3" text-anchor="middle" font-size="8.25" font-weight="bold" fill="#fff" stroke="#fff" stroke-width="0.2">Th1</text>
<rect x="491.0" y="127.2" width="27.5" height="11.3" rx="1.6" fill="#66AA00" stroke="#fff" stroke-opacity="0.6" stroke-width="0.7"/><text x="504.8" y="135.2" text-anchor="middle" font-size="8.25" font-weight="bold" fill="#fff" stroke="#fff" stroke-width="0.2">Th17</text>
<rect x="466.7" y="148.2" width="21.4" height="11.0" rx="1.6" fill="#FF9900" stroke="#fff" stroke-opacity="0.6" stroke-width="0.7"/><text x="477.4" y="156.0" text-anchor="middle" font-size="8.25" font-weight="bold" fill="#fff" stroke="#fff" stroke-width="0.2">Th2</text>
<rect x="457.9" y="168.4" width="21.2" height="11.8" rx="1.6" fill="#0099C6" stroke="#fff" stroke-opacity="0.6" stroke-width="0.7"/><text x="468.5" y="176.7" text-anchor="middle" font-size="8.25" font-weight="bold" fill="#fff" stroke="#fff" stroke-width="0.2">Tfh</text>
<rect x="392.3" y="172.4" width="51.5" height="10.8" rx="1.6" fill="#990099" stroke="#fff" stroke-opacity="0.6" stroke-width="0.7"/><text x="418.1" y="180.2" text-anchor="middle" font-size="8.25" font-weight="bold" fill="#fff" stroke="#fff" stroke-width="0.2">Tcm/Naive</text>
<rect x="495.7" y="217.3" width="47.3" height="10.8" rx="1.6" fill="#316395"/><text x="519.4" y="225.0" text-anchor="middle" font-size="8.25" font-weight="bold" fill="#fff" stroke="#fff" stroke-width="0.2">Unknown</text>
<rect x="467.1" y="234.0" width="59.6" height="10.8" rx="1.6" fill="#109618" stroke="#fff" stroke-opacity="0.6" stroke-width="0.7"/><text x="496.9" y="241.7" text-anchor="middle" font-size="8.25" font-weight="bold" fill="#fff" stroke="#fff" stroke-width="0.2">Naive Tregs</text>
<rect x="419.4" y="265.9" width="76.3" height="10.5" rx="1.6" fill="#3366CC"/><text x="457.5" y="273.5" text-anchor="middle" font-size="8.25" font-weight="bold" fill="#fff" stroke="#fff" stroke-width="0.2">Activated Tregs</text></g>
<g id="panelB"><polygon points="49.8,486.7 50.5,485.3 51.5,483.8 52.9,482.4 54.5,480.9 56.4,479.5 58.5,477.8 60.6,475.8 62.9,473.7 65.4,471.2 67.8,468.7 70.2,466.0 72.6,463.2 75.0,460.3 77.2,457.7 79.1,455.3 80.8,453.1 82.2,451.2 83.8,449.3 85.5,447.3 87.3,445.4 89.3,443.5 91.2,441.6 93.2,439.6 95.1,437.7 97.0,435.8 98.9,433.9 100.9,431.9 102.8,430.0 104.7,428.0 106.5,426.1 108.2,424.1 109.8,422.2 111.2,420.3 112.6,418.6 113.8,417.1 114.9,415.8 115.8,414.7 116.8,413.9 117.8,413.3 118.8,412.9 119.7,412.8 120.7,412.9 121.6,413.3 122.5,414.0 123.3,415.0 124.0,416.0 124.6,417.1 125.1,418.2 125.5,419.5 125.9,420.7 126.4,422.0 126.9,423.3 127.6,424.7 128.3,425.8 129.1,426.8 130.1,427.6 131.2,428.1 132.5,428.5 134.0,428.5 135.7,428.3 137.6,427.8 139.5,427.2 141.5,426.5 143.4,425.6 145.3,424.7 147.2,423.7 149.2,422.9 151.1,422.1 153.0,421.4 154.7,420.9 156.2,420.5 157.4,420.4 158.5,420.4 159.6,420.5 160.9,420.7 162.2,420.9 163.8,421.1 165.2,421.5 166.6,422.1 167.9,422.8 169.1,423.7 170.2,424.7 171.2,425.9 172.1,427.2 172.9,428.8 173.5,430.3 173.9,431.9 174.2,433.6 174.3,435.4 174.2,437.1 173.9,438.9 173.4,440.6 172.6,442.4 171.8,444.2 170.9,446.1 170.0,448.0 169.0,450.0 168.1,452.1 167.2,454.2 166.4,456.4 165.6,458.6 165.0,460.8 164.5,462.9 164.1,465.0 163.9,467.0 163.7,469.0 163.7,471.1 163.7,473.2 163.8,475.3 164.1,477.4 164.4,479.4 164.9,481.4 165.4,483.4 165.9,485.3 166.2,487.3 166.3,489.2 166.3,491.1 166.2,493.2 166.1,495.4 165.8,497.9 165.5,500.4 165.2,502.9 164.8,505.1 164.5,507.2 164.2,509.1 163.7,510.6 163.0,511.8 162.2,512.5 161.3,512.8 160.4,512.9 159.7,512.6 159.1,512.1 158.6,511.3 157.9,510.3 156.9,509.2 155.7,507.9 154.3,506.5 152.8,505.1 151.3,504.0 149.8,502.9 148.3,501.9 146.8,501.3 145.3,501.0 143.8,501.1 142.2,501.4 140.9,501.9 139.7,502.3 138.7,502.9 137.9,503.4 136.8,504.1 135.4,504.9 133.7,505.8 131.8,506.7 129.9,507.7 127.9,508.7 126.0,509.7 124.1,510.6 122.2,511.6 120.2,512.6 118.3,513.5 116.3,514.5 114.3,515.2 112.1,515.7 109.8,515.9 107.4,515.9 105.1,515.7 102.9,515.2 100.9,514.5 98.9,513.5 97.0,512.6 95.0,511.6 93.1,510.6 91.2,509.7 89.1,508.8 87.0,508.1 84.7,507.5 82.2,507.0 79.8,506.4 77.4,505.7 75.0,504.8 72.6,503.9 70.2,503.0 67.8,502.3 65.4,501.7 62.9,501.2 60.5,500.6 58.1,499.9 55.7,499.0 53.3,498.1 51.4,496.9 50.1,495.4 49.3,493.7 49.1,491.8 49.1,490.0 49.3,488.3" fill="#990099"/>
<polygon points="138.5,410.2 139.1,409.2 139.9,407.8 141.2,405.8 142.7,403.3 144.6,400.4 146.4,397.5 148.3,394.7 150.2,392.0 152.0,389.3 153.9,386.9 155.8,384.7 157.6,382.6 159.5,380.7 161.4,379.2 163.3,377.8 165.1,376.8 167.0,376.1 168.8,375.6 170.4,375.3 172.0,375.2 173.5,375.4 175.0,375.7 176.5,376.2 178.0,376.8 179.5,377.6 180.8,378.4 181.9,379.2 182.8,380.1 183.4,381.0 183.9,382.0 184.0,382.9 184.0,383.8 183.7,384.8 183.2,385.4 182.5,385.8 181.6,385.9 180.4,385.7 179.2,385.5 177.9,385.3 176.5,385.1 175.0,384.9 173.5,385.0 172.0,385.3 170.5,385.8 169.0,386.5 167.5,387.5 166.1,388.6 164.6,389.9 163.1,391.4 161.6,393.0 160.1,394.7 158.6,396.4 157.1,398.3 155.6,400.2 154.1,402.2 152.6,404.2 151.1,406.2 149.8,408.1 148.5,409.8 147.5,411.3 146.5,412.6 145.5,413.6 144.5,414.4 143.4,414.8 142.3,415.0 141.3,414.9 140.4,414.6 139.5,413.9 138.8,413.0 138.4,412.0 138.3,411.1" fill="#109618"/>
<polygon points="183.0,378.7 186.2,379.7 190.0,380.7 194.5,381.9 198.9,383.2 203.4,384.9 206.6,386.2 208.5,387.3 209.2,387.9 208.7,388.1 209.2,389.6 210.7,392.2 211.4,395.6 211.4,399.8 210.7,402.1 209.2,402.6 207.9,402.1 206.9,400.5 205.3,398.6 203.2,396.3 202.3,394.4 202.6,392.9 201.2,391.6 198.2,390.5 195.2,389.3 192.2,388.2 189.4,386.9 186.8,385.4 185.1,383.9 184.4,382.4 183.4,380.8 182.1,379.1" fill="#3366CC"/>
<polygon points="205.8,458.9 206.6,457.3 207.6,455.8 208.5,454.3 209.5,452.8 210.5,451.2 211.4,450.3 212.3,449.9 213.1,450.1 213.9,450.9 214.6,451.5 215.2,452.0 215.9,452.4 216.4,452.7 217.1,453.6 217.8,455.2 218.5,457.3 219.3,460.2 220.4,462.6 221.7,464.6 223.2,466.1 225.1,467.3 226.6,468.9 227.8,471.0 228.7,473.5 229.3,476.5 229.8,479.5 230.0,482.5 230.2,485.5 230.2,488.6 230.0,491.6 229.8,494.6 229.3,497.6 228.7,500.7 228.0,503.4 227.3,505.8 226.4,507.9 225.5,509.7 224.4,511.2 223.1,512.3 221.6,513.1 219.9,513.6 218.5,513.6 217.3,513.1 216.3,512.2 215.6,510.9 215.0,509.4 214.5,507.9 214.0,506.4 213.8,504.7 213.3,503.2 212.8,501.7 212.1,500.3 211.2,499.0 210.2,497.7 209.1,496.6 207.8,495.5 206.2,494.5 204.8,493.4 203.4,492.3 202.1,491.1 200.9,489.9 199.7,488.7 198.5,487.6 197.3,486.5 196.2,485.5 195.4,484.3 194.8,483.0 194.6,481.5 194.7,479.8 195.0,478.2 195.7,476.5 196.6,474.9 197.8,473.3 199.0,471.5 200.2,469.5 201.4,467.3 202.6,464.8 203.7,462.6 204.8,460.6" fill="#66AA00"/>
<polygon points="179.4,424.8 181.1,425.2 182.7,425.8 184.3,426.5 185.9,427.3 187.5,428.3 189.0,429.4 190.2,430.6 191.4,431.9 192.4,433.3 193.3,435.0 194.1,436.9 194.8,439.0 195.5,441.5 196.1,444.0 196.6,446.6 197.1,449.3 197.6,452.2 198.0,454.8 198.4,457.2 198.8,459.4 199.1,461.4 199.2,463.4 199.1,465.3 198.7,467.1 198.1,469.0 197.3,470.5 196.3,471.8 195.1,472.7 193.6,473.4 192.3,474.0 191.0,474.5 189.7,474.9 188.5,475.2 187.4,475.8 186.4,476.5 185.5,477.5 184.7,478.7 183.8,480.2 182.8,482.0 181.7,484.1 180.4,486.6 179.3,488.2 178.2,489.1 177.1,489.3 176.1,488.7 175.0,487.8 173.9,486.6 172.8,485.1 171.6,483.2 170.5,481.3 169.5,479.2 168.6,476.9 167.8,474.5 167.1,472.1 166.6,469.7 166.3,467.3 166.1,464.8 166.1,462.4 166.3,460.0 166.7,457.6 167.3,455.1 168.0,452.7 168.8,450.3 169.7,447.9 170.7,445.5 171.6,443.1 172.4,440.7 173.1,438.3 173.7,435.8 174.3,433.5 174.9,431.3 175.5,429.2 176.1,427.2 177.0,425.8 178.1,425.0" fill="#0099C6"/>
<polygon points="165.7,416.4 166.7,415.5 167.8,414.8 169.1,414.3 170.6,414.0 172.2,413.9 173.7,413.9 175.1,414.2 176.4,414.6 177.7,415.2 178.7,416.0 179.5,416.9 180.1,417.9 180.5,419.1 180.6,420.2 180.5,421.3 180.2,422.2 179.5,423.2 178.7,423.9 177.7,424.4 176.5,424.8 175.1,425.1 173.7,425.1 172.3,425.0 170.9,424.8 169.5,424.4 168.2,423.7 167.2,422.8 166.2,421.5 165.4,420.0 165.1,418.6 165.1,417.4" fill="#0099C6"/>
<polygon points="191.4,474.8 192.5,475.3 193.5,476.0 194.5,476.8 195.5,477.9 196.5,479.1 197.6,480.4 198.7,481.6 199.9,482.9 201.1,484.1 202.4,485.4 203.6,486.6 204.9,487.9 206.1,489.1 207.2,490.4 208.2,491.8 209.1,493.2 209.9,494.8 210.5,496.3 211.1,497.8 211.6,499.3 211.9,500.9 212.1,502.4 212.1,503.9 211.9,505.3 211.5,506.7 210.7,507.9 209.4,509.0 207.7,509.9 205.6,510.6 203.4,511.1 201.2,511.3 199.0,511.2 196.6,511.0 194.7,510.8 193.2,510.9 192.1,511.2 191.4,511.7 190.1,511.9 188.2,511.8 185.8,511.5 182.8,510.9 179.9,509.8 177.2,508.3 174.7,506.4 172.2,503.9 170.3,501.6 168.8,499.3 167.7,497.2 167.1,495.0 166.9,493.2 167.1,491.6 167.6,490.2 168.6,489.2 169.6,488.1 170.7,487.1 171.9,486.2 173.1,485.3 174.4,484.4 175.7,483.6 177.0,482.7 178.3,481.8 179.6,480.9 180.9,480.1 182.1,479.2 183.2,478.3 184.4,477.5 185.6,476.7 186.8,475.9 188.1,475.2 189.2,474.8 190.4,474.6" fill="#FF9900"/>
<polygon points="194.0,510.5 196.4,510.8 198.8,511.0 201.2,511.1 203.6,511.2 206.0,511.2 208.4,511.4 210.9,511.9 213.3,512.6 215.7,513.5 217.9,514.4 219.8,515.5 221.6,516.6 223.1,517.8 224.3,519.4 225.2,521.2 225.8,523.3 226.1,525.7 226.2,527.9 226.0,530.1 225.6,532.0 225.0,533.8 224.3,535.5 223.4,537.0 222.3,538.4 221.1,539.6 219.9,540.9 218.7,542.4 217.5,544.1 216.3,545.9 215.1,547.7 213.9,549.5 212.7,551.3 211.5,553.1 210.3,554.2 209.0,554.5 207.8,554.0 206.6,552.8 205.5,551.5 204.4,550.0 203.5,548.3 202.6,546.5 201.7,544.5 200.8,542.4 199.8,540.2 198.9,537.8 198.0,535.2 197.1,532.5 196.2,529.6 195.3,526.6 194.5,523.9 193.7,521.5 193.1,519.4 192.5,517.5 191.9,515.9 191.5,514.4 191.1,513.0 190.8,511.8 191.2,511.0 192.2,510.5" fill="#DD4477"/>
<polygon points="242.8,385.6 244.2,385.1 245.4,385.7 246.2,387.2 247.0,389.5 247.5,392.4 248.4,395.3 249.5,398.2 250.0,400.4 250.0,402.0 248.4,402.9 245.1,403.2 242.1,402.5 239.3,401.1 237.3,399.7 235.9,398.5 235.8,397.2 237.1,395.9 238.4,394.2 239.9,392.0 240.9,389.7 241.7,387.1" fill="#316395"/>
<path d="M125.3 437.2h1M144.3 437.9h1M69.6 468.9h1M167.9 433.0h1M147.2 488.2h1M141.5 433.0h1M95.4 439.9h1M124.5 478.4h1M78.4 472.9h1M119.7 511.5h1M61.1 486.3h1M110.1 451.6h1M111.9 465.1h1M137.4 493.6h1M108.4 484.8h1M81.7 482.5h1M118.1 423.0h1M78.5 505.7h1M161.4 483.8h1M112.8 468.0h1M152.0 483.0h1M72.8 464.4h1M146.1 495.5h1M74.0 471.7h1M78.8 464.9h1M67.0 502.0h1M54.7 482.2h1M132.1 430.6h1M145.0 437.7h1M160.1 501.3h1M157.2 496.9h1M87.9 507.4h1M101.2 511.8h1M103.1 450.7h1M172.6 434.1h1M143.0 453.2h1M134.7 444.9h1M116.9 451.0h1M78.1 465.8h1M116.1 482.7h1M77.0 464.2h1M92.8 503.8h1M104.9 428.4h1M142.9 435.4h1M150.5 475.2h1M146.6 459.3h1M91.9 459.1h1M116.7 474.6h1M137.8 433.8h1M95.8 438.3h1M155.7 482.4h1M116.4 452.8h1M157.5 439.6h1M165.3 436.6h1M75.1 465.9h1M156.0 436.5h1M159.8 465.7h1M145.9 449.0h1M138.7 501.4h1M78.1 500.7h1M84.4 473.3h1M99.0 444.1h1M140.9 474.2h1M124.6 470.2h1M156.9 478.2h1M145.1 444.8h1M160.9 455.2h1M148.3 462.6h1M146.9 452.6h1M144.2 491.0h1M56.3 483.6h1M162.0 459.3h1M153.1 482.4h1M83.2 458.3h1M90.0 494.2h1M50.5 495.5h1M107.7 451.6h1M99.3 513.2h1M159.3 460.8h1M170.2 440.8h1M153.0 489.9h1M152.4 459.6h1M136.3 499.6h1M93.9 478.6h1M93.3 463.6h1M127.3 476.8h1M69.8 466.0h1M157.5 494.5h1M156.1 444.4h1M90.0 444.2h1M121.5 469.8h1M87.8 450.0h1M112.9 471.2h1M110.4 470.5h1M150.0 423.2h1M83.6 487.8h1M135.8 495.8h1M143.8 446.6h1M172.5 434.3h1M139.8 483.3h1M166.9 424.0h1M102.7 464.1h1M102.3 430.9h1M87.7 481.9h1M168.0 447.0h1M116.3 465.4h1M152.7 478.2h1M93.4 441.4h1M151.8 482.2h1M73.3 490.4h1M170.8 443.4h1M117.9 414.7h1M73.1 501.0h1M120.5 464.2h1M146.3 497.5h1M93.0 466.4h1M149.8 459.7h1M64.8 488.8h1M163.9 480.4h1M152.7 444.4h1M104.1 446.4h1M164.2 482.6h1M71.1 475.0h1M130.8 429.1h1M90.6 443.7h1M110.3 428.1h1M97.8 464.4h1M127.9 446.6h1M119.0 486.8h1M165.3 450.5h1M69.8 498.1h1M160.9 476.9h1M162.5 489.7h1M78.2 493.6h1M101.4 474.2h1M144.6 468.7h1M162.9 492.0h1M115.2 501.2h1M147.8 460.2h1M132.5 483.2h1M163.7 425.5h1M107.6 514.3h1M106.2 462.5h1M117.1 504.4h1M166.0 449.2h1M150.2 502.0h1M72.0 502.1h1M157.2 453.7h1M145.3 466.0h1M93.7 440.3h1M128.6 427.6h1M134.0 428.8h1M86.1 469.7h1M171.9 434.5h1M119.4 484.2h1M133.2 487.1h1M72.5 465.5h1M155.7 489.5h1M86.3 506.5h1M153.5 475.0h1M117.8 504.4h1M142.6 498.1h1M119.3 490.8h1M124.0 482.7h1M150.0 450.7h1M159.1 504.7h1M147.2 499.7h1M103.1 443.6h1M110.6 451.3h1M62.3 474.7h1M162.7 462.2h1M164.6 502.0h1M81.3 494.2h1M95.5 472.7h1M98.0 497.3h1M99.7 512.6h1M118.8 445.4h1M102.2 469.8h1M116.3 513.7h1M95.3 500.4h1M97.8 460.0h1M59.9 499.4h1M162.7 489.9h1M137.7 486.1h1M162.9 451.3h1M106.8 492.5h1M162.8 497.8h1M99.4 493.1h1M107.1 430.2h1M121.8 500.5h1M145.2 446.8h1M157.2 447.1h1M133.0 494.7h1M158.1 500.7h1M109.4 502.6h1M153.5 437.2h1M130.3 488.5h1M87.7 469.9h1M152.9 481.5h1M60.9 493.4h1M59.4 488.4h1M112.5 452.2h1M145.5 456.3h1M74.6 500.8h1M85.8 481.0h1M78.4 503.3h1M160.0 505.3h1M95.5 447.0h1M145.5 448.4h1M72.5 466.7h1M148.3 474.6h1M109.2 495.0h1M106.4 437.1h1M131.7 459.6h1M82.5 504.4h1M100.7 435.6h1M119.5 462.3h1M129.2 442.3h1M87.9 470.9h1M159.6 482.4h1M148.4 466.7h1M98.7 450.7h1M128.4 439.6h1M155.4 455.0h1M99.6 452.8h1M92.9 456.1h1M119.7 453.6h1M162.8 431.4h1M76.6 479.3h1M148.7 475.9h1M162.5 500.4h1M75.0 468.6h1M134.4 461.3h1M69.3 496.2h1M168.6 427.4h1M98.7 434.1h1M90.4 503.9h1M130.4 478.3h1M115.2 417.3h1M120.5 512.0h1M123.4 426.7h1M159.8 488.4h1M107.8 509.6h1M165.0 488.8h1M66.1 494.6h1M156.4 447.2h1M113.9 417.3h1M95.5 503.1h1M111.8 489.3h1M141.4 453.8h1M55.3 489.4h1M109.3 439.6h1M106.9 426.2h1M110.8 509.1h1M117.6 489.4h1M62.6 481.5h1M86.6 446.5h1M70.5 473.8h1M165.8 452.4h1M88.1 466.6h1M88.8 470.5h1M119.8 455.4h1M142.8 468.9h1M117.7 424.5h1M89.6 446.8h1M165.3 437.3h1M134.3 477.9h1M146.2 462.1h1M109.1 456.8h1M73.0 485.4h1M159.5 430.2h1M118.6 413.2h1M73.9 500.5h1M100.4 440.5h1M55.1 481.4h1M67.0 469.3h1M155.7 484.2h1M156.1 444.8h1M83.0 469.8h1M107.0 513.5h1M115.9 495.1h1M113.0 437.6h1M136.2 498.5h1M117.9 438.6h1M156.7 495.5h1M123.4 454.8h1M86.4 478.7h1M90.6 488.4h1M149.3 468.7h1M95.9 441.9h1M160.4 480.5h1M93.7 455.2h1M137.0 485.9h1M112.0 488.5h1M105.7 482.9h1M104.7 446.6h1M96.6 476.5h1M84.2 501.0h1M88.6 505.2h1M63.4 498.0h1M127.7 445.3h1M106.1 479.5h1M141.5 497.3h1M70.3 465.4h1M91.1 508.4h1M141.2 450.2h1M158.3 496.5h1M128.9 427.0h1M72.2 465.7h1M143.0 500.2h1M101.0 439.6h1M52.4 485.1h1M116.7 456.7h1M160.3 442.5h1M114.0 471.0h1M90.9 481.9h1M154.7 477.3h1M154.0 490.8h1M87.5 471.3h1M106.1 429.9h1M126.2 442.7h1M171.8 438.7h1M153.5 462.7h1M81.7 453.1h1M76.6 471.2h1M84.9 461.4h1M121.5 489.9h1M90.4 501.8h1M56.7 482.1h1M67.0 488.5h1M95.3 469.3h1M148.4 502.0h1M98.6 438.3h1M89.5 505.1h1M120.1 499.3h1M127.8 502.4h1M101.3 490.7h1M146.3 456.1h1M83.7 484.7h1M68.1 473.3h1M51.6 487.3h1M145.4 477.0h1M113.8 418.8h1M154.7 487.8h1M143.6 425.9h1M136.8 433.9h1M155.5 494.7h1M90.6 483.3h1M110.2 485.9h1M101.8 514.2h1M144.5 461.8h1M157.4 488.5h1M82.8 473.5h1M106.3 430.0h1M106.6 487.1h1M92.6 506.7h1M142.0 426.9h1M92.0 489.6h1M142.5 457.0h1M98.1 439.3h1M109.5 461.8h1M78.8 455.5h1M132.1 432.4h1M69.0 500.2h1M136.2 448.1h1M85.6 492.4h1M89.0 489.8h1M82.5 450.7h1M116.0 497.6h1M162.2 453.7h1M114.3 514.5h1M94.8 439.3h1M70.3 465.4h1M145.5 473.3h1M123.6 416.3h1M155.2 479.4h1M78.9 494.5h1M145.8 495.1h1M105.2 490.2h1M161.2 461.4h1M115.7 451.4h1M99.8 437.5h1M105.2 467.7h1M150.2 441.9h1M159.9 471.8h1M127.4 475.0h1M160.1 463.6h1M169.8 445.3h1M162.9 454.1h1M90.7 485.3h1M99.7 462.6h1M86.4 447.4h1M65.5 477.5h1M81.5 472.6h1M147.1 487.2h1M114.7 478.2h1M102.1 476.6h1M167.4 449.7h1M115.9 465.3h1M145.8 431.2h1M96.0 438.7h1M95.8 503.2h1M60.1 485.6h1M98.5 500.2h1M153.3 421.4h1M115.4 483.6h1M99.5 454.5h1M142.5 472.9h1M151.9 499.3h1M166.3 433.2h1M150.3 466.4h1M100.0 506.7h1M79.3 455.6h1M153.9 431.1h1M162.7 502.7h1M78.4 458.6h1M88.3 505.7h1M56.8 481.4h1M122.2 482.2h1M131.5 478.5h1M62.4 482.9h1M76.9 489.1h1M100.4 440.6h1M79.4 487.9h1M93.4 502.0h1M145.4 476.8h1M65.3 482.2h1M128.9 468.3h1M155.2 482.8h1M135.9 475.7h1M149.0 500.6h1M67.4 474.2h1M50.4 485.7h1M70.2 491.9h1M170.4 425.5h1M159.5 502.7h1M114.8 487.9h1M130.0 482.2h1M103.3 506.0h1M138.6 458.5h1M154.5 504.6h1M74.1 491.7h1M120.3 482.2h1M162.8 470.0h1M62.1 500.2h1M130.1 438.2h1M92.4 459.2h1M58.2 497.6h1M126.0 496.1h1M162.2 474.5h1M126.3 455.6h1M109.9 425.8h1M131.3 496.5h1M91.1 501.0h1M82.5 468.4h1M116.6 429.1h1M115.6 464.4h1M131.2 447.5h1M76.3 472.5h1M141.2 463.8h1M105.7 482.1h1M74.2 484.7h1M117.1 424.0h1M155.0 491.8h1M64.7 484.3h1M127.9 487.4h1M85.7 494.1h1M133.7 459.0h1M75.5 481.1h1M50.3 489.1h1M104.9 427.8h1M93.1 479.9h1M72.2 483.4h1M126.9 457.5h1M170.5 426.6h1M117.2 417.3h1M112.7 450.4h1M119.4 432.4h1M148.3 463.0h1M132.5 437.2h1M123.5 508.4h1M87.0 453.4h1M142.8 492.5h1M142.9 438.0h1M108.5 496.9h1M65.1 498.4h1M111.4 446.3h1M155.2 441.4h1M102.4 462.9h1M157.6 471.6h1M83.1 462.1h1M117.2 481.3h1M134.3 451.9h1M121.4 505.7h1M170.0 425.2h1M66.6 469.6h1M81.3 455.6h1M146.7 482.4h1M116.7 428.1h1M104.0 505.7h1M141.7 473.3h1M73.8 499.0h1M127.0 479.5h1M97.7 483.8h1M116.3 509.8h1M135.0 454.8h1M162.4 432.0h1M124.1 506.7h1M168.1 444.2h1M85.5 461.4h1M56.3 480.5h1M146.3 497.5h1M142.6 476.1h1M78.5 477.6h1M137.3 434.2h1M96.6 491.4h1M166.5 436.8h1M155.4 487.7h1M97.8 457.6h1M133.8 451.1h1M114.1 419.7h1M134.7 454.6h1M53.5 483.5h1M162.7 429.5h1M148.0 485.9h1M127.6 446.5h1M133.9 454.9h1M66.6 474.4h1M154.6 496.6h1M59.2 476.7h1M135.5 464.1h1M111.2 475.8h1M57.9 479.3h1M123.6 506.4h1M157.6 460.1h1M159.4 450.9h1M105.5 434.6h1M121.9 457.1h1M122.9 417.5h1M151.5 440.2h1M86.1 456.9h1M151.7 470.3h1M123.5 431.9h1M116.2 499.7h1M126.4 448.7h1M123.6 507.4h1M147.4 440.3h1M97.2 437.2h1M148.1 465.7h1M111.5 499.1h1M105.1 451.2h1M118.4 435.0h1M120.3 506.5h1M141.6 468.4h1M91.1 500.0h1M132.2 503.7h1M100.5 460.2h1M136.1 467.2h1M70.0 498.9h1M114.4 472.7h1M150.8 469.3h1M159.4 458.6h1M78.1 467.2h1M160.2 488.5h1M128.3 433.3h1M106.0 511.4h1M99.5 475.9h1M96.5 495.4h1M58.5 494.2h1M132.7 491.2h1M102.3 439.1h1M126.1 503.5h1M89.8 460.7h1M141.4 475.4h1M74.3 470.3h1M143.7 445.6h1M61.1 498.9h1M116.7 417.3h1M96.5 450.2h1M116.6 471.4h1M144.1 461.8h1M81.1 477.0h1M105.8 471.4h1M159.6 497.8h1M136.2 465.4h1M125.0 456.0h1M114.9 486.0h1M67.0 496.2h1M91.1 446.9h1M98.7 486.1h1M93.5 475.5h1M128.8 467.9h1M101.5 437.1h1M153.1 445.0h1M95.5 510.1h1M119.1 446.4h1M123.0 504.9h1M66.3 476.6h1M147.4 424.0h1M96.4 485.9h1M116.3 436.1h1M108.7 424.8h1M55.0 483.8h1M99.8 507.3h1M116.4 463.8h1M144.7 485.9h1M150.5 458.4h1M66.4 490.9h1M159.1 452.4h1M89.0 448.3h1M63.9 485.7h1M148.9 476.6h1M131.5 465.3h1M102.2 445.8h1M118.5 452.3h1M145.6 454.6h1M123.7 508.5h1M142.9 437.7h1M115.3 478.8h1M122.8 495.5h1M85.1 449.5h1M133.0 468.3h1M136.2 490.5h1M80.8 475.3h1M50.1 492.9h1M48.9 492.1h1M145.3 479.8h1M103.4 479.5h1M156.5 464.9h1M107.0 441.5h1M122.7 493.9h1M98.7 492.2h1M106.3 445.0h1M78.2 467.6h1M67.8 489.4h1M69.7 479.9h1M85.1 463.0h1M126.1 457.0h1M73.6 497.6h1M142.6 462.4h1M72.3 482.0h1M106.4 457.8h1M150.8 436.1h1M76.2 458.5h1M85.5 499.8h1M106.2 456.8h1M83.7 505.1h1M111.3 425.3h1M119.7 475.1h1M122.6 429.8h1M53.2 481.9h1M170.2 426.9h1M133.6 493.5h1M115.5 425.0h1M58.9 482.4h1M152.8 433.0h1M110.5 484.5h1M161.5 448.1h1M121.0 493.2h1M78.8 500.0h1M135.3 441.3h1M100.0 492.5h1M113.4 465.4h1M99.4 453.0h1M166.9 448.2h1M134.9 465.0h1M91.5 441.4h1M149.0 483.0h1M148.2 461.8h1M162.3 449.2h1M120.6 451.5h1M104.0 461.5h1M122.4 429.7h1M107.7 515.4h1M147.2 491.3h1M70.8 473.9h1M143.4 474.5h1M92.9 456.4h1M92.7 492.9h1M113.0 428.2h1M121.9 450.4h1M160.7 512.0h1M118.1 458.8h1M113.4 439.9h1M76.7 459.2h1M118.3 512.9h1M135.8 468.9h1M87.8 495.4h1M162.3 501.3h1M64.1 477.5h1M134.0 504.0h1M110.5 440.8h1M72.9 466.9h1M96.2 511.4h1M134.4 504.0h1M95.4 478.8h1M133.2 431.1h1M64.6 483.4h1M98.2 446.6h1M69.3 500.0h1M71.3 484.7h1M161.5 453.8h1M69.5 482.5h1M107.6 496.1h1M110.3 484.1h1M99.0 493.6h1M156.9 509.5h1M120.3 414.2h1M108.5 471.3h1M112.9 426.5h1M125.7 506.2h1M155.7 462.1h1M150.3 477.7h1M142.2 487.0h1M126.7 431.1h1M71.1 499.3h1M137.3 457.1h1M141.4 499.6h1M156.7 506.6h1M161.2 428.8h1M132.4 502.7h1M71.9 481.7h1M148.7 453.1h1M100.6 490.7h1M131.8 497.4h1M154.3 456.7h1M148.8 470.6h1M142.6 460.9h1M120.7 499.5h1M118.2 418.4h1M81.3 480.5h1M156.1 429.8h1M153.7 506.1h1M114.2 491.4h1M113.0 451.3h1M105.0 515.0h1M101.0 455.2h1M137.2 471.4h1M149.9 431.3h1M52.1 489.2h1M101.6 514.6h1M163.0 424.9h1M157.4 488.7h1M159.5 475.4h1M85.7 493.4h1M103.0 497.0h1M115.5 513.8h1M150.1 435.3h1M92.6 501.6h1M103.8 470.3h1M113.8 476.1h1M90.0 477.2h1M155.1 495.5h1M61.8 500.0h1M92.1 500.5h1M124.5 430.1h1M150.2 435.6h1M94.3 477.4h1M79.9 485.2h1M120.7 416.2h1M131.4 473.0h1M115.3 465.8h1M136.5 501.3h1M171.7 439.7h1M132.1 494.3h1M63.0 495.7h1M131.2 445.7h1M103.7 452.1h1M99.0 511.3h1M92.7 467.8h1M142.7 494.6h1M152.1 486.6h1M163.7 450.7h1M101.6 471.6h1M74.1 474.7h1M165.2 436.2h1M151.2 443.8h1M78.4 467.2h1M161.6 481.9h1M154.6 458.2h1M110.7 504.7h1M61.5 498.8h1M113.6 491.7h1M106.2 506.1h1M142.0 497.5h1M73.8 465.8h1M98.5 447.2h1M162.9 464.6h1M162.7 509.2h1M89.3 501.0h1M137.0 436.7h1M170.6 439.1h1M127.4 503.7h1M113.7 500.2h1M162.6 458.9h1M160.0 460.1h1M122.3 447.2h1M166.4 439.7h1M59.8 499.8h1M147.7 497.3h1M117.1 448.3h1M160.2 498.8h1M164.5 453.4h1M51.4 493.6h1M104.6 449.2h1M78.1 457.6h1M74.6 461.6h1M122.2 475.1h1M151.2 435.8h1M149.1 467.9h1M85.0 503.9h1M106.4 464.0h1M74.5 484.4h1M156.2 434.9h1M135.8 503.8h1M125.5 455.6h1M110.9 502.1h1M83.4 455.6h1M142.7 434.8h1M150.6 435.9h1M143.4 459.6h1M158.6 421.6h1M108.0 491.4h1M130.5 492.1h1M91.5 508.6h1M117.0 510.3h1M118.8 426.9h1M119.8 465.1h1M133.6 504.2h1M145.9 458.6h1M50.7 489.7h1M132.5 496.7h1M122.8 427.1h1M157.1 460.7h1M162.9 506.9h1M96.2 447.5h1M126.7 496.6h1M128.4 481.7h1M63.2 490.9h1M126.3 451.3h1M95.5 494.4h1M94.4 448.3h1M90.9 501.2h1M56.2 491.4h1M92.7 484.4h1M69.2 492.1h1M126.1 472.9h1M138.3 497.3h1M127.5 425.8h1M97.8 463.2h1M153.2 437.1h1M146.3 472.4h1M108.5 500.0h1M108.7 424.9h1M145.9 449.8h1M84.3 485.3h1M76.0 505.0h1M110.7 491.1h1M162.3 463.4h1M131.6 461.9h1M108.4 480.2h1M161.5 465.7h1M129.4 462.5h1M145.8 448.4h1M150.9 422.8h1M106.1 501.4h1M152.0 446.3h1M137.9 484.7h1M145.7 497.2h1M117.0 417.2h1M161.5 422.0h1M156.9 439.5h1M113.6 422.8h1M99.6 499.5h1M124.5 478.2h1M139.1 461.9h1M74.9 460.3h1M166.4 454.4h1M159.1 506.6h1M111.0 424.2h1M150.0 486.5h1M164.5 442.8h1M123.9 439.7h1M113.1 429.1h1M112.2 430.2h1M79.2 456.5h1M112.8 423.3h1M121.4 504.5h1M111.3 513.6h1M127.3 445.3h1M129.6 446.5h1M80.1 456.1h1M97.2 481.4h1M161.8 441.1h1M130.2 462.6h1M132.7 490.8h1M90.8 501.4h1M103.3 482.0h1M110.7 453.4h1M158.4 491.7h1M92.8 439.9h1M119.6 464.9h1M163.0 446.5h1M71.4 493.7h1M160.0 512.4h1M98.5 437.2h1M105.4 434.3h1M98.5 468.6h1M157.5 467.7h1M100.4 450.4h1M142.7 493.7h1M153.9 503.0h1M155.8 420.5h1M61.4 493.8h1M124.4 460.8h1M59.5 489.9h1M94.4 479.1h1M112.0 433.1h1M118.9 438.2h1M105.4 480.8h1M109.6 431.2h1M141.4 481.4h1M102.1 479.6h1M116.1 426.5h1M115.6 453.3h1M93.8 455.8h1M154.6 459.0h1M123.4 434.6h1M103.8 498.4h1M78.9 468.3h1M123.1 468.2h1M138.0 462.9h1M122.3 471.7h1M116.4 455.8h1M91.6 488.5h1M127.0 476.0h1M128.1 503.0h1M118.4 455.5h1M127.6 481.4h1M109.9 483.6h1M58.1 478.5h1M63.9 483.8h1M87.8 477.9h1M105.7 431.4h1M80.4 464.5h1M143.1 436.2h1M136.5 430.0h1M114.5 444.7h1M145.9 501.2h1M67.4 468.8h1M149.5 447.8h1M105.4 456.9h1M85.3 452.4h1M145.4 427.4h1M105.0 486.4h1M145.0 452.2h1M111.0 490.9h1M74.0 502.1h1M123.8 509.3h1M137.4 489.2h1M129.1 476.2h1M116.6 413.9h1M140.9 483.8h1M119.6 468.2h1M163.4 436.9h1M139.1 428.9h1M154.6 439.2h1M155.5 458.0h1M121.2 427.9h1M143.3 467.4h1M71.7 501.1h1M114.0 473.4h1M100.3 512.8h1M84.4 448.4h1M160.7 500.2h1M162.7 506.5h1M136.4 432.6h1M136.4 501.7h1M131.1 486.3h1M129.5 501.0h1M81.9 479.3h1M100.7 492.8h1M162.5 497.1h1M69.1 478.0h1M117.0 433.9h1M90.4 478.8h1M169.8 439.7h1M121.9 501.9h1M88.9 474.3h1M154.6 487.9h1M157.1 508.0h1M154.6 459.8h1M153.6 468.0h1M165.1 429.4h1M144.0 491.2h1M107.3 503.4h1M90.6 480.2h1M105.9 475.1h1M85.1 495.9h1M160.1 440.8h1M129.8 457.2h1M100.9 434.6h1M76.8 500.4h1M136.7 493.5h1M62.3 477.6h1M155.6 505.0h1M113.3 448.2h1M141.4 461.9h1M110.5 453.3h1M149.5 465.5h1M101.4 455.9h1M74.4 501.8h1M109.2 481.0h1M113.8 438.6h1M132.4 456.8h1M141.8 497.4h1M67.4 478.2h1M161.7 466.8h1M98.5 493.2h1M159.6 424.3h1M90.4 475.1h1M157.7 462.2h1M64.4 473.7h1M66.8 476.4h1M69.1 494.9h1M161.3 459.1h1M112.5 475.6h1M119.2 491.2h1M139.1 488.3h1M116.4 431.5h1M161.0 458.7h1M84.3 474.8h1M83.7 458.8h1M72.0 502.9h1M108.3 424.9h1M149.3 426.3h1M116.6 492.7h1M74.6 469.6h1M166.5 447.4h1M129.0 490.4h1M162.2 492.4h1M146.3 494.3h1M100.8 466.9h1M63.3 496.9h1M55.7 494.2h1M120.9 485.2h1M112.4 506.3h1M161.5 492.7h1M104.7 515.1h1M160.3 442.2h1M142.0 447.5h1M102.6 448.3h1M123.1 420.1h1M152.7 479.5h1M128.6 494.7h1M124.0 481.8h1M78.8 460.2h1M125.2 496.4h1M104.9 441.7h1M81.2 500.9h1M128.7 463.2h1M159.4 508.4h1M100.9 501.7h1M71.2 468.5h1M121.1 494.1h1M75.5 504.1h1M50.5 495.9h1M129.7 461.9h1M122.9 435.9h1M154.1 421.3h1M74.0 470.1h1M156.9 440.4h1M109.5 454.3h1M122.7 453.5h1M160.2 457.2h1M85.1 447.4h1M151.5 458.4h1M143.6 470.3h1M92.3 480.6h1M143.3 471.8h1M151.5 450.4h1M146.3 425.9h1M56.8 483.4h1M117.3 452.9h1M165.3 444.0h1M156.5 471.4h1M81.8 455.5h1M61.4 476.3h1M112.3 472.7h1M117.2 413.7h1M91.2 445.2h1M163.4 464.6h1M145.0 470.0h1M105.8 511.3h1M94.2 478.4h1M158.9 466.4h1M78.5 496.7h1M98.1 478.6h1M95.8 495.8h1M123.4 431.2h1M93.0 491.2h1M141.9 498.9h1M107.8 512.7h1M122.2 431.1h1M81.3 506.5h1M87.0 459.2h1M168.8 448.5h1M101.9 466.0h1M103.3 510.0h1M127.4 465.9h1M71.1 498.0h1M163.5 427.3h1M92.3 500.3h1M153.3 433.8h1M71.9 485.9h1M105.2 440.1h1M159.3 486.6h1M112.6 419.1h1M93.7 467.7h1M139.1 480.5h1M163.8 446.0h1M104.8 515.2h1M135.0 432.9h1M168.2 449.1h1M139.6 501.8h1M120.2 422.2h1M145.4 476.2h1M141.0 498.5h1M127.3 502.6h1M103.5 504.2h1M153.8 499.1h1M130.3 428.5h1M56.9 497.6h1M89.1 467.5h1M108.3 512.5h1M112.6 429.7h1M149.5 479.6h1M91.8 467.7h1M127.0 478.7h1M164.7 431.4h1M96.6 441.0h1M100.8 511.7h1M84.8 495.0h1M136.1 499.7h1M94.3 484.5h1M112.0 420.8h1M97.8 446.8h1M84.9 456.1h1M125.0 461.1h1M153.0 433.0h1M97.5 454.4h1M131.9 442.5h1M159.0 510.4h1M71.3 503.4h1M112.8 476.4h1M128.3 494.0h1M144.9 429.6h1M115.4 448.3h1M75.2 461.0h1M148.1 493.2h1M53.8 498.2h1M144.7 457.4h1M167.2 426.5h1M112.5 480.1h1M127.7 464.9h1M118.6 415.7h1M147.5 444.2h1M159.4 510.8h1M104.5 457.2h1M98.7 444.3h1M102.3 478.9h1M73.7 484.6h1M108.1 489.2h1M162.3 492.1h1M102.3 514.0h1M132.6 429.2h1M107.9 456.6h1M122.0 430.5h1M96.2 495.9h1M138.3 440.1h1M116.3 425.0h1M153.5 423.0h1M121.9 511.0h1M130.5 429.7h1M139.8 457.6h1M166.9 440.6h1M124.3 449.7h1M118.1 447.8h1M72.7 473.4h1M153.0 505.0h1M120.9 436.2h1M151.4 461.6h1M159.4 424.2h1M140.2 492.1h1M113.1 502.1h1M137.6 493.5h1M141.1 500.9h1M163.2 475.1h1M151.4 449.9h1M164.7 500.6h1M57.2 494.2h1M94.6 457.0h1M114.6 456.9h1M128.8 457.6h1M143.4 460.5h1M150.8 452.9h1M106.7 489.5h1M88.9 502.1h1M56.2 488.4h1M113.5 514.8h1M130.9 497.2h1M99.2 444.3h1M87.7 494.4h1M134.7 430.0h1M164.9 441.0h1M80.8 461.8h1M113.7 448.0h1M88.9 449.3h1M107.9 502.3h1M159.1 485.4h1M135.3 431.4h1M167.7 450.3h1M72.6 468.3h1M135.9 459.5h1M148.5 496.5h1M84.5 470.5h1M111.8 507.9h1M143.1 476.3h1M119.6 424.2h1M98.9 504.3h1M148.7 486.4h1M105.9 484.3h1M119.7 470.8h1M114.1 487.3h1M122.7 419.3h1M158.4 424.7h1M133.9 441.2h1M111.2 513.2h1M122.9 445.9h1M84.0 452.5h1M154.4 491.8h1M55.1 497.5h1M74.7 478.9h1M172.2 429.5h1M63.0 495.8h1M116.6 437.5h1M125.0 469.0h1M93.5 510.5h1M145.3 444.1h1M162.0 485.6h1M166.4 452.6h1M98.5 452.5h1M90.6 466.3h1M143.5 474.1h1M136.8 503.3h1M164.5 458.8h1M128.7 431.8h1M126.6 440.5h1M116.1 467.9h1M103.6 439.8h1M166.0 422.6h1M113.5 482.4h1M107.4 454.6h1M98.5 502.3h1M122.4 510.2h1M149.1 466.8h1M154.9 477.8h1M112.7 418.8h1M154.4 450.4h1M103.8 430.0h1M105.6 459.8h1M170.5 428.1h1M113.6 495.9h1M149.3 427.7h1M159.7 487.9h1M100.2 512.4h1M115.5 497.3h1M59.3 482.5h1M154.6 485.3h1M97.6 440.2h1M156.4 470.5h1M97.1 466.5h1M117.8 430.1h1M92.0 489.9h1M138.1 502.8h1M131.3 432.7h1M165.5 453.5h1M157.4 443.0h1M158.6 490.8h1M162.5 462.2h1M114.2 496.3h1M103.7 505.0h1M91.9 454.1h1M119.3 437.8h1M170.8 440.0h1M61.7 474.6h1M105.9 489.4h1M163.4 496.9h1M155.4 459.1h1M158.5 421.5h1M99.2 459.2h1M80.2 474.8h1M99.1 511.5h1M90.0 455.2h1M157.6 445.9h1M59.4 489.6h1M162.4 463.9h1M116.7 492.9h1M131.5 471.3h1M61.8 500.1h1M136.3 476.5h1M137.9 472.9h1M132.3 478.2h1M162.1 504.0h1M68.1 467.9h1M104.1 498.8h1M165.4 453.1h1M106.0 453.6h1M134.4 437.1h1M136.5 497.3h1M96.6 500.7h1M114.4 490.4h1M114.9 466.9h1M93.2 510.5h1M129.9 428.3h1M127.8 439.3h1M110.6 491.9h1M69.0 469.1h1M126.9 452.0h1M73.4 494.7h1M140.1 452.7h1M103.5 450.0h1M149.1 496.9h1M69.0 496.6h1M161.9 492.2h1" stroke="#fff" stroke-width="1" stroke-opacity="0.62" fill="none"/>
<path d="M173.0 438.6h1M172.7 439.8h1" stroke="#0099C6" stroke-width="1" stroke-opacity="0.8" fill="none"/>
<path d="M148.3 396.6h1M143.5 406.8h1M178.1 380.2h1M154.9 392.1h1M153.1 399.2h1M149.6 403.5h1M175.0 382.7h1M178.3 383.7h1M182.9 384.7h1M182.1 381.4h1M139.2 411.7h1M148.1 403.3h1M164.0 389.7h1M139.9 409.0h1M179.6 384.8h1M156.6 384.3h1M162.2 387.9h1M161.8 388.5h1M154.2 394.9h1M179.0 378.2h1M155.0 386.9h1M140.3 409.2h1M176.2 384.9h1M146.9 404.7h1M153.2 389.2h1M143.7 401.5h1M161.0 382.8h1M157.2 397.4h1M149.2 404.2h1M143.9 402.0h1M144.7 399.6h1M155.9 395.1h1M173.9 376.4h1M162.3 391.5h1M143.0 412.5h1M147.2 410.5h1M170.2 384.8h1M160.5 379.7h1M170.0 384.7h1M159.0 382.3h1M148.9 401.6h1M157.0 397.7h1M141.7 414.5h1M172.5 384.8h1M152.8 388.9h1M146.8 410.8h1M153.5 386.9h1M145.7 409.3h1M169.6 375.7h1M159.9 380.9h1M144.9 410.8h1M157.7 385.2h1M156.4 395.3h1M178.7 383.6h1M173.0 376.2h1M173.0 383.1h1M176.9 383.1h1M169.9 376.4h1M150.3 395.8h1M148.3 406.3h1M148.9 408.3h1M162.8 387.4h1M166.6 377.5h1M165.3 388.6h1M148.8 405.9h1M177.7 378.7h1M157.0 385.2h1M168.1 385.5h1M147.3 397.1h1M171.6 381.0h1M147.0 406.5h1M182.6 385.0h1M142.5 405.1h1M173.2 376.5h1M163.2 386.4h1M156.4 394.3h1M174.8 378.9h1M145.9 410.0h1M157.7 383.8h1M159.3 383.0h1M169.1 383.9h1M166.3 380.9h1M169.6 385.0h1M154.5 393.9h1M149.6 402.8h1M178.1 383.6h1M167.3 384.4h1M152.6 394.1h1M167.3 385.3h1M153.3 396.3h1M179.7 385.5h1M163.1 378.7h1M171.1 377.6h1M159.5 383.2h1M141.2 406.4h1M178.2 377.4h1M150.6 392.4h1M172.1 375.3h1M153.5 396.7h1M173.7 384.7h1M178.2 381.5h1M151.0 404.6h1M156.1 394.9h1M178.8 379.3h1M159.1 390.0h1M165.6 376.9h1M180.0 378.4h1M142.2 410.7h1M155.3 385.1h1M155.2 397.7h1M153.0 395.7h1M167.3 383.6h1M165.2 376.6h1M148.2 402.5h1M151.9 401.7h1M166.0 387.2h1M177.6 382.6h1M141.8 413.8h1M179.1 385.3h1M176.9 383.4h1M143.3 412.0h1M154.5 398.1h1M162.1 379.8h1M177.6 385.0h1" stroke="#fff" stroke-width="1" stroke-opacity="0.62" fill="none"/>
<path d="M205.2 389.9h1M194.8 382.2h1M192.2 386.9h1M193.5 386.1h1M202.4 392.0h1M202.2 388.4h1M208.2 390.7h1M201.3 391.3h1M182.9 379.5h1M193.5 385.7h1M187.7 384.0h1M188.4 381.7h1M197.3 389.6h1M200.3 384.0h1M202.3 392.8h1M195.5 385.0h1M205.5 398.3h1M200.3 384.0h1M202.6 393.2h1M199.0 386.3h1M196.3 388.0h1M192.7 381.7h1M190.6 382.8h1M201.9 386.7h1M207.4 388.0h1M194.8 383.3h1M190.7 383.1h1M209.9 399.1h1M202.6 387.0h1M197.5 390.4h1M188.5 385.7h1M194.2 385.2h1M198.2 384.7h1M200.5 387.9h1M194.1 383.8h1M208.5 389.9h1M199.3 384.9h1M188.2 383.5h1M208.7 400.3h1M192.3 385.0h1M197.5 383.5h1M194.5 387.4h1M200.8 386.2h1M209.7 401.1h1M201.0 384.5h1M208.6 389.4h1M200.6 388.8h1M203.8 391.4h1M204.6 398.1h1M196.3 382.8h1M198.2 390.6h1M207.0 390.1h1M205.5 388.2h1M201.8 387.8h1M207.2 401.6h1M210.8 398.2h1M185.5 384.2h1M192.4 382.2h1M195.4 383.8h1M186.1 385.2h1" stroke="#fff" stroke-width="1" stroke-opacity="0.62" fill="none"/>
<path d="M201.9 471.2h1M218.1 475.6h1M219.0 511.8h1M200.0 472.0h1M211.9 462.5h1M201.4 475.1h1M204.7 461.1h1M204.4 481.8h1M218.0 508.0h1M207.0 482.1h1M225.7 493.1h1M229.5 491.6h1M228.2 499.0h1M215.5 489.0h1M200.1 483.1h1M208.6 455.1h1M215.6 453.4h1M204.5 463.8h1M209.1 473.6h1M211.1 498.5h1M198.5 478.4h1M223.8 496.5h1M219.3 509.1h1M206.6 465.0h1M207.8 460.9h1M225.6 505.5h1M213.9 505.1h1M212.7 454.4h1M201.9 474.4h1M228.2 486.0h1M215.9 510.0h1M216.1 478.7h1M219.2 471.9h1M201.7 465.9h1M204.0 462.2h1M227.7 500.2h1M220.8 506.4h1M201.8 473.8h1M225.6 470.6h1M202.2 466.7h1M209.2 479.9h1M206.5 471.5h1M202.6 475.8h1M223.2 511.7h1M215.2 497.2h1M211.7 478.6h1M205.6 467.3h1M214.4 463.9h1M220.6 500.3h1M226.7 505.4h1M215.9 508.6h1M203.3 471.4h1M225.1 504.3h1M203.1 482.3h1M216.2 467.4h1M226.9 477.7h1M228.5 475.9h1M198.3 474.0h1M226.6 502.1h1M208.0 468.9h1M227.6 480.3h1M217.0 458.0h1M227.3 478.4h1M204.5 463.8h1M211.8 484.0h1M214.5 480.5h1M218.2 460.5h1M213.1 501.1h1M219.9 495.5h1M199.6 477.4h1M214.2 505.0h1M211.5 496.6h1M218.4 469.8h1M215.8 504.3h1M218.8 465.8h1M213.7 502.4h1M218.5 464.9h1M213.3 501.9h1M214.5 484.0h1M207.7 455.5h1M203.9 464.7h1M218.4 507.3h1M209.8 472.1h1M207.0 463.4h1M212.4 492.4h1M225.6 471.8h1M208.3 478.4h1M213.9 486.3h1M212.8 479.7h1M211.8 450.9h1M197.8 479.5h1M213.1 501.3h1M223.9 509.1h1M215.0 458.4h1M206.8 463.7h1M205.4 462.3h1M225.3 502.9h1M223.2 491.6h1M228.5 492.9h1M208.5 462.5h1M196.8 475.6h1M228.8 481.1h1M227.1 502.8h1M228.2 483.1h1M226.1 472.7h1M208.3 466.8h1M216.4 477.3h1M229.3 491.2h1M210.2 490.3h1M202.3 475.4h1M214.1 478.8h1M221.4 487.1h1M223.8 507.9h1M199.4 481.8h1M211.5 483.9h1M200.9 467.2h1M226.5 479.6h1M217.3 478.8h1M211.2 475.7h1M212.4 463.3h1M228.8 494.9h1M221.2 482.2h1M224.8 509.3h1M208.3 489.0h1M208.0 466.9h1M214.4 486.3h1M217.3 486.2h1M213.1 471.7h1M219.4 464.1h1M213.3 451.8h1M224.5 509.0h1M207.9 455.0h1M225.8 495.8h1M221.4 489.0h1M213.6 503.1h1M225.5 499.9h1M204.8 484.5h1M221.5 510.6h1M227.9 501.3h1M225.3 474.9h1M219.6 508.9h1M226.5 475.5h1M217.6 499.1h1M226.2 506.6h1M218.9 468.3h1M219.3 494.7h1M218.2 459.2h1M214.3 503.7h1M204.8 480.9h1M224.9 472.1h1M216.8 467.5h1M207.4 484.5h1M196.9 474.4h1M226.7 498.3h1M216.2 490.8h1M217.6 499.7h1M215.8 471.4h1" stroke="#fff" stroke-width="1" stroke-opacity="0.62" fill="none"/>
<path d="M196.8 482.8h1M205.9 493.5h1M197.6 486.1h1M203.4 492.4h1M203.7 489.5h1M200.6 486.5h1M200.6 486.3h1M196.6 482.1h1M203.0 487.5h1M205.7 490.0h1M196.6 486.1h1M201.0 485.3h1M205.9 494.4h1M198.6 484.9h1M199.2 487.3h1M207.2 494.0h1M199.3 486.2h1M198.4 486.2h1M202.7 487.4h1M206.7 495.1h1M194.6 478.1h1" stroke="#FF9900" stroke-width="1" stroke-opacity="0.8" fill="none"/>
<path d="M183.8 429.7h1M186.5 464.7h1M177.9 478.5h1M179.7 468.2h1M187.9 429.4h1M174.6 483.3h1M180.9 452.8h1M195.4 462.8h1M175.8 436.2h1M176.4 460.0h1M193.4 473.1h1M173.2 447.9h1M190.9 470.2h1M180.7 476.7h1M192.9 437.2h1M180.2 426.6h1M177.3 432.7h1M183.0 466.3h1M191.0 437.6h1M188.0 473.1h1M177.7 437.3h1M169.9 465.2h1M198.2 460.9h1M169.1 473.7h1M194.4 453.9h1M192.1 444.4h1M184.7 473.7h1M173.3 472.1h1M194.8 472.3h1M171.3 466.2h1M166.7 466.5h1M191.3 449.5h1M183.1 468.4h1M181.4 439.7h1M193.4 457.3h1M170.2 471.2h1M194.0 444.0h1M191.9 455.7h1M187.3 458.1h1M188.2 441.2h1M173.5 447.2h1M178.6 474.2h1M170.8 458.6h1M183.1 433.2h1M191.7 449.6h1M187.4 430.2h1M169.1 474.4h1M174.0 457.4h1M170.5 479.4h1M190.1 452.5h1M175.8 428.1h1M174.0 452.7h1M196.2 466.2h1M182.2 476.7h1M180.4 434.5h1M178.7 424.9h1M174.9 451.7h1M173.9 469.7h1M192.0 462.0h1M183.9 451.7h1M189.0 466.9h1M175.7 436.1h1M195.5 464.6h1M183.3 453.9h1M183.4 452.3h1M196.4 467.9h1M190.9 441.0h1M186.0 475.6h1M176.6 442.7h1M184.8 459.8h1M176.9 426.3h1M182.0 473.1h1M170.5 460.2h1M188.8 449.6h1M177.4 473.1h1M177.9 431.8h1M194.4 461.8h1M169.3 448.8h1M172.5 484.9h1M196.2 465.7h1M173.9 440.7h1M172.2 475.4h1M194.0 463.4h1M194.0 453.0h1M190.1 434.3h1M166.4 463.8h1M174.9 445.7h1M168.8 477.4h1M186.2 471.1h1M174.9 450.4h1M188.6 433.1h1M177.8 472.6h1M179.8 428.0h1M171.1 454.0h1M177.3 459.2h1M171.4 479.7h1M177.6 449.4h1M191.8 465.2h1M178.5 434.3h1M172.3 481.2h1M181.3 437.4h1M195.4 446.1h1M178.9 455.9h1M171.5 448.0h1M178.8 437.6h1M182.2 474.1h1M170.8 478.5h1M170.4 477.1h1M176.2 435.3h1M190.5 446.8h1M167.9 473.1h1M176.3 440.0h1M177.6 434.2h1M193.1 450.5h1M179.6 439.9h1M179.9 434.9h1M195.5 470.6h1M173.1 449.8h1M173.6 438.6h1M181.7 464.1h1M187.0 430.8h1M167.2 471.0h1M172.5 475.6h1M194.8 456.4h1M170.2 452.0h1M189.9 446.6h1M174.8 430.1h1M177.1 478.5h1M180.3 458.2h1M173.9 480.3h1M176.3 435.7h1M167.5 469.4h1M192.8 454.4h1M181.6 426.9h1M196.8 468.6h1M196.4 461.1h1M183.4 464.8h1M194.1 448.9h1M167.2 471.7h1M184.7 458.0h1M170.0 475.5h1M191.5 448.0h1M179.7 428.5h1M170.4 469.7h1M183.6 475.4h1M189.2 469.8h1M173.9 433.5h1M174.4 460.7h1M178.6 435.9h1M189.8 462.3h1M189.2 466.8h1M188.4 451.6h1M173.6 482.2h1M192.1 450.6h1M172.8 442.4h1M195.2 445.4h1M177.8 460.1h1M179.8 460.8h1M170.0 456.9h1M172.2 473.8h1M171.0 454.7h1M167.7 456.4h1M195.3 455.0h1M167.5 460.9h1M183.1 426.9h1M175.7 472.9h1M188.9 474.3h1M188.3 474.4h1M170.8 477.6h1M174.3 460.4h1M174.2 442.7h1M172.3 443.0h1M193.6 443.8h1M192.2 435.0h1M167.2 465.4h1M197.6 465.9h1M175.0 478.8h1M169.1 450.5h1M175.5 447.8h1M172.1 467.1h1M176.4 433.0h1M190.5 469.6h1M168.9 470.8h1M171.7 483.3h1M174.2 463.1h1M184.8 442.2h1M167.6 454.5h1M171.3 463.7h1M179.1 432.8h1M173.5 462.8h1M185.1 428.7h1M182.6 429.6h1M194.9 455.7h1M169.0 471.8h1M171.9 477.5h1M187.7 444.2h1M185.9 463.9h1M193.8 451.6h1M175.9 444.6h1M197.3 465.8h1M194.1 472.4h1M189.2 471.1h1M184.9 459.1h1M173.3 467.5h1M190.1 435.4h1M181.8 472.5h1M171.2 446.2h1M191.5 451.7h1M191.7 441.5h1M194.6 457.3h1M197.0 468.9h1M194.3 465.4h1M181.8 439.7h1M174.2 458.5h1M192.4 466.5h1M195.2 443.7h1M190.0 473.5h1M173.0 457.2h1M175.9 467.2h1M194.7 442.5h1M174.8 454.5h1M188.9 471.9h1M178.1 443.6h1M195.9 449.0h1M194.9 455.2h1M180.1 446.7h1M178.9 443.8h1M189.9 442.1h1M173.6 464.6h1M188.2 466.1h1M173.0 479.1h1M180.3 425.2h1M189.4 470.2h1M166.5 461.2h1M183.4 477.5h1M186.3 452.3h1M166.2 468.8h1M181.8 429.8h1M175.2 446.3h1M194.7 466.8h1M168.8 467.3h1M192.2 444.5h1M182.4 426.3h1M192.7 469.8h1M189.6 449.9h1M181.2 458.3h1M170.4 447.5h1M188.4 468.2h1" stroke="#fff" stroke-width="1" stroke-opacity="0.62" fill="none"/>
<path d="M173.1 438.3h1M170.4 445.7h1" stroke="#990099" stroke-width="1" stroke-opacity="0.8" fill="none"/>
<path d="M183.9 478.0h1M179.6 483.3h1M173.7 486.8h1M175.7 488.4h1M176.6 488.6h1M179.0 482.2h1M179.3 486.3h1M174.5 487.2h1M179.6 486.3h1M176.5 488.5h1M181.3 483.2h1M177.1 485.6h1M182.1 481.6h1M179.2 485.1h1M176.1 486.6h1M177.7 488.9h1M181.2 483.3h1" stroke="#FF9900" stroke-width="1" stroke-opacity="0.8" fill="none"/>
<path d="M171.0 417.8h1M171.7 424.5h1M166.4 422.2h1M169.4 420.5h1M172.7 422.8h1M167.9 415.1h1M179.2 420.1h1M178.5 417.5h1M166.2 421.5h1M174.6 414.5h1M170.4 423.0h1M170.8 423.8h1M169.0 419.4h1M178.4 423.5h1M177.7 423.5h1M178.0 417.2h1M168.8 422.0h1M165.1 418.9h1M170.9 421.4h1M177.1 421.9h1M176.0 415.1h1M168.4 417.6h1M177.5 416.6h1M174.5 415.5h1M177.9 418.8h1M176.0 419.6h1M167.0 417.9h1M177.4 416.1h1M175.5 424.2h1M168.7 414.5h1M169.4 415.6h1M169.9 416.3h1M173.3 419.2h1M177.4 419.9h1M171.9 417.2h1" stroke="#fff" stroke-width="1" stroke-opacity="0.62" fill="none"/>
<path d="M171.1 497.9h1M202.1 497.4h1M209.0 503.6h1M208.8 508.1h1M171.8 486.2h1M205.9 496.8h1M168.3 498.9h1M170.5 492.5h1M207.7 506.9h1M203.5 506.6h1M172.5 486.8h1M170.4 494.4h1M187.3 483.2h1M200.2 496.7h1M176.0 493.6h1M184.0 481.4h1M188.4 509.4h1M169.4 500.7h1M204.7 506.7h1M172.9 488.2h1M182.7 505.3h1M204.6 506.0h1M170.7 486.8h1M179.0 502.1h1M184.9 480.0h1M186.7 494.2h1M187.0 509.6h1M168.0 496.0h1M210.5 499.2h1M168.7 490.3h1M177.5 507.7h1M189.8 511.9h1M205.9 501.8h1M184.3 499.2h1M193.1 487.6h1M185.4 487.7h1M177.9 495.4h1M184.1 507.2h1M193.5 500.9h1M208.5 508.4h1M198.4 504.4h1M174.0 499.7h1M172.4 487.4h1M192.8 507.3h1M195.3 487.8h1M183.9 499.3h1M187.6 492.3h1M189.2 475.0h1M196.1 506.1h1M194.2 495.2h1M207.4 497.0h1M186.9 508.8h1M192.2 478.5h1M169.3 493.4h1M196.5 488.4h1M183.9 498.0h1M188.2 481.3h1M201.8 498.8h1M188.1 491.8h1M208.6 502.0h1M173.2 487.3h1M176.5 491.0h1M188.7 489.0h1M191.0 475.5h1M195.6 488.3h1M175.7 501.7h1M169.4 499.1h1M210.7 499.7h1M179.0 503.2h1M195.9 498.1h1M184.5 483.1h1M173.1 504.7h1M187.4 477.5h1M184.7 507.9h1M191.5 490.7h1M167.2 494.4h1M173.8 488.4h1M191.0 474.9h1M207.8 500.0h1M168.5 499.3h1M173.2 499.9h1M182.7 484.4h1M180.3 507.6h1M211.6 502.4h1M194.9 510.1h1M180.8 489.2h1M187.0 477.5h1M187.9 505.9h1M183.7 510.4h1M198.4 493.0h1M198.9 495.2h1M209.8 501.3h1M185.9 478.3h1M167.8 498.2h1M176.3 499.6h1M187.3 511.6h1M193.5 508.6h1M175.6 506.7h1M185.8 477.4h1M197.5 498.1h1M202.9 493.4h1M174.0 504.7h1M190.9 492.2h1M169.6 492.6h1M186.9 476.1h1M193.2 476.9h1M199.0 490.7h1M167.7 494.9h1M192.1 476.6h1M190.0 509.6h1M195.4 501.0h1M187.6 483.2h1M186.4 476.6h1M172.5 496.4h1M179.6 489.8h1M197.7 489.1h1M204.9 503.5h1M185.3 478.3h1M206.8 504.6h1M171.7 489.4h1M183.3 508.8h1M196.0 509.8h1M208.0 497.3h1M169.1 499.2h1M190.3 507.7h1M201.0 509.7h1M179.1 488.1h1M189.4 476.0h1M194.0 495.4h1M176.8 500.2h1M200.9 493.2h1M204.6 501.0h1M182.0 488.7h1M177.1 489.8h1M198.7 510.1h1M204.0 510.4h1M195.8 495.0h1M170.8 492.0h1M200.7 491.3h1M171.6 501.4h1M192.9 480.7h1M180.9 499.3h1M204.1 506.0h1M176.9 503.4h1M190.2 511.5h1M173.8 495.2h1M199.0 495.8h1M201.0 490.8h1M210.4 501.3h1" stroke="#fff" stroke-width="1" stroke-opacity="0.62" fill="none"/>
<path d="M199.9 487.7h1M203.4 487.4h1M205.2 489.5h1M200.5 485.5h1M207.1 493.5h1M203.2 489.3h1M206.3 491.0h1M198.3 483.2h1M206.7 493.9h1M198.0 487.3h1M206.6 494.3h1M210.9 499.1h1M205.8 494.2h1M199.9 486.9h1M203.1 488.0h1M204.1 490.2h1M208.5 495.6h1M195.1 480.1h1M204.1 487.6h1M209.1 495.5h1" stroke="#66AA00" stroke-width="1" stroke-opacity="0.8" fill="none"/>
<path d="M176.4 483.9h1M177.6 484.6h1M176.3 484.5h1M175.4 484.4h1M181.1 481.9h1M174.8 486.4h1M182.0 479.3h1" stroke="#0099C6" stroke-width="1" stroke-opacity="0.8" fill="none"/>
<path d="M192.8 510.8h1M194.3 510.6h1M191.2 511.3h1" stroke="#DD4477" stroke-width="1" stroke-opacity="0.8" fill="none"/>
<path d="M198.0 533.7h1M202.4 516.2h1M208.9 512.9h1M200.7 540.2h1M222.5 536.4h1M220.5 528.0h1M200.4 541.0h1M215.0 542.0h1M194.6 518.7h1M211.2 515.4h1M218.8 529.3h1M203.9 547.6h1M204.1 545.3h1M192.3 514.8h1M221.1 520.1h1M197.9 533.3h1M219.0 538.1h1M198.1 531.0h1M202.2 523.7h1M222.3 536.9h1M214.9 538.6h1M219.0 531.6h1M203.4 511.4h1M212.2 523.1h1M202.7 538.5h1M223.7 519.5h1M214.0 538.8h1M209.0 513.5h1M211.8 549.4h1M205.5 516.4h1M208.1 550.3h1M204.3 519.0h1M194.9 517.2h1M213.1 535.3h1M210.5 528.0h1M211.1 549.9h1M194.4 514.4h1M212.3 524.9h1M204.9 548.6h1M216.4 538.1h1M212.1 546.6h1M224.1 534.5h1M202.8 539.2h1M210.1 551.7h1M200.6 541.1h1M195.2 519.5h1M196.6 512.5h1M199.5 539.9h1M211.0 518.3h1M209.9 543.5h1M204.4 539.8h1M224.4 527.0h1M217.2 541.8h1M213.4 534.7h1M218.9 539.1h1M205.5 542.8h1M210.2 553.0h1M204.9 536.3h1M225.3 530.6h1M197.3 533.8h1M208.5 511.6h1M206.1 537.3h1M203.8 542.1h1M219.3 528.9h1M219.4 515.9h1M223.6 534.2h1M206.7 551.8h1M208.3 547.4h1M211.8 545.8h1M207.6 526.4h1M202.8 547.8h1M211.6 513.2h1M209.3 550.6h1M223.6 522.2h1M197.2 532.4h1M206.5 536.4h1M225.1 532.1h1M223.0 529.0h1M224.0 534.8h1M198.3 537.3h1M215.7 527.3h1M219.2 525.7h1M197.3 521.3h1M198.3 529.8h1M207.9 537.5h1M212.6 513.2h1M223.5 520.6h1M203.0 534.6h1M202.1 542.5h1M199.1 513.6h1M215.3 546.2h1M206.2 511.9h1M208.7 554.4h1M218.8 535.2h1M211.0 549.5h1M206.5 515.8h1M200.1 541.0h1M219.1 539.7h1M213.6 547.9h1M220.5 538.2h1M218.2 541.4h1M192.6 517.8h1M224.9 524.0h1M196.9 531.4h1M192.0 516.4h1M207.9 516.9h1M222.5 523.5h1M220.9 530.3h1M192.0 514.8h1M205.1 523.6h1M220.8 531.5h1M199.3 538.7h1M197.0 511.3h1M210.7 531.5h1M204.8 551.0h1M225.4 524.8h1M210.3 514.2h1M212.7 528.5h1M216.8 535.9h1M194.6 524.6h1M202.3 538.4h1M222.9 520.6h1M225.2 530.6h1M204.3 547.9h1M224.4 522.6h1M204.4 515.4h1M205.8 547.0h1M199.5 539.7h1M195.5 515.2h1M224.3 524.2h1M212.9 526.5h1M201.9 544.3h1M206.0 550.6h1M196.7 518.0h1M197.9 520.4h1M223.3 527.9h1M201.7 535.7h1M211.7 548.3h1M216.7 523.6h1M213.2 540.4h1" stroke="#fff" stroke-width="1" stroke-opacity="0.62" fill="none"/>
<path d="M242.8 386.2h1M245.3 400.2h1M242.1 390.8h1M246.1 400.7h1M236.3 399.2h1M245.0 396.4h1M245.2 398.5h1M241.0 390.0h1M244.7 388.9h1M240.0 396.9h1M246.8 391.7h1M244.7 401.6h1M242.8 396.7h1M236.1 397.0h1M241.2 387.8h1M243.7 402.4h1M242.4 389.7h1M241.3 388.1h1M239.5 401.1h1M246.7 397.8h1M238.3 396.2h1M246.4 402.1h1M236.3 396.4h1M243.7 386.0h1" stroke="#fff" stroke-width="1" stroke-opacity="0.62" fill="none"/>
<path d="M208.0 498.0h1M209.6 497.2h1M212.1 507.3h1M200.7 510.7h1M198.1 489.4h1M199.7 491.9h1M206.9 493.6h1M207.5 502.0h1M204.7 506.2h1M217.2 505.8h1M210.1 501.0h1M200.9 484.0h1M202.9 496.4h1M199.8 497.1h1M199.0 498.2h1M200.9 486.9h1M204.2 502.8h1M193.6 481.9h1M199.4 492.4h1M208.8 501.6h1M190.3 494.8h1M206.9 493.2h1" stroke="#66AA00" stroke-width="1" fill="none"/>
<path d="M201.1 395.3h1M204.8 383.3h1M183.9 377.3h1M207.8 386.6h1M180.0 380.9h1M210.9 401.3h1M205.9 385.0h1M196.4 391.0h1M211.8 398.3h1M199.8 383.6h1M211.6 400.0h1M205.2 385.0h1M211.1 399.4h1M192.7 389.1h1M190.5 380.8h1M207.1 401.8h1M201.0 393.0h1M193.5 381.6h1M191.6 388.2h1M189.9 387.6h1M204.4 384.8h1M209.0 388.2h1M182.9 382.9h1M195.4 382.3h1" stroke="#3366CC" stroke-width="1" fill="none"/>
<path d="M237.7 457.8h1M235.9 456.8h1M241.4 449.0h1M240.4 447.0h1M235.3 456.6h1M238.2 449.6h1M239.2 456.3h1M238.6 456.4h1M242.1 449.5h1M239.2 455.7h1M238.9 455.7h1M238.1 456.5h1M239.6 453.8h1M241.5 448.8h1M243.6 446.4h1M237.0 453.3h1M240.5 453.0h1M236.9 454.9h1" stroke="#316395" stroke-width="1" fill="none"/>
<path d="M163.6 406.8h1M145.1 416.9h1M147.3 418.1h1M166.4 401.0h1M153.5 406.8h1M175.8 410.7h1M175.6 404.0h1M187.3 420.9h1M162.3 398.3h1M175.7 397.2h1M165.8 404.6h1M154.3 405.7h1M180.6 398.2h1M166.4 415.0h1M157.2 408.9h1M147.3 410.2h1M159.3 404.0h1M157.9 413.5h1M166.7 399.3h1M192.8 394.5h1M148.8 417.1h1" stroke="#109618" stroke-width="1" fill="none"/>
<path d="M206.2 424.3h1M211.8 443.3h1M214.3 449.9h1M210.2 433.5h1M205.7 419.6h1M217.7 461.3h1M213.7 442.8h1M211.5 438.8h1M218.2 462.2h1M214.0 440.0h1M215.6 452.4h1M213.3 446.8h1M215.2 454.1h1M212.0 436.3h1M207.9 423.4h1M208.0 426.7h1M220.3 463.6h1M215.6 449.3h1M204.7 414.4h1M214.9 442.2h1M217.2 457.7h1M216.8 452.9h1M209.6 437.1h1M218.3 454.7h1M207.2 428.9h1M207.0 421.9h1M214.0 451.0h1M216.6 445.2h1M212.5 444.6h1M205.4 415.7h1M204.7 416.8h1M212.3 438.4h1M203.9 414.9h1M207.4 427.2h1M215.1 449.1h1M218.4 456.9h1M210.7 436.8h1M217.3 457.2h1M215.1 450.9h1M208.6 424.2h1M204.9 418.2h1M208.5 431.1h1M215.2 448.0h1M207.2 432.7h1M207.2 424.2h1M211.7 443.4h1M216.1 451.8h1M218.6 458.3h1M206.4 419.8h1M203.5 415.6h1M205.1 418.9h1M210.7 432.2h1M214.7 445.8h1M212.8 446.9h1M210.7 443.9h1M211.5 443.1h1M209.7 437.2h1M215.1 453.6h1M208.0 432.1h1" stroke="#66AA00" stroke-width="1" fill="none"/>
<path d="M232.0 488.3h1M214.5 510.6h1M216.6 452.7h1M197.5 468.2h1M215.0 449.7h1M220.2 463.0h1M201.1 465.8h1M228.1 507.1h1M213.8 450.9h1M222.6 462.8h1M201.7 463.4h1M214.6 511.0h1M208.1 451.8h1M194.5 477.1h1M218.0 514.0h1M228.8 502.3h1M229.0 499.0h1M221.6 513.0h1M195.3 473.1h1M215.6 512.9h1M215.0 451.4h1M229.5 481.9h1M228.9 498.2h1M219.4 460.5h1M201.1 493.0h1M196.3 491.1h1M199.0 464.6h1M215.0 450.8h1M218.0 452.9h1M226.7 508.4h1M229.2 476.0h1M221.0 462.5h1M217.4 513.5h1M213.7 513.0h1M231.4 497.7h1M195.9 475.2h1M201.8 459.5h1M222.4 455.0h1M194.5 488.8h1M217.6 455.6h1M221.4 457.4h1M196.5 474.3h1M230.5 484.5h1M206.7 495.2h1M228.2 501.3h1M224.4 514.1h1M193.8 482.0h1M227.3 467.1h1M231.6 482.7h1M223.2 512.1h1M222.2 463.3h1M207.7 498.1h1M227.9 471.4h1M216.5 513.5h1M218.9 457.7h1M229.0 476.7h1M231.2 476.7h1M230.1 479.7h1M226.9 507.6h1M226.1 509.9h1M196.6 486.4h1M215.2 515.8h1M208.6 496.8h1M211.2 449.9h1M202.2 492.0h1M213.3 507.9h1M219.3 514.7h1M204.8 457.8h1" stroke="#66AA00" stroke-width="1" fill="none"/>
<path d="M193.8 527.9h1M204.2 552.0h1M197.7 544.0h1M207.9 511.3h1M220.4 546.3h1M195.8 510.6h1M220.3 540.4h1M210.6 508.9h1M194.5 530.6h1M194.0 530.8h1M218.1 548.7h1M201.6 547.2h1M208.1 510.8h1M219.6 515.5h1M198.0 537.0h1M217.3 545.7h1M200.9 544.2h1M202.4 550.0h1M214.9 548.8h1M213.5 551.8h1M198.2 510.3h1M193.0 524.1h1M186.9 510.1h1M213.6 549.4h1M202.2 548.0h1M189.1 516.3h1M223.3 536.4h1M198.6 542.6h1M203.2 550.4h1M191.0 505.6h1M191.8 530.4h1M221.0 516.4h1M191.8 518.0h1M193.1 507.6h1M191.1 516.5h1M197.2 535.4h1M205.8 509.1h1M192.5 521.8h1M199.3 543.4h1M224.6 520.8h1M204.5 511.1h1M195.6 509.9h1M203.1 549.2h1M211.9 551.7h1M213.3 551.9h1M211.5 510.1h1M227.7 529.4h1M223.6 537.7h1M217.8 549.9h1M198.3 541.8h1M218.6 514.4h1M202.6 548.3h1M220.9 539.3h1M191.4 516.0h1M193.0 526.5h1M225.7 532.4h1M198.9 539.7h1M216.3 511.9h1M222.3 555.8h1M224.2 536.4h1" stroke="#DD4477" stroke-width="1" fill="none"/>
<path d="M158.3 460.8h1M197.0 440.1h1M187.8 477.7h1M193.2 435.5h1M163.8 468.1h1M171.0 433.8h1M169.4 444.6h1M195.9 439.3h1M194.5 431.9h1M168.9 480.3h1M183.5 425.2h1M173.4 486.8h1M189.8 477.6h1M179.3 422.9h1M197.3 470.9h1M199.4 460.1h1M178.1 423.7h1M184.7 426.1h1M201.1 443.0h1M177.2 490.5h1M166.0 457.7h1M180.6 424.9h1M172.4 487.3h1M165.0 460.2h1M174.2 427.7h1M161.4 434.9h1M164.3 455.2h1M195.7 439.0h1M166.2 470.4h1M166.1 443.3h1M169.3 480.8h1M198.4 459.6h1M195.2 441.1h1M159.6 459.1h1M165.4 468.7h1M173.2 425.2h1M170.5 443.9h1M169.4 434.3h1M170.4 430.4h1M180.0 424.4h1M171.9 436.5h1M163.8 458.6h1M180.7 488.5h1M179.8 488.5h1M199.4 466.4h1M172.1 431.7h1M199.1 466.3h1M174.8 426.4h1M195.2 438.6h1M177.8 424.4h1M182.7 424.6h1M175.5 426.1h1M163.1 447.1h1M185.3 424.9h1M196.1 473.4h1M164.3 458.4h1M168.0 449.9h1M160.5 460.6h1M193.6 427.9h1M175.5 426.4h1M168.2 485.6h1M166.0 475.6h1M183.1 481.9h1M167.3 449.4h1M199.2 462.5h1M183.7 481.4h1M185.0 426.7h1M197.6 474.5h1M169.3 436.7h1M197.3 472.7h1M180.2 421.4h1M164.3 462.9h1M165.5 478.4h1M190.6 430.9h1M166.9 454.7h1M169.2 444.4h1M165.6 451.7h1M197.5 454.8h1M199.7 439.9h1M195.4 440.1h1M169.7 441.4h1M170.4 437.4h1M168.6 481.7h1M165.8 476.7h1M197.0 448.5h1M182.5 485.9h1M172.5 485.5h1M175.4 424.6h1M169.4 439.9h1M191.9 474.0h1M196.6 448.4h1M197.2 449.6h1M199.8 460.1h1M181.5 424.1h1M195.4 436.1h1M170.2 442.1h1M183.8 480.5h1M182.4 425.2h1M199.3 455.6h1M197.3 471.1h1M186.8 424.2h1M191.6 474.4h1M162.6 466.9h1M166.4 448.6h1M170.2 482.3h1" stroke="#0099C6" stroke-width="1" fill="none"/>
<path d="M77.5 453.5h1M168.2 420.7h1M90.2 439.2h1M172.0 443.0h1M165.6 457.6h1M72.6 504.8h1M126.8 423.8h1M100.3 516.3h1M165.2 482.5h1M103.2 427.8h1M74.1 460.4h1M149.2 422.4h1M164.6 471.7h1M74.3 505.1h1M167.1 499.8h1M161.5 416.2h1M173.8 449.6h1M155.7 509.7h1M73.7 457.0h1M166.6 420.2h1M128.7 508.9h1M163.8 471.3h1M119.1 513.4h1M100.3 516.3h1M130.0 507.7h1M164.4 480.4h1M169.8 417.5h1M109.8 516.7h1M70.8 504.4h1M170.6 447.8h1M153.5 506.5h1M132.6 427.7h1M150.5 419.0h1M110.5 419.2h1M131.8 427.1h1M73.4 504.6h1M99.5 514.1h1M100.4 516.2h1M158.5 513.6h1M54.7 478.0h1M165.5 460.8h1M130.3 426.9h1M85.9 446.3h1M153.2 421.1h1M73.6 504.7h1M124.1 415.8h1M165.9 503.6h1M52.3 498.4h1M56.1 478.3h1M85.4 511.2h1M102.9 517.1h1M84.5 447.6h1M165.3 499.4h1M144.0 424.0h1M92.9 511.6h1M170.0 448.5h1M47.7 483.9h1M167.4 493.1h1M164.6 462.9h1M56.2 478.5h1M80.5 507.0h1M48.9 484.7h1M166.9 453.7h1M105.1 516.0h1M163.0 421.0h1M161.1 418.7h1M158.5 420.1h1M165.9 462.1h1M77.3 456.0h1M161.2 513.5h1M99.1 515.5h1M61.4 474.0h1M163.9 479.2h1M168.7 497.3h1M133.3 505.8h1M125.4 511.1h1M77.2 453.4h1M77.0 506.6h1M48.3 488.1h1M79.9 452.9h1M142.1 501.5h1M163.5 474.3h1M131.4 425.5h1M151.5 504.6h1M60.1 475.5h1M169.3 422.7h1M173.5 438.2h1M160.7 419.6h1M166.3 492.3h1M64.1 471.9h1M153.5 420.4h1M68.4 467.2h1M166.0 485.7h1M90.8 440.7h1M111.2 518.6h1M76.6 505.7h1M158.5 420.3h1M48.2 488.7h1M138.3 426.5h1M167.2 463.1h1M158.7 419.8h1M71.2 464.0h1M99.5 514.2h1M159.0 512.7h1M80.2 507.4h1M65.0 502.1h1M132.6 428.4h1M99.4 432.3h1M57.3 477.6h1M139.7 502.9h1M165.3 475.5h1M90.0 510.6h1M172.8 441.5h1M164.5 504.0h1M170.0 449.1h1M109.1 420.0h1M164.8 460.5h1M90.0 439.8h1M48.7 494.0h1M68.0 467.3h1M133.9 506.6h1M165.4 514.2h1M132.8 427.3h1M163.3 472.4h1" stroke="#990099" stroke-width="1" fill="none"/>
<path d="M239.1 438.0h1" stroke="#316395" stroke-width="1" fill="none"/>
<path d="M163.4 409.1h1M183.5 423.3h1M160.7 421.3h1M173.0 412.5h1M176.4 425.4h1M170.7 424.9h1M163.5 421.2h1M168.9 425.4h1M169.4 414.0h1M175.6 411.7h1M180.9 418.9h1M181.0 420.4h1M169.5 411.0h1M167.2 423.8h1M166.5 414.2h1M164.1 419.5h1M179.7 422.6h1M175.3 413.8h1M172.2 425.6h1M175.5 413.6h1M173.6 425.4h1M178.6 408.3h1M173.5 425.2h1" stroke="#0099C6" stroke-width="1" fill="none"/>
<path d="M212.2 504.8h1M179.7 479.6h1M164.7 487.5h1M189.9 512.1h1M165.5 502.6h1M194.2 476.5h1M197.1 512.2h1M211.6 502.2h1M194.4 512.1h1M167.9 485.4h1M206.4 488.8h1M176.9 509.0h1M200.2 483.3h1M199.0 480.8h1M211.3 496.8h1M184.3 512.4h1M181.7 511.5h1M204.8 512.4h1M166.5 495.2h1M172.9 485.0h1M202.1 482.6h1M180.3 479.3h1M202.0 482.1h1M205.6 487.4h1M197.3 512.7h1M212.4 503.7h1M176.8 513.2h1M209.6 494.2h1M188.4 471.4h1M211.2 509.6h1M169.4 501.9h1M189.1 515.7h1M162.4 490.7h1M195.7 511.7h1M201.4 484.4h1M175.7 514.0h1M209.2 493.0h1M173.1 505.9h1M218.4 494.7h1M178.4 510.5h1M195.0 475.9h1M196.5 477.5h1M187.8 468.8h1M209.2 494.1h1M174.0 474.4h1M188.7 472.8h1M173.7 484.3h1M209.5 489.0h1M180.2 511.5h1M176.7 509.1h1M205.9 510.4h1M217.7 500.9h1M168.3 502.6h1M189.5 472.5h1M199.9 513.0h1M216.1 492.4h1M199.5 480.7h1M197.1 478.8h1M188.7 512.2h1M201.4 482.5h1M201.3 514.2h1M187.5 513.0h1M173.1 483.4h1M167.6 498.3h1M205.2 511.4h1M190.2 472.0h1M181.5 510.7h1M208.5 511.5h1M186.7 475.0h1M173.0 506.1h1M178.0 481.2h1M189.5 474.5h1M196.2 478.6h1M167.8 499.6h1M194.2 511.5h1M198.5 479.9h1" stroke="#FF9900" stroke-width="1" fill="none"/>
<path d="M187.4 479.9h1M169.3 425.3h1M167.1 449.7h1M171.1 441.5h1M171.3 442.2h1M170.1 491.9h1M196.1 440.3h1M197.3 451.7h1M178.2 489.4h1M170.2 424.4h1M178.2 489.1h1M203.5 463.7h1M199.6 448.6h1M184.7 481.7h1M189.9 425.4h1M165.0 482.1h1M184.8 490.1h1M165.8 459.2h1M184.4 426.6h1M172.8 434.5h1M197.3 470.9h1M180.0 487.0h1M163.3 466.5h1M166.8 453.4h1M180.1 486.3h1M164.4 459.2h1M193.4 431.7h1M164.9 460.2h1M198.5 471.6h1M189.5 481.0h1M169.9 432.9h1M200.9 449.2h1M194.3 438.8h1M168.2 442.3h1M185.7 477.0h1M165.3 451.3h1M197.4 440.6h1M178.7 424.2h1M164.3 473.3h1M197.2 448.9h1M183.3 486.0h1M165.2 446.1h1M174.0 490.2h1M156.9 446.0h1M166.5 451.9h1M172.7 434.6h1M167.2 477.5h1M170.3 442.3h1M163.1 453.5h1M195.3 442.4h1M199.7 459.8h1M197.7 452.7h1M195.5 443.6h1M194.8 435.4h1M182.9 482.0h1M169.8 480.9h1M164.5 463.4h1M200.8 460.5h1M169.4 444.3h1M205.9 476.8h1M179.2 488.2h1M194.4 436.2h1M173.5 432.3h1M159.1 473.5h1M190.1 427.6h1M165.8 457.2h1M178.9 423.0h1M198.0 456.7h1M166.6 474.2h1M174.9 488.9h1M205.0 471.1h1M164.4 478.3h1M186.2 426.2h1M203.6 452.2h1M167.9 477.1h1M172.0 437.0h1M165.5 493.7h1M164.1 462.5h1M186.7 424.8h1M196.4 446.2h1M165.8 467.6h1M173.6 488.9h1M170.2 435.7h1M168.7 488.9h1M190.7 475.2h1M195.0 435.5h1M199.6 464.4h1M171.1 485.7h1M169.2 487.3h1M201.2 443.8h1M163.1 468.0h1M167.4 452.0h1M171.2 441.8h1M179.3 423.9h1M177.2 423.2h1M175.7 491.6h1M184.3 478.7h1M163.0 461.4h1M197.5 471.4h1M182.0 492.1h1M203.2 463.5h1M198.6 455.2h1M169.4 428.8h1M168.0 449.7h1M177.6 490.0h1M180.9 487.4h1" stroke="#0099C6" stroke-width="1" fill="none"/>
<path d="M170.3 431.8h1M182.5 440.3h1M183.4 451.2h1M165.4 439.4h1M171.3 428.5h1M175.3 473.3h1M182.6 450.1h1M176.7 442.7h1M164.5 443.0h1M171.6 473.6h1M180.0 453.7h1M162.8 449.2h1M178.1 461.4h1M172.2 439.3h1M166.3 433.3h1M180.7 458.3h1M181.4 438.6h1M168.7 463.0h1M177.9 450.1h1M165.4 435.9h1M175.4 423.3h1M170.4 454.2h1M173.6 442.5h1M185.4 455.1h1M177.1 473.9h1M156.7 475.3h1M178.2 459.6h1M166.7 444.8h1M166.1 444.8h1M159.7 441.0h1M168.5 470.0h1M179.3 437.2h1M179.5 443.1h1M165.3 468.3h1M175.8 475.4h1M166.7 479.1h1M165.8 471.3h1M167.9 467.7h1M177.0 472.0h1M171.2 439.0h1M188.9 447.6h1M172.7 466.4h1M178.0 437.2h1M160.7 430.8h1M175.6 450.8h1M180.3 443.2h1M164.2 470.7h1M174.1 470.9h1M179.1 471.9h1M178.6 474.2h1M171.4 426.8h1M168.2 439.3h1M163.5 474.9h1M181.0 457.2h1M184.2 451.6h1M180.5 455.8h1M167.5 455.4h1M175.0 462.9h1M174.6 439.1h1M177.7 443.0h1M166.7 476.0h1M180.3 454.5h1M170.8 437.1h1M177.1 460.0h1M186.3 460.6h1M179.2 450.5h1M181.1 434.2h1M181.6 439.0h1M163.9 467.8h1M169.1 455.6h1" stroke="#990099" stroke-width="1" fill="none"/>
<path d="M187.2 411.1h1M194.2 427.0h1M183.2 419.5h1M187.2 397.8h1M188.2 393.7h1M177.6 411.9h1M196.3 426.8h1M190.3 399.6h1M174.0 395.3h1M185.8 396.3h1M187.4 395.2h1M183.2 434.1h1M189.1 409.3h1M201.7 418.1h1M167.7 402.7h1M194.7 419.4h1M176.3 395.0h1M168.9 403.6h1M186.1 400.2h1M201.4 405.8h1M196.6 404.7h1M198.6 399.7h1M185.5 401.9h1M194.5 400.4h1M195.5 407.9h1M171.0 406.5h1M186.2 407.7h1M172.0 407.4h1M188.4 403.2h1M188.0 397.1h1M171.9 410.7h1M195.6 403.0h1M196.1 435.8h1M198.5 423.3h1M173.3 411.8h1M183.0 422.2h1M190.2 418.2h1M177.4 407.3h1" stroke="#0099C6" stroke-width="1" fill="none"/>
<path d="M170.8 433.0h1M168.8 437.8h1M167.3 446.1h1M195.4 436.7h1M166.0 473.8h1M174.3 422.4h1M189.6 429.2h1M186.5 477.9h1M195.6 440.4h1M199.3 466.4h1M168.0 482.2h1M170.4 441.2h1M169.4 486.5h1M191.0 427.2h1M195.5 434.7h1M184.8 479.2h1M197.5 452.9h1M198.5 470.7h1M172.9 486.8h1M184.5 482.0h1M172.1 489.1h1M199.1 431.0h1M196.9 434.1h1M190.5 431.4h1M175.7 422.9h1M167.6 475.9h1M196.3 445.4h1M189.8 430.1h1M199.6 466.0h1M170.6 482.7h1M166.1 444.6h1M197.1 448.9h1M181.7 484.1h1M172.9 430.0h1M173.7 431.5h1M197.3 470.9h1M174.2 427.2h1M198.6 467.1h1M198.9 458.0h1M165.3 488.0h1M186.7 477.1h1M178.9 488.4h1M195.6 435.0h1M163.5 454.8h1M183.5 421.9h1M165.4 461.9h1M172.6 432.9h1M166.7 454.1h1M195.0 439.2h1M182.5 482.0h1M168.6 480.2h1M182.8 481.9h1M198.1 449.3h1M169.9 437.1h1M189.4 423.0h1M181.2 484.2h1M192.5 428.0h1M183.0 484.6h1M191.5 477.5h1M167.1 447.2h1M197.6 453.6h1M196.7 471.9h1M164.8 470.1h1M165.8 458.7h1M195.9 436.2h1M172.3 435.5h1M164.1 461.5h1M186.6 423.8h1M201.0 469.3h1M169.9 443.7h1M164.1 462.9h1M168.5 478.7h1M174.9 488.9h1M181.2 423.9h1M166.5 432.3h1M191.8 475.3h1M168.8 440.3h1M187.8 426.8h1M169.9 426.3h1M198.8 461.3h1M197.4 445.1h1M166.2 448.6h1M198.3 450.9h1M186.5 427.8h1M182.6 424.8h1M197.6 455.3h1M195.2 436.8h1M178.0 489.7h1M171.8 433.7h1M197.7 444.2h1M184.8 421.3h1M200.7 474.1h1M170.0 422.1h1M195.5 441.8h1M165.7 468.5h1M158.7 468.3h1M196.9 445.5h1M170.5 482.2h1M169.0 480.8h1M199.6 463.4h1M202.0 468.3h1M185.5 427.0h1M198.2 458.2h1M163.7 479.0h1M202.6 457.4h1" stroke="#0099C6" stroke-width="1" fill="none"/>
<path d="M179.5 416.5h1M180.1 418.3h1M165.6 422.6h1M175.9 413.7h1M177.5 415.4h1M177.3 413.2h1M176.4 424.8h1M161.9 422.1h1M175.7 414.0h1M181.7 422.3h1M173.2 412.1h1M176.8 425.9h1M167.0 423.6h1M163.8 422.0h1M175.3 412.2h1M179.9 415.0h1M160.1 428.7h1M180.7 420.8h1M179.1 416.9h1M179.2 422.9h1M183.6 420.3h1M182.9 422.3h1" stroke="#0099C6" stroke-width="1" fill="none"/>
<path d="M176.8 404.9h1M203.5 414.0h1M179.4 406.0h1M181.5 411.6h1M174.4 412.4h1M199.5 411.7h1M175.0 395.7h1M191.3 393.6h1M186.9 406.3h1M212.0 430.9h1M191.2 424.5h1M201.2 425.9h1M185.4 395.1h1M180.9 392.5h1M198.3 423.0h1M184.2 426.5h1M191.3 412.4h1M197.0 413.2h1M186.4 419.9h1M201.4 420.2h1M165.2 405.6h1M195.7 397.7h1M203.4 413.1h1M184.2 421.9h1M192.0 410.0h1M202.6 412.4h1M189.5 423.5h1M182.0 400.5h1M177.4 411.7h1M184.5 392.9h1M185.2 418.1h1M177.8 413.0h1M203.0 418.9h1M198.8 399.2h1M176.8 409.2h1M197.6 401.5h1M166.3 417.5h1" stroke="#0099C6" stroke-width="1" fill="none"/>
<path d="M199.1 493.2h1M202.1 485.9h1M201.4 504.3h1M205.5 503.3h1M207.5 495.6h1M209.8 505.2h1M203.3 498.3h1M200.9 495.3h1M207.3 501.6h1M200.0 481.5h1M195.7 495.5h1M206.0 506.2h1M194.1 486.8h1M200.1 485.1h1M197.0 493.1h1M208.3 498.4h1M204.4 484.5h1M209.3 500.6h1M203.3 505.1h1M205.0 494.5h1M204.2 500.5h1" stroke="#66AA00" stroke-width="1" fill="none"/>
<path d="M162.5 451.0h1M154.5 429.7h1M151.7 474.0h1M166.0 437.4h1M148.0 433.1h1M165.6 454.6h1M152.9 434.8h1M163.7 446.2h1M142.7 416.2h1M152.2 450.1h1M154.7 477.4h1M157.7 446.0h1M162.4 480.6h1M163.2 464.8h1M153.7 461.7h1M164.0 480.7h1M150.3 426.4h1M150.6 476.6h1M159.6 472.7h1M166.0 455.9h1M164.1 453.4h1M153.8 433.6h1M153.7 459.8h1M163.0 491.2h1M150.4 456.5h1M147.6 464.7h1M158.0 486.5h1M154.0 467.4h1M150.8 476.2h1M164.2 470.5h1M155.4 448.6h1M159.9 430.1h1M157.9 439.1h1M158.5 448.2h1M157.0 486.3h1M152.4 431.8h1M157.0 476.2h1M149.7 453.3h1M163.2 420.2h1M153.4 447.2h1" stroke="#0099C6" stroke-width="1" fill="none"/>
<path d="M239.0 454.6h1M237.2 454.8h1M238.6 453.0h1M242.2 450.6h1M239.1 455.7h1M237.1 453.3h1M237.0 458.0h1M241.6 446.3h1M240.2 451.4h1M234.2 455.9h1M236.1 455.8h1M240.1 446.6h1M237.6 454.3h1M237.5 451.5h1M238.7 452.4h1M239.9 452.4h1M238.0 451.5h1" stroke="#316395" stroke-width="1" fill="none"/>
<path d="M152.6 403.8h1M172.8 385.8h1M156.4 399.8h1M183.1 385.9h1M150.6 406.7h1M139.4 415.5h1M158.1 402.3h1M162.3 392.7h1M174.4 373.6h1M155.3 400.1h1M171.3 375.2h1M152.8 385.5h1M150.6 388.0h1M161.7 392.4h1M138.4 407.8h1M154.0 402.4h1M149.7 391.6h1M138.8 413.6h1M172.9 374.0h1M142.5 416.0h1M149.9 391.0h1M156.8 398.9h1M160.2 394.9h1M152.7 407.4h1M142.1 415.9h1M176.6 385.7h1M147.6 392.4h1M168.0 374.5h1M152.9 387.3h1M159.5 395.1h1M157.4 398.1h1M176.6 375.2h1M136.6 411.3h1M141.4 419.5h1M167.1 388.5h1M183.0 381.0h1M164.4 391.3h1M147.5 412.1h1M138.4 413.4h1M149.7 390.6h1" stroke="#109618" stroke-width="1" fill="none"/>
<path d="M160.0 457.6h1M177.8 455.3h1M177.1 433.2h1M165.5 437.8h1M165.7 443.2h1M183.5 452.0h1M173.5 437.7h1M167.1 472.6h1M181.3 465.2h1M166.4 470.6h1M171.3 443.9h1M183.9 438.6h1M171.7 439.1h1M169.3 460.9h1M169.7 460.0h1M161.7 461.9h1M168.9 459.9h1M160.9 477.3h1M165.6 470.8h1M181.7 434.3h1M177.8 468.1h1M168.0 428.8h1M171.2 461.0h1M174.4 439.8h1M171.3 442.7h1M165.2 454.4h1M176.2 465.7h1M165.1 473.7h1M167.1 462.7h1M169.6 460.4h1M170.8 448.8h1M183.4 453.9h1M172.8 449.3h1M162.5 428.7h1M178.8 451.4h1M168.4 467.7h1M167.2 466.1h1M183.5 451.1h1M170.7 478.0h1M168.0 441.6h1M167.1 444.4h1M174.6 457.8h1M180.4 474.1h1M174.3 445.2h1M181.0 450.1h1M178.1 482.5h1M188.0 466.9h1M167.4 468.1h1M177.9 463.4h1M177.7 424.3h1M184.1 447.2h1M176.0 456.8h1M169.4 431.4h1M183.3 441.3h1M171.3 436.2h1M188.6 451.2h1M173.2 430.7h1M169.2 427.3h1M170.3 474.1h1M171.3 428.0h1M187.6 442.5h1M168.6 456.4h1M175.8 468.5h1M177.6 451.4h1M169.1 470.8h1M173.5 438.1h1M178.0 476.6h1M167.8 426.6h1M171.3 435.1h1M187.7 448.8h1" stroke="#990099" stroke-width="1" fill="none"/>
<path d="M184.0 457.9h1M166.4 431.8h1M173.3 428.6h1M173.1 433.6h1M182.2 440.9h1M169.1 469.3h1M167.7 434.3h1M177.3 445.2h1M179.8 439.8h1M188.8 451.3h1M170.0 474.7h1M168.3 427.9h1M188.4 435.5h1M179.9 440.8h1M174.6 450.6h1M170.0 442.7h1M166.1 437.3h1M174.3 437.7h1M183.4 444.6h1M163.3 467.9h1M167.6 435.1h1M177.3 475.3h1M183.6 458.1h1M175.9 470.0h1M172.1 452.6h1M187.8 465.4h1M163.9 461.9h1M180.3 453.4h1M158.4 464.7h1M177.7 441.1h1M175.6 428.2h1M175.6 438.1h1M166.8 477.0h1M175.5 450.9h1M169.1 426.9h1M173.1 473.7h1M167.9 466.8h1M166.2 438.0h1M162.1 439.3h1M162.4 461.8h1M164.2 458.2h1M173.8 449.9h1M169.7 472.6h1M182.5 434.9h1M166.9 445.1h1M167.8 461.7h1M164.9 443.3h1M177.0 441.9h1M167.6 447.3h1M168.4 470.6h1M178.1 440.9h1M168.4 471.3h1M178.0 433.0h1M162.9 435.0h1M170.1 437.5h1M172.8 466.6h1M179.1 467.7h1M165.1 442.1h1M174.6 457.7h1M166.4 462.2h1M171.4 452.6h1M174.7 472.2h1M167.0 432.0h1M157.8 475.5h1M170.9 464.2h1M160.3 450.6h1M174.4 469.4h1M176.9 458.4h1M169.1 449.9h1M181.7 466.1h1" stroke="#990099" stroke-width="1" fill="none"/>
<path d="M221.7 513.1h1M198.2 471.8h1M225.2 510.8h1M218.5 456.5h1M215.7 512.1h1M191.3 484.4h1M194.1 466.7h1M211.1 500.0h1M197.7 471.7h1M203.2 494.2h1M203.5 493.1h1M230.5 494.2h1M228.6 474.0h1M200.6 467.8h1M228.1 505.1h1M197.3 472.1h1M197.8 494.4h1M230.5 487.1h1M216.6 513.1h1M213.6 510.0h1M229.2 479.0h1M204.9 459.1h1M199.4 469.1h1M210.3 499.0h1M209.9 504.3h1M220.7 459.2h1M187.4 474.4h1M221.4 463.4h1M218.5 458.4h1M223.2 514.8h1M204.5 459.5h1M200.5 467.2h1M219.0 459.7h1M195.6 475.0h1M228.7 473.5h1M204.7 454.9h1M214.9 513.9h1M233.8 479.4h1M220.1 514.4h1M229.9 503.9h1M229.8 474.0h1M214.9 450.4h1M218.4 455.8h1M206.8 495.9h1M196.5 497.3h1M225.4 511.9h1M230.7 475.7h1M226.6 506.9h1M193.9 476.3h1M199.3 468.7h1M230.5 476.5h1M206.6 454.1h1M231.6 499.6h1M212.0 501.4h1M200.8 465.9h1M197.4 470.6h1M229.8 504.5h1M193.4 483.6h1M234.1 505.6h1M230.7 477.3h1M215.2 511.0h1M213.8 449.5h1M211.8 502.4h1M228.8 498.7h1M217.2 515.2h1M217.5 454.8h1M214.1 509.4h1M224.1 514.2h1" stroke="#66AA00" stroke-width="1" fill="none"/>
<path d="M227.1 516.9h1M226.8 530.5h1M195.4 530.3h1M190.0 509.1h1M207.8 510.7h1M226.8 525.8h1M198.8 540.0h1M213.5 552.3h1M223.1 545.7h1M188.7 516.3h1M203.7 555.0h1M225.1 536.8h1M200.1 542.4h1M206.2 553.4h1M216.2 512.4h1M227.6 527.8h1M200.4 546.9h1M200.1 510.9h1M215.0 557.0h1M212.6 552.1h1M192.6 506.4h1M195.9 531.9h1M216.0 545.8h1M204.9 553.0h1M217.8 513.2h1M206.0 510.6h1M190.7 510.5h1M215.9 509.9h1M223.1 537.4h1M209.6 511.4h1M190.7 514.6h1M215.4 546.9h1M217.6 512.6h1M226.3 534.6h1M226.0 529.7h1M227.2 526.8h1M194.6 527.5h1M219.6 542.9h1M213.1 552.8h1M194.2 529.2h1M218.1 513.5h1M209.6 509.6h1M219.4 514.6h1M227.0 533.5h1M222.7 517.0h1M202.2 553.5h1M221.0 542.0h1M226.7 531.7h1M196.2 508.5h1M225.1 522.7h1M226.6 535.0h1M196.3 531.6h1M196.1 510.2h1M191.9 525.8h1M221.4 543.7h1M211.4 556.6h1M225.8 525.7h1M215.7 513.6h1M203.9 511.1h1M192.0 510.5h1" stroke="#DD4477" stroke-width="1" fill="none"/>
<path d="M217.9 451.1h1M208.4 427.2h1M212.9 436.3h1M217.7 460.4h1M217.6 462.6h1M219.6 463.5h1M213.3 448.8h1M212.7 453.6h1M219.4 459.8h1M211.3 441.2h1M211.1 437.2h1M207.9 428.4h1M215.6 445.5h1M210.7 435.4h1M206.7 421.5h1M218.0 458.1h1M220.9 463.7h1M218.5 455.6h1M213.7 443.9h1M207.2 426.1h1M218.0 459.9h1M215.4 453.3h1M216.0 451.8h1M216.3 455.5h1M211.3 442.2h1M207.3 435.7h1M209.4 436.2h1M213.7 447.6h1M209.1 443.4h1M207.3 425.3h1M214.0 445.8h1M207.5 428.4h1M216.7 450.6h1M214.7 446.4h1M206.4 418.7h1M209.0 435.3h1M213.3 443.0h1M204.5 419.8h1M210.5 435.6h1M204.1 420.6h1M208.0 430.3h1M219.8 462.6h1M209.8 428.5h1M210.7 429.4h1M208.0 427.6h1M212.5 446.7h1M211.7 435.5h1M211.8 439.3h1M208.5 424.0h1M208.2 431.5h1M208.4 425.2h1M216.5 453.7h1M213.4 443.1h1M214.2 449.3h1M218.2 455.7h1M213.0 440.1h1M216.7 456.4h1M213.6 448.6h1M210.2 434.8h1" stroke="#66AA00" stroke-width="1" fill="none"/>
<path d="M219.9 553.1h1M221.0 554.1h1M227.3 524.6h1M228.1 545.9h1M213.2 570.6h1M217.8 560.2h1M213.5 572.2h1M220.5 556.8h1M225.8 530.2h1M214.7 560.7h1M217.4 542.9h1M226.4 527.8h1M226.1 530.1h1M223.9 538.7h1M226.9 524.9h1M213.6 571.8h1M223.6 545.5h1M218.1 561.9h1M226.6 535.3h1M218.9 560.0h1M221.4 535.7h1M215.4 561.2h1M222.5 549.8h1M226.4 522.5h1M208.0 569.2h1M216.5 555.7h1M211.9 575.2h1M219.1 544.5h1M221.7 535.9h1M218.6 563.0h1M213.6 565.4h1M226.5 529.9h1M222.4 545.9h1M218.0 542.6h1M218.3 544.2h1M212.2 575.3h1M216.1 571.9h1M223.3 552.4h1M215.6 559.3h1M220.6 548.1h1M214.3 547.6h1M214.4 567.2h1M213.4 550.5h1M221.5 543.8h1M220.7 549.2h1M213.4 552.8h1M213.8 560.5h1M224.0 535.5h1M213.9 550.9h1M214.2 547.3h1M222.6 520.1h1M216.2 562.6h1M213.4 568.8h1M227.4 541.9h1M220.1 541.3h1M212.9 560.7h1M211.5 567.4h1M220.7 556.3h1M216.6 551.9h1M213.9 567.2h1M212.4 575.0h1M214.5 551.7h1M224.6 545.0h1M225.4 544.5h1M216.3 561.2h1M223.7 551.9h1M215.4 562.6h1M213.9 548.4h1M218.2 560.1h1M212.4 564.5h1M224.0 531.6h1M223.9 528.8h1M208.3 572.5h1M212.3 556.4h1M215.1 568.5h1M209.5 567.5h1M219.1 543.7h1M224.6 537.0h1M215.9 567.5h1M213.0 562.7h1M225.8 543.5h1M216.6 551.8h1M208.9 566.5h1M211.2 573.4h1M217.3 559.9h1M216.4 550.2h1M224.7 537.8h1M221.6 535.5h1M225.1 520.8h1M215.3 559.8h1M226.4 538.8h1M207.9 560.2h1M225.5 524.3h1M209.3 574.2h1M220.2 549.7h1M217.1 554.6h1M209.4 559.7h1M221.3 542.1h1M217.6 559.8h1M226.1 527.9h1M220.1 557.5h1M216.5 554.1h1M213.0 553.5h1M209.6 558.1h1M217.3 563.7h1M215.4 548.8h1M217.5 560.3h1M216.5 563.3h1M222.4 535.5h1M212.6 555.0h1M216.6 551.1h1M211.3 559.7h1M225.9 515.7h1M214.5 569.2h1M216.5 548.6h1M212.9 551.3h1M223.9 554.0h1M225.1 542.7h1M214.0 564.6h1M225.6 528.2h1M226.1 524.2h1M222.7 553.1h1M220.0 544.3h1M214.9 564.6h1M215.9 551.8h1M218.7 551.6h1M219.0 560.4h1M217.8 542.9h1M212.1 567.3h1M215.9 546.9h1M218.3 553.8h1M220.8 543.0h1M218.1 565.8h1M214.9 547.3h1M214.9 569.0h1M221.8 544.0h1M226.7 551.7h1M211.8 568.3h1M223.4 534.4h1M220.2 551.7h1M226.2 529.8h1M217.5 558.7h1M222.0 553.5h1M214.5 561.9h1M223.4 545.1h1M214.4 560.6h1M221.1 556.3h1M222.6 550.5h1M226.1 532.4h1M212.6 559.6h1M212.7 551.7h1M225.8 545.4h1M220.7 547.0h1M214.9 563.6h1M209.5 566.2h1M215.8 564.3h1M214.1 573.4h1M208.4 559.3h1M217.1 550.3h1M209.6 564.4h1M216.4 571.9h1M215.5 570.0h1M222.3 551.1h1M214.7 550.8h1M211.6 561.6h1M227.3 525.6h1M226.5 526.4h1M223.0 521.3h1M214.0 558.4h1M210.2 555.3h1M226.3 514.5h1M211.2 574.9h1M211.3 569.6h1M223.3 540.2h1M212.8 557.8h1M219.7 540.6h1M214.6 554.9h1M227.0 542.2h1M220.2 556.0h1M220.9 553.3h1M222.7 550.8h1M219.3 553.7h1M220.7 547.2h1M211.8 557.0h1M224.3 542.4h1M221.2 539.5h1M212.2 557.3h1M211.3 571.3h1M224.8 546.1h1M219.2 560.6h1M210.0 555.3h1M226.7 529.8h1M223.9 514.3h1M215.3 565.1h1M211.1 567.8h1M225.7 526.5h1M218.7 561.8h1M218.7 554.8h1M215.7 563.4h1M223.1 541.5h1M213.3 569.0h1M215.2 564.4h1M216.4 561.3h1M215.7 553.8h1M226.7 521.3h1M215.1 562.4h1M213.8 563.4h1M222.0 549.4h1M210.6 558.1h1M219.3 561.3h1M215.7 562.1h1M220.3 543.3h1M212.7 569.3h1M222.7 523.3h1M211.4 572.4h1M220.7 554.4h1M217.6 557.4h1M216.4 550.8h1M218.3 547.6h1M213.7 565.7h1M208.4 562.0h1M213.5 574.6h1M225.1 528.9h1M210.2 572.7h1M216.5 551.1h1M221.7 548.3h1M225.7 539.0h1M216.6 563.8h1M215.6 560.6h1M213.5 560.0h1M226.5 519.9h1M219.1 559.4h1M219.0 540.1h1M214.4 573.9h1M222.7 552.9h1M225.0 546.6h1M211.7 562.3h1M211.9 565.5h1M214.2 547.5h1M218.8 548.3h1M208.1 570.7h1M216.0 570.1h1M225.5 514.7h1M226.7 521.7h1M219.5 565.9h1M210.8 566.5h1M215.3 567.9h1M220.8 541.2h1M224.7 538.2h1M215.9 568.3h1M227.1 529.7h1M215.6 558.7h1M214.0 565.7h1M222.8 544.2h1M219.4 547.2h1M224.1 537.8h1M210.7 555.4h1M217.1 559.3h1M216.1 561.2h1M222.7 543.3h1M216.4 548.0h1M220.0 542.2h1M224.8 530.5h1M209.9 568.0h1M222.2 553.2h1M222.6 539.5h1M211.2 567.1h1M210.7 557.9h1M220.4 555.8h1M212.6 557.2h1M226.6 528.1h1M222.7 539.7h1M219.9 570.0h1M221.0 549.1h1M211.7 562.9h1M225.0 535.1h1M209.6 566.9h1M212.6 555.5h1M213.1 575.5h1M223.5 544.4h1M226.2 530.2h1" stroke="#DC3912" stroke-width="1" fill="none"/>
<path d="M171.1 387.2h1M183.6 389.5h1M180.2 394.6h1M167.8 398.7h1M142.0 422.5h1M157.9 400.6h1M150.8 412.7h1M136.5 421.2h1M133.4 420.4h1M146.7 413.7h1M157.7 408.8h1M153.0 407.6h1M179.7 386.1h1M130.2 420.2h1M153.9 404.8h1M164.4 391.2h1M162.6 397.9h1M179.6 388.5h1M150.7 416.0h1M171.1 385.7h1M156.1 407.8h1M167.1 392.3h1M179.2 393.7h1M136.1 415.7h1M159.3 405.6h1M161.3 401.6h1M145.3 408.9h1M143.7 423.4h1M147.9 415.0h1M167.8 387.4h1M168.4 389.5h1M167.9 383.1h1M149.2 418.8h1M154.4 408.2h1M134.7 419.9h1M154.9 408.0h1M164.0 399.1h1M176.8 387.9h1M150.3 415.3h1M139.8 412.9h1M135.9 417.6h1M179.9 387.1h1M159.5 400.0h1M144.9 417.6h1M145.9 416.3h1M163.7 400.9h1M146.7 415.8h1M181.0 388.8h1M171.7 381.5h1M176.2 388.3h1M143.8 417.9h1M179.9 392.9h1M168.1 396.1h1M139.2 415.6h1M154.1 414.9h1M177.7 389.3h1M165.4 391.4h1M156.2 406.0h1M152.1 412.4h1M146.4 417.0h1M150.4 414.6h1M135.0 419.2h1M170.1 384.0h1M163.1 386.8h1M174.2 386.5h1" stroke="#109618" stroke-width="1" fill="none"/>
<path d="M152.5 457.4h1M153.5 440.1h1M168.2 437.1h1M158.5 480.5h1M162.6 483.1h1M152.1 458.0h1M161.1 443.5h1M169.1 457.9h1M151.6 450.0h1M155.0 486.0h1M160.7 455.8h1M156.4 457.6h1M156.2 479.1h1M157.4 481.3h1M164.2 453.0h1M156.0 459.3h1M161.9 434.2h1M156.9 467.9h1M150.7 443.0h1M155.8 476.8h1M150.2 470.1h1M153.2 468.0h1M149.7 466.8h1M164.4 471.8h1M150.0 479.6h1M157.5 440.0h1M159.2 461.5h1M164.1 464.4h1M153.2 434.2h1M164.6 469.1h1M157.9 472.6h1M149.7 441.5h1M154.6 440.9h1M156.2 453.9h1M159.5 479.9h1M169.1 451.9h1M161.5 454.3h1M160.2 464.8h1M162.5 444.9h1M162.8 458.0h1" stroke="#0099C6" stroke-width="1" fill="none"/>
<path d="M208.9 395.9h1M208.3 408.6h1M210.6 397.5h1M208.5 393.6h1M207.2 413.2h1M208.9 396.0h1M210.8 401.4h1M207.2 412.7h1M206.6 408.9h1M210.0 404.7h1M209.6 399.2h1M207.6 404.6h1M211.4 406.9h1M210.8 402.4h1M206.9 411.5h1M210.2 400.4h1M206.6 410.8h1M208.4 391.9h1M208.6 393.2h1M212.1 401.1h1M209.1 404.7h1M205.6 410.6h1M208.1 411.5h1M209.8 399.2h1M208.0 393.6h1" stroke="#3366CC" stroke-width="1" fill="none"/>
<path d="M242.5 418.7h1M243.9 419.2h1M243.6 421.9h1M242.0 423.0h1" stroke="#316395" stroke-width="1" fill="none"/>
<path d="M237.9 393.9h1M247.3 403.1h1M251.2 403.4h1M242.7 385.4h1M242.8 385.4h1M249.6 396.9h1M246.8 390.2h1M249.7 400.4h1M232.2 399.0h1M242.5 384.6h1M234.8 398.7h1" stroke="#316395" stroke-width="1" fill="none"/>
<path d="M181.9 380.5h1M196.2 390.3h1M211.1 401.2h1M188.6 387.8h1M192.8 388.7h1M183.7 383.7h1M203.3 384.7h1M185.9 386.3h1M200.4 392.0h1M194.9 389.5h1M185.6 379.3h1M180.3 379.2h1M205.5 385.5h1M210.9 395.5h1M185.9 385.3h1M208.1 387.3h1M204.3 384.2h1M183.0 377.6h1M199.2 391.6h1M179.0 377.5h1M185.5 378.1h1M201.4 394.3h1M181.9 377.8h1M208.4 403.7h1M189.2 379.8h1" stroke="#3366CC" stroke-width="1" fill="none"/>
<path d="M248.2 403.6h1M236.1 400.2h1M239.6 390.8h1M242.7 384.9h1M235.7 396.5h1M249.8 398.7h1M235.0 396.9h1M242.5 402.9h1M234.2 397.2h1M234.7 396.4h1M243.1 384.7h1" stroke="#316395" stroke-width="1" fill="none"/>
<path d="M205.6 447.8h1M208.7 443.5h1M200.7 445.2h1M204.2 420.0h1M212.1 445.7h1M211.3 445.2h1M208.1 460.4h1M206.9 437.0h1M212.5 450.1h1M205.7 443.3h1M210.2 450.5h1M210.7 448.0h1M215.3 455.8h1M204.5 415.9h1M214.2 445.7h1M213.3 436.7h1M208.7 434.9h1M206.7 415.8h1M206.9 458.4h1M210.1 449.4h1M214.7 459.0h1M214.2 449.1h1M213.9 453.3h1M206.4 429.9h1M203.2 440.8h1M210.3 452.3h1M209.5 449.0h1M203.5 441.7h1M207.6 425.1h1M211.9 453.0h1M205.4 441.8h1M207.8 460.3h1M209.0 455.0h1M205.1 434.5h1M205.4 436.5h1M202.0 446.4h1M210.0 447.4h1M219.8 461.3h1M210.5 448.1h1M207.3 447.9h1M202.6 446.5h1M207.5 452.6h1M204.6 427.3h1M218.1 462.0h1M213.7 444.3h1" stroke="#66AA00" stroke-width="1" fill="none"/>
<path d="M213.5 503.0h1M202.0 485.7h1M206.4 498.7h1M207.1 495.6h1M209.6 490.9h1M194.0 483.6h1M210.6 494.2h1M200.2 501.9h1M196.9 485.4h1M204.0 491.9h1M210.0 491.2h1M202.5 486.4h1M210.5 492.1h1M210.8 496.6h1M199.3 489.5h1M210.5 500.6h1M204.2 507.9h1M203.9 487.8h1M206.3 496.3h1M194.1 489.3h1M195.7 502.2h1M200.4 493.3h1" stroke="#66AA00" stroke-width="1" fill="none"/>
<path d="M199.1 396.7h1M204.8 400.9h1M197.3 392.2h1M197.0 404.5h1M194.3 396.6h1M192.9 400.9h1M194.6 396.8h1M199.8 398.0h1M186.6 391.6h1M182.7 385.0h1M185.9 394.5h1M189.4 392.6h1M200.7 396.9h1M198.4 392.8h1" stroke="#3366CC" stroke-width="1" fill="none"/>
<path d="M199.1 391.0h1M203.5 397.2h1M197.0 391.9h1M195.4 390.2h1M182.9 381.8h1M207.8 383.7h1M205.9 405.3h1M185.2 379.0h1M191.5 388.1h1M185.0 386.3h1M205.7 385.9h1M211.0 400.5h1M213.0 389.2h1M209.3 385.0h1M202.1 380.6h1M183.0 378.7h1M202.7 384.7h1M183.6 378.9h1M183.4 378.6h1M199.8 383.1h1M211.1 399.8h1M202.4 397.0h1M181.3 379.1h1M196.9 382.7h1M210.8 394.9h1" stroke="#3366CC" stroke-width="1" fill="none"/>
<path d="M196.4 473.0h1M230.0 481.9h1M207.3 502.9h1M229.8 487.9h1M214.2 448.7h1M200.1 489.6h1M229.9 482.9h1M194.7 475.6h1M196.9 473.0h1M189.4 477.6h1M205.4 458.2h1M230.1 488.3h1M197.3 472.4h1M197.6 470.0h1M227.7 502.8h1M223.0 460.8h1M213.1 507.5h1M203.5 493.0h1M228.5 473.0h1M227.6 506.6h1M200.6 464.9h1M217.5 451.8h1M191.5 474.7h1M234.4 479.4h1M200.6 466.8h1M215.0 511.2h1M201.4 449.5h1M229.7 494.8h1M229.0 477.5h1M209.2 452.4h1M230.4 491.0h1M200.3 464.1h1M194.9 486.1h1M212.5 449.1h1M229.1 512.1h1M192.7 482.7h1M229.6 482.1h1M230.6 489.2h1M222.1 512.8h1M222.6 515.4h1M223.6 466.2h1M229.7 482.1h1M210.3 499.9h1M198.0 468.9h1M201.4 494.6h1M216.0 513.1h1M236.4 489.6h1M202.1 491.9h1M208.5 453.1h1M229.1 475.7h1M224.5 466.7h1M203.3 493.0h1M231.8 495.0h1M231.5 487.3h1M202.0 452.0h1M231.1 472.7h1M220.0 451.2h1M218.7 456.5h1M212.4 504.2h1M197.8 471.5h1M226.7 513.1h1M202.1 464.1h1M220.5 461.8h1M196.5 486.5h1M195.2 471.5h1M211.4 501.0h1M211.6 449.6h1M225.9 510.6h1" stroke="#66AA00" stroke-width="1" fill="none"/>
<path d="M242.7 415.8h1M243.4 419.8h1M242.7 420.5h1M244.3 414.4h1" stroke="#316395" stroke-width="1" fill="none"/>
<path d="M165.5 407.7h1M159.0 406.2h1M148.4 411.7h1M144.6 412.6h1M172.1 405.6h1M163.4 402.0h1M165.1 386.0h1M156.8 411.9h1M160.5 403.0h1M157.4 412.3h1M174.5 390.8h1M162.2 410.6h1M155.3 414.0h1M176.4 395.7h1M182.0 400.1h1M169.4 404.6h1M178.3 403.8h1M187.8 400.5h1M150.8 413.3h1M179.3 400.9h1M165.9 401.4h1" stroke="#109618" stroke-width="1" fill="none"/>
<path d="M150.0 473.1h1M161.6 466.6h1M136.4 462.6h1M154.3 428.4h1M166.2 479.4h1M155.1 456.7h1M161.2 432.7h1M169.5 462.5h1M155.2 486.4h1M149.0 452.2h1M160.3 430.8h1M160.5 467.1h1M160.6 437.8h1M156.7 470.7h1M157.9 436.3h1M158.8 447.6h1M148.8 446.8h1M152.0 467.5h1M156.3 431.1h1M157.5 464.9h1M152.3 458.1h1M155.8 429.9h1M154.4 432.3h1M165.1 435.2h1M157.5 439.6h1M163.1 489.2h1M139.1 444.8h1M156.1 474.1h1M148.8 439.0h1M158.8 431.8h1M150.7 441.7h1M156.5 474.2h1M161.1 428.9h1M149.7 475.9h1M164.0 454.0h1M160.8 430.9h1M159.1 428.9h1M149.3 472.2h1M160.2 474.1h1M151.6 464.8h1" stroke="#0099C6" stroke-width="1" fill="none"/>
<path d="M201.1 395.1h1M188.0 386.9h1M200.4 407.2h1M186.5 394.2h1M202.9 401.7h1M197.2 390.1h1M192.4 397.4h1M198.3 397.7h1M187.9 393.0h1M206.3 398.8h1M193.2 401.5h1M198.2 407.3h1M191.8 394.8h1" stroke="#3366CC" stroke-width="1" fill="none"/>
<path d="M241.3 425.4h1" stroke="#316395" stroke-width="1" fill="none"/>
<path d="M214.5 554.8h1M218.2 545.8h1M223.3 556.2h1M209.8 569.1h1M216.2 557.7h1M219.5 542.5h1M220.0 558.0h1M216.0 551.6h1M225.2 544.0h1M217.9 561.1h1M217.1 547.0h1M213.9 562.3h1M220.2 551.1h1M208.3 566.0h1M212.5 564.0h1M212.9 561.5h1M221.3 534.3h1M220.5 541.4h1M219.2 561.9h1M224.9 542.7h1M209.4 567.7h1M225.9 533.8h1M219.7 546.0h1M216.3 558.8h1M213.8 559.3h1M221.9 540.7h1M210.0 560.4h1M214.1 568.5h1M209.5 561.3h1M216.7 565.9h1M226.0 519.6h1M218.7 567.9h1M220.4 556.7h1M226.4 538.5h1M223.0 534.0h1M214.7 572.3h1M224.4 538.1h1M225.3 534.0h1M222.7 542.8h1M214.0 573.1h1M219.2 551.4h1M225.2 540.4h1M209.8 554.5h1M215.3 565.2h1M222.9 537.1h1M218.3 562.1h1M211.0 568.4h1M224.3 533.4h1M227.1 514.1h1M211.2 564.1h1M221.0 539.2h1M211.4 563.9h1M220.6 540.2h1M224.5 545.8h1M226.4 519.0h1M210.2 566.3h1M212.6 559.0h1M217.6 564.4h1M220.5 548.2h1M221.9 551.6h1M216.1 571.3h1M213.2 557.2h1M220.5 545.4h1M220.4 559.8h1M209.6 565.7h1M213.2 558.5h1M210.6 551.7h1M213.3 575.3h1M225.9 521.4h1M223.0 534.1h1M220.3 546.2h1M225.1 526.5h1M219.0 540.1h1M212.2 565.5h1M226.1 526.7h1M215.9 570.8h1M224.3 526.0h1M214.9 563.4h1M210.4 569.7h1M219.7 560.3h1M214.8 570.4h1M225.2 520.5h1M224.3 527.8h1M225.1 525.3h1M227.0 523.3h1M212.8 557.0h1M212.7 552.9h1M225.4 533.1h1M217.1 555.1h1M214.9 558.4h1M227.6 525.8h1M224.8 528.5h1M216.3 548.3h1M210.6 557.8h1M215.4 568.1h1M223.9 529.3h1M215.3 566.0h1M218.3 538.9h1M216.8 563.3h1M207.8 562.1h1M224.7 526.3h1M220.1 552.9h1M220.0 553.3h1M223.6 535.8h1M210.5 563.6h1M222.4 532.7h1M218.3 553.7h1M222.1 546.6h1M223.6 534.2h1M213.9 549.0h1M227.4 525.8h1M216.9 552.6h1M220.7 544.1h1M225.7 533.3h1M215.9 560.3h1M218.0 541.7h1M218.8 552.1h1M223.2 541.7h1M220.4 540.1h1M223.7 539.7h1M222.5 543.0h1M210.7 566.0h1M217.3 561.4h1M217.9 551.8h1M213.1 572.7h1M215.8 554.1h1M223.3 546.9h1M221.5 537.3h1M208.6 563.5h1M226.0 543.1h1M212.2 549.3h1M222.6 536.8h1M222.7 536.8h1M221.8 548.8h1M214.9 557.2h1M222.3 550.9h1M225.1 525.2h1M211.1 552.2h1M210.9 558.2h1M222.8 540.6h1M215.4 549.2h1M225.9 517.8h1M224.5 533.2h1M219.6 557.2h1M209.5 562.7h1M224.2 547.0h1M220.5 550.2h1M223.5 540.8h1M214.4 570.5h1M216.2 558.1h1M215.1 559.9h1M213.1 566.0h1M209.4 574.0h1M219.7 556.9h1M211.4 567.6h1M215.8 564.0h1M211.7 571.8h1M209.9 564.5h1M219.1 554.2h1M226.4 524.5h1M215.3 550.3h1M215.0 559.9h1M218.5 559.7h1M224.1 518.5h1M212.5 554.2h1M215.3 557.5h1M220.0 551.4h1M219.3 542.8h1M218.0 548.8h1M223.2 545.6h1M223.3 532.7h1M221.3 550.7h1M208.3 564.1h1M218.6 562.9h1M221.3 541.6h1M211.9 552.3h1M220.0 559.1h1M213.9 560.4h1M219.7 538.8h1M218.4 549.9h1M219.9 549.5h1M213.9 571.5h1M225.3 521.9h1M228.4 524.6h1M217.4 553.9h1M225.1 520.6h1M218.9 557.1h1M217.7 557.4h1M224.1 537.6h1M220.8 543.6h1M221.3 558.5h1M223.4 516.1h1M215.1 574.8h1M221.6 559.1h1M209.0 554.4h1M225.9 515.4h1M226.8 545.1h1M222.4 532.7h1M223.4 541.3h1M224.8 539.2h1M222.6 535.1h1M217.0 545.0h1M219.3 545.1h1M216.4 549.1h1M211.5 561.0h1M213.5 556.9h1M223.2 535.7h1M210.6 566.2h1M211.9 552.7h1M216.6 570.3h1M211.4 555.7h1M227.1 526.5h1M214.5 554.4h1M225.7 516.3h1M219.6 556.3h1M221.8 531.2h1M210.6 557.1h1M227.5 533.7h1M211.0 551.3h1M227.7 518.2h1M210.3 560.1h1M208.6 564.3h1M220.6 556.8h1M215.7 570.1h1M225.4 524.2h1M220.6 556.5h1M212.0 570.2h1M221.7 548.4h1M212.6 575.3h1M222.4 539.5h1M222.9 542.2h1M224.9 533.5h1M212.4 575.3h1M220.0 563.1h1M220.7 555.2h1M217.5 542.9h1M218.1 560.1h1M223.2 539.8h1M211.7 564.2h1M225.4 533.2h1M221.1 556.7h1M212.0 558.4h1M224.0 543.4h1M219.2 565.7h1M212.8 554.4h1M226.1 537.1h1M211.0 571.5h1M224.4 548.9h1M220.5 543.4h1M222.3 545.3h1M218.7 553.5h1M224.5 526.7h1M208.7 559.4h1M218.9 554.8h1M223.9 536.9h1M226.1 543.2h1M206.4 567.5h1M221.9 538.2h1M216.7 558.1h1M213.8 567.6h1M221.5 550.6h1M223.8 528.8h1M219.6 552.1h1M225.5 519.4h1M217.2 553.1h1M215.4 569.5h1M216.6 558.7h1M221.5 551.7h1M208.8 558.9h1M212.7 570.4h1M223.4 549.6h1M208.8 565.6h1M226.5 513.4h1M209.7 561.5h1M221.4 539.3h1M210.8 563.1h1M214.3 568.9h1M223.3 538.2h1M222.1 531.8h1M213.8 568.2h1M226.9 534.4h1M221.0 556.7h1" stroke="#DC3912" stroke-width="1" fill="none"/>
<path d="M206.9 397.3h1M210.9 397.6h1M206.4 414.5h1M208.5 393.3h1M207.5 406.6h1M204.0 406.6h1M207.5 394.7h1M209.1 402.7h1M206.7 411.9h1M208.3 392.9h1M208.5 394.6h1M206.8 410.0h1M206.9 414.7h1M204.5 408.0h1M209.7 390.7h1M208.4 400.8h1M207.4 400.4h1M207.1 398.1h1M205.8 405.5h1M208.2 397.0h1M209.4 407.5h1M207.9 403.4h1M206.5 405.7h1M207.3 391.0h1" stroke="#3366CC" stroke-width="1" fill="none"/>
<path d="M167.5 390.5h1M201.0 421.8h1M191.6 391.3h1M207.7 417.4h1M187.4 402.9h1M181.6 415.6h1M170.1 395.1h1M196.1 421.7h1M199.4 426.0h1M199.9 399.9h1M194.0 401.4h1M192.4 416.2h1M192.2 408.0h1M172.7 410.8h1M175.6 398.7h1M190.9 396.4h1M172.5 398.2h1M201.9 420.6h1M183.1 413.4h1M168.1 393.7h1M183.5 425.2h1M168.5 410.5h1M173.4 409.3h1M190.8 417.9h1M184.6 423.0h1M185.5 393.9h1M179.8 418.3h1M181.9 406.7h1M200.3 399.9h1M196.1 404.4h1M203.9 418.8h1M185.8 425.2h1M178.8 413.2h1M177.7 401.7h1M197.5 397.6h1M185.2 405.5h1M191.7 430.5h1" stroke="#0099C6" stroke-width="1" fill="none"/>
<path d="M162.4 395.7h1M167.4 399.1h1M159.0 398.2h1M166.8 396.4h1M158.0 397.0h1M160.4 397.4h1M139.3 425.0h1M156.9 407.2h1M169.2 391.4h1M171.1 396.8h1M173.4 386.2h1M148.0 414.5h1M169.7 397.1h1M143.2 413.9h1M135.2 416.9h1M181.4 390.4h1M158.4 402.8h1M151.9 414.3h1M129.3 418.0h1M143.0 417.9h1M167.0 397.3h1M143.4 412.2h1M131.4 420.7h1M171.3 390.6h1M162.1 398.0h1M169.3 387.6h1M167.6 389.7h1M169.8 392.3h1M163.0 406.5h1M158.5 398.1h1M172.6 395.2h1M132.3 421.2h1M170.8 387.2h1M169.7 390.6h1M133.0 417.8h1M172.0 391.3h1M146.5 416.6h1M171.2 395.8h1M174.1 396.7h1M170.0 392.8h1M145.0 421.4h1M140.5 418.8h1M165.8 388.1h1M147.3 414.1h1M156.5 409.2h1M151.5 389.4h1M142.7 410.4h1M148.4 406.9h1M166.6 401.3h1M165.7 389.2h1M139.1 408.2h1M149.0 409.9h1M135.4 415.1h1M132.8 420.1h1M161.6 403.7h1M174.2 396.6h1M140.7 418.0h1M147.9 415.8h1M134.5 418.1h1M180.3 388.6h1M150.5 407.8h1M161.2 386.7h1M168.9 386.4h1M173.5 393.0h1M155.5 406.9h1" stroke="#109618" stroke-width="1" fill="none"/>
<path d="M189.1 510.4h1M226.7 526.8h1M189.9 521.1h1M225.8 524.0h1M203.6 549.8h1M225.2 536.8h1M207.8 554.6h1M215.7 512.7h1M205.3 507.6h1M226.1 529.4h1M217.9 546.0h1M216.6 551.5h1M217.6 544.6h1M210.3 511.5h1M216.4 545.6h1M189.0 518.9h1M204.1 551.9h1M200.2 544.0h1M196.2 531.9h1M212.5 553.5h1M196.3 510.5h1M222.0 538.7h1M227.7 520.9h1M227.0 529.9h1M206.7 553.9h1M229.1 536.1h1M188.2 511.3h1M209.3 510.6h1M207.9 556.1h1M195.6 508.9h1M198.0 510.9h1M193.8 524.4h1M193.3 526.7h1M193.2 524.2h1M190.6 516.1h1M205.0 551.5h1M205.8 552.5h1M216.8 513.8h1M213.1 558.8h1M212.1 512.2h1M190.3 516.6h1M226.1 531.3h1M219.4 541.1h1M224.6 519.6h1M226.3 527.8h1M194.0 531.0h1M228.7 529.0h1M190.2 509.5h1M192.1 530.9h1M226.1 525.9h1M218.7 512.5h1M217.5 514.2h1M193.2 521.4h1M225.8 528.4h1M196.1 508.6h1M203.3 548.9h1M213.3 553.5h1M193.5 524.5h1M220.9 513.2h1M196.2 533.7h1M200.4 548.1h1" stroke="#DD4477" stroke-width="1" fill="none"/>
<path d="M239.6 448.6h1M238.1 455.1h1M240.2 448.7h1M240.3 448.4h1M237.5 456.4h1M239.7 449.0h1M236.5 453.8h1M239.6 446.7h1M241.8 448.2h1M239.2 449.2h1M236.8 455.7h1M240.7 452.7h1M239.8 453.6h1M239.5 449.3h1M242.1 447.9h1M235.9 460.6h1M241.2 450.1h1" stroke="#316395" stroke-width="1" fill="none"/>
<path d="M192.8 391.9h1M193.2 391.3h1M186.9 396.2h1M195.5 401.0h1M203.5 403.6h1M183.6 385.8h1M191.2 390.0h1M194.7 407.5h1M199.6 396.2h1M191.5 392.4h1M183.7 402.9h1M188.9 399.9h1M202.1 403.0h1" stroke="#3366CC" stroke-width="1" fill="none"/>
<path d="M104.0 516.3h1M123.8 510.6h1M91.3 512.3h1M143.5 423.9h1M164.4 418.6h1M86.4 508.5h1M116.7 516.7h1M175.8 429.9h1M110.2 515.8h1M96.2 512.4h1M168.1 478.4h1M174.5 436.4h1M58.6 500.4h1M159.0 420.1h1M89.1 443.2h1M119.9 513.3h1M102.1 515.7h1M120.4 513.3h1M167.4 454.8h1M157.2 511.2h1M102.9 516.6h1M101.7 516.4h1M46.9 488.8h1M131.6 428.3h1M141.4 423.2h1M158.3 513.3h1M103.9 515.6h1M99.0 433.2h1M158.0 511.2h1M69.6 503.4h1M145.7 424.1h1M173.8 435.4h1M174.0 431.2h1M49.2 503.1h1M61.3 474.2h1M83.1 448.3h1M88.4 443.0h1M132.0 427.4h1M142.3 505.0h1M164.1 509.0h1M163.5 419.0h1M99.9 515.3h1M84.0 507.9h1M121.3 413.2h1M72.2 504.1h1M102.3 429.7h1M124.8 511.0h1M65.2 502.0h1M164.8 479.6h1M47.7 494.1h1M108.7 516.4h1M164.0 512.3h1M131.6 509.4h1M81.0 451.5h1M105.7 516.2h1M84.3 447.9h1M59.6 475.1h1M134.1 428.0h1M79.2 451.9h1M154.8 508.3h1M135.4 427.8h1M111.3 516.1h1M163.5 474.4h1M58.2 475.2h1M164.8 480.9h1M93.8 511.7h1M64.3 471.6h1M159.7 513.1h1M163.8 471.3h1M114.1 515.5h1M166.1 491.8h1M171.6 445.2h1M81.2 507.2h1M48.0 485.9h1M148.4 422.3h1M172.9 427.4h1M165.9 491.2h1M164.6 510.5h1M90.8 509.9h1M93.0 439.2h1M165.7 481.1h1M92.4 511.4h1M51.7 498.0h1M83.2 448.7h1M127.9 425.1h1M105.6 517.2h1M141.3 501.7h1M142.5 501.7h1M123.8 416.4h1M149.7 420.6h1M61.6 473.7h1M164.4 477.3h1M170.5 425.6h1M99.7 429.2h1M57.4 500.0h1M49.7 483.1h1M100.8 431.1h1M147.2 422.9h1M166.9 455.7h1M135.8 505.2h1M148.6 505.8h1M127.5 422.8h1M109.5 420.5h1M97.0 434.8h1M111.8 418.6h1M142.2 501.6h1M64.0 502.1h1M47.5 489.6h1M140.1 425.6h1M80.9 508.3h1M165.9 491.4h1M126.6 510.4h1M154.6 420.3h1M164.2 511.9h1M88.9 443.1h1M56.2 499.6h1M118.1 514.4h1M98.1 513.4h1M145.2 502.1h1M150.9 420.1h1M123.8 511.0h1M168.5 450.2h1M66.6 502.2h1" stroke="#990099" stroke-width="1" fill="none"/>
<path d="M214.0 566.7h1M223.7 531.3h1M215.4 572.9h1M225.5 518.7h1M213.1 564.3h1M216.2 564.2h1M228.2 539.4h1M226.7 530.7h1M217.5 566.5h1M217.5 554.6h1M223.5 544.3h1M226.2 517.8h1M220.3 558.8h1M219.2 559.3h1M217.9 549.3h1M225.6 528.5h1M225.4 531.6h1M221.5 550.4h1M212.5 568.1h1M210.1 559.6h1M216.8 557.6h1M215.0 548.5h1M218.5 559.4h1M219.3 551.4h1M212.6 571.0h1M222.5 552.6h1M223.8 550.2h1M217.2 549.9h1M217.0 544.7h1M218.7 543.4h1M211.6 563.3h1M222.1 551.1h1M219.5 563.5h1M219.5 545.2h1M217.4 545.4h1M210.2 557.5h1M212.1 567.8h1M224.0 541.9h1M225.1 546.6h1M221.8 541.9h1M214.9 573.0h1M212.4 573.4h1M212.7 567.8h1M225.5 531.2h1M215.0 556.5h1M219.2 558.6h1M218.0 545.5h1M220.7 543.9h1M221.2 548.9h1M225.7 530.5h1M207.8 564.0h1M216.4 552.5h1M216.4 568.7h1M216.5 542.8h1M218.8 557.6h1M221.6 533.0h1M228.4 514.2h1M223.4 539.0h1M228.8 534.8h1M219.6 550.8h1M225.4 542.0h1M214.0 547.7h1M213.1 561.1h1M214.9 556.3h1M224.6 531.5h1M208.9 557.7h1M216.9 547.1h1M226.3 550.8h1M215.2 561.3h1M212.5 558.8h1M226.6 523.4h1M225.9 520.1h1M222.3 543.9h1M224.7 544.4h1M222.3 540.0h1M209.7 558.6h1M222.6 534.8h1M224.3 534.0h1M222.1 553.6h1M220.7 539.3h1M219.6 560.3h1M214.0 556.4h1M219.5 544.3h1M210.7 569.8h1M210.0 565.6h1M219.3 547.8h1M210.0 566.1h1M216.3 565.4h1M219.6 571.2h1M221.4 538.5h1M214.4 569.8h1M217.5 557.1h1M223.4 552.7h1M210.8 565.1h1M224.0 521.4h1M225.5 540.0h1M222.5 540.5h1M220.8 540.4h1M221.6 542.0h1M218.2 557.7h1M212.8 562.0h1M224.9 514.9h1M220.6 553.1h1M224.2 542.9h1M216.0 561.6h1M217.8 550.8h1M220.8 543.0h1M214.4 548.5h1M216.8 544.9h1M222.8 536.3h1M215.9 545.9h1M209.9 568.1h1M214.9 542.8h1M220.1 548.4h1M216.0 550.2h1M211.7 556.3h1M212.6 562.4h1M215.1 564.3h1M210.3 564.9h1M225.5 541.6h1M213.6 559.2h1M218.8 537.6h1M222.5 547.9h1M225.6 524.5h1M219.4 558.8h1M213.1 559.5h1M211.7 556.8h1M223.5 531.8h1M211.9 563.3h1M220.8 541.8h1M213.5 569.6h1M219.4 555.6h1M208.2 559.6h1M226.3 532.1h1M222.1 545.3h1M216.2 571.6h1M220.7 544.1h1M215.8 535.6h1M215.6 549.9h1M207.5 554.1h1M217.8 558.9h1M223.4 547.1h1M223.9 548.7h1M210.7 555.2h1M218.7 555.2h1M218.4 563.3h1M224.6 522.3h1M227.5 522.1h1M214.1 562.5h1M217.1 551.6h1M215.2 554.7h1M221.7 548.1h1M225.0 530.9h1M223.5 541.5h1M214.4 554.2h1M214.9 574.2h1M219.7 554.2h1M223.2 547.7h1M211.1 559.2h1M216.9 544.2h1M214.3 556.2h1M220.0 544.5h1M218.0 549.7h1M218.3 550.3h1M221.6 543.5h1M226.4 530.9h1M224.8 538.6h1M222.4 537.6h1M221.8 539.6h1M222.4 540.6h1M215.8 547.0h1M210.2 574.1h1M212.1 560.7h1M218.8 529.8h1M217.2 554.4h1M223.5 544.2h1M214.9 551.0h1M225.8 532.8h1M212.3 576.5h1M213.3 543.5h1M225.8 518.2h1M216.3 554.9h1M215.1 557.4h1M223.2 550.6h1M209.5 567.3h1M214.9 553.2h1M214.3 563.2h1M212.9 545.3h1M211.9 560.8h1M218.2 542.8h1M226.2 547.7h1M223.4 519.0h1M217.6 560.6h1M219.9 554.3h1M226.7 529.8h1M208.7 563.3h1M211.7 555.0h1M210.0 568.3h1M213.9 553.2h1M226.1 534.4h1M214.7 557.0h1M210.1 563.5h1M215.6 549.6h1M218.2 544.4h1M223.4 532.6h1M222.3 554.3h1M226.9 524.6h1M221.3 552.6h1M229.5 523.6h1M218.2 556.1h1M217.7 545.5h1M215.3 552.8h1M218.0 566.3h1M213.9 558.0h1M223.7 536.0h1M219.3 550.1h1M208.9 556.1h1M219.2 545.0h1M212.6 563.0h1M211.9 557.2h1M220.7 542.5h1M209.7 568.2h1M222.4 548.0h1M219.1 564.9h1M220.6 559.6h1M210.8 560.8h1M212.2 557.3h1M212.8 563.6h1M214.5 559.7h1M209.2 567.0h1M220.6 552.4h1M218.1 541.9h1M221.3 557.9h1M212.7 567.6h1M210.6 568.3h1M225.9 525.4h1M215.7 549.9h1M211.0 554.7h1M217.1 543.6h1M224.9 534.6h1M226.3 531.3h1M213.1 575.3h1M225.4 520.8h1M215.6 547.7h1M221.9 551.2h1M224.7 524.8h1M212.4 552.4h1M222.8 540.0h1M226.1 528.9h1M217.2 549.0h1M221.7 537.7h1M217.0 543.6h1M222.6 553.8h1M210.9 567.0h1M220.7 555.6h1M213.4 557.1h1M225.8 531.5h1M211.9 553.8h1M222.4 553.1h1M226.5 531.8h1M213.7 549.5h1M220.0 539.9h1M223.1 549.2h1M210.2 560.6h1M224.5 534.9h1M220.6 558.3h1M211.8 571.5h1M226.2 528.5h1M217.3 556.9h1M224.7 532.9h1M223.7 555.1h1M216.2 553.8h1M219.7 549.8h1M211.0 565.4h1M210.9 550.9h1M216.5 568.8h1M224.2 534.8h1M212.2 565.4h1M223.8 550.6h1M217.0 553.3h1M225.8 518.9h1" stroke="#DC3912" stroke-width="1" fill="none"/>
<path d="M241.0 424.4h1M243.1 420.5h1M241.9 422.9h1M243.4 418.5h1" stroke="#316395" stroke-width="1" fill="none"/>
<path d="M208.0 398.3h1M209.9 402.0h1M208.0 413.2h1M207.6 401.0h1M208.9 409.4h1M209.1 406.6h1M207.3 399.6h1M207.3 411.9h1M207.5 405.5h1M208.4 402.8h1M207.4 410.9h1M209.0 395.5h1M207.0 403.3h1M207.7 408.9h1M208.4 411.1h1M208.7 393.0h1M208.9 402.2h1M209.0 412.3h1M206.5 409.7h1M207.8 404.4h1M205.8 413.4h1M209.1 407.8h1M207.9 400.4h1M208.6 392.8h1M207.7 404.6h1" stroke="#3366CC" stroke-width="1" fill="none"/>
<path d="M163.3 414.2h1M176.5 411.6h1M167.6 414.3h1M168.1 412.5h1M163.3 416.9h1M175.3 426.2h1M169.8 414.0h1M160.7 419.7h1M177.5 425.3h1M168.2 413.1h1M172.4 413.4h1M171.1 412.1h1M176.3 426.6h1M181.5 421.2h1M172.6 413.1h1M167.5 426.2h1M168.9 413.2h1M173.4 425.2h1M176.4 425.3h1M182.0 419.5h1M181.7 413.9h1M163.5 418.1h1M164.3 415.7h1" stroke="#0099C6" stroke-width="1" fill="none"/>
<path d="M166.4 398.9h1M166.4 411.2h1M168.2 398.7h1M184.3 401.6h1M168.5 407.0h1M176.3 397.4h1M177.5 404.0h1M154.0 413.4h1M168.7 413.2h1M172.0 411.2h1M155.5 402.0h1M162.0 409.2h1M189.7 403.1h1M161.1 408.2h1M166.6 404.7h1M145.4 407.0h1M155.7 417.6h1M171.1 416.0h1M151.1 408.8h1M166.5 398.3h1M180.6 398.4h1M157.1 414.7h1" stroke="#109618" stroke-width="1" fill="none"/>
<path d="M203.0 511.6h1M192.5 473.7h1M202.9 481.8h1M195.5 478.1h1M201.6 511.4h1M168.3 482.3h1M171.9 484.7h1M195.0 477.3h1M161.8 494.3h1M205.2 513.0h1M170.2 503.4h1M173.1 506.0h1M194.3 511.4h1M185.6 513.1h1M206.4 515.6h1M168.6 500.9h1M212.0 502.0h1M195.7 511.5h1M173.6 484.1h1M215.3 500.8h1M192.2 512.2h1M191.3 514.4h1M197.6 511.3h1M213.3 507.0h1M183.9 520.7h1M182.8 518.4h1M180.5 512.6h1M205.6 488.2h1M200.2 512.6h1M208.2 487.4h1M170.0 506.4h1M166.3 497.8h1M209.2 485.3h1M212.3 506.9h1M203.6 485.9h1M182.5 478.1h1M192.6 512.0h1M199.6 482.8h1M207.3 511.7h1M176.2 510.1h1M210.6 507.6h1M195.5 512.9h1M199.8 511.9h1M199.1 518.4h1M170.5 484.8h1M199.0 479.3h1M202.2 483.4h1M206.8 489.5h1M206.5 488.1h1M176.4 481.9h1M170.2 507.2h1M213.1 508.9h1M214.1 508.8h1M165.7 498.1h1M180.4 511.3h1M193.0 511.5h1M181.3 510.9h1M166.6 488.3h1M169.2 501.5h1M180.3 479.1h1M169.1 487.9h1M205.9 513.7h1M198.0 511.8h1M198.6 515.0h1M211.5 508.0h1M200.4 511.6h1M177.9 481.7h1M206.3 512.9h1M207.5 510.5h1M178.4 509.5h1M171.8 504.6h1M159.1 489.1h1M180.5 478.0h1M166.6 496.3h1M211.6 497.8h1M174.2 483.0h1" stroke="#FF9900" stroke-width="1" fill="none"/>
<path d="M218.0 447.0h1M204.3 440.9h1M206.5 434.0h1M208.3 422.0h1M214.6 457.8h1M213.6 450.3h1M207.8 440.3h1M213.4 461.7h1M214.2 450.4h1M215.5 448.3h1M204.3 421.9h1M202.7 440.0h1M212.2 458.5h1M204.6 459.2h1M202.4 436.4h1M216.0 462.1h1M212.2 452.3h1M213.9 454.6h1M214.2 459.4h1M203.0 437.9h1M207.1 445.7h1M201.7 426.7h1M211.8 460.9h1M203.6 440.7h1M206.1 422.5h1M207.6 434.3h1M205.9 449.0h1M202.4 449.5h1M207.1 443.6h1M206.7 430.7h1M203.5 416.7h1M210.3 441.0h1M211.2 445.4h1M202.3 428.9h1M204.7 445.4h1M204.6 424.9h1M212.1 448.4h1M205.8 442.5h1M210.2 453.8h1M203.5 452.2h1M209.6 435.5h1M213.7 450.5h1M211.1 448.4h1M210.4 460.1h1" stroke="#66AA00" stroke-width="1" fill="none"/>
<path d="M166.4 397.5h1M156.3 412.2h1M136.6 414.7h1M156.7 405.0h1M182.7 390.9h1M174.6 395.6h1M166.7 393.6h1M153.0 393.7h1M144.1 410.2h1M174.6 389.3h1M177.9 386.8h1M151.9 410.3h1M150.8 404.2h1M163.7 404.2h1M171.6 384.8h1M138.0 413.2h1M133.3 420.9h1M155.0 411.0h1M173.9 392.1h1M179.6 389.7h1M154.8 407.9h1M164.4 400.2h1M148.9 406.6h1M139.1 420.2h1M133.7 417.2h1M161.6 391.3h1M171.1 384.9h1M139.2 419.7h1M158.5 411.9h1M168.5 389.1h1M141.6 421.4h1M176.5 387.0h1M166.5 399.7h1M140.4 414.4h1M167.0 393.1h1M172.4 386.9h1M160.2 397.2h1M155.5 410.8h1M158.0 406.3h1M141.5 414.0h1M169.1 390.3h1M148.1 414.0h1M166.1 403.4h1M158.8 399.2h1M168.3 394.3h1M172.5 384.1h1M181.4 387.0h1M160.0 395.9h1M161.9 393.6h1M166.7 392.3h1M181.7 391.6h1M148.1 418.2h1M156.2 405.1h1M155.8 397.5h1M166.4 396.8h1M170.1 385.7h1M154.0 411.7h1M142.2 421.0h1M161.3 399.4h1M142.4 417.4h1M180.7 391.3h1M142.0 419.1h1M169.6 386.3h1M141.6 414.3h1M180.3 392.9h1" stroke="#109618" stroke-width="1" fill="none"/>
<path d="M146.0 415.5h1M145.4 416.8h1M142.8 416.0h1M178.9 376.7h1M183.5 381.4h1M177.0 375.9h1M162.4 393.1h1M183.7 382.7h1M155.7 399.6h1M182.0 386.3h1M142.3 418.3h1M156.6 398.9h1M174.1 385.0h1M141.7 402.7h1M159.8 378.6h1M155.3 400.9h1M169.9 373.0h1M180.4 386.4h1M155.2 403.8h1M172.8 386.3h1M161.4 393.2h1M174.7 385.0h1M136.3 412.3h1M175.0 374.9h1M148.3 391.4h1M139.8 414.6h1M169.0 387.8h1M150.0 409.7h1M181.1 386.2h1M147.0 413.2h1M141.9 418.2h1M157.7 381.6h1M138.7 415.4h1M135.7 415.4h1M183.2 384.9h1M157.6 382.1h1M181.4 377.6h1M175.7 386.9h1M157.6 382.0h1M136.9 412.2h1" stroke="#109618" stroke-width="1" fill="none"/>
<path d="M240.5 386.3h1M240.5 402.4h1M248.6 402.6h1M247.9 394.3h1M248.8 396.7h1M247.1 391.8h1M247.1 391.5h1M250.3 400.5h1M234.9 397.6h1M249.1 402.9h1M249.4 396.1h1" stroke="#316395" stroke-width="1" fill="none"/>
<path d="M178.8 478.9h1M187.9 513.9h1M207.8 490.5h1M205.6 487.7h1M213.5 502.7h1M195.4 477.2h1M176.6 508.4h1M199.9 483.4h1M211.5 494.3h1M177.6 512.7h1M165.8 493.1h1M210.9 508.3h1M190.5 474.5h1M163.3 500.6h1M186.5 475.0h1M212.3 504.8h1M209.4 511.7h1M196.9 477.6h1M204.6 476.6h1M168.8 487.0h1M172.7 485.1h1M166.2 492.4h1M174.1 483.6h1M201.5 483.2h1M168.3 504.3h1M208.2 487.0h1M215.3 500.9h1M171.2 504.9h1M195.6 477.4h1M181.6 514.8h1M211.4 500.4h1M200.8 483.3h1M198.9 482.1h1M196.5 479.7h1M177.5 509.8h1M192.4 514.4h1M167.3 503.4h1M163.8 496.9h1M212.5 501.3h1M206.8 487.5h1M202.8 479.5h1M176.2 482.1h1M170.4 486.6h1M210.4 496.9h1M190.7 469.7h1M173.9 507.9h1M165.4 495.7h1M166.3 494.9h1M197.2 479.8h1M168.8 511.0h1M182.9 474.9h1M210.6 494.5h1M165.3 492.0h1M212.1 507.7h1M172.7 485.2h1M176.3 479.3h1M204.5 487.2h1M175.5 479.6h1M193.3 510.9h1M204.5 487.6h1M169.1 503.5h1M174.6 483.0h1M211.2 499.1h1M165.2 499.9h1M216.7 514.3h1M164.3 492.9h1M195.9 475.2h1M175.8 481.6h1M195.8 473.2h1M192.4 467.1h1M205.3 486.8h1M187.3 514.1h1M181.3 478.7h1M198.4 511.3h1M179.0 480.2h1M168.8 501.1h1" stroke="#FF9900" stroke-width="1" fill="none"/>
<path d="M107.2 517.5h1M138.9 504.6h1M164.8 478.5h1M48.2 490.2h1M78.5 507.4h1M166.4 483.6h1M93.2 511.2h1M100.4 515.5h1M154.8 508.0h1M77.9 454.5h1M97.6 514.6h1M112.8 515.9h1M59.0 500.8h1M62.2 472.6h1M51.6 481.5h1M122.5 414.1h1M144.0 502.3h1M164.6 510.9h1M156.7 420.1h1M172.4 426.9h1M76.3 456.9h1M113.1 515.6h1M57.6 500.4h1M152.0 506.6h1M116.0 413.0h1M136.0 505.0h1M167.9 453.0h1M102.9 515.5h1M61.4 501.3h1M66.9 502.5h1M159.0 419.7h1M82.2 449.1h1M48.7 493.4h1M167.5 453.9h1M99.5 432.5h1M164.8 421.6h1M118.8 513.1h1M164.3 508.3h1M165.1 466.8h1M50.4 497.9h1M75.4 459.1h1M123.7 415.4h1M172.8 441.5h1M149.1 505.1h1M114.0 516.6h1M171.0 448.9h1M98.9 513.9h1M82.4 444.9h1M80.3 507.2h1M65.6 469.8h1M48.4 490.4h1M50.7 497.9h1M95.2 520.7h1M141.1 426.2h1M99.4 432.2h1M65.9 502.0h1M164.5 461.3h1M166.0 497.3h1M165.0 500.3h1M135.3 505.0h1M166.7 456.6h1M126.2 421.7h1M168.9 451.7h1M61.0 501.8h1M130.8 507.2h1M163.9 510.2h1M116.6 516.8h1M74.0 460.8h1M155.2 514.3h1M101.4 425.3h1M122.4 512.2h1M45.3 480.5h1M48.6 484.6h1M166.4 457.2h1M159.1 512.7h1M144.3 424.7h1M104.3 425.4h1M88.1 508.9h1M73.2 461.3h1M51.2 482.7h1M49.3 497.7h1M140.0 504.1h1M142.4 424.6h1M99.9 431.0h1M71.0 504.4h1M63.1 472.4h1M139.9 424.5h1M173.8 436.0h1M166.0 497.7h1M171.9 427.4h1M98.5 433.2h1M105.3 517.0h1M165.5 496.4h1M163.7 465.2h1M163.5 472.7h1M164.6 509.0h1M126.3 421.5h1M113.1 414.3h1M149.4 506.1h1M171.0 459.4h1M74.9 505.5h1M55.5 499.3h1M76.4 457.6h1M78.7 508.2h1M114.8 414.7h1M156.8 419.2h1M165.6 457.8h1M157.8 511.3h1M115.2 409.0h1M48.7 488.8h1M59.1 476.2h1M93.9 438.4h1M164.6 420.7h1M74.9 459.1h1M127.9 425.6h1M151.2 419.9h1M129.0 426.8h1M157.9 511.4h1M166.7 496.2h1M159.7 514.2h1M77.1 454.8h1M111.3 515.9h1M164.0 507.7h1M76.2 505.6h1" stroke="#990099" stroke-width="1" fill="none"/>
<path d="M239.4 441.7h1M240.8 430.8h1" stroke="#316395" stroke-width="1" fill="none"/>
<path d="M205.5 422.5h1M219.6 460.0h1M217.3 453.5h1M213.6 448.8h1M210.2 445.4h1M213.5 449.1h1M207.0 426.8h1M218.5 457.5h1M208.8 426.1h1M210.5 434.9h1M218.9 459.4h1M205.4 417.5h1M204.6 416.5h1M205.4 424.7h1M205.3 420.6h1M205.5 419.0h1M211.4 442.3h1M216.7 453.7h1M203.4 416.6h1M208.7 433.1h1M212.8 447.4h1M218.1 454.4h1M219.5 462.1h1M212.8 447.2h1M207.0 422.8h1M208.8 435.3h1M214.3 442.7h1M204.6 416.0h1M209.7 432.1h1M220.0 449.4h1M206.9 414.4h1M219.6 461.0h1M209.9 437.0h1M209.1 431.1h1M217.9 452.6h1M204.4 415.5h1M219.9 453.2h1M205.6 418.7h1M219.4 460.7h1M207.3 425.5h1M212.8 442.1h1M214.1 446.7h1M210.2 446.0h1M216.7 457.1h1M216.1 456.9h1M212.8 441.6h1M211.3 439.6h1M217.3 456.9h1M212.3 441.3h1M205.1 417.0h1M210.3 435.1h1M207.8 429.0h1M206.1 418.9h1M216.8 458.1h1M208.5 430.0h1M212.2 449.3h1M206.5 425.1h1M218.8 463.0h1M213.1 451.7h1" stroke="#66AA00" stroke-width="1" fill="none"/>
<path d="M205.9 459.9h1M201.8 449.4h1M203.8 455.4h1M205.8 428.5h1M211.7 460.3h1M201.9 439.8h1M200.6 449.9h1M205.8 420.3h1M203.7 427.2h1M206.6 437.8h1M212.7 443.8h1M207.0 436.3h1M205.4 419.3h1M203.2 426.9h1M201.7 432.2h1M209.8 457.2h1M215.2 463.9h1M207.0 445.1h1M208.6 453.5h1M207.3 456.5h1M202.5 429.3h1M212.1 464.0h1M209.9 463.9h1M205.7 451.3h1M210.6 449.7h1M211.8 448.1h1M213.6 461.5h1M213.2 455.8h1M213.1 458.2h1M204.3 431.2h1M208.9 439.2h1M206.2 444.2h1M202.2 445.9h1M201.9 432.5h1M207.0 437.2h1M205.9 434.1h1M211.3 451.3h1M205.8 426.5h1M208.6 446.1h1M215.0 453.8h1M206.4 426.3h1M203.1 423.0h1M204.1 440.8h1M216.8 459.6h1M202.0 445.6h1" stroke="#66AA00" stroke-width="1" fill="none"/>
<path d="M147.2 394.1h1M183.1 385.1h1M153.7 386.1h1M183.7 382.2h1M173.2 385.7h1M167.5 375.6h1M144.2 399.5h1M173.9 374.2h1M174.6 375.5h1M141.3 404.4h1M150.4 409.2h1M177.8 385.7h1M155.2 382.2h1M169.2 375.4h1M145.3 398.0h1M156.0 399.4h1M138.4 409.1h1M137.8 414.9h1M180.6 386.3h1M166.7 388.0h1M166.3 375.6h1M141.7 403.8h1M163.3 376.1h1M160.3 379.4h1M147.2 393.9h1M159.2 397.6h1M159.4 395.5h1M148.8 409.4h1M178.0 388.1h1M151.3 384.9h1M164.7 389.6h1M177.9 373.3h1M150.4 407.3h1M152.1 388.2h1M136.6 410.3h1M166.4 375.5h1M151.3 405.3h1M148.8 392.4h1M167.9 375.4h1M149.2 410.7h1" stroke="#109618" stroke-width="1" fill="none"/>
<rect x="114.7" y="363.5" width="59.3" height="11.5" rx="1.6" fill="#109618"/><text x="144.3" y="371.6" text-anchor="middle" font-size="8.25" font-weight="bold" fill="#fff" stroke="#fff" stroke-width="0.2">Naive Tregs</text>
<rect x="179.2" y="364.2" width="77.4" height="10.5" rx="1.6" fill="#3366CC"/><text x="217.9" y="371.8" text-anchor="middle" font-size="8.25" font-weight="bold" fill="#fff" stroke="#fff" stroke-width="0.2">Activated Tregs</text>
<rect x="209.1" y="403.5" width="46.9" height="10.6" rx="1.6" fill="#316395"/><text x="232.6" y="411.2" text-anchor="middle" font-size="8.25" font-weight="bold" fill="#fff" stroke="#fff" stroke-width="0.2">Unknown</text>
<rect x="81.2" y="475.0" width="52.1" height="11.9" rx="1.6" fill="#990099" stroke="#fff" stroke-opacity="0.6" stroke-width="0.7"/><text x="107.2" y="483.3" text-anchor="middle" font-size="8.25" font-weight="bold" fill="#fff" stroke="#fff" stroke-width="0.2">Tcm/Naive</text>
<rect x="175.9" y="447.2" width="20.5" height="11.1" rx="1.6" fill="#0099C6" stroke="#fff" stroke-opacity="0.6" stroke-width="0.7"/><text x="186.2" y="455.1" text-anchor="middle" font-size="8.25" font-weight="bold" fill="#fff" stroke="#fff" stroke-width="0.2">Tfh</text>
<rect x="211.4" y="467.4" width="27.3" height="10.9" rx="1.6" fill="#66AA00" stroke="#fff" stroke-opacity="0.6" stroke-width="0.7"/><text x="225.1" y="475.2" text-anchor="middle" font-size="8.25" font-weight="bold" fill="#fff" stroke="#fff" stroke-width="0.2">Th17</text>
<rect x="171.5" y="497.2" width="21.4" height="11.4" rx="1.6" fill="#FF9900" stroke="#fff" stroke-opacity="0.6" stroke-width="0.7"/><text x="182.2" y="505.3" text-anchor="middle" font-size="8.25" font-weight="bold" fill="#fff" stroke="#fff" stroke-width="0.2">Th2</text>
<rect x="183.6" y="526.5" width="21.7" height="11.4" rx="1.6" fill="#DD4477" stroke="#fff" stroke-opacity="0.6" stroke-width="0.7"/><text x="194.4" y="534.6" text-anchor="middle" font-size="8.25" font-weight="bold" fill="#fff" stroke="#fff" stroke-width="0.2">Th1</text>
<rect x="210.9" y="536.1" width="42.2" height="11.4" rx="1.6" fill="#DC3912" stroke="#fff" stroke-opacity="0.6" stroke-width="0.7"/><text x="232.0" y="544.1" text-anchor="middle" font-size="8.25" font-weight="bold" fill="#fff" stroke="#fff" stroke-width="0.2">CD4 CTL</text></g>
<g id="axes"><path d="M39.1 58V280.2H260" stroke="#3a3a3a" stroke-width="1.1" fill="none"/>
<path d="M36.6 61.0H39.1" stroke="#3a3a3a" stroke-width="1.1" fill="none"/>
<text x="33.8" y="64.2" text-anchor="end" font-size="8.9" font-weight="bold" fill="#111" stroke="#111" stroke-width="0.25">8</text>
<path d="M36.6 118.1H39.1" stroke="#3a3a3a" stroke-width="1.1" fill="none"/>
<text x="33.8" y="121.3" text-anchor="end" font-size="8.9" font-weight="bold" fill="#111" stroke="#111" stroke-width="0.25">4</text>
<path d="M36.6 175.2H39.1" stroke="#3a3a3a" stroke-width="1.1" fill="none"/>
<text x="33.8" y="178.4" text-anchor="end" font-size="8.9" font-weight="bold" fill="#111" stroke="#111" stroke-width="0.25">0</text>
<path d="M36.6 232.3H39.1" stroke="#3a3a3a" stroke-width="1.1" fill="none"/>
<text x="33.8" y="235.5" text-anchor="end" font-size="8.9" font-weight="bold" fill="#111" stroke="#111" stroke-width="0.25">-4</text>
<path d="M39.2 280.2V282.7" stroke="#3a3a3a" stroke-width="1.1" fill="none"/>
<text x="38.6" y="289.9" text-anchor="middle" font-size="8.9" font-weight="bold" fill="#111" stroke="#111" stroke-width="0.25">-10</text>
<path d="M92.5 280.2V282.7" stroke="#3a3a3a" stroke-width="1.1" fill="none"/>
<text x="91.9" y="289.9" text-anchor="middle" font-size="8.9" font-weight="bold" fill="#111" stroke="#111" stroke-width="0.25">-5</text>
<path d="M145.8 280.2V282.7" stroke="#3a3a3a" stroke-width="1.1" fill="none"/>
<text x="145.8" y="289.9" text-anchor="middle" font-size="8.9" font-weight="bold" fill="#111" stroke="#111" stroke-width="0.25">0</text>
<path d="M199.1 280.2V282.7" stroke="#3a3a3a" stroke-width="1.1" fill="none"/>
<text x="199.1" y="289.9" text-anchor="middle" font-size="8.9" font-weight="bold" fill="#111" stroke="#111" stroke-width="0.25">5</text>
<path d="M252.4 280.2V282.7" stroke="#3a3a3a" stroke-width="1.1" fill="none"/>
<text x="252.4" y="289.9" text-anchor="middle" font-size="8.9" font-weight="bold" fill="#111" stroke="#111" stroke-width="0.25">10</text>
<path d="M317 58.7V280.2H537.2" stroke="#3a3a3a" stroke-width="1.1" fill="none"/>
<path d="M314.5 76.6H317" stroke="#3a3a3a" stroke-width="1.1" fill="none"/>
<text x="311.7" y="79.8" text-anchor="end" font-size="8.9" font-weight="bold" fill="#111" stroke="#111" stroke-width="0.25">6</text>
<path d="M314.5 127.8H317" stroke="#3a3a3a" stroke-width="1.1" fill="none"/>
<text x="311.7" y="130.9" text-anchor="end" font-size="8.9" font-weight="bold" fill="#111" stroke="#111" stroke-width="0.25">3</text>
<path d="M314.5 178.9H317" stroke="#3a3a3a" stroke-width="1.1" fill="none"/>
<text x="311.7" y="182.1" text-anchor="end" font-size="8.9" font-weight="bold" fill="#111" stroke="#111" stroke-width="0.25">0</text>
<path d="M314.5 230.1H317" stroke="#3a3a3a" stroke-width="1.1" fill="none"/>
<text x="311.7" y="233.2" text-anchor="end" font-size="8.9" font-weight="bold" fill="#111" stroke="#111" stroke-width="0.25">-3</text>
<path d="M319.1 280.2V282.7" stroke="#3a3a3a" stroke-width="1.1" fill="none"/>
<text x="318.5" y="289.9" text-anchor="middle" font-size="8.9" font-weight="bold" fill="#111" stroke="#111" stroke-width="0.25">-8</text>
<path d="M378.5 280.2V282.7" stroke="#3a3a3a" stroke-width="1.1" fill="none"/>
<text x="377.9" y="289.9" text-anchor="middle" font-size="8.9" font-weight="bold" fill="#111" stroke="#111" stroke-width="0.25">-4</text>
<path d="M437.9 280.2V282.7" stroke="#3a3a3a" stroke-width="1.1" fill="none"/>
<text x="437.9" y="289.9" text-anchor="middle" font-size="8.9" font-weight="bold" fill="#111" stroke="#111" stroke-width="0.25">0</text>
<path d="M497.3 280.2V282.7" stroke="#3a3a3a" stroke-width="1.1" fill="none"/>
<text x="497.3" y="289.9" text-anchor="middle" font-size="8.9" font-weight="bold" fill="#111" stroke="#111" stroke-width="0.25">4</text>
<path d="M39.1 364.6V586.2H260" stroke="#3a3a3a" stroke-width="1.1" fill="none"/>
<path d="M36.6 368.7H39.1" stroke="#3a3a3a" stroke-width="1.1" fill="none"/>
<text x="33.8" y="371.9" text-anchor="end" font-size="8.9" font-weight="bold" fill="#111" stroke="#111" stroke-width="0.25">6</text>
<path d="M36.6 418.5H39.1" stroke="#3a3a3a" stroke-width="1.1" fill="none"/>
<text x="33.8" y="421.7" text-anchor="end" font-size="8.9" font-weight="bold" fill="#111" stroke="#111" stroke-width="0.25">3</text>
<path d="M36.6 468.2H39.1" stroke="#3a3a3a" stroke-width="1.1" fill="none"/>
<text x="33.8" y="471.4" text-anchor="end" font-size="8.9" font-weight="bold" fill="#111" stroke="#111" stroke-width="0.25">0</text>
<path d="M36.6 517.9H39.1" stroke="#3a3a3a" stroke-width="1.1" fill="none"/>
<text x="33.8" y="521.1" text-anchor="end" font-size="8.9" font-weight="bold" fill="#111" stroke="#111" stroke-width="0.25">-3</text>
<path d="M36.6 567.7H39.1" stroke="#3a3a3a" stroke-width="1.1" fill="none"/>
<text x="33.8" y="570.9" text-anchor="end" font-size="8.9" font-weight="bold" fill="#111" stroke="#111" stroke-width="0.25">-6</text>
<path d="M54.1 586.2V588.7" stroke="#3a3a3a" stroke-width="1.1" fill="none"/>
<text x="53.5" y="596.6" text-anchor="middle" font-size="8.9" font-weight="bold" fill="#111" stroke="#111" stroke-width="0.25">-10</text>
<path d="M102.2 586.2V588.7" stroke="#3a3a3a" stroke-width="1.1" fill="none"/>
<text x="101.7" y="596.6" text-anchor="middle" font-size="8.9" font-weight="bold" fill="#111" stroke="#111" stroke-width="0.25">-5</text>
<path d="M150.4 586.2V588.7" stroke="#3a3a3a" stroke-width="1.1" fill="none"/>
<text x="150.4" y="596.6" text-anchor="middle" font-size="8.9" font-weight="bold" fill="#111" stroke="#111" stroke-width="0.25">0</text>
<path d="M198.6 586.2V588.7" stroke="#3a3a3a" stroke-width="1.1" fill="none"/>
<text x="198.6" y="596.6" text-anchor="middle" font-size="8.9" font-weight="bold" fill="#111" stroke="#111" stroke-width="0.25">5</text>
<path d="M246.7 586.2V588.7" stroke="#3a3a3a" stroke-width="1.1" fill="none"/>
<text x="246.7" y="596.6" text-anchor="middle" font-size="8.9" font-weight="bold" fill="#111" stroke="#111" stroke-width="0.25">10</text>
<text x="149" y="301.2" font-size="10.3" font-weight="bold" fill="#111" stroke="#111" stroke-width="0.3" text-anchor="middle">UMAP 1</text>
<text x="429" y="301.2" font-size="10.3" font-weight="bold" fill="#111" stroke="#111" stroke-width="0.3" text-anchor="middle">UMAP 1</text>
<text x="149" y="607" font-size="10.3" font-weight="bold" fill="#111" stroke="#111" stroke-width="0.3" text-anchor="middle">UMAP 1</text>
<text transform="translate(18.5,170) rotate(-90)" font-size="10.3" font-weight="bold" fill="#111" stroke="#111" stroke-width="0.3" text-anchor="middle">UMAP 2</text>
<text transform="translate(296.5,170) rotate(-90)" font-size="10.3" font-weight="bold" fill="#111" stroke="#111" stroke-width="0.3" text-anchor="middle">UMAP 2</text>
<text transform="translate(18.5,476) rotate(-90)" font-size="10.3" font-weight="bold" fill="#111" stroke="#111" stroke-width="0.3" text-anchor="middle">UMAP 2</text>
<text x="147.7" y="38.5" text-anchor="middle" font-size="20.7" font-weight="bold" fill="#111" stroke="#111" stroke-width="0.3">10X</text>
<text x="352" y="38.4" font-size="20.7" font-weight="bold" fill="#111" stroke="#111" stroke-width="0.3" textLength="145.3" lengthAdjust="spacingAndGlyphs">HT Smart-seq3</text>
<text x="-0.3" y="12.7" font-size="23.2" font-weight="bold" fill="#111" stroke="#111" stroke-width="0.3">a</text>
<text x="-0.6" y="337.6" font-size="23.2" font-weight="bold" fill="#111" stroke="#111" stroke-width="0.3">b</text>
<text x="273.2" y="337.5" font-size="23.2" font-weight="bold" fill="#111" stroke="#111" stroke-width="0.3">c</text></g>
<g id="bars"><path d="M325.3 579.2H573.5" stroke="#ebebeb" stroke-width="0.8"/>
<path d="M325.3 526.9H573.5" stroke="#ebebeb" stroke-width="0.8"/>
<path d="M325.3 474.5H573.5" stroke="#ebebeb" stroke-width="0.8"/>
<path d="M325.3 422.2H573.5" stroke="#ebebeb" stroke-width="0.8"/>
<path d="M325.3 369.8H573.5" stroke="#ebebeb" stroke-width="0.8"/>
<path d="M325.3 553.0H573.5" stroke="#f4f4f4" stroke-width="0.5"/>
<path d="M325.3 500.7H573.5" stroke="#f4f4f4" stroke-width="0.5"/>
<path d="M325.3 448.3H573.5" stroke="#f4f4f4" stroke-width="0.5"/>
<path d="M325.3 396.0H573.5" stroke="#f4f4f4" stroke-width="0.5"/>
<path d="M392.8 359.5V589.8" stroke="#ebebeb" stroke-width="0.8"/>
<path d="M505.9 359.5V589.8" stroke="#ebebeb" stroke-width="0.8"/>
<path d="M411.9 369.8C449.5 369.8 449.5 369.8 487.2 369.8V371.7C449.5 371.7 449.5 374.4 411.9 374.4Z" fill="#316395" fill-opacity="0.5"/>
<path d="M411.9 374.4C449.5 374.4 449.5 371.7 487.2 371.7V376.9C449.5 376.9 449.5 379.6 411.9 379.6Z" fill="#DC3912" fill-opacity="0.5"/>
<path d="M411.9 379.6C449.5 379.6 449.5 376.9 487.2 376.9V381.7C449.5 381.7 449.5 386.6 411.9 386.6Z" fill="#3366CC" fill-opacity="0.5"/>
<path d="M411.9 386.6C449.5 386.6 449.5 381.7 487.2 381.7V394.3C449.5 394.3 449.5 395.6 411.9 395.6Z" fill="#109618" fill-opacity="0.5"/>
<path d="M411.9 395.6C449.5 395.6 449.5 394.3 487.2 394.3V405.6C449.5 405.6 449.5 410.4 411.9 410.4Z" fill="#66AA00" fill-opacity="0.5"/>
<path d="M411.9 410.4C449.5 410.4 449.5 405.6 487.2 405.6V419.0C449.5 419.0 449.5 423.2 411.9 423.2Z" fill="#FF9900" fill-opacity="0.5"/>
<path d="M411.9 423.2C449.5 423.2 449.5 419.0 487.2 419.0V425.1C449.5 425.1 449.5 439.3 411.9 439.3Z" fill="#DD4477" fill-opacity="0.5"/>
<path d="M411.9 439.3C449.5 439.3 449.5 425.1 487.2 425.1V449.2C449.5 449.2 449.5 465.3 411.9 465.3Z" fill="#0099C6" fill-opacity="0.5"/>
<path d="M411.9 465.3C449.5 465.3 449.5 449.2 487.2 449.2V579.2C449.5 579.2 449.5 579.2 411.9 579.2Z" fill="#990099" fill-opacity="0.5"/>
<rect x="374.0" y="369.8" width="37.9" height="4.6" fill="#316395" stroke="#111" stroke-width="0.9"/>
<rect x="374.0" y="374.4" width="37.9" height="5.2" fill="#DC3912" stroke="#111" stroke-width="0.9"/>
<rect x="374.0" y="379.6" width="37.9" height="6.9" fill="#3366CC" stroke="#111" stroke-width="0.9"/>
<rect x="374.0" y="386.6" width="37.9" height="9.0" fill="#109618" stroke="#111" stroke-width="0.9"/>
<rect x="374.0" y="395.6" width="37.9" height="14.9" fill="#66AA00" stroke="#111" stroke-width="0.9"/>
<rect x="374.0" y="410.4" width="37.9" height="12.8" fill="#FF9900" stroke="#111" stroke-width="0.9"/>
<rect x="374.0" y="423.2" width="37.9" height="16.1" fill="#DD4477" stroke="#111" stroke-width="0.9"/>
<rect x="374.0" y="439.3" width="37.9" height="26.0" fill="#0099C6" stroke="#111" stroke-width="0.9"/>
<rect x="374.0" y="465.3" width="37.9" height="113.9" fill="#990099" stroke="#111" stroke-width="0.9"/>
<rect x="487.2" y="369.8" width="37.4" height="1.9" fill="#316395" stroke="#111" stroke-width="0.9"/>
<rect x="487.2" y="371.7" width="37.4" height="5.2" fill="#DC3912" stroke="#111" stroke-width="0.9"/>
<rect x="487.2" y="376.9" width="37.4" height="4.8" fill="#3366CC" stroke="#111" stroke-width="0.9"/>
<rect x="487.2" y="381.7" width="37.4" height="12.6" fill="#109618" stroke="#111" stroke-width="0.9"/>
<rect x="487.2" y="394.3" width="37.4" height="11.3" fill="#66AA00" stroke="#111" stroke-width="0.9"/>
<rect x="487.2" y="405.6" width="37.4" height="13.4" fill="#FF9900" stroke="#111" stroke-width="0.9"/>
<rect x="487.2" y="419.0" width="37.4" height="6.1" fill="#DD4477" stroke="#111" stroke-width="0.9"/>
<rect x="487.2" y="425.1" width="37.4" height="24.1" fill="#0099C6" stroke="#111" stroke-width="0.9"/>
<rect x="487.2" y="449.2" width="37.4" height="130.0" fill="#990099" stroke="#111" stroke-width="0.9"/>
<path d="M325.3 359.5V590.2H573.5" stroke="#3a3a3a" stroke-width="1.1" fill="none"/>
<path d="M322.8 579.2H325.3" stroke="#3a3a3a" stroke-width="1.1" fill="none"/>
<text x="319.2" y="582.2" text-anchor="end" font-size="9.1" font-weight="bold" fill="#111" stroke="#111" stroke-width="0.25">0</text>
<path d="M322.8 526.9H325.3" stroke="#3a3a3a" stroke-width="1.1" fill="none"/>
<text x="319.2" y="529.9" text-anchor="end" font-size="9.1" font-weight="bold" fill="#111" stroke="#111" stroke-width="0.25">25</text>
<path d="M322.8 474.5H325.3" stroke="#3a3a3a" stroke-width="1.1" fill="none"/>
<text x="319.2" y="477.5" text-anchor="end" font-size="9.1" font-weight="bold" fill="#111" stroke="#111" stroke-width="0.25">50</text>
<path d="M322.8 422.2H325.3" stroke="#3a3a3a" stroke-width="1.1" fill="none"/>
<text x="319.2" y="425.2" text-anchor="end" font-size="9.1" font-weight="bold" fill="#111" stroke="#111" stroke-width="0.25">75</text>
<path d="M322.8 369.8H325.3" stroke="#3a3a3a" stroke-width="1.1" fill="none"/>
<text x="319.2" y="372.8" text-anchor="end" font-size="9.1" font-weight="bold" fill="#111" stroke="#111" stroke-width="0.25">100</text>
<path d="M393.0 590.2V592.7" stroke="#3a3a3a" stroke-width="1.1" fill="none"/>
<text x="393.0" y="603.5" text-anchor="middle" font-size="10.2" font-weight="bold" fill="#111" stroke="#111" stroke-width="0.25">10X</text>
<path d="M505.9 590.2V592.7" stroke="#3a3a3a" stroke-width="1.1" fill="none"/>
<text x="505.9" y="603.5" text-anchor="middle" font-size="10.2" font-weight="bold" fill="#111" stroke="#111" stroke-width="0.25">HT Smart-seq3</text>
<text transform="translate(296,474.7) rotate(-90)" font-size="11.8" font-weight="bold" fill="#111" stroke="#111" stroke-width="0.3" text-anchor="middle">Percentage of Cells (%)</text>
<rect x="586.4" y="420.4" width="11.4" height="11.9" fill="#316395" stroke="#222" stroke-width="0.8"/>
<text x="603.3" y="428.8" font-size="8.75" fill="#111">Unknown</text>
<rect x="586.4" y="433.0" width="11.4" height="11.9" fill="#DC3912" stroke="#222" stroke-width="0.8"/>
<text x="603.3" y="441.4" font-size="8.75" fill="#111">CD4 CTL</text>
<rect x="586.4" y="445.7" width="11.4" height="11.9" fill="#3366CC" stroke="#222" stroke-width="0.8"/>
<text x="603.3" y="454.1" font-size="8.75" fill="#111">Activated Tregs</text>
<rect x="586.4" y="458.3" width="11.4" height="11.9" fill="#109618" stroke="#222" stroke-width="0.8"/>
<text x="603.3" y="466.8" font-size="8.75" fill="#111">Naive Tregs</text>
<rect x="586.4" y="471.0" width="11.4" height="11.9" fill="#66AA00" stroke="#222" stroke-width="0.8"/>
<text x="603.3" y="479.4" font-size="8.75" fill="#111">Th17</text>
<rect x="586.4" y="483.6" width="11.4" height="11.9" fill="#FF9900" stroke="#222" stroke-width="0.8"/>
<text x="603.3" y="492.1" font-size="8.75" fill="#111">Th2</text>
<rect x="586.4" y="496.3" width="11.4" height="11.9" fill="#DD4477" stroke="#222" stroke-width="0.8"/>
<text x="603.3" y="504.7" font-size="8.75" fill="#111">Th1</text>
<rect x="586.4" y="508.9" width="11.4" height="11.9" fill="#0099C6" stroke="#222" stroke-width="0.8"/>
<text x="603.3" y="517.4" font-size="8.75" fill="#111">Tfh</text>
<rect x="586.4" y="521.6" width="11.4" height="11.9" fill="#990099" stroke="#222" stroke-width="0.8"/>
<text x="603.3" y="530.0" font-size="8.75" fill="#111">Tcm/Naive</text></g>
</svg>
</body></html>
